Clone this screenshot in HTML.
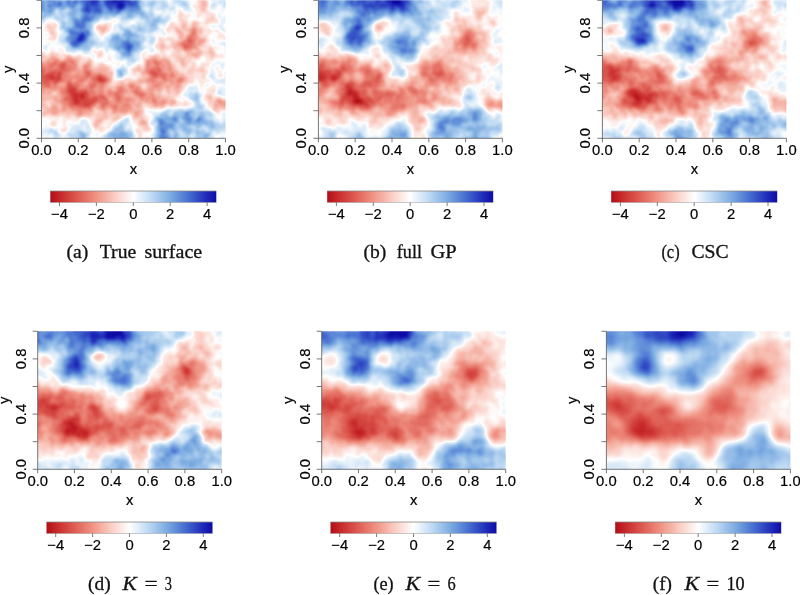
<!DOCTYPE html>
<html><head><meta charset="utf-8"><title>figure</title>
<style>html,body{margin:0;padding:0;background:#fff}svg{display:block;filter:blur(.45px)}text{font-family:"Liberation Sans",sans-serif;fill:#000;stroke:#000;stroke-width:.2px}.cap{font-family:"Liberation Serif",serif;fill:#111;stroke:#111;stroke-width:.3px}.h rect{width:4.90px;height:4.90px}</style></head><body>
<svg width="800" height="595" viewBox="0 0 800 595">
<defs>
<linearGradient id="cb" x1="0" x2="1" y1="0" y2="0"><stop offset="0.0000" stop-color="#af0e18"/><stop offset="0.0556" stop-color="#c62628"/><stop offset="0.1667" stop-color="#de5c52"/><stop offset="0.2778" stop-color="#f09485"/><stop offset="0.3889" stop-color="#facdc3"/><stop offset="0.5000" stop-color="#ffffff"/><stop offset="0.6111" stop-color="#bedaf3"/><stop offset="0.7222" stop-color="#7dace2"/><stop offset="0.8333" stop-color="#466ed0"/><stop offset="0.9444" stop-color="#1e28b9"/><stop offset="1.0000" stop-color="#0e0ca5"/></linearGradient>
<clipPath id="cpa"><rect x="41.5" y="0.3" width="184.0" height="138.0"/></clipPath>
<filter id="fla" filterUnits="userSpaceOnUse" x="29.5" y="-11.7" width="208.0" height="162.0" color-interpolation-filters="sRGB"><feGaussianBlur in="SourceGraphic" stdDeviation="2.0" result="b"/><feTurbulence type="fractalNoise" baseFrequency="0.120" numOctaves="2" seed="7" result="t"/><feColorMatrix in="t" type="matrix" values="1 0 0 0 0 1 0 0 0 0 1 0 0 0 0 0 0 0 0 1" result="n0"/><feGaussianBlur in="n0" stdDeviation="0.8" result="n"/><feComposite in="b" in2="n" operator="arithmetic" k1="0" k2="1" k3="0.300" k4="-0.150" result="v"/><feComponentTransfer><feFuncR type="table" tableValues="0.686 0.686 0.686 0.731 0.776 0.800 0.824 0.847 0.871 0.888 0.906 0.924 0.941 0.951 0.961 0.971 0.980 0.985 0.990 0.995 1.000 0.936 0.873 0.809 0.745 0.681 0.618 0.554 0.490 0.436 0.382 0.328 0.275 0.235 0.196 0.157 0.118 0.086 0.055 0.055 0.055"/><feFuncG type="table" tableValues="0.055 0.055 0.055 0.102 0.149 0.202 0.255 0.308 0.361 0.416 0.471 0.525 0.580 0.636 0.692 0.748 0.804 0.853 0.902 0.951 1.000 0.964 0.927 0.891 0.855 0.810 0.765 0.720 0.675 0.614 0.553 0.492 0.431 0.363 0.294 0.225 0.157 0.102 0.047 0.047 0.047"/><feFuncB type="table" tableValues="0.094 0.094 0.094 0.125 0.157 0.198 0.239 0.280 0.322 0.372 0.422 0.472 0.522 0.582 0.643 0.704 0.765 0.824 0.882 0.941 1.000 0.988 0.976 0.965 0.953 0.936 0.920 0.903 0.886 0.869 0.851 0.833 0.816 0.793 0.771 0.748 0.725 0.686 0.647 0.647 0.647"/></feComponentTransfer></filter>
<clipPath id="cpb"><rect x="318.4" y="0.3" width="184.0" height="138.0"/></clipPath>
<filter id="flb" filterUnits="userSpaceOnUse" x="306.4" y="-11.7" width="208.0" height="162.0" color-interpolation-filters="sRGB"><feGaussianBlur in="SourceGraphic" stdDeviation="2.0" result="b"/><feTurbulence type="fractalNoise" baseFrequency="0.110" numOctaves="2" seed="7" result="t"/><feColorMatrix in="t" type="matrix" values="1 0 0 0 0 1 0 0 0 0 1 0 0 0 0 0 0 0 0 1" result="n0"/><feGaussianBlur in="n0" stdDeviation="0.8" result="n"/><feComposite in="b" in2="n" operator="arithmetic" k1="0" k2="1" k3="0.240" k4="-0.120" result="v"/><feComponentTransfer><feFuncR type="table" tableValues="0.686 0.686 0.686 0.731 0.776 0.800 0.824 0.847 0.871 0.888 0.906 0.924 0.941 0.951 0.961 0.971 0.980 0.985 0.990 0.995 1.000 0.936 0.873 0.809 0.745 0.681 0.618 0.554 0.490 0.436 0.382 0.328 0.275 0.235 0.196 0.157 0.118 0.086 0.055 0.055 0.055"/><feFuncG type="table" tableValues="0.055 0.055 0.055 0.102 0.149 0.202 0.255 0.308 0.361 0.416 0.471 0.525 0.580 0.636 0.692 0.748 0.804 0.853 0.902 0.951 1.000 0.964 0.927 0.891 0.855 0.810 0.765 0.720 0.675 0.614 0.553 0.492 0.431 0.363 0.294 0.225 0.157 0.102 0.047 0.047 0.047"/><feFuncB type="table" tableValues="0.094 0.094 0.094 0.125 0.157 0.198 0.239 0.280 0.322 0.372 0.422 0.472 0.522 0.582 0.643 0.704 0.765 0.824 0.882 0.941 1.000 0.988 0.976 0.965 0.953 0.936 0.920 0.903 0.886 0.869 0.851 0.833 0.816 0.793 0.771 0.748 0.725 0.686 0.647 0.647 0.647"/></feComponentTransfer></filter>
<clipPath id="cpc"><rect x="602.4" y="0.3" width="184.0" height="138.0"/></clipPath>
<filter id="flc" filterUnits="userSpaceOnUse" x="590.4" y="-11.7" width="208.0" height="162.0" color-interpolation-filters="sRGB"><feGaussianBlur in="SourceGraphic" stdDeviation="2.0" result="b"/><feTurbulence type="fractalNoise" baseFrequency="0.110" numOctaves="2" seed="7" result="t"/><feColorMatrix in="t" type="matrix" values="1 0 0 0 0 1 0 0 0 0 1 0 0 0 0 0 0 0 0 1" result="n0"/><feGaussianBlur in="n0" stdDeviation="0.8" result="n"/><feComposite in="b" in2="n" operator="arithmetic" k1="0" k2="1" k3="0.240" k4="-0.120" result="v"/><feComponentTransfer><feFuncR type="table" tableValues="0.686 0.686 0.686 0.731 0.776 0.800 0.824 0.847 0.871 0.888 0.906 0.924 0.941 0.951 0.961 0.971 0.980 0.985 0.990 0.995 1.000 0.936 0.873 0.809 0.745 0.681 0.618 0.554 0.490 0.436 0.382 0.328 0.275 0.235 0.196 0.157 0.118 0.086 0.055 0.055 0.055"/><feFuncG type="table" tableValues="0.055 0.055 0.055 0.102 0.149 0.202 0.255 0.308 0.361 0.416 0.471 0.525 0.580 0.636 0.692 0.748 0.804 0.853 0.902 0.951 1.000 0.964 0.927 0.891 0.855 0.810 0.765 0.720 0.675 0.614 0.553 0.492 0.431 0.363 0.294 0.225 0.157 0.102 0.047 0.047 0.047"/><feFuncB type="table" tableValues="0.094 0.094 0.094 0.125 0.157 0.198 0.239 0.280 0.322 0.372 0.422 0.472 0.522 0.582 0.643 0.704 0.765 0.824 0.882 0.941 1.000 0.988 0.976 0.965 0.953 0.936 0.920 0.903 0.886 0.869 0.851 0.833 0.816 0.793 0.771 0.748 0.725 0.686 0.647 0.647 0.647"/></feComponentTransfer></filter>
<clipPath id="cpd"><rect x="37.7" y="331.3" width="184.0" height="138.0"/></clipPath>
<filter id="fld" filterUnits="userSpaceOnUse" x="25.7" y="319.3" width="208.0" height="162.0" color-interpolation-filters="sRGB"><feGaussianBlur in="SourceGraphic" stdDeviation="2.2" result="b"/><feTurbulence type="fractalNoise" baseFrequency="0.100" numOctaves="2" seed="7" result="t"/><feColorMatrix in="t" type="matrix" values="1 0 0 0 0 1 0 0 0 0 1 0 0 0 0 0 0 0 0 1" result="n0"/><feGaussianBlur in="n0" stdDeviation="0.8" result="n"/><feComposite in="b" in2="n" operator="arithmetic" k1="0" k2="1" k3="0.220" k4="-0.110" result="v"/><feComponentTransfer><feFuncR type="table" tableValues="0.686 0.686 0.686 0.731 0.776 0.800 0.824 0.847 0.871 0.888 0.906 0.924 0.941 0.951 0.961 0.971 0.980 0.985 0.990 0.995 1.000 0.936 0.873 0.809 0.745 0.681 0.618 0.554 0.490 0.436 0.382 0.328 0.275 0.235 0.196 0.157 0.118 0.086 0.055 0.055 0.055"/><feFuncG type="table" tableValues="0.055 0.055 0.055 0.102 0.149 0.202 0.255 0.308 0.361 0.416 0.471 0.525 0.580 0.636 0.692 0.748 0.804 0.853 0.902 0.951 1.000 0.964 0.927 0.891 0.855 0.810 0.765 0.720 0.675 0.614 0.553 0.492 0.431 0.363 0.294 0.225 0.157 0.102 0.047 0.047 0.047"/><feFuncB type="table" tableValues="0.094 0.094 0.094 0.125 0.157 0.198 0.239 0.280 0.322 0.372 0.422 0.472 0.522 0.582 0.643 0.704 0.765 0.824 0.882 0.941 1.000 0.988 0.976 0.965 0.953 0.936 0.920 0.903 0.886 0.869 0.851 0.833 0.816 0.793 0.771 0.748 0.725 0.686 0.647 0.647 0.647"/></feComponentTransfer></filter>
<clipPath id="cpe"><rect x="321.7" y="331.3" width="184.0" height="138.0"/></clipPath>
<filter id="fle" filterUnits="userSpaceOnUse" x="309.7" y="319.3" width="208.0" height="162.0" color-interpolation-filters="sRGB"><feGaussianBlur in="SourceGraphic" stdDeviation="2.2" result="b"/><feTurbulence type="fractalNoise" baseFrequency="0.090" numOctaves="2" seed="7" result="t"/><feColorMatrix in="t" type="matrix" values="1 0 0 0 0 1 0 0 0 0 1 0 0 0 0 0 0 0 0 1" result="n0"/><feGaussianBlur in="n0" stdDeviation="0.8" result="n"/><feComposite in="b" in2="n" operator="arithmetic" k1="0" k2="1" k3="0.180" k4="-0.090" result="v"/><feComponentTransfer><feFuncR type="table" tableValues="0.686 0.686 0.686 0.731 0.776 0.800 0.824 0.847 0.871 0.888 0.906 0.924 0.941 0.951 0.961 0.971 0.980 0.985 0.990 0.995 1.000 0.936 0.873 0.809 0.745 0.681 0.618 0.554 0.490 0.436 0.382 0.328 0.275 0.235 0.196 0.157 0.118 0.086 0.055 0.055 0.055"/><feFuncG type="table" tableValues="0.055 0.055 0.055 0.102 0.149 0.202 0.255 0.308 0.361 0.416 0.471 0.525 0.580 0.636 0.692 0.748 0.804 0.853 0.902 0.951 1.000 0.964 0.927 0.891 0.855 0.810 0.765 0.720 0.675 0.614 0.553 0.492 0.431 0.363 0.294 0.225 0.157 0.102 0.047 0.047 0.047"/><feFuncB type="table" tableValues="0.094 0.094 0.094 0.125 0.157 0.198 0.239 0.280 0.322 0.372 0.422 0.472 0.522 0.582 0.643 0.704 0.765 0.824 0.882 0.941 1.000 0.988 0.976 0.965 0.953 0.936 0.920 0.903 0.886 0.869 0.851 0.833 0.816 0.793 0.771 0.748 0.725 0.686 0.647 0.647 0.647"/></feComponentTransfer></filter>
<clipPath id="cpf"><rect x="606.4" y="331.3" width="184.0" height="138.0"/></clipPath>
<filter id="flf" filterUnits="userSpaceOnUse" x="594.4" y="319.3" width="208.0" height="162.0" color-interpolation-filters="sRGB"><feGaussianBlur in="SourceGraphic" stdDeviation="2.4" result="b"/><feTurbulence type="fractalNoise" baseFrequency="0.070" numOctaves="2" seed="7" result="t"/><feColorMatrix in="t" type="matrix" values="1 0 0 0 0 1 0 0 0 0 1 0 0 0 0 0 0 0 0 1" result="n0"/><feGaussianBlur in="n0" stdDeviation="0.8" result="n"/><feComposite in="b" in2="n" operator="arithmetic" k1="0" k2="1" k3="0.120" k4="-0.060" result="v"/><feComponentTransfer><feFuncR type="table" tableValues="0.686 0.686 0.686 0.731 0.776 0.800 0.824 0.847 0.871 0.888 0.906 0.924 0.941 0.951 0.961 0.971 0.980 0.985 0.990 0.995 1.000 0.936 0.873 0.809 0.745 0.681 0.618 0.554 0.490 0.436 0.382 0.328 0.275 0.235 0.196 0.157 0.118 0.086 0.055 0.055 0.055"/><feFuncG type="table" tableValues="0.055 0.055 0.055 0.102 0.149 0.202 0.255 0.308 0.361 0.416 0.471 0.525 0.580 0.636 0.692 0.748 0.804 0.853 0.902 0.951 1.000 0.964 0.927 0.891 0.855 0.810 0.765 0.720 0.675 0.614 0.553 0.492 0.431 0.363 0.294 0.225 0.157 0.102 0.047 0.047 0.047"/><feFuncB type="table" tableValues="0.094 0.094 0.094 0.125 0.157 0.198 0.239 0.280 0.322 0.372 0.422 0.472 0.522 0.582 0.643 0.704 0.765 0.824 0.882 0.941 1.000 0.988 0.976 0.965 0.953 0.936 0.920 0.903 0.886 0.869 0.851 0.833 0.816 0.793 0.771 0.748 0.725 0.686 0.647 0.647 0.647"/></feComponentTransfer></filter>
</defs>
<g id="panel-a">
<g clip-path="url(#cpa)"><g class="h" filter="url(#fla)">
<g transform="translate(0 -8.9)"><rect x="32.3" fill="#c6c6c6"/><rect x="36.9" fill="#c6c6c6"/><rect x="41.5" fill="#c6c6c6"/><rect x="46.1" fill="#c5c5c5"/><rect x="50.7" fill="#c1c1c1"/><rect x="55.3" fill="#bcbcbc"/><rect x="59.9" fill="#b9b9b9"/><rect x="64.5" fill="#b8b8b8"/><rect x="69.1" fill="#bbbbbb"/><rect x="73.7" fill="#c3c3c3"/><rect x="78.3" fill="#cdcdcd"/><rect x="82.9" fill="#d8d8d8"/><rect x="87.5" fill="#dedede"/><rect x="92.1" fill="#dbdbdb"/><rect x="96.7" fill="#d1d1d1"/><rect x="101.3" fill="#d2d2d2"/><rect x="105.9" fill="#e1e1e1"/><rect x="110.5" fill="#f0f0f0"/><rect x="115.1" fill="#f9f9f9"/><rect x="119.7" fill="#f6f6f6"/><rect x="124.3" fill="#e9e9e9"/><rect x="128.9" fill="#d5d5d5"/><rect x="133.5" fill="#bfbfbf"/><rect x="138.1" fill="#ababab"/><rect x="142.7" fill="#9e9e9e"/><rect x="147.3" fill="#979797"/><rect x="151.9" fill="#959595"/><rect x="156.5" fill="#949494"/><rect x="161.1" fill="#949494"/><rect x="165.7" fill="#969696"/><rect x="170.3" fill="#9a9a9a"/><rect x="174.9" fill="#9c9c9c"/><rect x="179.5" fill="#9a9a9a"/><rect x="184.1" fill="#939393"/><rect x="188.7" fill="#878787"/><rect x="193.3" fill="#767676"/><rect x="197.9" fill="#6a6a6a"/><rect x="202.5" fill="#6e6e6e"/><rect x="207.1" fill="#808080"/><rect x="211.7" fill="#8f8f8f"/><rect x="216.3" fill="#959595"/><rect x="220.9" fill="#979797"/><rect x="225.5" fill="#979797"/><rect x="230.1" fill="#979797"/></g>
<g transform="translate(0 -4.3)"><rect x="32.3" fill="#c6c6c6"/><rect x="36.9" fill="#c6c6c6"/><rect x="41.5" fill="#c6c6c6"/><rect x="46.1" fill="#c5c5c5"/><rect x="50.7" fill="#c1c1c1"/><rect x="55.3" fill="#bcbcbc"/><rect x="59.9" fill="#b9b9b9"/><rect x="64.5" fill="#b8b8b8"/><rect x="69.1" fill="#bbbbbb"/><rect x="73.7" fill="#c3c3c3"/><rect x="78.3" fill="#cdcdcd"/><rect x="82.9" fill="#d8d8d8"/><rect x="87.5" fill="#dedede"/><rect x="92.1" fill="#dbdbdb"/><rect x="96.7" fill="#d1d1d1"/><rect x="101.3" fill="#d2d2d2"/><rect x="105.9" fill="#e1e1e1"/><rect x="110.5" fill="#f0f0f0"/><rect x="115.1" fill="#f9f9f9"/><rect x="119.7" fill="#f6f6f6"/><rect x="124.3" fill="#e9e9e9"/><rect x="128.9" fill="#d5d5d5"/><rect x="133.5" fill="#bfbfbf"/><rect x="138.1" fill="#ababab"/><rect x="142.7" fill="#9e9e9e"/><rect x="147.3" fill="#979797"/><rect x="151.9" fill="#959595"/><rect x="156.5" fill="#949494"/><rect x="161.1" fill="#949494"/><rect x="165.7" fill="#969696"/><rect x="170.3" fill="#9a9a9a"/><rect x="174.9" fill="#9c9c9c"/><rect x="179.5" fill="#9a9a9a"/><rect x="184.1" fill="#939393"/><rect x="188.7" fill="#878787"/><rect x="193.3" fill="#767676"/><rect x="197.9" fill="#6a6a6a"/><rect x="202.5" fill="#6e6e6e"/><rect x="207.1" fill="#808080"/><rect x="211.7" fill="#8f8f8f"/><rect x="216.3" fill="#959595"/><rect x="220.9" fill="#979797"/><rect x="225.5" fill="#979797"/><rect x="230.1" fill="#979797"/></g>
<g transform="translate(0 0.3)"><rect x="32.3" fill="#c6c6c6"/><rect x="36.9" fill="#c6c6c6"/><rect x="41.5" fill="#c6c6c6"/><rect x="46.1" fill="#c5c5c5"/><rect x="50.7" fill="#c1c1c1"/><rect x="55.3" fill="#bcbcbc"/><rect x="59.9" fill="#b9b9b9"/><rect x="64.5" fill="#b8b8b8"/><rect x="69.1" fill="#bbbbbb"/><rect x="73.7" fill="#c3c3c3"/><rect x="78.3" fill="#cdcdcd"/><rect x="82.9" fill="#d8d8d8"/><rect x="87.5" fill="#dedede"/><rect x="92.1" fill="#dbdbdb"/><rect x="96.7" fill="#d1d1d1"/><rect x="101.3" fill="#d2d2d2"/><rect x="105.9" fill="#e1e1e1"/><rect x="110.5" fill="#f0f0f0"/><rect x="115.1" fill="#f9f9f9"/><rect x="119.7" fill="#f6f6f6"/><rect x="124.3" fill="#e9e9e9"/><rect x="128.9" fill="#d5d5d5"/><rect x="133.5" fill="#bfbfbf"/><rect x="138.1" fill="#ababab"/><rect x="142.7" fill="#9e9e9e"/><rect x="147.3" fill="#979797"/><rect x="151.9" fill="#959595"/><rect x="156.5" fill="#949494"/><rect x="161.1" fill="#949494"/><rect x="165.7" fill="#969696"/><rect x="170.3" fill="#9a9a9a"/><rect x="174.9" fill="#9c9c9c"/><rect x="179.5" fill="#9a9a9a"/><rect x="184.1" fill="#939393"/><rect x="188.7" fill="#878787"/><rect x="193.3" fill="#767676"/><rect x="197.9" fill="#6a6a6a"/><rect x="202.5" fill="#6e6e6e"/><rect x="207.1" fill="#808080"/><rect x="211.7" fill="#8f8f8f"/><rect x="216.3" fill="#959595"/><rect x="220.9" fill="#979797"/><rect x="225.5" fill="#979797"/><rect x="230.1" fill="#979797"/></g>
<g transform="translate(0 4.9)"><rect x="32.3" fill="#c4c4c4"/><rect x="36.9" fill="#c4c4c4"/><rect x="41.5" fill="#c4c4c4"/><rect x="46.1" fill="#c2c2c2"/><rect x="50.7" fill="#bdbdbd"/><rect x="55.3" fill="#b6b6b6"/><rect x="59.9" fill="#b0b0b0"/><rect x="64.5" fill="#b0b0b0"/><rect x="69.1" fill="#b6b6b6"/><rect x="73.7" fill="#bdbdbd"/><rect x="78.3" fill="#c5c5c5"/><rect x="82.9" fill="#d0d0d0"/><rect x="87.5" fill="#d9d9d9"/><rect x="92.1" fill="#d9d9d9"/><rect x="96.7" fill="#d2d2d2"/><rect x="101.3" fill="#d1d1d1"/><rect x="105.9" fill="#d9d9d9"/><rect x="110.5" fill="#e1e1e1"/><rect x="115.1" fill="#e4e4e4"/><rect x="119.7" fill="#e3e3e3"/><rect x="124.3" fill="#dddddd"/><rect x="128.9" fill="#d0d0d0"/><rect x="133.5" fill="#c0c0c0"/><rect x="138.1" fill="#aeaeae"/><rect x="142.7" fill="#a0a0a0"/><rect x="147.3" fill="#989898"/><rect x="151.9" fill="#969696"/><rect x="156.5" fill="#959595"/><rect x="161.1" fill="#959595"/><rect x="165.7" fill="#969696"/><rect x="170.3" fill="#979797"/><rect x="174.9" fill="#969696"/><rect x="179.5" fill="#919191"/><rect x="184.1" fill="#8d8d8d"/><rect x="188.7" fill="#878787"/><rect x="193.3" fill="#797979"/><rect x="197.9" fill="#6a6a6a"/><rect x="202.5" fill="#6b6b6b"/><rect x="207.1" fill="#7c7c7c"/><rect x="211.7" fill="#8b8b8b"/><rect x="216.3" fill="#909090"/><rect x="220.9" fill="#929292"/><rect x="225.5" fill="#929292"/><rect x="230.1" fill="#929292"/></g>
<g transform="translate(0 9.5)"><rect x="32.3" fill="#bbbbbb"/><rect x="36.9" fill="#bbbbbb"/><rect x="41.5" fill="#bbbbbb"/><rect x="46.1" fill="#b9b9b9"/><rect x="50.7" fill="#b4b4b4"/><rect x="55.3" fill="#aaaaaa"/><rect x="59.9" fill="#a1a1a1"/><rect x="64.5" fill="#a2a2a2"/><rect x="69.1" fill="#adadad"/><rect x="73.7" fill="#b5b5b5"/><rect x="78.3" fill="#bababa"/><rect x="82.9" fill="#c2c2c2"/><rect x="87.5" fill="#cecece"/><rect x="92.1" fill="#d2d2d2"/><rect x="96.7" fill="#cdcdcd"/><rect x="101.3" fill="#c8c8c8"/><rect x="105.9" fill="#c5c5c5"/><rect x="110.5" fill="#c1c1c1"/><rect x="115.1" fill="#bcbcbc"/><rect x="119.7" fill="#bcbcbc"/><rect x="124.3" fill="#c1c1c1"/><rect x="128.9" fill="#c3c3c3"/><rect x="133.5" fill="#bdbdbd"/><rect x="138.1" fill="#b1b1b1"/><rect x="142.7" fill="#a3a3a3"/><rect x="147.3" fill="#9a9a9a"/><rect x="151.9" fill="#989898"/><rect x="156.5" fill="#989898"/><rect x="161.1" fill="#979797"/><rect x="165.7" fill="#949494"/><rect x="170.3" fill="#909090"/><rect x="174.9" fill="#878787"/><rect x="179.5" fill="#7f7f7f"/><rect x="184.1" fill="#808080"/><rect x="188.7" fill="#868686"/><rect x="193.3" fill="#7e7e7e"/><rect x="197.9" fill="#6d6d6d"/><rect x="202.5" fill="#686868"/><rect x="207.1" fill="#757575"/><rect x="211.7" fill="#828282"/><rect x="216.3" fill="#878787"/><rect x="220.9" fill="#898989"/><rect x="225.5" fill="#898989"/><rect x="230.1" fill="#898989"/></g>
<g transform="translate(0 14.1)"><rect x="32.3" fill="#aaaaaa"/><rect x="36.9" fill="#aaaaaa"/><rect x="41.5" fill="#aaaaaa"/><rect x="46.1" fill="#a6a6a6"/><rect x="50.7" fill="#a1a1a1"/><rect x="55.3" fill="#9c9c9c"/><rect x="59.9" fill="#989898"/><rect x="64.5" fill="#9d9d9d"/><rect x="69.1" fill="#aaaaaa"/><rect x="73.7" fill="#b5b5b5"/><rect x="78.3" fill="#bbbbbb"/><rect x="82.9" fill="#bfbfbf"/><rect x="87.5" fill="#c1c1c1"/><rect x="92.1" fill="#bfbfbf"/><rect x="96.7" fill="#b6b6b6"/><rect x="101.3" fill="#afafaf"/><rect x="105.9" fill="#a9a9a9"/><rect x="110.5" fill="#a2a2a2"/><rect x="115.1" fill="#9b9b9b"/><rect x="119.7" fill="#9b9b9b"/><rect x="124.3" fill="#a2a2a2"/><rect x="128.9" fill="#aaaaaa"/><rect x="133.5" fill="#aeaeae"/><rect x="138.1" fill="#acacac"/><rect x="142.7" fill="#a6a6a6"/><rect x="147.3" fill="#a1a1a1"/><rect x="151.9" fill="#9e9e9e"/><rect x="156.5" fill="#9c9c9c"/><rect x="161.1" fill="#979797"/><rect x="165.7" fill="#8f8f8f"/><rect x="170.3" fill="#838383"/><rect x="174.9" fill="#767676"/><rect x="179.5" fill="#6d6d6d"/><rect x="184.1" fill="#737373"/><rect x="188.7" fill="#818181"/><rect x="193.3" fill="#808080"/><rect x="197.9" fill="#717171"/><rect x="202.5" fill="#6b6b6b"/><rect x="207.1" fill="#737373"/><rect x="211.7" fill="#7d7d7d"/><rect x="216.3" fill="#828282"/><rect x="220.9" fill="#848484"/><rect x="225.5" fill="#848484"/><rect x="230.1" fill="#848484"/></g>
<g transform="translate(0 18.7)"><rect x="32.3" fill="#929292"/><rect x="36.9" fill="#929292"/><rect x="41.5" fill="#929292"/><rect x="46.1" fill="#878787"/><rect x="50.7" fill="#848484"/><rect x="55.3" fill="#8c8c8c"/><rect x="59.9" fill="#979797"/><rect x="64.5" fill="#a2a2a2"/><rect x="69.1" fill="#afafaf"/><rect x="73.7" fill="#bebebe"/><rect x="78.3" fill="#c9c9c9"/><rect x="82.9" fill="#c6c6c6"/><rect x="87.5" fill="#b6b6b6"/><rect x="92.1" fill="#a2a2a2"/><rect x="96.7" fill="#8e8e8e"/><rect x="101.3" fill="#838383"/><rect x="105.9" fill="#878787"/><rect x="110.5" fill="#8d8d8d"/><rect x="115.1" fill="#8e8e8e"/><rect x="119.7" fill="#8d8d8d"/><rect x="124.3" fill="#8e8e8e"/><rect x="128.9" fill="#929292"/><rect x="133.5" fill="#989898"/><rect x="138.1" fill="#9f9f9f"/><rect x="142.7" fill="#a6a6a6"/><rect x="147.3" fill="#a8a8a8"/><rect x="151.9" fill="#a5a5a5"/><rect x="156.5" fill="#9f9f9f"/><rect x="161.1" fill="#959595"/><rect x="165.7" fill="#888888"/><rect x="170.3" fill="#777777"/><rect x="174.9" fill="#6a6a6a"/><rect x="179.5" fill="#646464"/><rect x="184.1" fill="#6a6a6a"/><rect x="188.7" fill="#777777"/><rect x="193.3" fill="#7b7b7b"/><rect x="197.9" fill="#767676"/><rect x="202.5" fill="#737373"/><rect x="207.1" fill="#777777"/><rect x="211.7" fill="#7e7e7e"/><rect x="216.3" fill="#838383"/><rect x="220.9" fill="#858585"/><rect x="225.5" fill="#858585"/><rect x="230.1" fill="#858585"/></g>
<g transform="translate(0 23.3)"><rect x="32.3" fill="#7c7c7c"/><rect x="36.9" fill="#7c7c7c"/><rect x="41.5" fill="#7c7c7c"/><rect x="46.1" fill="#6a6a6a"/><rect x="50.7" fill="#696969"/><rect x="55.3" fill="#7d7d7d"/><rect x="59.9" fill="#939393"/><rect x="64.5" fill="#a5a5a5"/><rect x="69.1" fill="#b5b5b5"/><rect x="73.7" fill="#c8c8c8"/><rect x="78.3" fill="#d4d4d4"/><rect x="82.9" fill="#cccccc"/><rect x="87.5" fill="#b1b1b1"/><rect x="92.1" fill="#8f8f8f"/><rect x="96.7" fill="#6d6d6d"/><rect x="101.3" fill="#5d5d5d"/><rect x="105.9" fill="#6c6c6c"/><rect x="110.5" fill="#808080"/><rect x="115.1" fill="#8b8b8b"/><rect x="119.7" fill="#919191"/><rect x="124.3" fill="#939393"/><rect x="128.9" fill="#929292"/><rect x="133.5" fill="#919191"/><rect x="138.1" fill="#979797"/><rect x="142.7" fill="#a1a1a1"/><rect x="147.3" fill="#a7a7a7"/><rect x="151.9" fill="#a3a3a3"/><rect x="156.5" fill="#9b9b9b"/><rect x="161.1" fill="#919191"/><rect x="165.7" fill="#848484"/><rect x="170.3" fill="#767676"/><rect x="174.9" fill="#6a6a6a"/><rect x="179.5" fill="#646464"/><rect x="184.1" fill="#656565"/><rect x="188.7" fill="#6c6c6c"/><rect x="193.3" fill="#717171"/><rect x="197.9" fill="#737373"/><rect x="202.5" fill="#767676"/><rect x="207.1" fill="#7a7a7a"/><rect x="211.7" fill="#7f7f7f"/><rect x="216.3" fill="#848484"/><rect x="220.9" fill="#868686"/><rect x="225.5" fill="#868686"/><rect x="230.1" fill="#868686"/></g>
<g transform="translate(0 27.9)"><rect x="32.3" fill="#787878"/><rect x="36.9" fill="#787878"/><rect x="41.5" fill="#787878"/><rect x="46.1" fill="#666666"/><rect x="50.7" fill="#666666"/><rect x="55.3" fill="#797979"/><rect x="59.9" fill="#8e8e8e"/><rect x="64.5" fill="#a4a4a4"/><rect x="69.1" fill="#bbbbbb"/><rect x="73.7" fill="#d0d0d0"/><rect x="78.3" fill="#d9d9d9"/><rect x="82.9" fill="#cecece"/><rect x="87.5" fill="#b2b2b2"/><rect x="92.1" fill="#909090"/><rect x="96.7" fill="#6d6d6d"/><rect x="101.3" fill="#5d5d5d"/><rect x="105.9" fill="#6b6b6b"/><rect x="110.5" fill="#818181"/><rect x="115.1" fill="#919191"/><rect x="119.7" fill="#a0a0a0"/><rect x="124.3" fill="#aaaaaa"/><rect x="128.9" fill="#a7a7a7"/><rect x="133.5" fill="#9a9a9a"/><rect x="138.1" fill="#969696"/><rect x="142.7" fill="#9b9b9b"/><rect x="147.3" fill="#9d9d9d"/><rect x="151.9" fill="#979797"/><rect x="156.5" fill="#909090"/><rect x="161.1" fill="#8b8b8b"/><rect x="165.7" fill="#858585"/><rect x="170.3" fill="#7c7c7c"/><rect x="174.9" fill="#737373"/><rect x="179.5" fill="#686868"/><rect x="184.1" fill="#616161"/><rect x="188.7" fill="#5e5e5e"/><rect x="193.3" fill="#616161"/><rect x="197.9" fill="#686868"/><rect x="202.5" fill="#717171"/><rect x="207.1" fill="#797979"/><rect x="211.7" fill="#7f7f7f"/><rect x="216.3" fill="#848484"/><rect x="220.9" fill="#868686"/><rect x="225.5" fill="#868686"/><rect x="230.1" fill="#868686"/></g>
<g transform="translate(0 32.5)"><rect x="32.3" fill="#7f7f7f"/><rect x="36.9" fill="#7f7f7f"/><rect x="41.5" fill="#7f7f7f"/><rect x="46.1" fill="#757575"/><rect x="50.7" fill="#757575"/><rect x="55.3" fill="#808080"/><rect x="59.9" fill="#909090"/><rect x="64.5" fill="#a7a7a7"/><rect x="69.1" fill="#c2c2c2"/><rect x="73.7" fill="#d8d8d8"/><rect x="78.3" fill="#dfdfdf"/><rect x="82.9" fill="#d2d2d2"/><rect x="87.5" fill="#b7b7b7"/><rect x="92.1" fill="#9a9a9a"/><rect x="96.7" fill="#828282"/><rect x="101.3" fill="#797979"/><rect x="105.9" fill="#838383"/><rect x="110.5" fill="#929292"/><rect x="115.1" fill="#a1a1a1"/><rect x="119.7" fill="#afafaf"/><rect x="124.3" fill="#bababa"/><rect x="128.9" fill="#b5b5b5"/><rect x="133.5" fill="#a5a5a5"/><rect x="138.1" fill="#9b9b9b"/><rect x="142.7" fill="#9a9a9a"/><rect x="147.3" fill="#969696"/><rect x="151.9" fill="#8c8c8c"/><rect x="156.5" fill="#848484"/><rect x="161.1" fill="#818181"/><rect x="165.7" fill="#808080"/><rect x="170.3" fill="#7c7c7c"/><rect x="174.9" fill="#727272"/><rect x="179.5" fill="#636363"/><rect x="184.1" fill="#535353"/><rect x="188.7" fill="#484848"/><rect x="193.3" fill="#4c4c4c"/><rect x="197.9" fill="#5c5c5c"/><rect x="202.5" fill="#6d6d6d"/><rect x="207.1" fill="#777777"/><rect x="211.7" fill="#7f7f7f"/><rect x="216.3" fill="#838383"/><rect x="220.9" fill="#858585"/><rect x="225.5" fill="#858585"/><rect x="230.1" fill="#858585"/></g>
<g transform="translate(0 37.1)"><rect x="32.3" fill="#858585"/><rect x="36.9" fill="#858585"/><rect x="41.5" fill="#858585"/><rect x="46.1" fill="#818181"/><rect x="50.7" fill="#818181"/><rect x="55.3" fill="#888888"/><rect x="59.9" fill="#979797"/><rect x="64.5" fill="#adadad"/><rect x="69.1" fill="#c7c7c7"/><rect x="73.7" fill="#dcdcdc"/><rect x="78.3" fill="#e2e2e2"/><rect x="82.9" fill="#d4d4d4"/><rect x="87.5" fill="#b9b9b9"/><rect x="92.1" fill="#9e9e9e"/><rect x="96.7" fill="#8e8e8e"/><rect x="101.3" fill="#8d8d8d"/><rect x="105.9" fill="#9a9a9a"/><rect x="110.5" fill="#a8a8a8"/><rect x="115.1" fill="#b3b3b3"/><rect x="119.7" fill="#bbbbbb"/><rect x="124.3" fill="#bebebe"/><rect x="128.9" fill="#b7b7b7"/><rect x="133.5" fill="#aaaaaa"/><rect x="138.1" fill="#a1a1a1"/><rect x="142.7" fill="#9d9d9d"/><rect x="147.3" fill="#959595"/><rect x="151.9" fill="#878787"/><rect x="156.5" fill="#7d7d7d"/><rect x="161.1" fill="#787878"/><rect x="165.7" fill="#767676"/><rect x="170.3" fill="#727272"/><rect x="174.9" fill="#686868"/><rect x="179.5" fill="#575757"/><rect x="184.1" fill="#424242"/><rect x="188.7" fill="#343434"/><rect x="193.3" fill="#3b3b3b"/><rect x="197.9" fill="#555555"/><rect x="202.5" fill="#6b6b6b"/><rect x="207.1" fill="#767676"/><rect x="211.7" fill="#7e7e7e"/><rect x="216.3" fill="#838383"/><rect x="220.9" fill="#868686"/><rect x="225.5" fill="#868686"/><rect x="230.1" fill="#868686"/></g>
<g transform="translate(0 41.7)"><rect x="32.3" fill="#888888"/><rect x="36.9" fill="#888888"/><rect x="41.5" fill="#888888"/><rect x="46.1" fill="#858585"/><rect x="50.7" fill="#848484"/><rect x="55.3" fill="#898989"/><rect x="59.9" fill="#979797"/><rect x="64.5" fill="#ababab"/><rect x="69.1" fill="#c0c0c0"/><rect x="73.7" fill="#cecece"/><rect x="78.3" fill="#cfcfcf"/><rect x="82.9" fill="#c3c3c3"/><rect x="87.5" fill="#adadad"/><rect x="92.1" fill="#969696"/><rect x="96.7" fill="#898989"/><rect x="101.3" fill="#8d8d8d"/><rect x="105.9" fill="#9e9e9e"/><rect x="110.5" fill="#b0b0b0"/><rect x="115.1" fill="#bbbbbb"/><rect x="119.7" fill="#c2c2c2"/><rect x="124.3" fill="#c4c4c4"/><rect x="128.9" fill="#bdbdbd"/><rect x="133.5" fill="#b0b0b0"/><rect x="138.1" fill="#a6a6a6"/><rect x="142.7" fill="#9e9e9e"/><rect x="147.3" fill="#949494"/><rect x="151.9" fill="#868686"/><rect x="156.5" fill="#7a7a7a"/><rect x="161.1" fill="#737373"/><rect x="165.7" fill="#6f6f6f"/><rect x="170.3" fill="#6a6a6a"/><rect x="174.9" fill="#616161"/><rect x="179.5" fill="#525252"/><rect x="184.1" fill="#414141"/><rect x="188.7" fill="#373737"/><rect x="193.3" fill="#3e3e3e"/><rect x="197.9" fill="#565656"/><rect x="202.5" fill="#6a6a6a"/><rect x="207.1" fill="#757575"/><rect x="211.7" fill="#7d7d7d"/><rect x="216.3" fill="#838383"/><rect x="220.9" fill="#858585"/><rect x="225.5" fill="#858585"/><rect x="230.1" fill="#858585"/></g>
<g transform="translate(0 46.3)"><rect x="32.3" fill="#858585"/><rect x="36.9" fill="#858585"/><rect x="41.5" fill="#858585"/><rect x="46.1" fill="#838383"/><rect x="50.7" fill="#808080"/><rect x="55.3" fill="#838383"/><rect x="59.9" fill="#8c8c8c"/><rect x="64.5" fill="#9a9a9a"/><rect x="69.1" fill="#a8a8a8"/><rect x="73.7" fill="#aeaeae"/><rect x="78.3" fill="#aaaaaa"/><rect x="82.9" fill="#a1a1a1"/><rect x="87.5" fill="#969696"/><rect x="92.1" fill="#888888"/><rect x="96.7" fill="#7e7e7e"/><rect x="101.3" fill="#828282"/><rect x="105.9" fill="#939393"/><rect x="110.5" fill="#a6a6a6"/><rect x="115.1" fill="#b4b4b4"/><rect x="119.7" fill="#c2c2c2"/><rect x="124.3" fill="#cbcbcb"/><rect x="128.9" fill="#c6c6c6"/><rect x="133.5" fill="#b4b4b4"/><rect x="138.1" fill="#a3a3a3"/><rect x="142.7" fill="#989898"/><rect x="147.3" fill="#8e8e8e"/><rect x="151.9" fill="#838383"/><rect x="156.5" fill="#797979"/><rect x="161.1" fill="#717171"/><rect x="165.7" fill="#6d6d6d"/><rect x="170.3" fill="#696969"/><rect x="174.9" fill="#636363"/><rect x="179.5" fill="#5a5a5a"/><rect x="184.1" fill="#525252"/><rect x="188.7" fill="#4e4e4e"/><rect x="193.3" fill="#545454"/><rect x="197.9" fill="#5f5f5f"/><rect x="202.5" fill="#6b6b6b"/><rect x="207.1" fill="#747474"/><rect x="211.7" fill="#7c7c7c"/><rect x="216.3" fill="#828282"/><rect x="220.9" fill="#848484"/><rect x="225.5" fill="#848484"/><rect x="230.1" fill="#848484"/></g>
<g transform="translate(0 50.9)"><rect x="32.3" fill="#777777"/><rect x="36.9" fill="#777777"/><rect x="41.5" fill="#777777"/><rect x="46.1" fill="#767676"/><rect x="50.7" fill="#767676"/><rect x="55.3" fill="#757575"/><rect x="59.9" fill="#777777"/><rect x="64.5" fill="#7d7d7d"/><rect x="69.1" fill="#848484"/><rect x="73.7" fill="#888888"/><rect x="78.3" fill="#888888"/><rect x="82.9" fill="#878787"/><rect x="87.5" fill="#858585"/><rect x="92.1" fill="#7f7f7f"/><rect x="96.7" fill="#797979"/><rect x="101.3" fill="#7b7b7b"/><rect x="105.9" fill="#868686"/><rect x="110.5" fill="#949494"/><rect x="115.1" fill="#a4a4a4"/><rect x="119.7" fill="#b5b5b5"/><rect x="124.3" fill="#c2c2c2"/><rect x="128.9" fill="#bfbfbf"/><rect x="133.5" fill="#acacac"/><rect x="138.1" fill="#989898"/><rect x="142.7" fill="#8a8a8a"/><rect x="147.3" fill="#7f7f7f"/><rect x="151.9" fill="#767676"/><rect x="156.5" fill="#707070"/><rect x="161.1" fill="#6d6d6d"/><rect x="165.7" fill="#6c6c6c"/><rect x="170.3" fill="#6c6c6c"/><rect x="174.9" fill="#696969"/><rect x="179.5" fill="#636363"/><rect x="184.1" fill="#606060"/><rect x="188.7" fill="#626262"/><rect x="193.3" fill="#666666"/><rect x="197.9" fill="#6a6a6a"/><rect x="202.5" fill="#6f6f6f"/><rect x="207.1" fill="#747474"/><rect x="211.7" fill="#7a7a7a"/><rect x="216.3" fill="#7f7f7f"/><rect x="220.9" fill="#818181"/><rect x="225.5" fill="#818181"/><rect x="230.1" fill="#818181"/></g>
<g transform="translate(0 55.5)"><rect x="32.3" fill="#5f5f5f"/><rect x="36.9" fill="#5f5f5f"/><rect x="41.5" fill="#5f5f5f"/><rect x="46.1" fill="#616161"/><rect x="50.7" fill="#656565"/><rect x="55.3" fill="#636363"/><rect x="59.9" fill="#5d5d5d"/><rect x="64.5" fill="#5a5a5a"/><rect x="69.1" fill="#5e5e5e"/><rect x="73.7" fill="#676767"/><rect x="78.3" fill="#727272"/><rect x="82.9" fill="#797979"/><rect x="87.5" fill="#7b7b7b"/><rect x="92.1" fill="#7a7a7a"/><rect x="96.7" fill="#7a7a7a"/><rect x="101.3" fill="#7a7a7a"/><rect x="105.9" fill="#7c7c7c"/><rect x="110.5" fill="#848484"/><rect x="115.1" fill="#919191"/><rect x="119.7" fill="#9f9f9f"/><rect x="124.3" fill="#a8a8a8"/><rect x="128.9" fill="#a6a6a6"/><rect x="133.5" fill="#999999"/><rect x="138.1" fill="#878787"/><rect x="142.7" fill="#757575"/><rect x="147.3" fill="#686868"/><rect x="151.9" fill="#606060"/><rect x="156.5" fill="#5f5f5f"/><rect x="161.1" fill="#646464"/><rect x="165.7" fill="#6a6a6a"/><rect x="170.3" fill="#6e6e6e"/><rect x="174.9" fill="#6d6d6d"/><rect x="179.5" fill="#696969"/><rect x="184.1" fill="#676767"/><rect x="188.7" fill="#696969"/><rect x="193.3" fill="#6e6e6e"/><rect x="197.9" fill="#737373"/><rect x="202.5" fill="#757575"/><rect x="207.1" fill="#757575"/><rect x="211.7" fill="#777777"/><rect x="216.3" fill="#7d7d7d"/><rect x="220.9" fill="#808080"/><rect x="225.5" fill="#808080"/><rect x="230.1" fill="#808080"/></g>
<g transform="translate(0 60.1)"><rect x="32.3" fill="#484848"/><rect x="36.9" fill="#484848"/><rect x="41.5" fill="#484848"/><rect x="46.1" fill="#4c4c4c"/><rect x="50.7" fill="#525252"/><rect x="55.3" fill="#515151"/><rect x="59.9" fill="#494949"/><rect x="64.5" fill="#444444"/><rect x="69.1" fill="#474747"/><rect x="73.7" fill="#515151"/><rect x="78.3" fill="#5f5f5f"/><rect x="82.9" fill="#686868"/><rect x="87.5" fill="#6b6b6b"/><rect x="92.1" fill="#6f6f6f"/><rect x="96.7" fill="#757575"/><rect x="101.3" fill="#767676"/><rect x="105.9" fill="#757575"/><rect x="110.5" fill="#787878"/><rect x="115.1" fill="#828282"/><rect x="119.7" fill="#8b8b8b"/><rect x="124.3" fill="#8f8f8f"/><rect x="128.9" fill="#8e8e8e"/><rect x="133.5" fill="#878787"/><rect x="138.1" fill="#797979"/><rect x="142.7" fill="#656565"/><rect x="147.3" fill="#535353"/><rect x="151.9" fill="#4a4a4a"/><rect x="156.5" fill="#4d4d4d"/><rect x="161.1" fill="#595959"/><rect x="165.7" fill="#646464"/><rect x="170.3" fill="#6a6a6a"/><rect x="174.9" fill="#6b6b6b"/><rect x="179.5" fill="#6a6a6a"/><rect x="184.1" fill="#6b6b6b"/><rect x="188.7" fill="#6e6e6e"/><rect x="193.3" fill="#737373"/><rect x="197.9" fill="#787878"/><rect x="202.5" fill="#787878"/><rect x="207.1" fill="#757575"/><rect x="211.7" fill="#777777"/><rect x="216.3" fill="#7f7f7f"/><rect x="220.9" fill="#838383"/><rect x="225.5" fill="#838383"/><rect x="230.1" fill="#838383"/></g>
<g transform="translate(0 64.7)"><rect x="32.3" fill="#393939"/><rect x="36.9" fill="#393939"/><rect x="41.5" fill="#393939"/><rect x="46.1" fill="#3c3c3c"/><rect x="50.7" fill="#404040"/><rect x="55.3" fill="#414141"/><rect x="59.9" fill="#3e3e3e"/><rect x="64.5" fill="#3e3e3e"/><rect x="69.1" fill="#434343"/><rect x="73.7" fill="#4a4a4a"/><rect x="78.3" fill="#515151"/><rect x="82.9" fill="#545454"/><rect x="87.5" fill="#565656"/><rect x="92.1" fill="#5b5b5b"/><rect x="96.7" fill="#646464"/><rect x="101.3" fill="#6a6a6a"/><rect x="105.9" fill="#6d6d6d"/><rect x="110.5" fill="#747474"/><rect x="115.1" fill="#848484"/><rect x="119.7" fill="#8f8f8f"/><rect x="124.3" fill="#878787"/><rect x="128.9" fill="#808080"/><rect x="133.5" fill="#7d7d7d"/><rect x="138.1" fill="#727272"/><rect x="142.7" fill="#5c5c5c"/><rect x="147.3" fill="#474747"/><rect x="151.9" fill="#3c3c3c"/><rect x="156.5" fill="#404040"/><rect x="161.1" fill="#4e4e4e"/><rect x="165.7" fill="#5a5a5a"/><rect x="170.3" fill="#606060"/><rect x="174.9" fill="#636363"/><rect x="179.5" fill="#686868"/><rect x="184.1" fill="#6d6d6d"/><rect x="188.7" fill="#727272"/><rect x="193.3" fill="#777777"/><rect x="197.9" fill="#7a7a7a"/><rect x="202.5" fill="#797979"/><rect x="207.1" fill="#767676"/><rect x="211.7" fill="#7b7b7b"/><rect x="216.3" fill="#858585"/><rect x="220.9" fill="#8a8a8a"/><rect x="225.5" fill="#8a8a8a"/><rect x="230.1" fill="#8a8a8a"/></g>
<g transform="translate(0 69.3)"><rect x="32.3" fill="#323232"/><rect x="36.9" fill="#323232"/><rect x="41.5" fill="#323232"/><rect x="46.1" fill="#303030"/><rect x="50.7" fill="#2d2d2d"/><rect x="55.3" fill="#313131"/><rect x="59.9" fill="#3a3a3a"/><rect x="64.5" fill="#444444"/><rect x="69.1" fill="#4b4b4b"/><rect x="73.7" fill="#4e4e4e"/><rect x="78.3" fill="#4e4e4e"/><rect x="82.9" fill="#4c4c4c"/><rect x="87.5" fill="#484848"/><rect x="92.1" fill="#464646"/><rect x="96.7" fill="#4a4a4a"/><rect x="101.3" fill="#545454"/><rect x="105.9" fill="#646464"/><rect x="110.5" fill="#777777"/><rect x="115.1" fill="#979797"/><rect x="119.7" fill="#a9a9a9"/><rect x="124.3" fill="#919191"/><rect x="128.9" fill="#7c7c7c"/><rect x="133.5" fill="#797979"/><rect x="138.1" fill="#6f6f6f"/><rect x="142.7" fill="#595959"/><rect x="147.3" fill="#444444"/><rect x="151.9" fill="#383838"/><rect x="156.5" fill="#383838"/><rect x="161.1" fill="#414141"/><rect x="165.7" fill="#4b4b4b"/><rect x="170.3" fill="#535353"/><rect x="174.9" fill="#5a5a5a"/><rect x="179.5" fill="#626262"/><rect x="184.1" fill="#696969"/><rect x="188.7" fill="#707070"/><rect x="193.3" fill="#767676"/><rect x="197.9" fill="#797979"/><rect x="202.5" fill="#7a7a7a"/><rect x="207.1" fill="#7b7b7b"/><rect x="211.7" fill="#808080"/><rect x="216.3" fill="#878787"/><rect x="220.9" fill="#8b8b8b"/><rect x="225.5" fill="#8b8b8b"/><rect x="230.1" fill="#8b8b8b"/></g>
<g transform="translate(0 73.9)"><rect x="32.3" fill="#313131"/><rect x="36.9" fill="#313131"/><rect x="41.5" fill="#313131"/><rect x="46.1" fill="#2a2a2a"/><rect x="50.7" fill="#222222"/><rect x="55.3" fill="#282828"/><rect x="59.9" fill="#3c3c3c"/><rect x="64.5" fill="#4d4d4d"/><rect x="69.1" fill="#535353"/><rect x="73.7" fill="#555555"/><rect x="78.3" fill="#545454"/><rect x="82.9" fill="#4f4f4f"/><rect x="87.5" fill="#454545"/><rect x="92.1" fill="#393939"/><rect x="96.7" fill="#333333"/><rect x="101.3" fill="#3f3f3f"/><rect x="105.9" fill="#5a5a5a"/><rect x="110.5" fill="#777777"/><rect x="115.1" fill="#969696"/><rect x="119.7" fill="#a4a4a4"/><rect x="124.3" fill="#8b8b8b"/><rect x="128.9" fill="#767676"/><rect x="133.5" fill="#747474"/><rect x="138.1" fill="#6d6d6d"/><rect x="142.7" fill="#5b5b5b"/><rect x="147.3" fill="#494949"/><rect x="151.9" fill="#3e3e3e"/><rect x="156.5" fill="#393939"/><rect x="161.1" fill="#3b3b3b"/><rect x="165.7" fill="#414141"/><rect x="170.3" fill="#4b4b4b"/><rect x="174.9" fill="#535353"/><rect x="179.5" fill="#5a5a5a"/><rect x="184.1" fill="#626262"/><rect x="188.7" fill="#6a6a6a"/><rect x="193.3" fill="#717171"/><rect x="197.9" fill="#777777"/><rect x="202.5" fill="#7c7c7c"/><rect x="207.1" fill="#828282"/><rect x="211.7" fill="#868686"/><rect x="216.3" fill="#878787"/><rect x="220.9" fill="#878787"/><rect x="225.5" fill="#878787"/><rect x="230.1" fill="#878787"/></g>
<g transform="translate(0 78.5)"><rect x="32.3" fill="#3a3a3a"/><rect x="36.9" fill="#3a3a3a"/><rect x="41.5" fill="#3a3a3a"/><rect x="46.1" fill="#333333"/><rect x="50.7" fill="#2b2b2b"/><rect x="55.3" fill="#313131"/><rect x="59.9" fill="#434343"/><rect x="64.5" fill="#4f4f4f"/><rect x="69.1" fill="#505050"/><rect x="73.7" fill="#505050"/><rect x="78.3" fill="#525252"/><rect x="82.9" fill="#515151"/><rect x="87.5" fill="#4a4a4a"/><rect x="92.1" fill="#3e3e3e"/><rect x="96.7" fill="#343434"/><rect x="101.3" fill="#3e3e3e"/><rect x="105.9" fill="#575757"/><rect x="110.5" fill="#6d6d6d"/><rect x="115.1" fill="#7a7a7a"/><rect x="119.7" fill="#7c7c7c"/><rect x="124.3" fill="#6e6e6e"/><rect x="128.9" fill="#666666"/><rect x="133.5" fill="#676767"/><rect x="138.1" fill="#656565"/><rect x="142.7" fill="#5c5c5c"/><rect x="147.3" fill="#525252"/><rect x="151.9" fill="#4a4a4a"/><rect x="156.5" fill="#474747"/><rect x="161.1" fill="#494949"/><rect x="165.7" fill="#4b4b4b"/><rect x="170.3" fill="#4e4e4e"/><rect x="174.9" fill="#525252"/><rect x="179.5" fill="#585858"/><rect x="184.1" fill="#626262"/><rect x="188.7" fill="#6c6c6c"/><rect x="193.3" fill="#737373"/><rect x="197.9" fill="#777777"/><rect x="202.5" fill="#7e7e7e"/><rect x="207.1" fill="#868686"/><rect x="211.7" fill="#8b8b8b"/><rect x="216.3" fill="#8c8c8c"/><rect x="220.9" fill="#8b8b8b"/><rect x="225.5" fill="#8b8b8b"/><rect x="230.1" fill="#8b8b8b"/></g>
<g transform="translate(0 83.1)"><rect x="32.3" fill="#474747"/><rect x="36.9" fill="#474747"/><rect x="41.5" fill="#474747"/><rect x="46.1" fill="#474747"/><rect x="50.7" fill="#464646"/><rect x="55.3" fill="#484848"/><rect x="59.9" fill="#4b4b4b"/><rect x="64.5" fill="#484848"/><rect x="69.1" fill="#404040"/><rect x="73.7" fill="#3e3e3e"/><rect x="78.3" fill="#444444"/><rect x="82.9" fill="#4b4b4b"/><rect x="87.5" fill="#4f4f4f"/><rect x="92.1" fill="#4b4b4b"/><rect x="96.7" fill="#474747"/><rect x="101.3" fill="#4c4c4c"/><rect x="105.9" fill="#5a5a5a"/><rect x="110.5" fill="#626262"/><rect x="115.1" fill="#606060"/><rect x="119.7" fill="#5b5b5b"/><rect x="124.3" fill="#565656"/><rect x="128.9" fill="#535353"/><rect x="133.5" fill="#545454"/><rect x="138.1" fill="#575757"/><rect x="142.7" fill="#5a5a5a"/><rect x="147.3" fill="#595959"/><rect x="151.9" fill="#565656"/><rect x="156.5" fill="#5b5b5b"/><rect x="161.1" fill="#646464"/><rect x="165.7" fill="#636363"/><rect x="170.3" fill="#5a5a5a"/><rect x="174.9" fill="#575757"/><rect x="179.5" fill="#5f5f5f"/><rect x="184.1" fill="#6d6d6d"/><rect x="188.7" fill="#7a7a7a"/><rect x="193.3" fill="#7e7e7e"/><rect x="197.9" fill="#7b7b7b"/><rect x="202.5" fill="#7c7c7c"/><rect x="207.1" fill="#848484"/><rect x="211.7" fill="#8d8d8d"/><rect x="216.3" fill="#929292"/><rect x="220.9" fill="#959595"/><rect x="225.5" fill="#959595"/><rect x="230.1" fill="#959595"/></g>
<g transform="translate(0 87.7)"><rect x="32.3" fill="#525252"/><rect x="36.9" fill="#525252"/><rect x="41.5" fill="#525252"/><rect x="46.1" fill="#565656"/><rect x="50.7" fill="#5c5c5c"/><rect x="55.3" fill="#5b5b5b"/><rect x="59.9" fill="#4f4f4f"/><rect x="64.5" fill="#3c3c3c"/><rect x="69.1" fill="#2b2b2b"/><rect x="73.7" fill="#272727"/><rect x="78.3" fill="#313131"/><rect x="82.9" fill="#3e3e3e"/><rect x="87.5" fill="#474747"/><rect x="92.1" fill="#4b4b4b"/><rect x="96.7" fill="#4d4d4d"/><rect x="101.3" fill="#515151"/><rect x="105.9" fill="#565656"/><rect x="110.5" fill="#565656"/><rect x="115.1" fill="#525252"/><rect x="119.7" fill="#4f4f4f"/><rect x="124.3" fill="#4e4e4e"/><rect x="128.9" fill="#4b4b4b"/><rect x="133.5" fill="#494949"/><rect x="138.1" fill="#4c4c4c"/><rect x="142.7" fill="#535353"/><rect x="147.3" fill="#575757"/><rect x="151.9" fill="#595959"/><rect x="156.5" fill="#616161"/><rect x="161.1" fill="#6c6c6c"/><rect x="165.7" fill="#6c6c6c"/><rect x="170.3" fill="#636363"/><rect x="174.9" fill="#626262"/><rect x="179.5" fill="#6f6f6f"/><rect x="184.1" fill="#828282"/><rect x="188.7" fill="#909090"/><rect x="193.3" fill="#8e8e8e"/><rect x="197.9" fill="#7f7f7f"/><rect x="202.5" fill="#767676"/><rect x="207.1" fill="#7a7a7a"/><rect x="211.7" fill="#838383"/><rect x="216.3" fill="#8e8e8e"/><rect x="220.9" fill="#939393"/><rect x="225.5" fill="#939393"/><rect x="230.1" fill="#939393"/></g>
<g transform="translate(0 92.3)"><rect x="32.3" fill="#585858"/><rect x="36.9" fill="#585858"/><rect x="41.5" fill="#585858"/><rect x="46.1" fill="#5d5d5d"/><rect x="50.7" fill="#646464"/><rect x="55.3" fill="#606060"/><rect x="59.9" fill="#4e4e4e"/><rect x="64.5" fill="#333333"/><rect x="69.1" fill="#1c1c1c"/><rect x="73.7" fill="#161616"/><rect x="78.3" fill="#212121"/><rect x="82.9" fill="#2e2e2e"/><rect x="87.5" fill="#353535"/><rect x="92.1" fill="#3c3c3c"/><rect x="96.7" fill="#424242"/><rect x="101.3" fill="#474747"/><rect x="105.9" fill="#4b4b4b"/><rect x="110.5" fill="#4c4c4c"/><rect x="115.1" fill="#4b4b4b"/><rect x="119.7" fill="#4d4d4d"/><rect x="124.3" fill="#515151"/><rect x="128.9" fill="#4f4f4f"/><rect x="133.5" fill="#484848"/><rect x="138.1" fill="#474747"/><rect x="142.7" fill="#4c4c4c"/><rect x="147.3" fill="#515151"/><rect x="151.9" fill="#545454"/><rect x="156.5" fill="#5a5a5a"/><rect x="161.1" fill="#606060"/><rect x="165.7" fill="#636363"/><rect x="170.3" fill="#646464"/><rect x="174.9" fill="#6e6e6e"/><rect x="179.5" fill="#808080"/><rect x="184.1" fill="#959595"/><rect x="188.7" fill="#a2a2a2"/><rect x="193.3" fill="#9c9c9c"/><rect x="197.9" fill="#868686"/><rect x="202.5" fill="#737373"/><rect x="207.1" fill="#6b6b6b"/><rect x="211.7" fill="#707070"/><rect x="216.3" fill="#7c7c7c"/><rect x="220.9" fill="#828282"/><rect x="225.5" fill="#828282"/><rect x="230.1" fill="#828282"/></g>
<g transform="translate(0 96.9)"><rect x="32.3" fill="#5c5c5c"/><rect x="36.9" fill="#5c5c5c"/><rect x="41.5" fill="#5c5c5c"/><rect x="46.1" fill="#5f5f5f"/><rect x="50.7" fill="#626262"/><rect x="55.3" fill="#5d5d5d"/><rect x="59.9" fill="#4d4d4d"/><rect x="64.5" fill="#353535"/><rect x="69.1" fill="#202020"/><rect x="73.7" fill="#181818"/><rect x="78.3" fill="#1e1e1e"/><rect x="82.9" fill="#262626"/><rect x="87.5" fill="#2c2c2c"/><rect x="92.1" fill="#333333"/><rect x="96.7" fill="#3b3b3b"/><rect x="101.3" fill="#434343"/><rect x="105.9" fill="#474747"/><rect x="110.5" fill="#464646"/><rect x="115.1" fill="#424242"/><rect x="119.7" fill="#474747"/><rect x="124.3" fill="#525252"/><rect x="128.9" fill="#565656"/><rect x="133.5" fill="#505050"/><rect x="138.1" fill="#4d4d4d"/><rect x="142.7" fill="#505050"/><rect x="147.3" fill="#535353"/><rect x="151.9" fill="#535353"/><rect x="156.5" fill="#545454"/><rect x="161.1" fill="#575757"/><rect x="165.7" fill="#5c5c5c"/><rect x="170.3" fill="#646464"/><rect x="174.9" fill="#707070"/><rect x="179.5" fill="#808080"/><rect x="184.1" fill="#909090"/><rect x="188.7" fill="#9b9b9b"/><rect x="193.3" fill="#9c9c9c"/><rect x="197.9" fill="#919191"/><rect x="202.5" fill="#7b7b7b"/><rect x="207.1" fill="#636363"/><rect x="211.7" fill="#5d5d5d"/><rect x="216.3" fill="#666666"/><rect x="220.9" fill="#6d6d6d"/><rect x="225.5" fill="#6d6d6d"/><rect x="230.1" fill="#6d6d6d"/></g>
<g transform="translate(0 101.5)"><rect x="32.3" fill="#616161"/><rect x="36.9" fill="#616161"/><rect x="41.5" fill="#616161"/><rect x="46.1" fill="#606060"/><rect x="50.7" fill="#5e5e5e"/><rect x="55.3" fill="#595959"/><rect x="59.9" fill="#4f4f4f"/><rect x="64.5" fill="#434343"/><rect x="69.1" fill="#373737"/><rect x="73.7" fill="#2e2e2e"/><rect x="78.3" fill="#2a2a2a"/><rect x="82.9" fill="#2c2c2c"/><rect x="87.5" fill="#333333"/><rect x="92.1" fill="#3c3c3c"/><rect x="96.7" fill="#444444"/><rect x="101.3" fill="#4a4a4a"/><rect x="105.9" fill="#4d4d4d"/><rect x="110.5" fill="#454545"/><rect x="115.1" fill="#393939"/><rect x="119.7" fill="#3e3e3e"/><rect x="124.3" fill="#515151"/><rect x="128.9" fill="#5c5c5c"/><rect x="133.5" fill="#595959"/><rect x="138.1" fill="#595959"/><rect x="142.7" fill="#5f5f5f"/><rect x="147.3" fill="#606060"/><rect x="151.9" fill="#5c5c5c"/><rect x="156.5" fill="#5b5b5b"/><rect x="161.1" fill="#5f5f5f"/><rect x="165.7" fill="#656565"/><rect x="170.3" fill="#6a6a6a"/><rect x="174.9" fill="#707070"/><rect x="179.5" fill="#767676"/><rect x="184.1" fill="#7d7d7d"/><rect x="188.7" fill="#868686"/><rect x="193.3" fill="#949494"/><rect x="197.9" fill="#9e9e9e"/><rect x="202.5" fill="#8d8d8d"/><rect x="207.1" fill="#676767"/><rect x="211.7" fill="#535353"/><rect x="216.3" fill="#585858"/><rect x="220.9" fill="#5e5e5e"/><rect x="225.5" fill="#5e5e5e"/><rect x="230.1" fill="#5e5e5e"/></g>
<g transform="translate(0 106.1)"><rect x="32.3" fill="#696969"/><rect x="36.9" fill="#696969"/><rect x="41.5" fill="#696969"/><rect x="46.1" fill="#676767"/><rect x="50.7" fill="#616161"/><rect x="55.3" fill="#5b5b5b"/><rect x="59.9" fill="#565656"/><rect x="64.5" fill="#535353"/><rect x="69.1" fill="#515151"/><rect x="73.7" fill="#494949"/><rect x="78.3" fill="#3f3f3f"/><rect x="82.9" fill="#3d3d3d"/><rect x="87.5" fill="#464646"/><rect x="92.1" fill="#4f4f4f"/><rect x="96.7" fill="#545454"/><rect x="101.3" fill="#585858"/><rect x="105.9" fill="#575757"/><rect x="110.5" fill="#4c4c4c"/><rect x="115.1" fill="#3e3e3e"/><rect x="119.7" fill="#434343"/><rect x="124.3" fill="#585858"/><rect x="128.9" fill="#626262"/><rect x="133.5" fill="#5e5e5e"/><rect x="138.1" fill="#606060"/><rect x="142.7" fill="#6c6c6c"/><rect x="147.3" fill="#727272"/><rect x="151.9" fill="#717171"/><rect x="156.5" fill="#737373"/><rect x="161.1" fill="#7a7a7a"/><rect x="165.7" fill="#808080"/><rect x="170.3" fill="#838383"/><rect x="174.9" fill="#848484"/><rect x="179.5" fill="#848484"/><rect x="184.1" fill="#848484"/><rect x="188.7" fill="#8a8a8a"/><rect x="193.3" fill="#9b9b9b"/><rect x="197.9" fill="#aaaaaa"/><rect x="202.5" fill="#9b9b9b"/><rect x="207.1" fill="#737373"/><rect x="211.7" fill="#5c5c5c"/><rect x="216.3" fill="#5e5e5e"/><rect x="220.9" fill="#636363"/><rect x="225.5" fill="#636363"/><rect x="230.1" fill="#636363"/></g>
<g transform="translate(0 110.7)"><rect x="32.3" fill="#737373"/><rect x="36.9" fill="#737373"/><rect x="41.5" fill="#737373"/><rect x="46.1" fill="#707070"/><rect x="50.7" fill="#6b6b6b"/><rect x="55.3" fill="#666666"/><rect x="59.9" fill="#626262"/><rect x="64.5" fill="#636363"/><rect x="69.1" fill="#666666"/><rect x="73.7" fill="#616161"/><rect x="78.3" fill="#585858"/><rect x="82.9" fill="#565656"/><rect x="87.5" fill="#5d5d5d"/><rect x="92.1" fill="#636363"/><rect x="96.7" fill="#656565"/><rect x="101.3" fill="#646464"/><rect x="105.9" fill="#616161"/><rect x="110.5" fill="#5a5a5a"/><rect x="115.1" fill="#535353"/><rect x="119.7" fill="#5a5a5a"/><rect x="124.3" fill="#696969"/><rect x="128.9" fill="#6b6b6b"/><rect x="133.5" fill="#5f5f5f"/><rect x="138.1" fill="#606060"/><rect x="142.7" fill="#707070"/><rect x="147.3" fill="#808080"/><rect x="151.9" fill="#8a8a8a"/><rect x="156.5" fill="#939393"/><rect x="161.1" fill="#9d9d9d"/><rect x="165.7" fill="#a4a4a4"/><rect x="170.3" fill="#a7a7a7"/><rect x="174.9" fill="#a8a8a8"/><rect x="179.5" fill="#a7a7a7"/><rect x="184.1" fill="#a6a6a6"/><rect x="188.7" fill="#a8a8a8"/><rect x="193.3" fill="#aeaeae"/><rect x="197.9" fill="#b2b2b2"/><rect x="202.5" fill="#a3a3a3"/><rect x="207.1" fill="#868686"/><rect x="211.7" fill="#757575"/><rect x="216.3" fill="#777777"/><rect x="220.9" fill="#7b7b7b"/><rect x="225.5" fill="#7b7b7b"/><rect x="230.1" fill="#7b7b7b"/></g>
<g transform="translate(0 115.3)"><rect x="32.3" fill="#767676"/><rect x="36.9" fill="#767676"/><rect x="41.5" fill="#767676"/><rect x="46.1" fill="#757575"/><rect x="50.7" fill="#737373"/><rect x="55.3" fill="#717171"/><rect x="59.9" fill="#6f6f6f"/><rect x="64.5" fill="#717171"/><rect x="69.1" fill="#747474"/><rect x="73.7" fill="#757575"/><rect x="78.3" fill="#737373"/><rect x="82.9" fill="#707070"/><rect x="87.5" fill="#6e6e6e"/><rect x="92.1" fill="#6c6c6c"/><rect x="96.7" fill="#6a6a6a"/><rect x="101.3" fill="#696969"/><rect x="105.9" fill="#696969"/><rect x="110.5" fill="#6a6a6a"/><rect x="115.1" fill="#6f6f6f"/><rect x="119.7" fill="#787878"/><rect x="124.3" fill="#808080"/><rect x="128.9" fill="#777777"/><rect x="133.5" fill="#626262"/><rect x="138.1" fill="#5c5c5c"/><rect x="142.7" fill="#6c6c6c"/><rect x="147.3" fill="#838383"/><rect x="151.9" fill="#999999"/><rect x="156.5" fill="#aaaaaa"/><rect x="161.1" fill="#b6b6b6"/><rect x="165.7" fill="#bcbcbc"/><rect x="170.3" fill="#bcbcbc"/><rect x="174.9" fill="#bcbcbc"/><rect x="179.5" fill="#bcbcbc"/><rect x="184.1" fill="#bbbbbb"/><rect x="188.7" fill="#bababa"/><rect x="193.3" fill="#b9b9b9"/><rect x="197.9" fill="#b6b6b6"/><rect x="202.5" fill="#ababab"/><rect x="207.1" fill="#9a9a9a"/><rect x="211.7" fill="#919191"/><rect x="216.3" fill="#939393"/><rect x="220.9" fill="#969696"/><rect x="225.5" fill="#969696"/><rect x="230.1" fill="#969696"/></g>
<g transform="translate(0 119.9)"><rect x="32.3" fill="#777777"/><rect x="36.9" fill="#777777"/><rect x="41.5" fill="#777777"/><rect x="46.1" fill="#777777"/><rect x="50.7" fill="#797979"/><rect x="55.3" fill="#7b7b7b"/><rect x="59.9" fill="#7b7b7b"/><rect x="64.5" fill="#7b7b7b"/><rect x="69.1" fill="#7d7d7d"/><rect x="73.7" fill="#848484"/><rect x="78.3" fill="#8b8b8b"/><rect x="82.9" fill="#878787"/><rect x="87.5" fill="#797979"/><rect x="92.1" fill="#6d6d6d"/><rect x="96.7" fill="#676767"/><rect x="101.3" fill="#6a6a6a"/><rect x="105.9" fill="#727272"/><rect x="110.5" fill="#7d7d7d"/><rect x="115.1" fill="#898989"/><rect x="119.7" fill="#949494"/><rect x="124.3" fill="#979797"/><rect x="128.9" fill="#868686"/><rect x="133.5" fill="#6a6a6a"/><rect x="138.1" fill="#5c5c5c"/><rect x="142.7" fill="#656565"/><rect x="147.3" fill="#7d7d7d"/><rect x="151.9" fill="#9a9a9a"/><rect x="156.5" fill="#b2b2b2"/><rect x="161.1" fill="#c0c0c0"/><rect x="165.7" fill="#c2c2c2"/><rect x="170.3" fill="#bcbcbc"/><rect x="174.9" fill="#b8b8b8"/><rect x="179.5" fill="#b7b7b7"/><rect x="184.1" fill="#b6b6b6"/><rect x="188.7" fill="#b4b4b4"/><rect x="193.3" fill="#b5b5b5"/><rect x="197.9" fill="#b7b7b7"/><rect x="202.5" fill="#b2b2b2"/><rect x="207.1" fill="#a8a8a8"/><rect x="211.7" fill="#a3a3a3"/><rect x="216.3" fill="#a5a5a5"/><rect x="220.9" fill="#a7a7a7"/><rect x="225.5" fill="#a7a7a7"/><rect x="230.1" fill="#a7a7a7"/></g>
<g transform="translate(0 124.5)"><rect x="32.3" fill="#7f7f7f"/><rect x="36.9" fill="#7f7f7f"/><rect x="41.5" fill="#7f7f7f"/><rect x="46.1" fill="#818181"/><rect x="50.7" fill="#858585"/><rect x="55.3" fill="#868686"/><rect x="59.9" fill="#848484"/><rect x="64.5" fill="#828282"/><rect x="69.1" fill="#858585"/><rect x="73.7" fill="#909090"/><rect x="78.3" fill="#9c9c9c"/><rect x="82.9" fill="#989898"/><rect x="87.5" fill="#858585"/><rect x="92.1" fill="#737373"/><rect x="96.7" fill="#6c6c6c"/><rect x="101.3" fill="#727272"/><rect x="105.9" fill="#818181"/><rect x="110.5" fill="#919191"/><rect x="115.1" fill="#9f9f9f"/><rect x="119.7" fill="#a8a8a8"/><rect x="124.3" fill="#a9a9a9"/><rect x="128.9" fill="#969696"/><rect x="133.5" fill="#767676"/><rect x="138.1" fill="#636363"/><rect x="142.7" fill="#656565"/><rect x="147.3" fill="#7b7b7b"/><rect x="151.9" fill="#999999"/><rect x="156.5" fill="#b3b3b3"/><rect x="161.1" fill="#c0c0c0"/><rect x="165.7" fill="#bfbfbf"/><rect x="170.3" fill="#b6b6b6"/><rect x="174.9" fill="#adadad"/><rect x="179.5" fill="#a8a8a8"/><rect x="184.1" fill="#a8a8a8"/><rect x="188.7" fill="#aaaaaa"/><rect x="193.3" fill="#afafaf"/><rect x="197.9" fill="#b3b3b3"/><rect x="202.5" fill="#b1b1b1"/><rect x="207.1" fill="#aaaaaa"/><rect x="211.7" fill="#a5a5a5"/><rect x="216.3" fill="#a3a3a3"/><rect x="220.9" fill="#a3a3a3"/><rect x="225.5" fill="#a3a3a3"/><rect x="230.1" fill="#a3a3a3"/></g>
<g transform="translate(0 129.1)"><rect x="32.3" fill="#8e8e8e"/><rect x="36.9" fill="#8e8e8e"/><rect x="41.5" fill="#8e8e8e"/><rect x="46.1" fill="#919191"/><rect x="50.7" fill="#969696"/><rect x="55.3" fill="#929292"/><rect x="59.9" fill="#888888"/><rect x="64.5" fill="#848484"/><rect x="69.1" fill="#8c8c8c"/><rect x="73.7" fill="#999999"/><rect x="78.3" fill="#a5a5a5"/><rect x="82.9" fill="#a2a2a2"/><rect x="87.5" fill="#919191"/><rect x="92.1" fill="#808080"/><rect x="96.7" fill="#797979"/><rect x="101.3" fill="#808080"/><rect x="105.9" fill="#939393"/><rect x="110.5" fill="#a4a4a4"/><rect x="115.1" fill="#aeaeae"/><rect x="119.7" fill="#b4b4b4"/><rect x="124.3" fill="#b3b3b3"/><rect x="128.9" fill="#a1a1a1"/><rect x="133.5" fill="#848484"/><rect x="138.1" fill="#6f6f6f"/><rect x="142.7" fill="#6c6c6c"/><rect x="147.3" fill="#7e7e7e"/><rect x="151.9" fill="#9a9a9a"/><rect x="156.5" fill="#b2b2b2"/><rect x="161.1" fill="#bcbcbc"/><rect x="165.7" fill="#bababa"/><rect x="170.3" fill="#b0b0b0"/><rect x="174.9" fill="#a3a3a3"/><rect x="179.5" fill="#9b9b9b"/><rect x="184.1" fill="#9b9b9b"/><rect x="188.7" fill="#a4a4a4"/><rect x="193.3" fill="#ababab"/><rect x="197.9" fill="#acacac"/><rect x="202.5" fill="#a9a9a9"/><rect x="207.1" fill="#a2a2a2"/><rect x="211.7" fill="#9a9a9a"/><rect x="216.3" fill="#929292"/><rect x="220.9" fill="#8e8e8e"/><rect x="225.5" fill="#8e8e8e"/><rect x="230.1" fill="#8e8e8e"/></g>
<g transform="translate(0 133.7)"><rect x="32.3" fill="#969696"/><rect x="36.9" fill="#969696"/><rect x="41.5" fill="#969696"/><rect x="46.1" fill="#9a9a9a"/><rect x="50.7" fill="#9e9e9e"/><rect x="55.3" fill="#979797"/><rect x="59.9" fill="#898989"/><rect x="64.5" fill="#858585"/><rect x="69.1" fill="#8f8f8f"/><rect x="73.7" fill="#9d9d9d"/><rect x="78.3" fill="#a8a8a8"/><rect x="82.9" fill="#a5a5a5"/><rect x="87.5" fill="#979797"/><rect x="92.1" fill="#888888"/><rect x="96.7" fill="#808080"/><rect x="101.3" fill="#888888"/><rect x="105.9" fill="#9c9c9c"/><rect x="110.5" fill="#acacac"/><rect x="115.1" fill="#b4b4b4"/><rect x="119.7" fill="#b9b9b9"/><rect x="124.3" fill="#b7b7b7"/><rect x="128.9" fill="#a6a6a6"/><rect x="133.5" fill="#8a8a8a"/><rect x="138.1" fill="#757575"/><rect x="142.7" fill="#717171"/><rect x="147.3" fill="#808080"/><rect x="151.9" fill="#9b9b9b"/><rect x="156.5" fill="#b1b1b1"/><rect x="161.1" fill="#b9b9b9"/><rect x="165.7" fill="#b7b7b7"/><rect x="170.3" fill="#aeaeae"/><rect x="174.9" fill="#9f9f9f"/><rect x="179.5" fill="#949494"/><rect x="184.1" fill="#969696"/><rect x="188.7" fill="#a2a2a2"/><rect x="193.3" fill="#aaaaaa"/><rect x="197.9" fill="#a9a9a9"/><rect x="202.5" fill="#a4a4a4"/><rect x="207.1" fill="#9d9d9d"/><rect x="211.7" fill="#939393"/><rect x="216.3" fill="#888888"/><rect x="220.9" fill="#828282"/><rect x="225.5" fill="#828282"/><rect x="230.1" fill="#828282"/></g>
<g transform="translate(0 138.3)"><rect x="32.3" fill="#969696"/><rect x="36.9" fill="#969696"/><rect x="41.5" fill="#969696"/><rect x="46.1" fill="#9a9a9a"/><rect x="50.7" fill="#9e9e9e"/><rect x="55.3" fill="#979797"/><rect x="59.9" fill="#898989"/><rect x="64.5" fill="#858585"/><rect x="69.1" fill="#8f8f8f"/><rect x="73.7" fill="#9d9d9d"/><rect x="78.3" fill="#a8a8a8"/><rect x="82.9" fill="#a5a5a5"/><rect x="87.5" fill="#979797"/><rect x="92.1" fill="#888888"/><rect x="96.7" fill="#808080"/><rect x="101.3" fill="#888888"/><rect x="105.9" fill="#9c9c9c"/><rect x="110.5" fill="#acacac"/><rect x="115.1" fill="#b4b4b4"/><rect x="119.7" fill="#b9b9b9"/><rect x="124.3" fill="#b7b7b7"/><rect x="128.9" fill="#a6a6a6"/><rect x="133.5" fill="#8a8a8a"/><rect x="138.1" fill="#757575"/><rect x="142.7" fill="#717171"/><rect x="147.3" fill="#808080"/><rect x="151.9" fill="#9b9b9b"/><rect x="156.5" fill="#b1b1b1"/><rect x="161.1" fill="#b9b9b9"/><rect x="165.7" fill="#b7b7b7"/><rect x="170.3" fill="#aeaeae"/><rect x="174.9" fill="#9f9f9f"/><rect x="179.5" fill="#949494"/><rect x="184.1" fill="#969696"/><rect x="188.7" fill="#a2a2a2"/><rect x="193.3" fill="#aaaaaa"/><rect x="197.9" fill="#a9a9a9"/><rect x="202.5" fill="#a4a4a4"/><rect x="207.1" fill="#9d9d9d"/><rect x="211.7" fill="#939393"/><rect x="216.3" fill="#888888"/><rect x="220.9" fill="#828282"/><rect x="225.5" fill="#828282"/><rect x="230.1" fill="#828282"/></g>
<g transform="translate(0 142.9)"><rect x="32.3" fill="#969696"/><rect x="36.9" fill="#969696"/><rect x="41.5" fill="#969696"/><rect x="46.1" fill="#9a9a9a"/><rect x="50.7" fill="#9e9e9e"/><rect x="55.3" fill="#979797"/><rect x="59.9" fill="#898989"/><rect x="64.5" fill="#858585"/><rect x="69.1" fill="#8f8f8f"/><rect x="73.7" fill="#9d9d9d"/><rect x="78.3" fill="#a8a8a8"/><rect x="82.9" fill="#a5a5a5"/><rect x="87.5" fill="#979797"/><rect x="92.1" fill="#888888"/><rect x="96.7" fill="#808080"/><rect x="101.3" fill="#888888"/><rect x="105.9" fill="#9c9c9c"/><rect x="110.5" fill="#acacac"/><rect x="115.1" fill="#b4b4b4"/><rect x="119.7" fill="#b9b9b9"/><rect x="124.3" fill="#b7b7b7"/><rect x="128.9" fill="#a6a6a6"/><rect x="133.5" fill="#8a8a8a"/><rect x="138.1" fill="#757575"/><rect x="142.7" fill="#717171"/><rect x="147.3" fill="#808080"/><rect x="151.9" fill="#9b9b9b"/><rect x="156.5" fill="#b1b1b1"/><rect x="161.1" fill="#b9b9b9"/><rect x="165.7" fill="#b7b7b7"/><rect x="170.3" fill="#aeaeae"/><rect x="174.9" fill="#9f9f9f"/><rect x="179.5" fill="#949494"/><rect x="184.1" fill="#969696"/><rect x="188.7" fill="#a2a2a2"/><rect x="193.3" fill="#aaaaaa"/><rect x="197.9" fill="#a9a9a9"/><rect x="202.5" fill="#a4a4a4"/><rect x="207.1" fill="#9d9d9d"/><rect x="211.7" fill="#939393"/><rect x="216.3" fill="#888888"/><rect x="220.9" fill="#828282"/><rect x="225.5" fill="#828282"/><rect x="230.1" fill="#828282"/></g>
</g></g>
<path d="M41.5 0.3V138.3H225.5M41.5 138.3v4M41.5 138.3h-5M78.3 138.3v4M41.5 110.7h-5M115.1 138.3v4M41.5 83.1h-5M151.9 138.3v4M41.5 55.5h-5M188.7 138.3v4M41.5 27.9h-5M225.5 138.3v4M41.5 0.3h-5" stroke="#555" stroke-width="0.8" fill="none"/>
<text x="41.5" y="154.6" font-size="14.8" text-anchor="middle">0.0</text><text x="78.3" y="154.6" font-size="14.8" text-anchor="middle">0.2</text><text x="115.1" y="154.6" font-size="14.8" text-anchor="middle">0.4</text><text x="151.9" y="154.6" font-size="14.8" text-anchor="middle">0.6</text><text x="188.7" y="154.6" font-size="14.8" text-anchor="middle">0.8</text><text x="225.5" y="154.6" font-size="14.8" text-anchor="middle">1.0</text><text transform="translate(29.3 138.3) rotate(-90)" font-size="14.8" text-anchor="middle">0.0</text><text transform="translate(29.3 83.1) rotate(-90)" font-size="14.8" text-anchor="middle">0.4</text><text transform="translate(29.3 27.9) rotate(-90)" font-size="14.8" text-anchor="middle">0.8</text><text x="133.5" y="174.3" font-size="14.8" text-anchor="middle">x</text><text transform="translate(12.5 69.3) rotate(-90)" font-size="14.8" text-anchor="middle">y</text>
<rect x="50.3" y="191.0" width="166.0" height="11.5" fill="url(#cb)"/><path d="M50.3 202.5h166.0" stroke="#999" stroke-width="0.5"/><path d="M50.3 191.0h166.0" stroke="#888" stroke-width="0.8"/><text x="59.5" y="218.7" font-size="14.8" text-anchor="middle">−4</text><text x="96.4" y="218.7" font-size="14.8" text-anchor="middle">−2</text><text x="133.3" y="218.7" font-size="14.8" text-anchor="middle">0</text><text x="170.2" y="218.7" font-size="14.8" text-anchor="middle">2</text><text x="207.1" y="218.7" font-size="14.8" text-anchor="middle">4</text><path d="M59.5 202.5v3.5M96.4 202.5v3.5M133.3 202.5v3.5M170.2 202.5v3.5M207.1 202.5v3.5" stroke="#444" stroke-width="0.7" fill="none"/>
<text class="cap" x="66.4" y="258.4" font-size="19" textLength="21.8" lengthAdjust="spacingAndGlyphs">(a)</text><text class="cap" x="99.8" y="258.4" font-size="19" textLength="36.4" lengthAdjust="spacingAndGlyphs">True</text><text class="cap" x="144.4" y="258.4" font-size="19" textLength="57.8" lengthAdjust="spacingAndGlyphs">surface</text>
</g>
<g id="panel-b">
<g clip-path="url(#cpb)"><g class="h" filter="url(#flb)">
<g transform="translate(0 -8.9)"><rect x="309.2" fill="#cacaca"/><rect x="313.8" fill="#cacaca"/><rect x="318.4" fill="#cacaca"/><rect x="323.0" fill="#c8c8c8"/><rect x="327.6" fill="#c4c4c4"/><rect x="332.2" fill="#bfbfbf"/><rect x="336.8" fill="#bcbcbc"/><rect x="341.4" fill="#bcbcbc"/><rect x="346.0" fill="#bfbfbf"/><rect x="350.6" fill="#c7c7c7"/><rect x="355.2" fill="#d1d1d1"/><rect x="359.8" fill="#dbdbdb"/><rect x="364.4" fill="#e2e2e2"/><rect x="369.0" fill="#dfdfdf"/><rect x="373.6" fill="#d7d7d7"/><rect x="378.2" fill="#d9d9d9"/><rect x="382.8" fill="#e7e7e7"/><rect x="387.4" fill="#f5f5f5"/><rect x="392.0" fill="#fdfdfd"/><rect x="396.6" fill="#fbfbfb"/><rect x="401.2" fill="#eeeeee"/><rect x="405.8" fill="#dadada"/><rect x="410.4" fill="#c3c3c3"/><rect x="415.0" fill="#afafaf"/><rect x="419.6" fill="#a2a2a2"/><rect x="424.2" fill="#9b9b9b"/><rect x="428.8" fill="#999999"/><rect x="433.4" fill="#979797"/><rect x="438.0" fill="#979797"/><rect x="442.6" fill="#989898"/><rect x="447.2" fill="#9c9c9c"/><rect x="451.8" fill="#9e9e9e"/><rect x="456.4" fill="#9c9c9c"/><rect x="461.0" fill="#959595"/><rect x="465.6" fill="#888888"/><rect x="470.2" fill="#787878"/><rect x="474.8" fill="#6b6b6b"/><rect x="479.4" fill="#6e6e6e"/><rect x="484.0" fill="#7e7e7e"/><rect x="488.6" fill="#8d8d8d"/><rect x="493.2" fill="#949494"/><rect x="497.8" fill="#969696"/><rect x="502.4" fill="#969696"/><rect x="507.0" fill="#969696"/></g>
<g transform="translate(0 -4.3)"><rect x="309.2" fill="#cacaca"/><rect x="313.8" fill="#cacaca"/><rect x="318.4" fill="#cacaca"/><rect x="323.0" fill="#c8c8c8"/><rect x="327.6" fill="#c4c4c4"/><rect x="332.2" fill="#bfbfbf"/><rect x="336.8" fill="#bcbcbc"/><rect x="341.4" fill="#bcbcbc"/><rect x="346.0" fill="#bfbfbf"/><rect x="350.6" fill="#c7c7c7"/><rect x="355.2" fill="#d1d1d1"/><rect x="359.8" fill="#dbdbdb"/><rect x="364.4" fill="#e2e2e2"/><rect x="369.0" fill="#dfdfdf"/><rect x="373.6" fill="#d7d7d7"/><rect x="378.2" fill="#d9d9d9"/><rect x="382.8" fill="#e7e7e7"/><rect x="387.4" fill="#f5f5f5"/><rect x="392.0" fill="#fdfdfd"/><rect x="396.6" fill="#fbfbfb"/><rect x="401.2" fill="#eeeeee"/><rect x="405.8" fill="#dadada"/><rect x="410.4" fill="#c3c3c3"/><rect x="415.0" fill="#afafaf"/><rect x="419.6" fill="#a2a2a2"/><rect x="424.2" fill="#9b9b9b"/><rect x="428.8" fill="#999999"/><rect x="433.4" fill="#979797"/><rect x="438.0" fill="#979797"/><rect x="442.6" fill="#989898"/><rect x="447.2" fill="#9c9c9c"/><rect x="451.8" fill="#9e9e9e"/><rect x="456.4" fill="#9c9c9c"/><rect x="461.0" fill="#959595"/><rect x="465.6" fill="#888888"/><rect x="470.2" fill="#787878"/><rect x="474.8" fill="#6b6b6b"/><rect x="479.4" fill="#6e6e6e"/><rect x="484.0" fill="#7e7e7e"/><rect x="488.6" fill="#8d8d8d"/><rect x="493.2" fill="#949494"/><rect x="497.8" fill="#969696"/><rect x="502.4" fill="#969696"/><rect x="507.0" fill="#969696"/></g>
<g transform="translate(0 0.3)"><rect x="309.2" fill="#cacaca"/><rect x="313.8" fill="#cacaca"/><rect x="318.4" fill="#cacaca"/><rect x="323.0" fill="#c8c8c8"/><rect x="327.6" fill="#c4c4c4"/><rect x="332.2" fill="#bfbfbf"/><rect x="336.8" fill="#bcbcbc"/><rect x="341.4" fill="#bcbcbc"/><rect x="346.0" fill="#bfbfbf"/><rect x="350.6" fill="#c7c7c7"/><rect x="355.2" fill="#d1d1d1"/><rect x="359.8" fill="#dbdbdb"/><rect x="364.4" fill="#e2e2e2"/><rect x="369.0" fill="#dfdfdf"/><rect x="373.6" fill="#d7d7d7"/><rect x="378.2" fill="#d9d9d9"/><rect x="382.8" fill="#e7e7e7"/><rect x="387.4" fill="#f5f5f5"/><rect x="392.0" fill="#fdfdfd"/><rect x="396.6" fill="#fbfbfb"/><rect x="401.2" fill="#eeeeee"/><rect x="405.8" fill="#dadada"/><rect x="410.4" fill="#c3c3c3"/><rect x="415.0" fill="#afafaf"/><rect x="419.6" fill="#a2a2a2"/><rect x="424.2" fill="#9b9b9b"/><rect x="428.8" fill="#999999"/><rect x="433.4" fill="#979797"/><rect x="438.0" fill="#979797"/><rect x="442.6" fill="#989898"/><rect x="447.2" fill="#9c9c9c"/><rect x="451.8" fill="#9e9e9e"/><rect x="456.4" fill="#9c9c9c"/><rect x="461.0" fill="#959595"/><rect x="465.6" fill="#888888"/><rect x="470.2" fill="#787878"/><rect x="474.8" fill="#6b6b6b"/><rect x="479.4" fill="#6e6e6e"/><rect x="484.0" fill="#7e7e7e"/><rect x="488.6" fill="#8d8d8d"/><rect x="493.2" fill="#949494"/><rect x="497.8" fill="#969696"/><rect x="502.4" fill="#969696"/><rect x="507.0" fill="#969696"/></g>
<g transform="translate(0 4.9)"><rect x="309.2" fill="#c7c7c7"/><rect x="313.8" fill="#c7c7c7"/><rect x="318.4" fill="#c7c7c7"/><rect x="323.0" fill="#c5c5c5"/><rect x="327.6" fill="#c1c1c1"/><rect x="332.2" fill="#bababa"/><rect x="336.8" fill="#b4b4b4"/><rect x="341.4" fill="#b4b4b4"/><rect x="346.0" fill="#bababa"/><rect x="350.6" fill="#c1c1c1"/><rect x="355.2" fill="#c9c9c9"/><rect x="359.8" fill="#d3d3d3"/><rect x="364.4" fill="#dcdcdc"/><rect x="369.0" fill="#dddddd"/><rect x="373.6" fill="#d7d7d7"/><rect x="378.2" fill="#d7d7d7"/><rect x="382.8" fill="#dedede"/><rect x="387.4" fill="#e6e6e6"/><rect x="392.0" fill="#e9e9e9"/><rect x="396.6" fill="#e8e8e8"/><rect x="401.2" fill="#e1e1e1"/><rect x="405.8" fill="#d4d4d4"/><rect x="410.4" fill="#c3c3c3"/><rect x="415.0" fill="#b2b2b2"/><rect x="419.6" fill="#a4a4a4"/><rect x="424.2" fill="#9c9c9c"/><rect x="428.8" fill="#999999"/><rect x="433.4" fill="#999999"/><rect x="438.0" fill="#989898"/><rect x="442.6" fill="#999999"/><rect x="447.2" fill="#999999"/><rect x="451.8" fill="#989898"/><rect x="456.4" fill="#939393"/><rect x="461.0" fill="#8e8e8e"/><rect x="465.6" fill="#878787"/><rect x="470.2" fill="#797979"/><rect x="474.8" fill="#6b6b6b"/><rect x="479.4" fill="#6b6b6b"/><rect x="484.0" fill="#7a7a7a"/><rect x="488.6" fill="#888888"/><rect x="493.2" fill="#8e8e8e"/><rect x="497.8" fill="#909090"/><rect x="502.4" fill="#909090"/><rect x="507.0" fill="#909090"/></g>
<g transform="translate(0 9.5)"><rect x="309.2" fill="#bfbfbf"/><rect x="313.8" fill="#bfbfbf"/><rect x="318.4" fill="#bfbfbf"/><rect x="323.0" fill="#bdbdbd"/><rect x="327.6" fill="#b8b8b8"/><rect x="332.2" fill="#aeaeae"/><rect x="336.8" fill="#a5a5a5"/><rect x="341.4" fill="#a6a6a6"/><rect x="346.0" fill="#b1b1b1"/><rect x="350.6" fill="#b9b9b9"/><rect x="355.2" fill="#bebebe"/><rect x="359.8" fill="#c6c6c6"/><rect x="364.4" fill="#d0d0d0"/><rect x="369.0" fill="#d4d4d4"/><rect x="373.6" fill="#d1d1d1"/><rect x="378.2" fill="#cccccc"/><rect x="382.8" fill="#cacaca"/><rect x="387.4" fill="#c6c6c6"/><rect x="392.0" fill="#c1c1c1"/><rect x="396.6" fill="#c1c1c1"/><rect x="401.2" fill="#c4c4c4"/><rect x="405.8" fill="#c5c5c5"/><rect x="410.4" fill="#c0c0c0"/><rect x="415.0" fill="#b4b4b4"/><rect x="419.6" fill="#a6a6a6"/><rect x="424.2" fill="#9e9e9e"/><rect x="428.8" fill="#9c9c9c"/><rect x="433.4" fill="#9c9c9c"/><rect x="438.0" fill="#9a9a9a"/><rect x="442.6" fill="#989898"/><rect x="447.2" fill="#939393"/><rect x="451.8" fill="#8a8a8a"/><rect x="456.4" fill="#808080"/><rect x="461.0" fill="#7f7f7f"/><rect x="465.6" fill="#838383"/><rect x="470.2" fill="#7c7c7c"/><rect x="474.8" fill="#6b6b6b"/><rect x="479.4" fill="#676767"/><rect x="484.0" fill="#727272"/><rect x="488.6" fill="#7f7f7f"/><rect x="493.2" fill="#858585"/><rect x="497.8" fill="#868686"/><rect x="502.4" fill="#868686"/><rect x="507.0" fill="#868686"/></g>
<g transform="translate(0 14.1)"><rect x="309.2" fill="#adadad"/><rect x="313.8" fill="#adadad"/><rect x="318.4" fill="#adadad"/><rect x="323.0" fill="#a9a9a9"/><rect x="327.6" fill="#a4a4a4"/><rect x="332.2" fill="#a0a0a0"/><rect x="336.8" fill="#9c9c9c"/><rect x="341.4" fill="#a1a1a1"/><rect x="346.0" fill="#adadad"/><rect x="350.6" fill="#b8b8b8"/><rect x="355.2" fill="#bdbdbd"/><rect x="359.8" fill="#c1c1c1"/><rect x="364.4" fill="#c3c3c3"/><rect x="369.0" fill="#c0c0c0"/><rect x="373.6" fill="#b8b8b8"/><rect x="378.2" fill="#b1b1b1"/><rect x="382.8" fill="#acacac"/><rect x="387.4" fill="#a6a6a6"/><rect x="392.0" fill="#a0a0a0"/><rect x="396.6" fill="#a0a0a0"/><rect x="401.2" fill="#a6a6a6"/><rect x="405.8" fill="#adadad"/><rect x="410.4" fill="#b1b1b1"/><rect x="415.0" fill="#afafaf"/><rect x="419.6" fill="#a9a9a9"/><rect x="424.2" fill="#a4a4a4"/><rect x="428.8" fill="#a2a2a2"/><rect x="433.4" fill="#a0a0a0"/><rect x="438.0" fill="#9b9b9b"/><rect x="442.6" fill="#929292"/><rect x="447.2" fill="#868686"/><rect x="451.8" fill="#787878"/><rect x="456.4" fill="#6e6e6e"/><rect x="461.0" fill="#727272"/><rect x="465.6" fill="#7d7d7d"/><rect x="470.2" fill="#7c7c7c"/><rect x="474.8" fill="#6e6e6e"/><rect x="479.4" fill="#696969"/><rect x="484.0" fill="#707070"/><rect x="488.6" fill="#797979"/><rect x="493.2" fill="#7f7f7f"/><rect x="497.8" fill="#818181"/><rect x="502.4" fill="#818181"/><rect x="507.0" fill="#818181"/></g>
<g transform="translate(0 18.7)"><rect x="309.2" fill="#939393"/><rect x="313.8" fill="#939393"/><rect x="318.4" fill="#939393"/><rect x="323.0" fill="#888888"/><rect x="327.6" fill="#858585"/><rect x="332.2" fill="#8e8e8e"/><rect x="336.8" fill="#9a9a9a"/><rect x="341.4" fill="#a5a5a5"/><rect x="346.0" fill="#b2b2b2"/><rect x="350.6" fill="#c0c0c0"/><rect x="355.2" fill="#cacaca"/><rect x="359.8" fill="#c7c7c7"/><rect x="364.4" fill="#b8b8b8"/><rect x="369.0" fill="#a3a3a3"/><rect x="373.6" fill="#8e8e8e"/><rect x="378.2" fill="#848484"/><rect x="382.8" fill="#888888"/><rect x="387.4" fill="#8f8f8f"/><rect x="392.0" fill="#929292"/><rect x="396.6" fill="#929292"/><rect x="401.2" fill="#939393"/><rect x="405.8" fill="#969696"/><rect x="410.4" fill="#9b9b9b"/><rect x="415.0" fill="#a2a2a2"/><rect x="419.6" fill="#a9a9a9"/><rect x="424.2" fill="#ababab"/><rect x="428.8" fill="#a9a9a9"/><rect x="433.4" fill="#a2a2a2"/><rect x="438.0" fill="#989898"/><rect x="442.6" fill="#898989"/><rect x="447.2" fill="#797979"/><rect x="451.8" fill="#6b6b6b"/><rect x="456.4" fill="#646464"/><rect x="461.0" fill="#696969"/><rect x="465.6" fill="#737373"/><rect x="470.2" fill="#777777"/><rect x="474.8" fill="#727272"/><rect x="479.4" fill="#707070"/><rect x="484.0" fill="#747474"/><rect x="488.6" fill="#7a7a7a"/><rect x="493.2" fill="#808080"/><rect x="497.8" fill="#828282"/><rect x="502.4" fill="#828282"/><rect x="507.0" fill="#828282"/></g>
<g transform="translate(0 23.3)"><rect x="309.2" fill="#7c7c7c"/><rect x="313.8" fill="#7c7c7c"/><rect x="318.4" fill="#7c7c7c"/><rect x="323.0" fill="#696969"/><rect x="327.6" fill="#686868"/><rect x="332.2" fill="#7d7d7d"/><rect x="336.8" fill="#959595"/><rect x="341.4" fill="#a8a8a8"/><rect x="346.0" fill="#b9b9b9"/><rect x="350.6" fill="#cbcbcb"/><rect x="355.2" fill="#d6d6d6"/><rect x="359.8" fill="#cdcdcd"/><rect x="364.4" fill="#b2b2b2"/><rect x="369.0" fill="#909090"/><rect x="373.6" fill="#6c6c6c"/><rect x="378.2" fill="#5c5c5c"/><rect x="382.8" fill="#6c6c6c"/><rect x="387.4" fill="#818181"/><rect x="392.0" fill="#8e8e8e"/><rect x="396.6" fill="#949494"/><rect x="401.2" fill="#969696"/><rect x="405.8" fill="#959595"/><rect x="410.4" fill="#949494"/><rect x="415.0" fill="#9a9a9a"/><rect x="419.6" fill="#a5a5a5"/><rect x="424.2" fill="#aaaaaa"/><rect x="428.8" fill="#a6a6a6"/><rect x="433.4" fill="#9d9d9d"/><rect x="438.0" fill="#939393"/><rect x="442.6" fill="#848484"/><rect x="447.2" fill="#757575"/><rect x="451.8" fill="#696969"/><rect x="456.4" fill="#636363"/><rect x="461.0" fill="#646464"/><rect x="465.6" fill="#696969"/><rect x="470.2" fill="#6d6d6d"/><rect x="474.8" fill="#6f6f6f"/><rect x="479.4" fill="#727272"/><rect x="484.0" fill="#767676"/><rect x="488.6" fill="#7c7c7c"/><rect x="493.2" fill="#818181"/><rect x="497.8" fill="#838383"/><rect x="502.4" fill="#838383"/><rect x="507.0" fill="#838383"/></g>
<g transform="translate(0 27.9)"><rect x="309.2" fill="#777777"/><rect x="313.8" fill="#777777"/><rect x="318.4" fill="#777777"/><rect x="323.0" fill="#656565"/><rect x="327.6" fill="#646464"/><rect x="332.2" fill="#787878"/><rect x="336.8" fill="#909090"/><rect x="341.4" fill="#a7a7a7"/><rect x="346.0" fill="#c0c0c0"/><rect x="350.6" fill="#d4d4d4"/><rect x="355.2" fill="#dcdcdc"/><rect x="359.8" fill="#d1d1d1"/><rect x="364.4" fill="#b4b4b4"/><rect x="369.0" fill="#919191"/><rect x="373.6" fill="#6d6d6d"/><rect x="378.2" fill="#5c5c5c"/><rect x="382.8" fill="#6b6b6b"/><rect x="387.4" fill="#828282"/><rect x="392.0" fill="#939393"/><rect x="396.6" fill="#a1a1a1"/><rect x="401.2" fill="#ababab"/><rect x="405.8" fill="#a9a9a9"/><rect x="410.4" fill="#9e9e9e"/><rect x="415.0" fill="#9b9b9b"/><rect x="419.6" fill="#a0a0a0"/><rect x="424.2" fill="#a1a1a1"/><rect x="428.8" fill="#9a9a9a"/><rect x="433.4" fill="#929292"/><rect x="438.0" fill="#8a8a8a"/><rect x="442.6" fill="#828282"/><rect x="447.2" fill="#797979"/><rect x="451.8" fill="#6f6f6f"/><rect x="456.4" fill="#656565"/><rect x="461.0" fill="#5e5e5e"/><rect x="465.6" fill="#5b5b5b"/><rect x="470.2" fill="#5e5e5e"/><rect x="474.8" fill="#666666"/><rect x="479.4" fill="#6e6e6e"/><rect x="484.0" fill="#757575"/><rect x="488.6" fill="#7c7c7c"/><rect x="493.2" fill="#818181"/><rect x="497.8" fill="#838383"/><rect x="502.4" fill="#838383"/><rect x="507.0" fill="#838383"/></g>
<g transform="translate(0 32.5)"><rect x="309.2" fill="#7f7f7f"/><rect x="313.8" fill="#7f7f7f"/><rect x="318.4" fill="#7f7f7f"/><rect x="323.0" fill="#757575"/><rect x="327.6" fill="#757575"/><rect x="332.2" fill="#818181"/><rect x="336.8" fill="#939393"/><rect x="341.4" fill="#ababab"/><rect x="346.0" fill="#c7c7c7"/><rect x="350.6" fill="#dcdcdc"/><rect x="355.2" fill="#e3e3e3"/><rect x="359.8" fill="#d6d6d6"/><rect x="364.4" fill="#bababa"/><rect x="369.0" fill="#9c9c9c"/><rect x="373.6" fill="#838383"/><rect x="378.2" fill="#7a7a7a"/><rect x="382.8" fill="#848484"/><rect x="387.4" fill="#949494"/><rect x="392.0" fill="#a2a2a2"/><rect x="396.6" fill="#b0b0b0"/><rect x="401.2" fill="#bababa"/><rect x="405.8" fill="#b6b6b6"/><rect x="410.4" fill="#a8a8a8"/><rect x="415.0" fill="#9f9f9f"/><rect x="419.6" fill="#9e9e9e"/><rect x="424.2" fill="#999999"/><rect x="428.8" fill="#8f8f8f"/><rect x="433.4" fill="#868686"/><rect x="438.0" fill="#808080"/><rect x="442.6" fill="#7c7c7c"/><rect x="447.2" fill="#777777"/><rect x="451.8" fill="#6d6d6d"/><rect x="456.4" fill="#5f5f5f"/><rect x="461.0" fill="#4f4f4f"/><rect x="465.6" fill="#454545"/><rect x="470.2" fill="#494949"/><rect x="474.8" fill="#595959"/><rect x="479.4" fill="#696969"/><rect x="484.0" fill="#737373"/><rect x="488.6" fill="#7b7b7b"/><rect x="493.2" fill="#808080"/><rect x="497.8" fill="#828282"/><rect x="502.4" fill="#828282"/><rect x="507.0" fill="#828282"/></g>
<g transform="translate(0 37.1)"><rect x="309.2" fill="#868686"/><rect x="313.8" fill="#868686"/><rect x="318.4" fill="#868686"/><rect x="323.0" fill="#838383"/><rect x="327.6" fill="#838383"/><rect x="332.2" fill="#8a8a8a"/><rect x="336.8" fill="#999999"/><rect x="341.4" fill="#b0b0b0"/><rect x="346.0" fill="#cacaca"/><rect x="350.6" fill="#dedede"/><rect x="355.2" fill="#e4e4e4"/><rect x="359.8" fill="#d7d7d7"/><rect x="364.4" fill="#bcbcbc"/><rect x="369.0" fill="#a1a1a1"/><rect x="373.6" fill="#919191"/><rect x="378.2" fill="#8f8f8f"/><rect x="382.8" fill="#9c9c9c"/><rect x="387.4" fill="#aaaaaa"/><rect x="392.0" fill="#b5b5b5"/><rect x="396.6" fill="#bcbcbc"/><rect x="401.2" fill="#bfbfbf"/><rect x="405.8" fill="#b8b8b8"/><rect x="410.4" fill="#acacac"/><rect x="415.0" fill="#a4a4a4"/><rect x="419.6" fill="#a0a0a0"/><rect x="424.2" fill="#979797"/><rect x="428.8" fill="#898989"/><rect x="433.4" fill="#7d7d7d"/><rect x="438.0" fill="#767676"/><rect x="442.6" fill="#727272"/><rect x="447.2" fill="#6d6d6d"/><rect x="451.8" fill="#636363"/><rect x="456.4" fill="#525252"/><rect x="461.0" fill="#3e3e3e"/><rect x="465.6" fill="#303030"/><rect x="470.2" fill="#363636"/><rect x="474.8" fill="#4f4f4f"/><rect x="479.4" fill="#656565"/><rect x="484.0" fill="#727272"/><rect x="488.6" fill="#7a7a7a"/><rect x="493.2" fill="#808080"/><rect x="497.8" fill="#838383"/><rect x="502.4" fill="#838383"/><rect x="507.0" fill="#838383"/></g>
<g transform="translate(0 41.7)"><rect x="309.2" fill="#888888"/><rect x="313.8" fill="#888888"/><rect x="318.4" fill="#888888"/><rect x="323.0" fill="#868686"/><rect x="327.6" fill="#868686"/><rect x="332.2" fill="#8b8b8b"/><rect x="336.8" fill="#989898"/><rect x="341.4" fill="#ababab"/><rect x="346.0" fill="#c0c0c0"/><rect x="350.6" fill="#cecece"/><rect x="355.2" fill="#d0d0d0"/><rect x="359.8" fill="#c5c5c5"/><rect x="364.4" fill="#afafaf"/><rect x="369.0" fill="#9a9a9a"/><rect x="373.6" fill="#8d8d8d"/><rect x="378.2" fill="#909090"/><rect x="382.8" fill="#a1a1a1"/><rect x="387.4" fill="#b2b2b2"/><rect x="392.0" fill="#bebebe"/><rect x="396.6" fill="#c5c5c5"/><rect x="401.2" fill="#c6c6c6"/><rect x="405.8" fill="#bfbfbf"/><rect x="410.4" fill="#b2b2b2"/><rect x="415.0" fill="#a7a7a7"/><rect x="419.6" fill="#9f9f9f"/><rect x="424.2" fill="#949494"/><rect x="428.8" fill="#868686"/><rect x="433.4" fill="#797979"/><rect x="438.0" fill="#717171"/><rect x="442.6" fill="#6b6b6b"/><rect x="447.2" fill="#666666"/><rect x="451.8" fill="#5c5c5c"/><rect x="456.4" fill="#4d4d4d"/><rect x="461.0" fill="#3d3d3d"/><rect x="465.6" fill="#323232"/><rect x="470.2" fill="#393939"/><rect x="474.8" fill="#505050"/><rect x="479.4" fill="#656565"/><rect x="484.0" fill="#717171"/><rect x="488.6" fill="#797979"/><rect x="493.2" fill="#808080"/><rect x="497.8" fill="#838383"/><rect x="502.4" fill="#838383"/><rect x="507.0" fill="#838383"/></g>
<g transform="translate(0 46.3)"><rect x="309.2" fill="#838383"/><rect x="313.8" fill="#838383"/><rect x="318.4" fill="#838383"/><rect x="323.0" fill="#818181"/><rect x="327.6" fill="#808080"/><rect x="332.2" fill="#838383"/><rect x="336.8" fill="#8c8c8c"/><rect x="341.4" fill="#999999"/><rect x="346.0" fill="#a7a7a7"/><rect x="350.6" fill="#adadad"/><rect x="355.2" fill="#ababab"/><rect x="359.8" fill="#a3a3a3"/><rect x="364.4" fill="#979797"/><rect x="369.0" fill="#8a8a8a"/><rect x="373.6" fill="#818181"/><rect x="378.2" fill="#858585"/><rect x="382.8" fill="#979797"/><rect x="387.4" fill="#a9a9a9"/><rect x="392.0" fill="#b8b8b8"/><rect x="396.6" fill="#c6c6c6"/><rect x="401.2" fill="#cfcfcf"/><rect x="405.8" fill="#c9c9c9"/><rect x="410.4" fill="#b6b6b6"/><rect x="415.0" fill="#a4a4a4"/><rect x="419.6" fill="#989898"/><rect x="424.2" fill="#8d8d8d"/><rect x="428.8" fill="#818181"/><rect x="433.4" fill="#777777"/><rect x="438.0" fill="#6f6f6f"/><rect x="442.6" fill="#6a6a6a"/><rect x="447.2" fill="#656565"/><rect x="451.8" fill="#5e5e5e"/><rect x="456.4" fill="#555555"/><rect x="461.0" fill="#4c4c4c"/><rect x="465.6" fill="#494949"/><rect x="470.2" fill="#4f4f4f"/><rect x="474.8" fill="#5b5b5b"/><rect x="479.4" fill="#676767"/><rect x="484.0" fill="#707070"/><rect x="488.6" fill="#787878"/><rect x="493.2" fill="#7f7f7f"/><rect x="497.8" fill="#828282"/><rect x="502.4" fill="#828282"/><rect x="507.0" fill="#828282"/></g>
<g transform="translate(0 50.9)"><rect x="309.2" fill="#737373"/><rect x="313.8" fill="#737373"/><rect x="318.4" fill="#737373"/><rect x="323.0" fill="#737373"/><rect x="327.6" fill="#737373"/><rect x="332.2" fill="#747474"/><rect x="336.8" fill="#767676"/><rect x="341.4" fill="#7c7c7c"/><rect x="346.0" fill="#838383"/><rect x="350.6" fill="#888888"/><rect x="355.2" fill="#898989"/><rect x="359.8" fill="#888888"/><rect x="364.4" fill="#858585"/><rect x="369.0" fill="#808080"/><rect x="373.6" fill="#7b7b7b"/><rect x="378.2" fill="#7d7d7d"/><rect x="382.8" fill="#898989"/><rect x="387.4" fill="#989898"/><rect x="392.0" fill="#a7a7a7"/><rect x="396.6" fill="#b8b8b8"/><rect x="401.2" fill="#c5c5c5"/><rect x="405.8" fill="#c1c1c1"/><rect x="410.4" fill="#adadad"/><rect x="415.0" fill="#989898"/><rect x="419.6" fill="#888888"/><rect x="424.2" fill="#7c7c7c"/><rect x="428.8" fill="#737373"/><rect x="433.4" fill="#6c6c6c"/><rect x="438.0" fill="#696969"/><rect x="442.6" fill="#686868"/><rect x="447.2" fill="#686868"/><rect x="451.8" fill="#646464"/><rect x="456.4" fill="#5e5e5e"/><rect x="461.0" fill="#5b5b5b"/><rect x="465.6" fill="#5e5e5e"/><rect x="470.2" fill="#626262"/><rect x="474.8" fill="#676767"/><rect x="479.4" fill="#6c6c6c"/><rect x="484.0" fill="#717171"/><rect x="488.6" fill="#777777"/><rect x="493.2" fill="#7d7d7d"/><rect x="497.8" fill="#7f7f7f"/><rect x="502.4" fill="#7f7f7f"/><rect x="507.0" fill="#7f7f7f"/></g>
<g transform="translate(0 55.5)"><rect x="309.2" fill="#5c5c5c"/><rect x="313.8" fill="#5c5c5c"/><rect x="318.4" fill="#5c5c5c"/><rect x="323.0" fill="#5e5e5e"/><rect x="327.6" fill="#626262"/><rect x="332.2" fill="#616161"/><rect x="336.8" fill="#5c5c5c"/><rect x="341.4" fill="#5a5a5a"/><rect x="346.0" fill="#5e5e5e"/><rect x="350.6" fill="#676767"/><rect x="355.2" fill="#717171"/><rect x="359.8" fill="#787878"/><rect x="364.4" fill="#7a7a7a"/><rect x="369.0" fill="#7a7a7a"/><rect x="373.6" fill="#7a7a7a"/><rect x="378.2" fill="#7b7b7b"/><rect x="382.8" fill="#7e7e7e"/><rect x="387.4" fill="#868686"/><rect x="392.0" fill="#929292"/><rect x="396.6" fill="#9f9f9f"/><rect x="401.2" fill="#a8a8a8"/><rect x="405.8" fill="#a5a5a5"/><rect x="410.4" fill="#979797"/><rect x="415.0" fill="#858585"/><rect x="419.6" fill="#737373"/><rect x="424.2" fill="#656565"/><rect x="428.8" fill="#5c5c5c"/><rect x="433.4" fill="#5a5a5a"/><rect x="438.0" fill="#5e5e5e"/><rect x="442.6" fill="#646464"/><rect x="447.2" fill="#696969"/><rect x="451.8" fill="#696969"/><rect x="456.4" fill="#656565"/><rect x="461.0" fill="#636363"/><rect x="465.6" fill="#666666"/><rect x="470.2" fill="#6b6b6b"/><rect x="474.8" fill="#707070"/><rect x="479.4" fill="#727272"/><rect x="484.0" fill="#737373"/><rect x="488.6" fill="#767676"/><rect x="493.2" fill="#7b7b7b"/><rect x="497.8" fill="#7f7f7f"/><rect x="502.4" fill="#7f7f7f"/><rect x="507.0" fill="#7f7f7f"/></g>
<g transform="translate(0 60.1)"><rect x="309.2" fill="#464646"/><rect x="313.8" fill="#464646"/><rect x="318.4" fill="#464646"/><rect x="323.0" fill="#494949"/><rect x="327.6" fill="#4f4f4f"/><rect x="332.2" fill="#4e4e4e"/><rect x="336.8" fill="#484848"/><rect x="341.4" fill="#444444"/><rect x="346.0" fill="#474747"/><rect x="350.6" fill="#515151"/><rect x="355.2" fill="#5e5e5e"/><rect x="359.8" fill="#666666"/><rect x="364.4" fill="#6a6a6a"/><rect x="369.0" fill="#6e6e6e"/><rect x="373.6" fill="#737373"/><rect x="378.2" fill="#767676"/><rect x="382.8" fill="#757575"/><rect x="387.4" fill="#787878"/><rect x="392.0" fill="#818181"/><rect x="396.6" fill="#8a8a8a"/><rect x="401.2" fill="#8d8d8d"/><rect x="405.8" fill="#8b8b8b"/><rect x="410.4" fill="#858585"/><rect x="415.0" fill="#767676"/><rect x="419.6" fill="#626262"/><rect x="424.2" fill="#505050"/><rect x="428.8" fill="#474747"/><rect x="433.4" fill="#494949"/><rect x="438.0" fill="#535353"/><rect x="442.6" fill="#5e5e5e"/><rect x="447.2" fill="#666666"/><rect x="451.8" fill="#686868"/><rect x="456.4" fill="#676767"/><rect x="461.0" fill="#686868"/><rect x="465.6" fill="#6b6b6b"/><rect x="470.2" fill="#707070"/><rect x="474.8" fill="#757575"/><rect x="479.4" fill="#767676"/><rect x="484.0" fill="#747474"/><rect x="488.6" fill="#777777"/><rect x="493.2" fill="#7e7e7e"/><rect x="497.8" fill="#838383"/><rect x="502.4" fill="#838383"/><rect x="507.0" fill="#838383"/></g>
<g transform="translate(0 64.7)"><rect x="309.2" fill="#363636"/><rect x="313.8" fill="#363636"/><rect x="318.4" fill="#363636"/><rect x="323.0" fill="#393939"/><rect x="327.6" fill="#3c3c3c"/><rect x="332.2" fill="#3d3d3d"/><rect x="336.8" fill="#3c3c3c"/><rect x="341.4" fill="#3c3c3c"/><rect x="346.0" fill="#414141"/><rect x="350.6" fill="#474747"/><rect x="355.2" fill="#4e4e4e"/><rect x="359.8" fill="#515151"/><rect x="364.4" fill="#545454"/><rect x="369.0" fill="#595959"/><rect x="373.6" fill="#626262"/><rect x="378.2" fill="#686868"/><rect x="382.8" fill="#6c6c6c"/><rect x="387.4" fill="#737373"/><rect x="392.0" fill="#838383"/><rect x="396.6" fill="#8e8e8e"/><rect x="401.2" fill="#868686"/><rect x="405.8" fill="#7e7e7e"/><rect x="410.4" fill="#7a7a7a"/><rect x="415.0" fill="#6e6e6e"/><rect x="419.6" fill="#585858"/><rect x="424.2" fill="#434343"/><rect x="428.8" fill="#383838"/><rect x="433.4" fill="#3c3c3c"/><rect x="438.0" fill="#494949"/><rect x="442.6" fill="#555555"/><rect x="447.2" fill="#5c5c5c"/><rect x="451.8" fill="#616161"/><rect x="456.4" fill="#656565"/><rect x="461.0" fill="#6b6b6b"/><rect x="465.6" fill="#707070"/><rect x="470.2" fill="#757575"/><rect x="474.8" fill="#787878"/><rect x="479.4" fill="#777777"/><rect x="484.0" fill="#767676"/><rect x="488.6" fill="#7a7a7a"/><rect x="493.2" fill="#848484"/><rect x="497.8" fill="#898989"/><rect x="502.4" fill="#898989"/><rect x="507.0" fill="#898989"/></g>
<g transform="translate(0 69.3)"><rect x="309.2" fill="#2e2e2e"/><rect x="313.8" fill="#2e2e2e"/><rect x="318.4" fill="#2e2e2e"/><rect x="323.0" fill="#2c2c2c"/><rect x="327.6" fill="#2a2a2a"/><rect x="332.2" fill="#2e2e2e"/><rect x="336.8" fill="#363636"/><rect x="341.4" fill="#3f3f3f"/><rect x="346.0" fill="#464646"/><rect x="350.6" fill="#494949"/><rect x="355.2" fill="#4a4a4a"/><rect x="359.8" fill="#484848"/><rect x="364.4" fill="#454545"/><rect x="369.0" fill="#444444"/><rect x="373.6" fill="#484848"/><rect x="378.2" fill="#525252"/><rect x="382.8" fill="#616161"/><rect x="387.4" fill="#757575"/><rect x="392.0" fill="#969696"/><rect x="396.6" fill="#a9a9a9"/><rect x="401.2" fill="#929292"/><rect x="405.8" fill="#7b7b7b"/><rect x="410.4" fill="#757575"/><rect x="415.0" fill="#6b6b6b"/><rect x="419.6" fill="#555555"/><rect x="424.2" fill="#404040"/><rect x="428.8" fill="#343434"/><rect x="433.4" fill="#353535"/><rect x="438.0" fill="#3e3e3e"/><rect x="442.6" fill="#484848"/><rect x="447.2" fill="#505050"/><rect x="451.8" fill="#585858"/><rect x="456.4" fill="#5f5f5f"/><rect x="461.0" fill="#676767"/><rect x="465.6" fill="#6e6e6e"/><rect x="470.2" fill="#737373"/><rect x="474.8" fill="#777777"/><rect x="479.4" fill="#787878"/><rect x="484.0" fill="#7a7a7a"/><rect x="488.6" fill="#7f7f7f"/><rect x="493.2" fill="#868686"/><rect x="497.8" fill="#8a8a8a"/><rect x="502.4" fill="#8a8a8a"/><rect x="507.0" fill="#8a8a8a"/></g>
<g transform="translate(0 73.9)"><rect x="309.2" fill="#2e2e2e"/><rect x="313.8" fill="#2e2e2e"/><rect x="318.4" fill="#2e2e2e"/><rect x="323.0" fill="#282828"/><rect x="327.6" fill="#202020"/><rect x="332.2" fill="#252525"/><rect x="336.8" fill="#373737"/><rect x="341.4" fill="#464646"/><rect x="346.0" fill="#4c4c4c"/><rect x="350.6" fill="#4f4f4f"/><rect x="355.2" fill="#4f4f4f"/><rect x="359.8" fill="#4b4b4b"/><rect x="364.4" fill="#424242"/><rect x="369.0" fill="#373737"/><rect x="373.6" fill="#313131"/><rect x="378.2" fill="#3d3d3d"/><rect x="382.8" fill="#565656"/><rect x="387.4" fill="#737373"/><rect x="392.0" fill="#949494"/><rect x="396.6" fill="#a5a5a5"/><rect x="401.2" fill="#8c8c8c"/><rect x="405.8" fill="#757575"/><rect x="410.4" fill="#707070"/><rect x="415.0" fill="#686868"/><rect x="419.6" fill="#565656"/><rect x="424.2" fill="#454545"/><rect x="428.8" fill="#3a3a3a"/><rect x="433.4" fill="#363636"/><rect x="438.0" fill="#383838"/><rect x="442.6" fill="#3f3f3f"/><rect x="447.2" fill="#484848"/><rect x="451.8" fill="#515151"/><rect x="456.4" fill="#585858"/><rect x="461.0" fill="#606060"/><rect x="465.6" fill="#696969"/><rect x="470.2" fill="#707070"/><rect x="474.8" fill="#757575"/><rect x="479.4" fill="#7b7b7b"/><rect x="484.0" fill="#818181"/><rect x="488.6" fill="#848484"/><rect x="493.2" fill="#868686"/><rect x="497.8" fill="#868686"/><rect x="502.4" fill="#868686"/><rect x="507.0" fill="#868686"/></g>
<g transform="translate(0 78.5)"><rect x="309.2" fill="#373737"/><rect x="313.8" fill="#373737"/><rect x="318.4" fill="#373737"/><rect x="323.0" fill="#313131"/><rect x="327.6" fill="#292929"/><rect x="332.2" fill="#2e2e2e"/><rect x="336.8" fill="#3d3d3d"/><rect x="341.4" fill="#484848"/><rect x="346.0" fill="#494949"/><rect x="350.6" fill="#4a4a4a"/><rect x="355.2" fill="#4d4d4d"/><rect x="359.8" fill="#4c4c4c"/><rect x="364.4" fill="#454545"/><rect x="369.0" fill="#3a3a3a"/><rect x="373.6" fill="#313131"/><rect x="378.2" fill="#3a3a3a"/><rect x="382.8" fill="#525252"/><rect x="387.4" fill="#686868"/><rect x="392.0" fill="#777777"/><rect x="396.6" fill="#7b7b7b"/><rect x="401.2" fill="#6e6e6e"/><rect x="405.8" fill="#646464"/><rect x="410.4" fill="#636363"/><rect x="415.0" fill="#5f5f5f"/><rect x="419.6" fill="#575757"/><rect x="424.2" fill="#4e4e4e"/><rect x="428.8" fill="#464646"/><rect x="433.4" fill="#444444"/><rect x="438.0" fill="#464646"/><rect x="442.6" fill="#494949"/><rect x="447.2" fill="#4c4c4c"/><rect x="451.8" fill="#505050"/><rect x="456.4" fill="#565656"/><rect x="461.0" fill="#606060"/><rect x="465.6" fill="#6a6a6a"/><rect x="470.2" fill="#717171"/><rect x="474.8" fill="#767676"/><rect x="479.4" fill="#7c7c7c"/><rect x="484.0" fill="#848484"/><rect x="488.6" fill="#898989"/><rect x="493.2" fill="#8a8a8a"/><rect x="497.8" fill="#898989"/><rect x="502.4" fill="#898989"/><rect x="507.0" fill="#898989"/></g>
<g transform="translate(0 83.1)"><rect x="309.2" fill="#444444"/><rect x="313.8" fill="#444444"/><rect x="318.4" fill="#444444"/><rect x="323.0" fill="#444444"/><rect x="327.6" fill="#434343"/><rect x="332.2" fill="#454545"/><rect x="336.8" fill="#464646"/><rect x="341.4" fill="#424242"/><rect x="346.0" fill="#3a3a3a"/><rect x="350.6" fill="#393939"/><rect x="355.2" fill="#3e3e3e"/><rect x="359.8" fill="#464646"/><rect x="364.4" fill="#494949"/><rect x="369.0" fill="#474747"/><rect x="373.6" fill="#424242"/><rect x="378.2" fill="#474747"/><rect x="382.8" fill="#545454"/><rect x="387.4" fill="#5c5c5c"/><rect x="392.0" fill="#5c5c5c"/><rect x="396.6" fill="#595959"/><rect x="401.2" fill="#545454"/><rect x="405.8" fill="#515151"/><rect x="410.4" fill="#505050"/><rect x="415.0" fill="#525252"/><rect x="419.6" fill="#555555"/><rect x="424.2" fill="#545454"/><rect x="428.8" fill="#525252"/><rect x="433.4" fill="#575757"/><rect x="438.0" fill="#5f5f5f"/><rect x="442.6" fill="#5f5f5f"/><rect x="447.2" fill="#575757"/><rect x="451.8" fill="#555555"/><rect x="456.4" fill="#5c5c5c"/><rect x="461.0" fill="#6a6a6a"/><rect x="465.6" fill="#777777"/><rect x="470.2" fill="#7c7c7c"/><rect x="474.8" fill="#7a7a7a"/><rect x="479.4" fill="#7b7b7b"/><rect x="484.0" fill="#838383"/><rect x="488.6" fill="#8b8b8b"/><rect x="493.2" fill="#909090"/><rect x="497.8" fill="#929292"/><rect x="502.4" fill="#929292"/><rect x="507.0" fill="#929292"/></g>
<g transform="translate(0 87.7)"><rect x="309.2" fill="#4f4f4f"/><rect x="313.8" fill="#4f4f4f"/><rect x="318.4" fill="#4f4f4f"/><rect x="323.0" fill="#535353"/><rect x="327.6" fill="#585858"/><rect x="332.2" fill="#565656"/><rect x="336.8" fill="#4a4a4a"/><rect x="341.4" fill="#383838"/><rect x="346.0" fill="#262626"/><rect x="350.6" fill="#222222"/><rect x="355.2" fill="#2c2c2c"/><rect x="359.8" fill="#383838"/><rect x="364.4" fill="#414141"/><rect x="369.0" fill="#464646"/><rect x="373.6" fill="#484848"/><rect x="378.2" fill="#4b4b4b"/><rect x="382.8" fill="#505050"/><rect x="387.4" fill="#515151"/><rect x="392.0" fill="#4e4e4e"/><rect x="396.6" fill="#4b4b4b"/><rect x="401.2" fill="#4a4a4a"/><rect x="405.8" fill="#484848"/><rect x="410.4" fill="#454545"/><rect x="415.0" fill="#474747"/><rect x="419.6" fill="#4e4e4e"/><rect x="424.2" fill="#525252"/><rect x="428.8" fill="#565656"/><rect x="433.4" fill="#5e5e5e"/><rect x="438.0" fill="#686868"/><rect x="442.6" fill="#686868"/><rect x="447.2" fill="#5f5f5f"/><rect x="451.8" fill="#5f5f5f"/><rect x="456.4" fill="#6c6c6c"/><rect x="461.0" fill="#7e7e7e"/><rect x="465.6" fill="#8d8d8d"/><rect x="470.2" fill="#8c8c8c"/><rect x="474.8" fill="#808080"/><rect x="479.4" fill="#777777"/><rect x="484.0" fill="#797979"/><rect x="488.6" fill="#818181"/><rect x="493.2" fill="#8a8a8a"/><rect x="497.8" fill="#8f8f8f"/><rect x="502.4" fill="#8f8f8f"/><rect x="507.0" fill="#8f8f8f"/></g>
<g transform="translate(0 92.3)"><rect x="309.2" fill="#545454"/><rect x="313.8" fill="#545454"/><rect x="318.4" fill="#545454"/><rect x="323.0" fill="#595959"/><rect x="327.6" fill="#5f5f5f"/><rect x="332.2" fill="#5b5b5b"/><rect x="336.8" fill="#484848"/><rect x="341.4" fill="#2f2f2f"/><rect x="346.0" fill="#181818"/><rect x="350.6" fill="#121212"/><rect x="355.2" fill="#1d1d1d"/><rect x="359.8" fill="#292929"/><rect x="364.4" fill="#313131"/><rect x="369.0" fill="#373737"/><rect x="373.6" fill="#3d3d3d"/><rect x="378.2" fill="#424242"/><rect x="382.8" fill="#464646"/><rect x="387.4" fill="#474747"/><rect x="392.0" fill="#474747"/><rect x="396.6" fill="#494949"/><rect x="401.2" fill="#4c4c4c"/><rect x="405.8" fill="#4a4a4a"/><rect x="410.4" fill="#454545"/><rect x="415.0" fill="#434343"/><rect x="419.6" fill="#474747"/><rect x="424.2" fill="#4d4d4d"/><rect x="428.8" fill="#515151"/><rect x="433.4" fill="#575757"/><rect x="438.0" fill="#5d5d5d"/><rect x="442.6" fill="#5f5f5f"/><rect x="447.2" fill="#616161"/><rect x="451.8" fill="#6a6a6a"/><rect x="456.4" fill="#7d7d7d"/><rect x="461.0" fill="#929292"/><rect x="465.6" fill="#a0a0a0"/><rect x="470.2" fill="#9c9c9c"/><rect x="474.8" fill="#888888"/><rect x="479.4" fill="#747474"/><rect x="484.0" fill="#6b6b6b"/><rect x="488.6" fill="#6e6e6e"/><rect x="493.2" fill="#797979"/><rect x="497.8" fill="#7f7f7f"/><rect x="502.4" fill="#7f7f7f"/><rect x="507.0" fill="#7f7f7f"/></g>
<g transform="translate(0 96.9)"><rect x="309.2" fill="#575757"/><rect x="313.8" fill="#575757"/><rect x="318.4" fill="#575757"/><rect x="323.0" fill="#5a5a5a"/><rect x="327.6" fill="#5d5d5d"/><rect x="332.2" fill="#575757"/><rect x="336.8" fill="#474747"/><rect x="341.4" fill="#303030"/><rect x="346.0" fill="#1c1c1c"/><rect x="350.6" fill="#141414"/><rect x="355.2" fill="#1a1a1a"/><rect x="359.8" fill="#222222"/><rect x="364.4" fill="#292929"/><rect x="369.0" fill="#303030"/><rect x="373.6" fill="#373737"/><rect x="378.2" fill="#3e3e3e"/><rect x="382.8" fill="#424242"/><rect x="387.4" fill="#404040"/><rect x="392.0" fill="#3d3d3d"/><rect x="396.6" fill="#434343"/><rect x="401.2" fill="#4e4e4e"/><rect x="405.8" fill="#515151"/><rect x="410.4" fill="#4c4c4c"/><rect x="415.0" fill="#494949"/><rect x="419.6" fill="#4c4c4c"/><rect x="424.2" fill="#4f4f4f"/><rect x="428.8" fill="#505050"/><rect x="433.4" fill="#515151"/><rect x="438.0" fill="#555555"/><rect x="442.6" fill="#595959"/><rect x="447.2" fill="#606060"/><rect x="451.8" fill="#6d6d6d"/><rect x="456.4" fill="#7e7e7e"/><rect x="461.0" fill="#909090"/><rect x="465.6" fill="#9c9c9c"/><rect x="470.2" fill="#9e9e9e"/><rect x="474.8" fill="#939393"/><rect x="479.4" fill="#7c7c7c"/><rect x="484.0" fill="#636363"/><rect x="488.6" fill="#5a5a5a"/><rect x="493.2" fill="#636363"/><rect x="497.8" fill="#6a6a6a"/><rect x="502.4" fill="#6a6a6a"/><rect x="507.0" fill="#6a6a6a"/></g>
<g transform="translate(0 101.5)"><rect x="309.2" fill="#5b5b5b"/><rect x="313.8" fill="#5b5b5b"/><rect x="318.4" fill="#5b5b5b"/><rect x="323.0" fill="#5b5b5b"/><rect x="327.6" fill="#595959"/><rect x="332.2" fill="#545454"/><rect x="336.8" fill="#4a4a4a"/><rect x="341.4" fill="#3e3e3e"/><rect x="346.0" fill="#323232"/><rect x="350.6" fill="#292929"/><rect x="355.2" fill="#252525"/><rect x="359.8" fill="#282828"/><rect x="364.4" fill="#303030"/><rect x="369.0" fill="#383838"/><rect x="373.6" fill="#404040"/><rect x="378.2" fill="#464646"/><rect x="382.8" fill="#474747"/><rect x="387.4" fill="#3f3f3f"/><rect x="392.0" fill="#353535"/><rect x="396.6" fill="#3a3a3a"/><rect x="401.2" fill="#4d4d4d"/><rect x="405.8" fill="#585858"/><rect x="410.4" fill="#565656"/><rect x="415.0" fill="#565656"/><rect x="419.6" fill="#5a5a5a"/><rect x="424.2" fill="#5c5c5c"/><rect x="428.8" fill="#595959"/><rect x="433.4" fill="#585858"/><rect x="438.0" fill="#5d5d5d"/><rect x="442.6" fill="#626262"/><rect x="447.2" fill="#676767"/><rect x="451.8" fill="#6e6e6e"/><rect x="456.4" fill="#787878"/><rect x="461.0" fill="#828282"/><rect x="465.6" fill="#8b8b8b"/><rect x="470.2" fill="#999999"/><rect x="474.8" fill="#a1a1a1"/><rect x="479.4" fill="#8d8d8d"/><rect x="484.0" fill="#656565"/><rect x="488.6" fill="#505050"/><rect x="493.2" fill="#555555"/><rect x="497.8" fill="#5c5c5c"/><rect x="502.4" fill="#5c5c5c"/><rect x="507.0" fill="#5c5c5c"/></g>
<g transform="translate(0 106.1)"><rect x="309.2" fill="#646464"/><rect x="313.8" fill="#646464"/><rect x="318.4" fill="#646464"/><rect x="323.0" fill="#626262"/><rect x="327.6" fill="#5d5d5d"/><rect x="332.2" fill="#585858"/><rect x="336.8" fill="#535353"/><rect x="341.4" fill="#505050"/><rect x="346.0" fill="#4c4c4c"/><rect x="350.6" fill="#454545"/><rect x="355.2" fill="#3c3c3c"/><rect x="359.8" fill="#3b3b3b"/><rect x="364.4" fill="#434343"/><rect x="369.0" fill="#4c4c4c"/><rect x="373.6" fill="#515151"/><rect x="378.2" fill="#545454"/><rect x="382.8" fill="#525252"/><rect x="387.4" fill="#484848"/><rect x="392.0" fill="#3c3c3c"/><rect x="396.6" fill="#414141"/><rect x="401.2" fill="#555555"/><rect x="405.8" fill="#5f5f5f"/><rect x="410.4" fill="#5c5c5c"/><rect x="415.0" fill="#5e5e5e"/><rect x="419.6" fill="#676767"/><rect x="424.2" fill="#6d6d6d"/><rect x="428.8" fill="#6d6d6d"/><rect x="433.4" fill="#707070"/><rect x="438.0" fill="#777777"/><rect x="442.6" fill="#7e7e7e"/><rect x="447.2" fill="#818181"/><rect x="451.8" fill="#848484"/><rect x="456.4" fill="#878787"/><rect x="461.0" fill="#8a8a8a"/><rect x="465.6" fill="#909090"/><rect x="470.2" fill="#9f9f9f"/><rect x="474.8" fill="#adadad"/><rect x="479.4" fill="#9c9c9c"/><rect x="484.0" fill="#737373"/><rect x="488.6" fill="#5b5b5b"/><rect x="493.2" fill="#5d5d5d"/><rect x="497.8" fill="#626262"/><rect x="502.4" fill="#626262"/><rect x="507.0" fill="#626262"/></g>
<g transform="translate(0 110.7)"><rect x="309.2" fill="#6f6f6f"/><rect x="313.8" fill="#6f6f6f"/><rect x="318.4" fill="#6f6f6f"/><rect x="323.0" fill="#6d6d6d"/><rect x="327.6" fill="#696969"/><rect x="332.2" fill="#646464"/><rect x="336.8" fill="#616161"/><rect x="341.4" fill="#616161"/><rect x="346.0" fill="#636363"/><rect x="350.6" fill="#5f5f5f"/><rect x="355.2" fill="#575757"/><rect x="359.8" fill="#565656"/><rect x="364.4" fill="#5c5c5c"/><rect x="369.0" fill="#616161"/><rect x="373.6" fill="#636363"/><rect x="378.2" fill="#626262"/><rect x="382.8" fill="#5f5f5f"/><rect x="387.4" fill="#585858"/><rect x="392.0" fill="#525252"/><rect x="396.6" fill="#595959"/><rect x="401.2" fill="#676767"/><rect x="405.8" fill="#686868"/><rect x="410.4" fill="#5e5e5e"/><rect x="415.0" fill="#5e5e5e"/><rect x="419.6" fill="#6c6c6c"/><rect x="424.2" fill="#7b7b7b"/><rect x="428.8" fill="#868686"/><rect x="433.4" fill="#909090"/><rect x="438.0" fill="#9c9c9c"/><rect x="442.6" fill="#a3a3a3"/><rect x="447.2" fill="#a7a7a7"/><rect x="451.8" fill="#a8a8a8"/><rect x="456.4" fill="#a9a9a9"/><rect x="461.0" fill="#a9a9a9"/><rect x="465.6" fill="#ababab"/><rect x="470.2" fill="#b1b1b1"/><rect x="474.8" fill="#b4b4b4"/><rect x="479.4" fill="#a5a5a5"/><rect x="484.0" fill="#888888"/><rect x="488.6" fill="#767676"/><rect x="493.2" fill="#777777"/><rect x="497.8" fill="#7a7a7a"/><rect x="502.4" fill="#7a7a7a"/><rect x="507.0" fill="#7a7a7a"/></g>
<g transform="translate(0 115.3)"><rect x="309.2" fill="#747474"/><rect x="313.8" fill="#747474"/><rect x="318.4" fill="#747474"/><rect x="323.0" fill="#737373"/><rect x="327.6" fill="#727272"/><rect x="332.2" fill="#707070"/><rect x="336.8" fill="#6f6f6f"/><rect x="341.4" fill="#707070"/><rect x="346.0" fill="#737373"/><rect x="350.6" fill="#747474"/><rect x="355.2" fill="#727272"/><rect x="359.8" fill="#707070"/><rect x="364.4" fill="#6e6e6e"/><rect x="369.0" fill="#6c6c6c"/><rect x="373.6" fill="#6a6a6a"/><rect x="378.2" fill="#696969"/><rect x="382.8" fill="#696969"/><rect x="387.4" fill="#6a6a6a"/><rect x="392.0" fill="#6f6f6f"/><rect x="396.6" fill="#787878"/><rect x="401.2" fill="#7f7f7f"/><rect x="405.8" fill="#767676"/><rect x="410.4" fill="#626262"/><rect x="415.0" fill="#5b5b5b"/><rect x="419.6" fill="#696969"/><rect x="424.2" fill="#7f7f7f"/><rect x="428.8" fill="#959595"/><rect x="433.4" fill="#a8a8a8"/><rect x="438.0" fill="#b6b6b6"/><rect x="442.6" fill="#bdbdbd"/><rect x="447.2" fill="#bdbdbd"/><rect x="451.8" fill="#bdbdbd"/><rect x="456.4" fill="#bdbdbd"/><rect x="461.0" fill="#bcbcbc"/><rect x="465.6" fill="#bbbbbb"/><rect x="470.2" fill="#bababa"/><rect x="474.8" fill="#b8b8b8"/><rect x="479.4" fill="#adadad"/><rect x="484.0" fill="#9c9c9c"/><rect x="488.6" fill="#939393"/><rect x="493.2" fill="#949494"/><rect x="497.8" fill="#969696"/><rect x="502.4" fill="#969696"/><rect x="507.0" fill="#969696"/></g>
<g transform="translate(0 119.9)"><rect x="309.2" fill="#757575"/><rect x="313.8" fill="#757575"/><rect x="318.4" fill="#757575"/><rect x="323.0" fill="#767676"/><rect x="327.6" fill="#787878"/><rect x="332.2" fill="#797979"/><rect x="336.8" fill="#7a7a7a"/><rect x="341.4" fill="#7a7a7a"/><rect x="346.0" fill="#7c7c7c"/><rect x="350.6" fill="#828282"/><rect x="355.2" fill="#898989"/><rect x="359.8" fill="#868686"/><rect x="364.4" fill="#797979"/><rect x="369.0" fill="#6d6d6d"/><rect x="373.6" fill="#686868"/><rect x="378.2" fill="#6a6a6a"/><rect x="382.8" fill="#737373"/><rect x="387.4" fill="#7e7e7e"/><rect x="392.0" fill="#898989"/><rect x="396.6" fill="#949494"/><rect x="401.2" fill="#969696"/><rect x="405.8" fill="#868686"/><rect x="410.4" fill="#6a6a6a"/><rect x="415.0" fill="#5b5b5b"/><rect x="419.6" fill="#646464"/><rect x="424.2" fill="#7b7b7b"/><rect x="428.8" fill="#999999"/><rect x="433.4" fill="#b1b1b1"/><rect x="438.0" fill="#bfbfbf"/><rect x="442.6" fill="#c3c3c3"/><rect x="447.2" fill="#bebebe"/><rect x="451.8" fill="#bababa"/><rect x="456.4" fill="#b9b9b9"/><rect x="461.0" fill="#b8b8b8"/><rect x="465.6" fill="#b6b6b6"/><rect x="470.2" fill="#b7b7b7"/><rect x="474.8" fill="#b8b8b8"/><rect x="479.4" fill="#b4b4b4"/><rect x="484.0" fill="#aaaaaa"/><rect x="488.6" fill="#a5a5a5"/><rect x="493.2" fill="#a6a6a6"/><rect x="497.8" fill="#a8a8a8"/><rect x="502.4" fill="#a8a8a8"/><rect x="507.0" fill="#a8a8a8"/></g>
<g transform="translate(0 124.5)"><rect x="309.2" fill="#7e7e7e"/><rect x="313.8" fill="#7e7e7e"/><rect x="318.4" fill="#7e7e7e"/><rect x="323.0" fill="#808080"/><rect x="327.6" fill="#848484"/><rect x="332.2" fill="#858585"/><rect x="336.8" fill="#838383"/><rect x="341.4" fill="#828282"/><rect x="346.0" fill="#848484"/><rect x="350.6" fill="#8e8e8e"/><rect x="355.2" fill="#999999"/><rect x="359.8" fill="#959595"/><rect x="364.4" fill="#848484"/><rect x="369.0" fill="#737373"/><rect x="373.6" fill="#6d6d6d"/><rect x="378.2" fill="#737373"/><rect x="382.8" fill="#828282"/><rect x="387.4" fill="#939393"/><rect x="392.0" fill="#a0a0a0"/><rect x="396.6" fill="#a9a9a9"/><rect x="401.2" fill="#a9a9a9"/><rect x="405.8" fill="#969696"/><rect x="410.4" fill="#777777"/><rect x="415.0" fill="#636363"/><rect x="419.6" fill="#656565"/><rect x="424.2" fill="#7a7a7a"/><rect x="428.8" fill="#999999"/><rect x="433.4" fill="#b2b2b2"/><rect x="438.0" fill="#bfbfbf"/><rect x="442.6" fill="#c0c0c0"/><rect x="447.2" fill="#b8b8b8"/><rect x="451.8" fill="#b0b0b0"/><rect x="456.4" fill="#acacac"/><rect x="461.0" fill="#ababab"/><rect x="465.6" fill="#adadad"/><rect x="470.2" fill="#b1b1b1"/><rect x="474.8" fill="#b4b4b4"/><rect x="479.4" fill="#b2b2b2"/><rect x="484.0" fill="#acacac"/><rect x="488.6" fill="#a7a7a7"/><rect x="493.2" fill="#a5a5a5"/><rect x="497.8" fill="#a4a4a4"/><rect x="502.4" fill="#a4a4a4"/><rect x="507.0" fill="#a4a4a4"/></g>
<g transform="translate(0 129.1)"><rect x="309.2" fill="#8d8d8d"/><rect x="313.8" fill="#8d8d8d"/><rect x="318.4" fill="#8d8d8d"/><rect x="323.0" fill="#919191"/><rect x="327.6" fill="#959595"/><rect x="332.2" fill="#929292"/><rect x="336.8" fill="#898989"/><rect x="341.4" fill="#868686"/><rect x="346.0" fill="#8c8c8c"/><rect x="350.6" fill="#989898"/><rect x="355.2" fill="#a2a2a2"/><rect x="359.8" fill="#9f9f9f"/><rect x="364.4" fill="#909090"/><rect x="369.0" fill="#808080"/><rect x="373.6" fill="#7a7a7a"/><rect x="378.2" fill="#828282"/><rect x="382.8" fill="#949494"/><rect x="387.4" fill="#a5a5a5"/><rect x="392.0" fill="#afafaf"/><rect x="396.6" fill="#b5b5b5"/><rect x="401.2" fill="#b3b3b3"/><rect x="405.8" fill="#a2a2a2"/><rect x="410.4" fill="#858585"/><rect x="415.0" fill="#707070"/><rect x="419.6" fill="#6d6d6d"/><rect x="424.2" fill="#7e7e7e"/><rect x="428.8" fill="#9a9a9a"/><rect x="433.4" fill="#b1b1b1"/><rect x="438.0" fill="#bcbcbc"/><rect x="442.6" fill="#bbbbbb"/><rect x="447.2" fill="#b3b3b3"/><rect x="451.8" fill="#a8a8a8"/><rect x="456.4" fill="#9f9f9f"/><rect x="461.0" fill="#9f9f9f"/><rect x="465.6" fill="#a7a7a7"/><rect x="470.2" fill="#adadad"/><rect x="474.8" fill="#aeaeae"/><rect x="479.4" fill="#ababab"/><rect x="484.0" fill="#a5a5a5"/><rect x="488.6" fill="#9d9d9d"/><rect x="493.2" fill="#969696"/><rect x="497.8" fill="#929292"/><rect x="502.4" fill="#929292"/><rect x="507.0" fill="#929292"/></g>
<g transform="translate(0 133.7)"><rect x="309.2" fill="#969696"/><rect x="313.8" fill="#969696"/><rect x="318.4" fill="#969696"/><rect x="323.0" fill="#999999"/><rect x="327.6" fill="#9e9e9e"/><rect x="332.2" fill="#989898"/><rect x="336.8" fill="#8c8c8c"/><rect x="341.4" fill="#888888"/><rect x="346.0" fill="#8f8f8f"/><rect x="350.6" fill="#9c9c9c"/><rect x="355.2" fill="#a5a5a5"/><rect x="359.8" fill="#a3a3a3"/><rect x="364.4" fill="#969696"/><rect x="369.0" fill="#888888"/><rect x="373.6" fill="#818181"/><rect x="378.2" fill="#8a8a8a"/><rect x="382.8" fill="#9e9e9e"/><rect x="387.4" fill="#aeaeae"/><rect x="392.0" fill="#b5b5b5"/><rect x="396.6" fill="#b9b9b9"/><rect x="401.2" fill="#b7b7b7"/><rect x="405.8" fill="#a7a7a7"/><rect x="410.4" fill="#8c8c8c"/><rect x="415.0" fill="#777777"/><rect x="419.6" fill="#727272"/><rect x="424.2" fill="#808080"/><rect x="428.8" fill="#9a9a9a"/><rect x="433.4" fill="#b0b0b0"/><rect x="438.0" fill="#bababa"/><rect x="442.6" fill="#b9b9b9"/><rect x="447.2" fill="#b1b1b1"/><rect x="451.8" fill="#a4a4a4"/><rect x="456.4" fill="#999999"/><rect x="461.0" fill="#9a9a9a"/><rect x="465.6" fill="#a5a5a5"/><rect x="470.2" fill="#acacac"/><rect x="474.8" fill="#ababab"/><rect x="479.4" fill="#a6a6a6"/><rect x="484.0" fill="#a0a0a0"/><rect x="488.6" fill="#969696"/><rect x="493.2" fill="#8c8c8c"/><rect x="497.8" fill="#878787"/><rect x="502.4" fill="#878787"/><rect x="507.0" fill="#878787"/></g>
<g transform="translate(0 138.3)"><rect x="309.2" fill="#969696"/><rect x="313.8" fill="#969696"/><rect x="318.4" fill="#969696"/><rect x="323.0" fill="#999999"/><rect x="327.6" fill="#9e9e9e"/><rect x="332.2" fill="#989898"/><rect x="336.8" fill="#8c8c8c"/><rect x="341.4" fill="#888888"/><rect x="346.0" fill="#8f8f8f"/><rect x="350.6" fill="#9c9c9c"/><rect x="355.2" fill="#a5a5a5"/><rect x="359.8" fill="#a3a3a3"/><rect x="364.4" fill="#969696"/><rect x="369.0" fill="#888888"/><rect x="373.6" fill="#818181"/><rect x="378.2" fill="#8a8a8a"/><rect x="382.8" fill="#9e9e9e"/><rect x="387.4" fill="#aeaeae"/><rect x="392.0" fill="#b5b5b5"/><rect x="396.6" fill="#b9b9b9"/><rect x="401.2" fill="#b7b7b7"/><rect x="405.8" fill="#a7a7a7"/><rect x="410.4" fill="#8c8c8c"/><rect x="415.0" fill="#777777"/><rect x="419.6" fill="#727272"/><rect x="424.2" fill="#808080"/><rect x="428.8" fill="#9a9a9a"/><rect x="433.4" fill="#b0b0b0"/><rect x="438.0" fill="#bababa"/><rect x="442.6" fill="#b9b9b9"/><rect x="447.2" fill="#b1b1b1"/><rect x="451.8" fill="#a4a4a4"/><rect x="456.4" fill="#999999"/><rect x="461.0" fill="#9a9a9a"/><rect x="465.6" fill="#a5a5a5"/><rect x="470.2" fill="#acacac"/><rect x="474.8" fill="#ababab"/><rect x="479.4" fill="#a6a6a6"/><rect x="484.0" fill="#a0a0a0"/><rect x="488.6" fill="#969696"/><rect x="493.2" fill="#8c8c8c"/><rect x="497.8" fill="#878787"/><rect x="502.4" fill="#878787"/><rect x="507.0" fill="#878787"/></g>
<g transform="translate(0 142.9)"><rect x="309.2" fill="#969696"/><rect x="313.8" fill="#969696"/><rect x="318.4" fill="#969696"/><rect x="323.0" fill="#999999"/><rect x="327.6" fill="#9e9e9e"/><rect x="332.2" fill="#989898"/><rect x="336.8" fill="#8c8c8c"/><rect x="341.4" fill="#888888"/><rect x="346.0" fill="#8f8f8f"/><rect x="350.6" fill="#9c9c9c"/><rect x="355.2" fill="#a5a5a5"/><rect x="359.8" fill="#a3a3a3"/><rect x="364.4" fill="#969696"/><rect x="369.0" fill="#888888"/><rect x="373.6" fill="#818181"/><rect x="378.2" fill="#8a8a8a"/><rect x="382.8" fill="#9e9e9e"/><rect x="387.4" fill="#aeaeae"/><rect x="392.0" fill="#b5b5b5"/><rect x="396.6" fill="#b9b9b9"/><rect x="401.2" fill="#b7b7b7"/><rect x="405.8" fill="#a7a7a7"/><rect x="410.4" fill="#8c8c8c"/><rect x="415.0" fill="#777777"/><rect x="419.6" fill="#727272"/><rect x="424.2" fill="#808080"/><rect x="428.8" fill="#9a9a9a"/><rect x="433.4" fill="#b0b0b0"/><rect x="438.0" fill="#bababa"/><rect x="442.6" fill="#b9b9b9"/><rect x="447.2" fill="#b1b1b1"/><rect x="451.8" fill="#a4a4a4"/><rect x="456.4" fill="#999999"/><rect x="461.0" fill="#9a9a9a"/><rect x="465.6" fill="#a5a5a5"/><rect x="470.2" fill="#acacac"/><rect x="474.8" fill="#ababab"/><rect x="479.4" fill="#a6a6a6"/><rect x="484.0" fill="#a0a0a0"/><rect x="488.6" fill="#969696"/><rect x="493.2" fill="#8c8c8c"/><rect x="497.8" fill="#878787"/><rect x="502.4" fill="#878787"/><rect x="507.0" fill="#878787"/></g>
</g></g>
<path d="M318.4 0.3V138.3H502.4M318.4 138.3v4M318.4 138.3h-5M355.2 138.3v4M318.4 110.7h-5M392.0 138.3v4M318.4 83.1h-5M428.8 138.3v4M318.4 55.5h-5M465.6 138.3v4M318.4 27.9h-5M502.4 138.3v4M318.4 0.3h-5" stroke="#555" stroke-width="0.8" fill="none"/>
<text x="318.4" y="154.6" font-size="14.8" text-anchor="middle">0.0</text><text x="355.2" y="154.6" font-size="14.8" text-anchor="middle">0.2</text><text x="392.0" y="154.6" font-size="14.8" text-anchor="middle">0.4</text><text x="428.8" y="154.6" font-size="14.8" text-anchor="middle">0.6</text><text x="465.6" y="154.6" font-size="14.8" text-anchor="middle">0.8</text><text x="502.4" y="154.6" font-size="14.8" text-anchor="middle">1.0</text><text transform="translate(306.2 138.3) rotate(-90)" font-size="14.8" text-anchor="middle">0.0</text><text transform="translate(306.2 83.1) rotate(-90)" font-size="14.8" text-anchor="middle">0.4</text><text transform="translate(306.2 27.9) rotate(-90)" font-size="14.8" text-anchor="middle">0.8</text><text x="410.4" y="174.3" font-size="14.8" text-anchor="middle">x</text><text transform="translate(289.4 69.3) rotate(-90)" font-size="14.8" text-anchor="middle">y</text>
<rect x="327.2" y="191.0" width="166.0" height="11.5" fill="url(#cb)"/><path d="M327.2 202.5h166.0" stroke="#999" stroke-width="0.5"/><path d="M327.2 191.0h166.0" stroke="#888" stroke-width="0.8"/><text x="336.4" y="218.7" font-size="14.8" text-anchor="middle">−4</text><text x="373.3" y="218.7" font-size="14.8" text-anchor="middle">−2</text><text x="410.2" y="218.7" font-size="14.8" text-anchor="middle">0</text><text x="447.1" y="218.7" font-size="14.8" text-anchor="middle">2</text><text x="484.0" y="218.7" font-size="14.8" text-anchor="middle">4</text><path d="M336.4 202.5v3.5M373.3 202.5v3.5M410.2 202.5v3.5M447.1 202.5v3.5M484.0 202.5v3.5" stroke="#444" stroke-width="0.7" fill="none"/>
<text class="cap" x="363.4" y="258.4" font-size="19" textLength="22.8" lengthAdjust="spacingAndGlyphs">(b)</text><text class="cap" x="396.8" y="258.4" font-size="19" textLength="25.2" lengthAdjust="spacingAndGlyphs">full</text><text class="cap" x="430.4" y="258.4" font-size="19" textLength="26.2" lengthAdjust="spacingAndGlyphs">GP</text>
</g>
<g id="panel-c">
<g clip-path="url(#cpc)"><g class="h" filter="url(#flc)">
<g transform="translate(0 -8.9)"><rect x="593.2" fill="#cacaca"/><rect x="597.8" fill="#cacaca"/><rect x="602.4" fill="#cacaca"/><rect x="607.0" fill="#c8c8c8"/><rect x="611.6" fill="#c4c4c4"/><rect x="616.2" fill="#bfbfbf"/><rect x="620.8" fill="#bcbcbc"/><rect x="625.4" fill="#bcbcbc"/><rect x="630.0" fill="#bfbfbf"/><rect x="634.6" fill="#c7c7c7"/><rect x="639.2" fill="#d1d1d1"/><rect x="643.8" fill="#dbdbdb"/><rect x="648.4" fill="#e2e2e2"/><rect x="653.0" fill="#dfdfdf"/><rect x="657.6" fill="#d7d7d7"/><rect x="662.2" fill="#d9d9d9"/><rect x="666.8" fill="#e7e7e7"/><rect x="671.4" fill="#f5f5f5"/><rect x="676.0" fill="#fdfdfd"/><rect x="680.6" fill="#fbfbfb"/><rect x="685.2" fill="#eeeeee"/><rect x="689.8" fill="#dadada"/><rect x="694.4" fill="#c3c3c3"/><rect x="699.0" fill="#afafaf"/><rect x="703.6" fill="#a2a2a2"/><rect x="708.2" fill="#9b9b9b"/><rect x="712.8" fill="#999999"/><rect x="717.4" fill="#979797"/><rect x="722.0" fill="#979797"/><rect x="726.6" fill="#989898"/><rect x="731.2" fill="#9c9c9c"/><rect x="735.8" fill="#9e9e9e"/><rect x="740.4" fill="#9c9c9c"/><rect x="745.0" fill="#959595"/><rect x="749.6" fill="#888888"/><rect x="754.2" fill="#787878"/><rect x="758.8" fill="#6b6b6b"/><rect x="763.4" fill="#6e6e6e"/><rect x="768.0" fill="#7e7e7e"/><rect x="772.6" fill="#8d8d8d"/><rect x="777.2" fill="#949494"/><rect x="781.8" fill="#969696"/><rect x="786.4" fill="#969696"/><rect x="791.0" fill="#969696"/></g>
<g transform="translate(0 -4.3)"><rect x="593.2" fill="#cacaca"/><rect x="597.8" fill="#cacaca"/><rect x="602.4" fill="#cacaca"/><rect x="607.0" fill="#c8c8c8"/><rect x="611.6" fill="#c4c4c4"/><rect x="616.2" fill="#bfbfbf"/><rect x="620.8" fill="#bcbcbc"/><rect x="625.4" fill="#bcbcbc"/><rect x="630.0" fill="#bfbfbf"/><rect x="634.6" fill="#c7c7c7"/><rect x="639.2" fill="#d1d1d1"/><rect x="643.8" fill="#dbdbdb"/><rect x="648.4" fill="#e2e2e2"/><rect x="653.0" fill="#dfdfdf"/><rect x="657.6" fill="#d7d7d7"/><rect x="662.2" fill="#d9d9d9"/><rect x="666.8" fill="#e7e7e7"/><rect x="671.4" fill="#f5f5f5"/><rect x="676.0" fill="#fdfdfd"/><rect x="680.6" fill="#fbfbfb"/><rect x="685.2" fill="#eeeeee"/><rect x="689.8" fill="#dadada"/><rect x="694.4" fill="#c3c3c3"/><rect x="699.0" fill="#afafaf"/><rect x="703.6" fill="#a2a2a2"/><rect x="708.2" fill="#9b9b9b"/><rect x="712.8" fill="#999999"/><rect x="717.4" fill="#979797"/><rect x="722.0" fill="#979797"/><rect x="726.6" fill="#989898"/><rect x="731.2" fill="#9c9c9c"/><rect x="735.8" fill="#9e9e9e"/><rect x="740.4" fill="#9c9c9c"/><rect x="745.0" fill="#959595"/><rect x="749.6" fill="#888888"/><rect x="754.2" fill="#787878"/><rect x="758.8" fill="#6b6b6b"/><rect x="763.4" fill="#6e6e6e"/><rect x="768.0" fill="#7e7e7e"/><rect x="772.6" fill="#8d8d8d"/><rect x="777.2" fill="#949494"/><rect x="781.8" fill="#969696"/><rect x="786.4" fill="#969696"/><rect x="791.0" fill="#969696"/></g>
<g transform="translate(0 0.3)"><rect x="593.2" fill="#cacaca"/><rect x="597.8" fill="#cacaca"/><rect x="602.4" fill="#cacaca"/><rect x="607.0" fill="#c8c8c8"/><rect x="611.6" fill="#c4c4c4"/><rect x="616.2" fill="#bfbfbf"/><rect x="620.8" fill="#bcbcbc"/><rect x="625.4" fill="#bcbcbc"/><rect x="630.0" fill="#bfbfbf"/><rect x="634.6" fill="#c7c7c7"/><rect x="639.2" fill="#d1d1d1"/><rect x="643.8" fill="#dbdbdb"/><rect x="648.4" fill="#e2e2e2"/><rect x="653.0" fill="#dfdfdf"/><rect x="657.6" fill="#d7d7d7"/><rect x="662.2" fill="#d9d9d9"/><rect x="666.8" fill="#e7e7e7"/><rect x="671.4" fill="#f5f5f5"/><rect x="676.0" fill="#fdfdfd"/><rect x="680.6" fill="#fbfbfb"/><rect x="685.2" fill="#eeeeee"/><rect x="689.8" fill="#dadada"/><rect x="694.4" fill="#c3c3c3"/><rect x="699.0" fill="#afafaf"/><rect x="703.6" fill="#a2a2a2"/><rect x="708.2" fill="#9b9b9b"/><rect x="712.8" fill="#999999"/><rect x="717.4" fill="#979797"/><rect x="722.0" fill="#979797"/><rect x="726.6" fill="#989898"/><rect x="731.2" fill="#9c9c9c"/><rect x="735.8" fill="#9e9e9e"/><rect x="740.4" fill="#9c9c9c"/><rect x="745.0" fill="#959595"/><rect x="749.6" fill="#888888"/><rect x="754.2" fill="#787878"/><rect x="758.8" fill="#6b6b6b"/><rect x="763.4" fill="#6e6e6e"/><rect x="768.0" fill="#7e7e7e"/><rect x="772.6" fill="#8d8d8d"/><rect x="777.2" fill="#949494"/><rect x="781.8" fill="#969696"/><rect x="786.4" fill="#969696"/><rect x="791.0" fill="#969696"/></g>
<g transform="translate(0 4.9)"><rect x="593.2" fill="#c7c7c7"/><rect x="597.8" fill="#c7c7c7"/><rect x="602.4" fill="#c7c7c7"/><rect x="607.0" fill="#c5c5c5"/><rect x="611.6" fill="#c1c1c1"/><rect x="616.2" fill="#bababa"/><rect x="620.8" fill="#b4b4b4"/><rect x="625.4" fill="#b4b4b4"/><rect x="630.0" fill="#bababa"/><rect x="634.6" fill="#c1c1c1"/><rect x="639.2" fill="#c9c9c9"/><rect x="643.8" fill="#d3d3d3"/><rect x="648.4" fill="#dcdcdc"/><rect x="653.0" fill="#dddddd"/><rect x="657.6" fill="#d7d7d7"/><rect x="662.2" fill="#d7d7d7"/><rect x="666.8" fill="#dedede"/><rect x="671.4" fill="#e6e6e6"/><rect x="676.0" fill="#e9e9e9"/><rect x="680.6" fill="#e8e8e8"/><rect x="685.2" fill="#e1e1e1"/><rect x="689.8" fill="#d4d4d4"/><rect x="694.4" fill="#c3c3c3"/><rect x="699.0" fill="#b2b2b2"/><rect x="703.6" fill="#a4a4a4"/><rect x="708.2" fill="#9c9c9c"/><rect x="712.8" fill="#999999"/><rect x="717.4" fill="#999999"/><rect x="722.0" fill="#989898"/><rect x="726.6" fill="#999999"/><rect x="731.2" fill="#999999"/><rect x="735.8" fill="#989898"/><rect x="740.4" fill="#939393"/><rect x="745.0" fill="#8e8e8e"/><rect x="749.6" fill="#878787"/><rect x="754.2" fill="#797979"/><rect x="758.8" fill="#6b6b6b"/><rect x="763.4" fill="#6b6b6b"/><rect x="768.0" fill="#7a7a7a"/><rect x="772.6" fill="#888888"/><rect x="777.2" fill="#8e8e8e"/><rect x="781.8" fill="#909090"/><rect x="786.4" fill="#909090"/><rect x="791.0" fill="#909090"/></g>
<g transform="translate(0 9.5)"><rect x="593.2" fill="#bfbfbf"/><rect x="597.8" fill="#bfbfbf"/><rect x="602.4" fill="#bfbfbf"/><rect x="607.0" fill="#bdbdbd"/><rect x="611.6" fill="#b8b8b8"/><rect x="616.2" fill="#aeaeae"/><rect x="620.8" fill="#a5a5a5"/><rect x="625.4" fill="#a6a6a6"/><rect x="630.0" fill="#b1b1b1"/><rect x="634.6" fill="#b9b9b9"/><rect x="639.2" fill="#bebebe"/><rect x="643.8" fill="#c6c6c6"/><rect x="648.4" fill="#d0d0d0"/><rect x="653.0" fill="#d4d4d4"/><rect x="657.6" fill="#d1d1d1"/><rect x="662.2" fill="#cccccc"/><rect x="666.8" fill="#cacaca"/><rect x="671.4" fill="#c6c6c6"/><rect x="676.0" fill="#c1c1c1"/><rect x="680.6" fill="#c1c1c1"/><rect x="685.2" fill="#c4c4c4"/><rect x="689.8" fill="#c5c5c5"/><rect x="694.4" fill="#c0c0c0"/><rect x="699.0" fill="#b4b4b4"/><rect x="703.6" fill="#a6a6a6"/><rect x="708.2" fill="#9e9e9e"/><rect x="712.8" fill="#9c9c9c"/><rect x="717.4" fill="#9c9c9c"/><rect x="722.0" fill="#9a9a9a"/><rect x="726.6" fill="#989898"/><rect x="731.2" fill="#939393"/><rect x="735.8" fill="#8a8a8a"/><rect x="740.4" fill="#808080"/><rect x="745.0" fill="#7f7f7f"/><rect x="749.6" fill="#838383"/><rect x="754.2" fill="#7c7c7c"/><rect x="758.8" fill="#6b6b6b"/><rect x="763.4" fill="#676767"/><rect x="768.0" fill="#727272"/><rect x="772.6" fill="#7f7f7f"/><rect x="777.2" fill="#858585"/><rect x="781.8" fill="#868686"/><rect x="786.4" fill="#868686"/><rect x="791.0" fill="#868686"/></g>
<g transform="translate(0 14.1)"><rect x="593.2" fill="#adadad"/><rect x="597.8" fill="#adadad"/><rect x="602.4" fill="#adadad"/><rect x="607.0" fill="#a9a9a9"/><rect x="611.6" fill="#a4a4a4"/><rect x="616.2" fill="#a0a0a0"/><rect x="620.8" fill="#9c9c9c"/><rect x="625.4" fill="#a1a1a1"/><rect x="630.0" fill="#adadad"/><rect x="634.6" fill="#b8b8b8"/><rect x="639.2" fill="#bdbdbd"/><rect x="643.8" fill="#c1c1c1"/><rect x="648.4" fill="#c3c3c3"/><rect x="653.0" fill="#c0c0c0"/><rect x="657.6" fill="#b8b8b8"/><rect x="662.2" fill="#b1b1b1"/><rect x="666.8" fill="#acacac"/><rect x="671.4" fill="#a6a6a6"/><rect x="676.0" fill="#a0a0a0"/><rect x="680.6" fill="#a0a0a0"/><rect x="685.2" fill="#a6a6a6"/><rect x="689.8" fill="#adadad"/><rect x="694.4" fill="#b1b1b1"/><rect x="699.0" fill="#afafaf"/><rect x="703.6" fill="#a9a9a9"/><rect x="708.2" fill="#a4a4a4"/><rect x="712.8" fill="#a2a2a2"/><rect x="717.4" fill="#a0a0a0"/><rect x="722.0" fill="#9b9b9b"/><rect x="726.6" fill="#929292"/><rect x="731.2" fill="#868686"/><rect x="735.8" fill="#787878"/><rect x="740.4" fill="#6e6e6e"/><rect x="745.0" fill="#727272"/><rect x="749.6" fill="#7d7d7d"/><rect x="754.2" fill="#7c7c7c"/><rect x="758.8" fill="#6e6e6e"/><rect x="763.4" fill="#696969"/><rect x="768.0" fill="#707070"/><rect x="772.6" fill="#797979"/><rect x="777.2" fill="#7f7f7f"/><rect x="781.8" fill="#818181"/><rect x="786.4" fill="#818181"/><rect x="791.0" fill="#818181"/></g>
<g transform="translate(0 18.7)"><rect x="593.2" fill="#939393"/><rect x="597.8" fill="#939393"/><rect x="602.4" fill="#939393"/><rect x="607.0" fill="#888888"/><rect x="611.6" fill="#858585"/><rect x="616.2" fill="#8e8e8e"/><rect x="620.8" fill="#9a9a9a"/><rect x="625.4" fill="#a5a5a5"/><rect x="630.0" fill="#b2b2b2"/><rect x="634.6" fill="#c0c0c0"/><rect x="639.2" fill="#cacaca"/><rect x="643.8" fill="#c7c7c7"/><rect x="648.4" fill="#b8b8b8"/><rect x="653.0" fill="#a3a3a3"/><rect x="657.6" fill="#8e8e8e"/><rect x="662.2" fill="#848484"/><rect x="666.8" fill="#888888"/><rect x="671.4" fill="#8f8f8f"/><rect x="676.0" fill="#929292"/><rect x="680.6" fill="#929292"/><rect x="685.2" fill="#939393"/><rect x="689.8" fill="#969696"/><rect x="694.4" fill="#9b9b9b"/><rect x="699.0" fill="#a2a2a2"/><rect x="703.6" fill="#a9a9a9"/><rect x="708.2" fill="#ababab"/><rect x="712.8" fill="#a9a9a9"/><rect x="717.4" fill="#a2a2a2"/><rect x="722.0" fill="#989898"/><rect x="726.6" fill="#898989"/><rect x="731.2" fill="#797979"/><rect x="735.8" fill="#6b6b6b"/><rect x="740.4" fill="#646464"/><rect x="745.0" fill="#696969"/><rect x="749.6" fill="#737373"/><rect x="754.2" fill="#777777"/><rect x="758.8" fill="#727272"/><rect x="763.4" fill="#707070"/><rect x="768.0" fill="#747474"/><rect x="772.6" fill="#7a7a7a"/><rect x="777.2" fill="#808080"/><rect x="781.8" fill="#828282"/><rect x="786.4" fill="#828282"/><rect x="791.0" fill="#828282"/></g>
<g transform="translate(0 23.3)"><rect x="593.2" fill="#7c7c7c"/><rect x="597.8" fill="#7c7c7c"/><rect x="602.4" fill="#7c7c7c"/><rect x="607.0" fill="#696969"/><rect x="611.6" fill="#686868"/><rect x="616.2" fill="#7d7d7d"/><rect x="620.8" fill="#959595"/><rect x="625.4" fill="#a8a8a8"/><rect x="630.0" fill="#b9b9b9"/><rect x="634.6" fill="#cbcbcb"/><rect x="639.2" fill="#d6d6d6"/><rect x="643.8" fill="#cdcdcd"/><rect x="648.4" fill="#b2b2b2"/><rect x="653.0" fill="#909090"/><rect x="657.6" fill="#6c6c6c"/><rect x="662.2" fill="#5c5c5c"/><rect x="666.8" fill="#6c6c6c"/><rect x="671.4" fill="#818181"/><rect x="676.0" fill="#8e8e8e"/><rect x="680.6" fill="#949494"/><rect x="685.2" fill="#969696"/><rect x="689.8" fill="#959595"/><rect x="694.4" fill="#949494"/><rect x="699.0" fill="#9a9a9a"/><rect x="703.6" fill="#a5a5a5"/><rect x="708.2" fill="#aaaaaa"/><rect x="712.8" fill="#a6a6a6"/><rect x="717.4" fill="#9d9d9d"/><rect x="722.0" fill="#939393"/><rect x="726.6" fill="#848484"/><rect x="731.2" fill="#757575"/><rect x="735.8" fill="#696969"/><rect x="740.4" fill="#636363"/><rect x="745.0" fill="#646464"/><rect x="749.6" fill="#696969"/><rect x="754.2" fill="#6d6d6d"/><rect x="758.8" fill="#6f6f6f"/><rect x="763.4" fill="#727272"/><rect x="768.0" fill="#767676"/><rect x="772.6" fill="#7c7c7c"/><rect x="777.2" fill="#818181"/><rect x="781.8" fill="#838383"/><rect x="786.4" fill="#838383"/><rect x="791.0" fill="#838383"/></g>
<g transform="translate(0 27.9)"><rect x="593.2" fill="#777777"/><rect x="597.8" fill="#777777"/><rect x="602.4" fill="#777777"/><rect x="607.0" fill="#656565"/><rect x="611.6" fill="#646464"/><rect x="616.2" fill="#787878"/><rect x="620.8" fill="#909090"/><rect x="625.4" fill="#a7a7a7"/><rect x="630.0" fill="#c0c0c0"/><rect x="634.6" fill="#d4d4d4"/><rect x="639.2" fill="#dcdcdc"/><rect x="643.8" fill="#d1d1d1"/><rect x="648.4" fill="#b4b4b4"/><rect x="653.0" fill="#919191"/><rect x="657.6" fill="#6d6d6d"/><rect x="662.2" fill="#5c5c5c"/><rect x="666.8" fill="#6b6b6b"/><rect x="671.4" fill="#828282"/><rect x="676.0" fill="#939393"/><rect x="680.6" fill="#a1a1a1"/><rect x="685.2" fill="#ababab"/><rect x="689.8" fill="#a9a9a9"/><rect x="694.4" fill="#9e9e9e"/><rect x="699.0" fill="#9b9b9b"/><rect x="703.6" fill="#a0a0a0"/><rect x="708.2" fill="#a1a1a1"/><rect x="712.8" fill="#9a9a9a"/><rect x="717.4" fill="#929292"/><rect x="722.0" fill="#8a8a8a"/><rect x="726.6" fill="#828282"/><rect x="731.2" fill="#797979"/><rect x="735.8" fill="#6f6f6f"/><rect x="740.4" fill="#656565"/><rect x="745.0" fill="#5e5e5e"/><rect x="749.6" fill="#5b5b5b"/><rect x="754.2" fill="#5e5e5e"/><rect x="758.8" fill="#666666"/><rect x="763.4" fill="#6e6e6e"/><rect x="768.0" fill="#757575"/><rect x="772.6" fill="#7c7c7c"/><rect x="777.2" fill="#818181"/><rect x="781.8" fill="#838383"/><rect x="786.4" fill="#838383"/><rect x="791.0" fill="#838383"/></g>
<g transform="translate(0 32.5)"><rect x="593.2" fill="#7f7f7f"/><rect x="597.8" fill="#7f7f7f"/><rect x="602.4" fill="#7f7f7f"/><rect x="607.0" fill="#757575"/><rect x="611.6" fill="#757575"/><rect x="616.2" fill="#818181"/><rect x="620.8" fill="#939393"/><rect x="625.4" fill="#ababab"/><rect x="630.0" fill="#c7c7c7"/><rect x="634.6" fill="#dcdcdc"/><rect x="639.2" fill="#e3e3e3"/><rect x="643.8" fill="#d6d6d6"/><rect x="648.4" fill="#bababa"/><rect x="653.0" fill="#9c9c9c"/><rect x="657.6" fill="#838383"/><rect x="662.2" fill="#7a7a7a"/><rect x="666.8" fill="#848484"/><rect x="671.4" fill="#949494"/><rect x="676.0" fill="#a2a2a2"/><rect x="680.6" fill="#b0b0b0"/><rect x="685.2" fill="#bababa"/><rect x="689.8" fill="#b6b6b6"/><rect x="694.4" fill="#a8a8a8"/><rect x="699.0" fill="#9f9f9f"/><rect x="703.6" fill="#9e9e9e"/><rect x="708.2" fill="#999999"/><rect x="712.8" fill="#8f8f8f"/><rect x="717.4" fill="#868686"/><rect x="722.0" fill="#808080"/><rect x="726.6" fill="#7c7c7c"/><rect x="731.2" fill="#777777"/><rect x="735.8" fill="#6d6d6d"/><rect x="740.4" fill="#5f5f5f"/><rect x="745.0" fill="#4f4f4f"/><rect x="749.6" fill="#454545"/><rect x="754.2" fill="#494949"/><rect x="758.8" fill="#595959"/><rect x="763.4" fill="#696969"/><rect x="768.0" fill="#737373"/><rect x="772.6" fill="#7b7b7b"/><rect x="777.2" fill="#808080"/><rect x="781.8" fill="#828282"/><rect x="786.4" fill="#828282"/><rect x="791.0" fill="#828282"/></g>
<g transform="translate(0 37.1)"><rect x="593.2" fill="#868686"/><rect x="597.8" fill="#868686"/><rect x="602.4" fill="#868686"/><rect x="607.0" fill="#838383"/><rect x="611.6" fill="#838383"/><rect x="616.2" fill="#8a8a8a"/><rect x="620.8" fill="#999999"/><rect x="625.4" fill="#b0b0b0"/><rect x="630.0" fill="#cacaca"/><rect x="634.6" fill="#dedede"/><rect x="639.2" fill="#e4e4e4"/><rect x="643.8" fill="#d7d7d7"/><rect x="648.4" fill="#bcbcbc"/><rect x="653.0" fill="#a1a1a1"/><rect x="657.6" fill="#919191"/><rect x="662.2" fill="#8f8f8f"/><rect x="666.8" fill="#9c9c9c"/><rect x="671.4" fill="#aaaaaa"/><rect x="676.0" fill="#b5b5b5"/><rect x="680.6" fill="#bcbcbc"/><rect x="685.2" fill="#bfbfbf"/><rect x="689.8" fill="#b8b8b8"/><rect x="694.4" fill="#acacac"/><rect x="699.0" fill="#a4a4a4"/><rect x="703.6" fill="#a0a0a0"/><rect x="708.2" fill="#979797"/><rect x="712.8" fill="#898989"/><rect x="717.4" fill="#7d7d7d"/><rect x="722.0" fill="#767676"/><rect x="726.6" fill="#727272"/><rect x="731.2" fill="#6d6d6d"/><rect x="735.8" fill="#636363"/><rect x="740.4" fill="#525252"/><rect x="745.0" fill="#3e3e3e"/><rect x="749.6" fill="#303030"/><rect x="754.2" fill="#363636"/><rect x="758.8" fill="#4f4f4f"/><rect x="763.4" fill="#656565"/><rect x="768.0" fill="#727272"/><rect x="772.6" fill="#7a7a7a"/><rect x="777.2" fill="#808080"/><rect x="781.8" fill="#838383"/><rect x="786.4" fill="#838383"/><rect x="791.0" fill="#838383"/></g>
<g transform="translate(0 41.7)"><rect x="593.2" fill="#888888"/><rect x="597.8" fill="#888888"/><rect x="602.4" fill="#888888"/><rect x="607.0" fill="#868686"/><rect x="611.6" fill="#868686"/><rect x="616.2" fill="#8b8b8b"/><rect x="620.8" fill="#989898"/><rect x="625.4" fill="#ababab"/><rect x="630.0" fill="#c0c0c0"/><rect x="634.6" fill="#cecece"/><rect x="639.2" fill="#d0d0d0"/><rect x="643.8" fill="#c5c5c5"/><rect x="648.4" fill="#afafaf"/><rect x="653.0" fill="#9a9a9a"/><rect x="657.6" fill="#8d8d8d"/><rect x="662.2" fill="#909090"/><rect x="666.8" fill="#a1a1a1"/><rect x="671.4" fill="#b2b2b2"/><rect x="676.0" fill="#bebebe"/><rect x="680.6" fill="#c5c5c5"/><rect x="685.2" fill="#c6c6c6"/><rect x="689.8" fill="#bfbfbf"/><rect x="694.4" fill="#b2b2b2"/><rect x="699.0" fill="#a7a7a7"/><rect x="703.6" fill="#9f9f9f"/><rect x="708.2" fill="#949494"/><rect x="712.8" fill="#868686"/><rect x="717.4" fill="#797979"/><rect x="722.0" fill="#717171"/><rect x="726.6" fill="#6b6b6b"/><rect x="731.2" fill="#666666"/><rect x="735.8" fill="#5c5c5c"/><rect x="740.4" fill="#4d4d4d"/><rect x="745.0" fill="#3d3d3d"/><rect x="749.6" fill="#323232"/><rect x="754.2" fill="#393939"/><rect x="758.8" fill="#505050"/><rect x="763.4" fill="#656565"/><rect x="768.0" fill="#717171"/><rect x="772.6" fill="#797979"/><rect x="777.2" fill="#808080"/><rect x="781.8" fill="#838383"/><rect x="786.4" fill="#838383"/><rect x="791.0" fill="#838383"/></g>
<g transform="translate(0 46.3)"><rect x="593.2" fill="#838383"/><rect x="597.8" fill="#838383"/><rect x="602.4" fill="#838383"/><rect x="607.0" fill="#818181"/><rect x="611.6" fill="#808080"/><rect x="616.2" fill="#838383"/><rect x="620.8" fill="#8c8c8c"/><rect x="625.4" fill="#999999"/><rect x="630.0" fill="#a7a7a7"/><rect x="634.6" fill="#adadad"/><rect x="639.2" fill="#ababab"/><rect x="643.8" fill="#a3a3a3"/><rect x="648.4" fill="#979797"/><rect x="653.0" fill="#8a8a8a"/><rect x="657.6" fill="#818181"/><rect x="662.2" fill="#858585"/><rect x="666.8" fill="#979797"/><rect x="671.4" fill="#a9a9a9"/><rect x="676.0" fill="#b8b8b8"/><rect x="680.6" fill="#c6c6c6"/><rect x="685.2" fill="#cfcfcf"/><rect x="689.8" fill="#c9c9c9"/><rect x="694.4" fill="#b6b6b6"/><rect x="699.0" fill="#a4a4a4"/><rect x="703.6" fill="#989898"/><rect x="708.2" fill="#8d8d8d"/><rect x="712.8" fill="#818181"/><rect x="717.4" fill="#777777"/><rect x="722.0" fill="#6f6f6f"/><rect x="726.6" fill="#6a6a6a"/><rect x="731.2" fill="#656565"/><rect x="735.8" fill="#5e5e5e"/><rect x="740.4" fill="#555555"/><rect x="745.0" fill="#4c4c4c"/><rect x="749.6" fill="#494949"/><rect x="754.2" fill="#4f4f4f"/><rect x="758.8" fill="#5b5b5b"/><rect x="763.4" fill="#676767"/><rect x="768.0" fill="#707070"/><rect x="772.6" fill="#787878"/><rect x="777.2" fill="#7f7f7f"/><rect x="781.8" fill="#828282"/><rect x="786.4" fill="#828282"/><rect x="791.0" fill="#828282"/></g>
<g transform="translate(0 50.9)"><rect x="593.2" fill="#737373"/><rect x="597.8" fill="#737373"/><rect x="602.4" fill="#737373"/><rect x="607.0" fill="#737373"/><rect x="611.6" fill="#737373"/><rect x="616.2" fill="#747474"/><rect x="620.8" fill="#767676"/><rect x="625.4" fill="#7c7c7c"/><rect x="630.0" fill="#838383"/><rect x="634.6" fill="#888888"/><rect x="639.2" fill="#898989"/><rect x="643.8" fill="#888888"/><rect x="648.4" fill="#858585"/><rect x="653.0" fill="#808080"/><rect x="657.6" fill="#7b7b7b"/><rect x="662.2" fill="#7d7d7d"/><rect x="666.8" fill="#898989"/><rect x="671.4" fill="#989898"/><rect x="676.0" fill="#a7a7a7"/><rect x="680.6" fill="#b8b8b8"/><rect x="685.2" fill="#c5c5c5"/><rect x="689.8" fill="#c1c1c1"/><rect x="694.4" fill="#adadad"/><rect x="699.0" fill="#989898"/><rect x="703.6" fill="#888888"/><rect x="708.2" fill="#7c7c7c"/><rect x="712.8" fill="#737373"/><rect x="717.4" fill="#6c6c6c"/><rect x="722.0" fill="#696969"/><rect x="726.6" fill="#686868"/><rect x="731.2" fill="#686868"/><rect x="735.8" fill="#646464"/><rect x="740.4" fill="#5e5e5e"/><rect x="745.0" fill="#5b5b5b"/><rect x="749.6" fill="#5e5e5e"/><rect x="754.2" fill="#626262"/><rect x="758.8" fill="#676767"/><rect x="763.4" fill="#6c6c6c"/><rect x="768.0" fill="#717171"/><rect x="772.6" fill="#777777"/><rect x="777.2" fill="#7d7d7d"/><rect x="781.8" fill="#7f7f7f"/><rect x="786.4" fill="#7f7f7f"/><rect x="791.0" fill="#7f7f7f"/></g>
<g transform="translate(0 55.5)"><rect x="593.2" fill="#5c5c5c"/><rect x="597.8" fill="#5c5c5c"/><rect x="602.4" fill="#5c5c5c"/><rect x="607.0" fill="#5e5e5e"/><rect x="611.6" fill="#626262"/><rect x="616.2" fill="#616161"/><rect x="620.8" fill="#5c5c5c"/><rect x="625.4" fill="#5a5a5a"/><rect x="630.0" fill="#5e5e5e"/><rect x="634.6" fill="#676767"/><rect x="639.2" fill="#717171"/><rect x="643.8" fill="#787878"/><rect x="648.4" fill="#7a7a7a"/><rect x="653.0" fill="#7a7a7a"/><rect x="657.6" fill="#7a7a7a"/><rect x="662.2" fill="#7b7b7b"/><rect x="666.8" fill="#7e7e7e"/><rect x="671.4" fill="#868686"/><rect x="676.0" fill="#929292"/><rect x="680.6" fill="#9f9f9f"/><rect x="685.2" fill="#a8a8a8"/><rect x="689.8" fill="#a5a5a5"/><rect x="694.4" fill="#979797"/><rect x="699.0" fill="#858585"/><rect x="703.6" fill="#737373"/><rect x="708.2" fill="#656565"/><rect x="712.8" fill="#5c5c5c"/><rect x="717.4" fill="#5a5a5a"/><rect x="722.0" fill="#5e5e5e"/><rect x="726.6" fill="#646464"/><rect x="731.2" fill="#696969"/><rect x="735.8" fill="#696969"/><rect x="740.4" fill="#656565"/><rect x="745.0" fill="#636363"/><rect x="749.6" fill="#666666"/><rect x="754.2" fill="#6b6b6b"/><rect x="758.8" fill="#707070"/><rect x="763.4" fill="#727272"/><rect x="768.0" fill="#737373"/><rect x="772.6" fill="#767676"/><rect x="777.2" fill="#7b7b7b"/><rect x="781.8" fill="#7f7f7f"/><rect x="786.4" fill="#7f7f7f"/><rect x="791.0" fill="#7f7f7f"/></g>
<g transform="translate(0 60.1)"><rect x="593.2" fill="#464646"/><rect x="597.8" fill="#464646"/><rect x="602.4" fill="#464646"/><rect x="607.0" fill="#494949"/><rect x="611.6" fill="#4f4f4f"/><rect x="616.2" fill="#4e4e4e"/><rect x="620.8" fill="#484848"/><rect x="625.4" fill="#444444"/><rect x="630.0" fill="#474747"/><rect x="634.6" fill="#515151"/><rect x="639.2" fill="#5e5e5e"/><rect x="643.8" fill="#666666"/><rect x="648.4" fill="#6a6a6a"/><rect x="653.0" fill="#6e6e6e"/><rect x="657.6" fill="#737373"/><rect x="662.2" fill="#767676"/><rect x="666.8" fill="#757575"/><rect x="671.4" fill="#787878"/><rect x="676.0" fill="#818181"/><rect x="680.6" fill="#8a8a8a"/><rect x="685.2" fill="#8d8d8d"/><rect x="689.8" fill="#8b8b8b"/><rect x="694.4" fill="#858585"/><rect x="699.0" fill="#767676"/><rect x="703.6" fill="#626262"/><rect x="708.2" fill="#505050"/><rect x="712.8" fill="#474747"/><rect x="717.4" fill="#494949"/><rect x="722.0" fill="#535353"/><rect x="726.6" fill="#5e5e5e"/><rect x="731.2" fill="#666666"/><rect x="735.8" fill="#686868"/><rect x="740.4" fill="#676767"/><rect x="745.0" fill="#686868"/><rect x="749.6" fill="#6b6b6b"/><rect x="754.2" fill="#707070"/><rect x="758.8" fill="#757575"/><rect x="763.4" fill="#767676"/><rect x="768.0" fill="#747474"/><rect x="772.6" fill="#777777"/><rect x="777.2" fill="#7e7e7e"/><rect x="781.8" fill="#838383"/><rect x="786.4" fill="#838383"/><rect x="791.0" fill="#838383"/></g>
<g transform="translate(0 64.7)"><rect x="593.2" fill="#363636"/><rect x="597.8" fill="#363636"/><rect x="602.4" fill="#363636"/><rect x="607.0" fill="#393939"/><rect x="611.6" fill="#3c3c3c"/><rect x="616.2" fill="#3d3d3d"/><rect x="620.8" fill="#3c3c3c"/><rect x="625.4" fill="#3c3c3c"/><rect x="630.0" fill="#414141"/><rect x="634.6" fill="#474747"/><rect x="639.2" fill="#4e4e4e"/><rect x="643.8" fill="#515151"/><rect x="648.4" fill="#545454"/><rect x="653.0" fill="#595959"/><rect x="657.6" fill="#626262"/><rect x="662.2" fill="#686868"/><rect x="666.8" fill="#6c6c6c"/><rect x="671.4" fill="#737373"/><rect x="676.0" fill="#838383"/><rect x="680.6" fill="#8e8e8e"/><rect x="685.2" fill="#868686"/><rect x="689.8" fill="#7e7e7e"/><rect x="694.4" fill="#7a7a7a"/><rect x="699.0" fill="#6e6e6e"/><rect x="703.6" fill="#585858"/><rect x="708.2" fill="#434343"/><rect x="712.8" fill="#383838"/><rect x="717.4" fill="#3c3c3c"/><rect x="722.0" fill="#494949"/><rect x="726.6" fill="#555555"/><rect x="731.2" fill="#5c5c5c"/><rect x="735.8" fill="#616161"/><rect x="740.4" fill="#656565"/><rect x="745.0" fill="#6b6b6b"/><rect x="749.6" fill="#707070"/><rect x="754.2" fill="#757575"/><rect x="758.8" fill="#787878"/><rect x="763.4" fill="#777777"/><rect x="768.0" fill="#767676"/><rect x="772.6" fill="#7a7a7a"/><rect x="777.2" fill="#848484"/><rect x="781.8" fill="#898989"/><rect x="786.4" fill="#898989"/><rect x="791.0" fill="#898989"/></g>
<g transform="translate(0 69.3)"><rect x="593.2" fill="#2e2e2e"/><rect x="597.8" fill="#2e2e2e"/><rect x="602.4" fill="#2e2e2e"/><rect x="607.0" fill="#2c2c2c"/><rect x="611.6" fill="#2a2a2a"/><rect x="616.2" fill="#2e2e2e"/><rect x="620.8" fill="#363636"/><rect x="625.4" fill="#3f3f3f"/><rect x="630.0" fill="#464646"/><rect x="634.6" fill="#494949"/><rect x="639.2" fill="#4a4a4a"/><rect x="643.8" fill="#484848"/><rect x="648.4" fill="#454545"/><rect x="653.0" fill="#444444"/><rect x="657.6" fill="#484848"/><rect x="662.2" fill="#525252"/><rect x="666.8" fill="#616161"/><rect x="671.4" fill="#757575"/><rect x="676.0" fill="#969696"/><rect x="680.6" fill="#a9a9a9"/><rect x="685.2" fill="#929292"/><rect x="689.8" fill="#7b7b7b"/><rect x="694.4" fill="#757575"/><rect x="699.0" fill="#6b6b6b"/><rect x="703.6" fill="#555555"/><rect x="708.2" fill="#404040"/><rect x="712.8" fill="#343434"/><rect x="717.4" fill="#353535"/><rect x="722.0" fill="#3e3e3e"/><rect x="726.6" fill="#484848"/><rect x="731.2" fill="#505050"/><rect x="735.8" fill="#585858"/><rect x="740.4" fill="#5f5f5f"/><rect x="745.0" fill="#676767"/><rect x="749.6" fill="#6e6e6e"/><rect x="754.2" fill="#737373"/><rect x="758.8" fill="#777777"/><rect x="763.4" fill="#787878"/><rect x="768.0" fill="#7a7a7a"/><rect x="772.6" fill="#7f7f7f"/><rect x="777.2" fill="#868686"/><rect x="781.8" fill="#8a8a8a"/><rect x="786.4" fill="#8a8a8a"/><rect x="791.0" fill="#8a8a8a"/></g>
<g transform="translate(0 73.9)"><rect x="593.2" fill="#2e2e2e"/><rect x="597.8" fill="#2e2e2e"/><rect x="602.4" fill="#2e2e2e"/><rect x="607.0" fill="#282828"/><rect x="611.6" fill="#202020"/><rect x="616.2" fill="#252525"/><rect x="620.8" fill="#373737"/><rect x="625.4" fill="#464646"/><rect x="630.0" fill="#4c4c4c"/><rect x="634.6" fill="#4f4f4f"/><rect x="639.2" fill="#4f4f4f"/><rect x="643.8" fill="#4b4b4b"/><rect x="648.4" fill="#424242"/><rect x="653.0" fill="#373737"/><rect x="657.6" fill="#313131"/><rect x="662.2" fill="#3d3d3d"/><rect x="666.8" fill="#565656"/><rect x="671.4" fill="#737373"/><rect x="676.0" fill="#949494"/><rect x="680.6" fill="#a5a5a5"/><rect x="685.2" fill="#8c8c8c"/><rect x="689.8" fill="#757575"/><rect x="694.4" fill="#707070"/><rect x="699.0" fill="#686868"/><rect x="703.6" fill="#565656"/><rect x="708.2" fill="#454545"/><rect x="712.8" fill="#3a3a3a"/><rect x="717.4" fill="#363636"/><rect x="722.0" fill="#383838"/><rect x="726.6" fill="#3f3f3f"/><rect x="731.2" fill="#484848"/><rect x="735.8" fill="#515151"/><rect x="740.4" fill="#585858"/><rect x="745.0" fill="#606060"/><rect x="749.6" fill="#696969"/><rect x="754.2" fill="#707070"/><rect x="758.8" fill="#757575"/><rect x="763.4" fill="#7b7b7b"/><rect x="768.0" fill="#818181"/><rect x="772.6" fill="#848484"/><rect x="777.2" fill="#868686"/><rect x="781.8" fill="#868686"/><rect x="786.4" fill="#868686"/><rect x="791.0" fill="#868686"/></g>
<g transform="translate(0 78.5)"><rect x="593.2" fill="#373737"/><rect x="597.8" fill="#373737"/><rect x="602.4" fill="#373737"/><rect x="607.0" fill="#313131"/><rect x="611.6" fill="#292929"/><rect x="616.2" fill="#2e2e2e"/><rect x="620.8" fill="#3d3d3d"/><rect x="625.4" fill="#484848"/><rect x="630.0" fill="#494949"/><rect x="634.6" fill="#4a4a4a"/><rect x="639.2" fill="#4d4d4d"/><rect x="643.8" fill="#4c4c4c"/><rect x="648.4" fill="#454545"/><rect x="653.0" fill="#3a3a3a"/><rect x="657.6" fill="#313131"/><rect x="662.2" fill="#3a3a3a"/><rect x="666.8" fill="#525252"/><rect x="671.4" fill="#686868"/><rect x="676.0" fill="#777777"/><rect x="680.6" fill="#7b7b7b"/><rect x="685.2" fill="#6e6e6e"/><rect x="689.8" fill="#646464"/><rect x="694.4" fill="#636363"/><rect x="699.0" fill="#5f5f5f"/><rect x="703.6" fill="#575757"/><rect x="708.2" fill="#4e4e4e"/><rect x="712.8" fill="#464646"/><rect x="717.4" fill="#444444"/><rect x="722.0" fill="#464646"/><rect x="726.6" fill="#494949"/><rect x="731.2" fill="#4c4c4c"/><rect x="735.8" fill="#505050"/><rect x="740.4" fill="#565656"/><rect x="745.0" fill="#606060"/><rect x="749.6" fill="#6a6a6a"/><rect x="754.2" fill="#717171"/><rect x="758.8" fill="#767676"/><rect x="763.4" fill="#7c7c7c"/><rect x="768.0" fill="#848484"/><rect x="772.6" fill="#898989"/><rect x="777.2" fill="#8a8a8a"/><rect x="781.8" fill="#898989"/><rect x="786.4" fill="#898989"/><rect x="791.0" fill="#898989"/></g>
<g transform="translate(0 83.1)"><rect x="593.2" fill="#444444"/><rect x="597.8" fill="#444444"/><rect x="602.4" fill="#444444"/><rect x="607.0" fill="#444444"/><rect x="611.6" fill="#434343"/><rect x="616.2" fill="#454545"/><rect x="620.8" fill="#464646"/><rect x="625.4" fill="#424242"/><rect x="630.0" fill="#3a3a3a"/><rect x="634.6" fill="#393939"/><rect x="639.2" fill="#3e3e3e"/><rect x="643.8" fill="#464646"/><rect x="648.4" fill="#494949"/><rect x="653.0" fill="#474747"/><rect x="657.6" fill="#424242"/><rect x="662.2" fill="#474747"/><rect x="666.8" fill="#545454"/><rect x="671.4" fill="#5c5c5c"/><rect x="676.0" fill="#5c5c5c"/><rect x="680.6" fill="#595959"/><rect x="685.2" fill="#545454"/><rect x="689.8" fill="#515151"/><rect x="694.4" fill="#505050"/><rect x="699.0" fill="#525252"/><rect x="703.6" fill="#555555"/><rect x="708.2" fill="#545454"/><rect x="712.8" fill="#525252"/><rect x="717.4" fill="#575757"/><rect x="722.0" fill="#5f5f5f"/><rect x="726.6" fill="#5f5f5f"/><rect x="731.2" fill="#575757"/><rect x="735.8" fill="#555555"/><rect x="740.4" fill="#5c5c5c"/><rect x="745.0" fill="#6a6a6a"/><rect x="749.6" fill="#777777"/><rect x="754.2" fill="#7c7c7c"/><rect x="758.8" fill="#7a7a7a"/><rect x="763.4" fill="#7b7b7b"/><rect x="768.0" fill="#838383"/><rect x="772.6" fill="#8b8b8b"/><rect x="777.2" fill="#909090"/><rect x="781.8" fill="#929292"/><rect x="786.4" fill="#929292"/><rect x="791.0" fill="#929292"/></g>
<g transform="translate(0 87.7)"><rect x="593.2" fill="#4f4f4f"/><rect x="597.8" fill="#4f4f4f"/><rect x="602.4" fill="#4f4f4f"/><rect x="607.0" fill="#535353"/><rect x="611.6" fill="#585858"/><rect x="616.2" fill="#565656"/><rect x="620.8" fill="#4a4a4a"/><rect x="625.4" fill="#383838"/><rect x="630.0" fill="#262626"/><rect x="634.6" fill="#222222"/><rect x="639.2" fill="#2c2c2c"/><rect x="643.8" fill="#383838"/><rect x="648.4" fill="#414141"/><rect x="653.0" fill="#464646"/><rect x="657.6" fill="#484848"/><rect x="662.2" fill="#4b4b4b"/><rect x="666.8" fill="#505050"/><rect x="671.4" fill="#515151"/><rect x="676.0" fill="#4e4e4e"/><rect x="680.6" fill="#4b4b4b"/><rect x="685.2" fill="#4a4a4a"/><rect x="689.8" fill="#484848"/><rect x="694.4" fill="#454545"/><rect x="699.0" fill="#474747"/><rect x="703.6" fill="#4e4e4e"/><rect x="708.2" fill="#525252"/><rect x="712.8" fill="#565656"/><rect x="717.4" fill="#5e5e5e"/><rect x="722.0" fill="#686868"/><rect x="726.6" fill="#686868"/><rect x="731.2" fill="#5f5f5f"/><rect x="735.8" fill="#5f5f5f"/><rect x="740.4" fill="#6c6c6c"/><rect x="745.0" fill="#7e7e7e"/><rect x="749.6" fill="#8d8d8d"/><rect x="754.2" fill="#8c8c8c"/><rect x="758.8" fill="#808080"/><rect x="763.4" fill="#777777"/><rect x="768.0" fill="#797979"/><rect x="772.6" fill="#818181"/><rect x="777.2" fill="#8a8a8a"/><rect x="781.8" fill="#8f8f8f"/><rect x="786.4" fill="#8f8f8f"/><rect x="791.0" fill="#8f8f8f"/></g>
<g transform="translate(0 92.3)"><rect x="593.2" fill="#545454"/><rect x="597.8" fill="#545454"/><rect x="602.4" fill="#545454"/><rect x="607.0" fill="#595959"/><rect x="611.6" fill="#5f5f5f"/><rect x="616.2" fill="#5b5b5b"/><rect x="620.8" fill="#484848"/><rect x="625.4" fill="#2f2f2f"/><rect x="630.0" fill="#181818"/><rect x="634.6" fill="#121212"/><rect x="639.2" fill="#1d1d1d"/><rect x="643.8" fill="#292929"/><rect x="648.4" fill="#313131"/><rect x="653.0" fill="#373737"/><rect x="657.6" fill="#3d3d3d"/><rect x="662.2" fill="#424242"/><rect x="666.8" fill="#464646"/><rect x="671.4" fill="#474747"/><rect x="676.0" fill="#474747"/><rect x="680.6" fill="#494949"/><rect x="685.2" fill="#4c4c4c"/><rect x="689.8" fill="#4a4a4a"/><rect x="694.4" fill="#454545"/><rect x="699.0" fill="#434343"/><rect x="703.6" fill="#474747"/><rect x="708.2" fill="#4d4d4d"/><rect x="712.8" fill="#515151"/><rect x="717.4" fill="#575757"/><rect x="722.0" fill="#5d5d5d"/><rect x="726.6" fill="#5f5f5f"/><rect x="731.2" fill="#616161"/><rect x="735.8" fill="#6a6a6a"/><rect x="740.4" fill="#7d7d7d"/><rect x="745.0" fill="#929292"/><rect x="749.6" fill="#a0a0a0"/><rect x="754.2" fill="#9c9c9c"/><rect x="758.8" fill="#888888"/><rect x="763.4" fill="#747474"/><rect x="768.0" fill="#6b6b6b"/><rect x="772.6" fill="#6e6e6e"/><rect x="777.2" fill="#797979"/><rect x="781.8" fill="#7f7f7f"/><rect x="786.4" fill="#7f7f7f"/><rect x="791.0" fill="#7f7f7f"/></g>
<g transform="translate(0 96.9)"><rect x="593.2" fill="#575757"/><rect x="597.8" fill="#575757"/><rect x="602.4" fill="#575757"/><rect x="607.0" fill="#5a5a5a"/><rect x="611.6" fill="#5d5d5d"/><rect x="616.2" fill="#575757"/><rect x="620.8" fill="#474747"/><rect x="625.4" fill="#303030"/><rect x="630.0" fill="#1c1c1c"/><rect x="634.6" fill="#141414"/><rect x="639.2" fill="#1a1a1a"/><rect x="643.8" fill="#222222"/><rect x="648.4" fill="#292929"/><rect x="653.0" fill="#303030"/><rect x="657.6" fill="#373737"/><rect x="662.2" fill="#3e3e3e"/><rect x="666.8" fill="#424242"/><rect x="671.4" fill="#404040"/><rect x="676.0" fill="#3d3d3d"/><rect x="680.6" fill="#434343"/><rect x="685.2" fill="#4e4e4e"/><rect x="689.8" fill="#515151"/><rect x="694.4" fill="#4c4c4c"/><rect x="699.0" fill="#494949"/><rect x="703.6" fill="#4c4c4c"/><rect x="708.2" fill="#4f4f4f"/><rect x="712.8" fill="#505050"/><rect x="717.4" fill="#515151"/><rect x="722.0" fill="#555555"/><rect x="726.6" fill="#595959"/><rect x="731.2" fill="#606060"/><rect x="735.8" fill="#6d6d6d"/><rect x="740.4" fill="#7e7e7e"/><rect x="745.0" fill="#909090"/><rect x="749.6" fill="#9c9c9c"/><rect x="754.2" fill="#9e9e9e"/><rect x="758.8" fill="#939393"/><rect x="763.4" fill="#7c7c7c"/><rect x="768.0" fill="#636363"/><rect x="772.6" fill="#5a5a5a"/><rect x="777.2" fill="#636363"/><rect x="781.8" fill="#6a6a6a"/><rect x="786.4" fill="#6a6a6a"/><rect x="791.0" fill="#6a6a6a"/></g>
<g transform="translate(0 101.5)"><rect x="593.2" fill="#5b5b5b"/><rect x="597.8" fill="#5b5b5b"/><rect x="602.4" fill="#5b5b5b"/><rect x="607.0" fill="#5b5b5b"/><rect x="611.6" fill="#595959"/><rect x="616.2" fill="#545454"/><rect x="620.8" fill="#4a4a4a"/><rect x="625.4" fill="#3e3e3e"/><rect x="630.0" fill="#323232"/><rect x="634.6" fill="#292929"/><rect x="639.2" fill="#252525"/><rect x="643.8" fill="#282828"/><rect x="648.4" fill="#303030"/><rect x="653.0" fill="#383838"/><rect x="657.6" fill="#404040"/><rect x="662.2" fill="#464646"/><rect x="666.8" fill="#474747"/><rect x="671.4" fill="#3f3f3f"/><rect x="676.0" fill="#353535"/><rect x="680.6" fill="#3a3a3a"/><rect x="685.2" fill="#4d4d4d"/><rect x="689.8" fill="#585858"/><rect x="694.4" fill="#565656"/><rect x="699.0" fill="#565656"/><rect x="703.6" fill="#5a5a5a"/><rect x="708.2" fill="#5c5c5c"/><rect x="712.8" fill="#595959"/><rect x="717.4" fill="#585858"/><rect x="722.0" fill="#5d5d5d"/><rect x="726.6" fill="#626262"/><rect x="731.2" fill="#676767"/><rect x="735.8" fill="#6e6e6e"/><rect x="740.4" fill="#787878"/><rect x="745.0" fill="#828282"/><rect x="749.6" fill="#8b8b8b"/><rect x="754.2" fill="#999999"/><rect x="758.8" fill="#a1a1a1"/><rect x="763.4" fill="#8d8d8d"/><rect x="768.0" fill="#656565"/><rect x="772.6" fill="#505050"/><rect x="777.2" fill="#555555"/><rect x="781.8" fill="#5c5c5c"/><rect x="786.4" fill="#5c5c5c"/><rect x="791.0" fill="#5c5c5c"/></g>
<g transform="translate(0 106.1)"><rect x="593.2" fill="#646464"/><rect x="597.8" fill="#646464"/><rect x="602.4" fill="#646464"/><rect x="607.0" fill="#626262"/><rect x="611.6" fill="#5d5d5d"/><rect x="616.2" fill="#585858"/><rect x="620.8" fill="#535353"/><rect x="625.4" fill="#505050"/><rect x="630.0" fill="#4c4c4c"/><rect x="634.6" fill="#454545"/><rect x="639.2" fill="#3c3c3c"/><rect x="643.8" fill="#3b3b3b"/><rect x="648.4" fill="#434343"/><rect x="653.0" fill="#4c4c4c"/><rect x="657.6" fill="#515151"/><rect x="662.2" fill="#545454"/><rect x="666.8" fill="#525252"/><rect x="671.4" fill="#484848"/><rect x="676.0" fill="#3c3c3c"/><rect x="680.6" fill="#414141"/><rect x="685.2" fill="#555555"/><rect x="689.8" fill="#5f5f5f"/><rect x="694.4" fill="#5c5c5c"/><rect x="699.0" fill="#5e5e5e"/><rect x="703.6" fill="#676767"/><rect x="708.2" fill="#6d6d6d"/><rect x="712.8" fill="#6d6d6d"/><rect x="717.4" fill="#707070"/><rect x="722.0" fill="#777777"/><rect x="726.6" fill="#7e7e7e"/><rect x="731.2" fill="#818181"/><rect x="735.8" fill="#848484"/><rect x="740.4" fill="#878787"/><rect x="745.0" fill="#8a8a8a"/><rect x="749.6" fill="#909090"/><rect x="754.2" fill="#9f9f9f"/><rect x="758.8" fill="#adadad"/><rect x="763.4" fill="#9c9c9c"/><rect x="768.0" fill="#737373"/><rect x="772.6" fill="#5b5b5b"/><rect x="777.2" fill="#5d5d5d"/><rect x="781.8" fill="#626262"/><rect x="786.4" fill="#626262"/><rect x="791.0" fill="#626262"/></g>
<g transform="translate(0 110.7)"><rect x="593.2" fill="#6f6f6f"/><rect x="597.8" fill="#6f6f6f"/><rect x="602.4" fill="#6f6f6f"/><rect x="607.0" fill="#6d6d6d"/><rect x="611.6" fill="#696969"/><rect x="616.2" fill="#646464"/><rect x="620.8" fill="#616161"/><rect x="625.4" fill="#616161"/><rect x="630.0" fill="#636363"/><rect x="634.6" fill="#5f5f5f"/><rect x="639.2" fill="#575757"/><rect x="643.8" fill="#565656"/><rect x="648.4" fill="#5c5c5c"/><rect x="653.0" fill="#616161"/><rect x="657.6" fill="#636363"/><rect x="662.2" fill="#626262"/><rect x="666.8" fill="#5f5f5f"/><rect x="671.4" fill="#585858"/><rect x="676.0" fill="#525252"/><rect x="680.6" fill="#595959"/><rect x="685.2" fill="#676767"/><rect x="689.8" fill="#686868"/><rect x="694.4" fill="#5e5e5e"/><rect x="699.0" fill="#5e5e5e"/><rect x="703.6" fill="#6c6c6c"/><rect x="708.2" fill="#7b7b7b"/><rect x="712.8" fill="#868686"/><rect x="717.4" fill="#909090"/><rect x="722.0" fill="#9c9c9c"/><rect x="726.6" fill="#a3a3a3"/><rect x="731.2" fill="#a7a7a7"/><rect x="735.8" fill="#a8a8a8"/><rect x="740.4" fill="#a9a9a9"/><rect x="745.0" fill="#a9a9a9"/><rect x="749.6" fill="#ababab"/><rect x="754.2" fill="#b1b1b1"/><rect x="758.8" fill="#b4b4b4"/><rect x="763.4" fill="#a5a5a5"/><rect x="768.0" fill="#888888"/><rect x="772.6" fill="#767676"/><rect x="777.2" fill="#777777"/><rect x="781.8" fill="#7a7a7a"/><rect x="786.4" fill="#7a7a7a"/><rect x="791.0" fill="#7a7a7a"/></g>
<g transform="translate(0 115.3)"><rect x="593.2" fill="#747474"/><rect x="597.8" fill="#747474"/><rect x="602.4" fill="#747474"/><rect x="607.0" fill="#737373"/><rect x="611.6" fill="#727272"/><rect x="616.2" fill="#707070"/><rect x="620.8" fill="#6f6f6f"/><rect x="625.4" fill="#707070"/><rect x="630.0" fill="#737373"/><rect x="634.6" fill="#747474"/><rect x="639.2" fill="#727272"/><rect x="643.8" fill="#707070"/><rect x="648.4" fill="#6e6e6e"/><rect x="653.0" fill="#6c6c6c"/><rect x="657.6" fill="#6a6a6a"/><rect x="662.2" fill="#696969"/><rect x="666.8" fill="#696969"/><rect x="671.4" fill="#6a6a6a"/><rect x="676.0" fill="#6f6f6f"/><rect x="680.6" fill="#787878"/><rect x="685.2" fill="#7f7f7f"/><rect x="689.8" fill="#767676"/><rect x="694.4" fill="#626262"/><rect x="699.0" fill="#5b5b5b"/><rect x="703.6" fill="#696969"/><rect x="708.2" fill="#7f7f7f"/><rect x="712.8" fill="#959595"/><rect x="717.4" fill="#a8a8a8"/><rect x="722.0" fill="#b6b6b6"/><rect x="726.6" fill="#bdbdbd"/><rect x="731.2" fill="#bdbdbd"/><rect x="735.8" fill="#bdbdbd"/><rect x="740.4" fill="#bdbdbd"/><rect x="745.0" fill="#bcbcbc"/><rect x="749.6" fill="#bbbbbb"/><rect x="754.2" fill="#bababa"/><rect x="758.8" fill="#b8b8b8"/><rect x="763.4" fill="#adadad"/><rect x="768.0" fill="#9c9c9c"/><rect x="772.6" fill="#939393"/><rect x="777.2" fill="#949494"/><rect x="781.8" fill="#969696"/><rect x="786.4" fill="#969696"/><rect x="791.0" fill="#969696"/></g>
<g transform="translate(0 119.9)"><rect x="593.2" fill="#757575"/><rect x="597.8" fill="#757575"/><rect x="602.4" fill="#757575"/><rect x="607.0" fill="#767676"/><rect x="611.6" fill="#787878"/><rect x="616.2" fill="#797979"/><rect x="620.8" fill="#7a7a7a"/><rect x="625.4" fill="#7a7a7a"/><rect x="630.0" fill="#7c7c7c"/><rect x="634.6" fill="#828282"/><rect x="639.2" fill="#898989"/><rect x="643.8" fill="#868686"/><rect x="648.4" fill="#797979"/><rect x="653.0" fill="#6d6d6d"/><rect x="657.6" fill="#686868"/><rect x="662.2" fill="#6a6a6a"/><rect x="666.8" fill="#737373"/><rect x="671.4" fill="#7e7e7e"/><rect x="676.0" fill="#898989"/><rect x="680.6" fill="#949494"/><rect x="685.2" fill="#969696"/><rect x="689.8" fill="#868686"/><rect x="694.4" fill="#6a6a6a"/><rect x="699.0" fill="#5b5b5b"/><rect x="703.6" fill="#646464"/><rect x="708.2" fill="#7b7b7b"/><rect x="712.8" fill="#999999"/><rect x="717.4" fill="#b1b1b1"/><rect x="722.0" fill="#bfbfbf"/><rect x="726.6" fill="#c3c3c3"/><rect x="731.2" fill="#bebebe"/><rect x="735.8" fill="#bababa"/><rect x="740.4" fill="#b9b9b9"/><rect x="745.0" fill="#b8b8b8"/><rect x="749.6" fill="#b6b6b6"/><rect x="754.2" fill="#b7b7b7"/><rect x="758.8" fill="#b8b8b8"/><rect x="763.4" fill="#b4b4b4"/><rect x="768.0" fill="#aaaaaa"/><rect x="772.6" fill="#a5a5a5"/><rect x="777.2" fill="#a6a6a6"/><rect x="781.8" fill="#a8a8a8"/><rect x="786.4" fill="#a8a8a8"/><rect x="791.0" fill="#a8a8a8"/></g>
<g transform="translate(0 124.5)"><rect x="593.2" fill="#7e7e7e"/><rect x="597.8" fill="#7e7e7e"/><rect x="602.4" fill="#7e7e7e"/><rect x="607.0" fill="#808080"/><rect x="611.6" fill="#848484"/><rect x="616.2" fill="#858585"/><rect x="620.8" fill="#838383"/><rect x="625.4" fill="#828282"/><rect x="630.0" fill="#848484"/><rect x="634.6" fill="#8e8e8e"/><rect x="639.2" fill="#999999"/><rect x="643.8" fill="#959595"/><rect x="648.4" fill="#848484"/><rect x="653.0" fill="#737373"/><rect x="657.6" fill="#6d6d6d"/><rect x="662.2" fill="#737373"/><rect x="666.8" fill="#828282"/><rect x="671.4" fill="#939393"/><rect x="676.0" fill="#a0a0a0"/><rect x="680.6" fill="#a9a9a9"/><rect x="685.2" fill="#a9a9a9"/><rect x="689.8" fill="#969696"/><rect x="694.4" fill="#777777"/><rect x="699.0" fill="#636363"/><rect x="703.6" fill="#656565"/><rect x="708.2" fill="#7a7a7a"/><rect x="712.8" fill="#999999"/><rect x="717.4" fill="#b2b2b2"/><rect x="722.0" fill="#bfbfbf"/><rect x="726.6" fill="#c0c0c0"/><rect x="731.2" fill="#b8b8b8"/><rect x="735.8" fill="#b0b0b0"/><rect x="740.4" fill="#acacac"/><rect x="745.0" fill="#ababab"/><rect x="749.6" fill="#adadad"/><rect x="754.2" fill="#b1b1b1"/><rect x="758.8" fill="#b4b4b4"/><rect x="763.4" fill="#b2b2b2"/><rect x="768.0" fill="#acacac"/><rect x="772.6" fill="#a7a7a7"/><rect x="777.2" fill="#a5a5a5"/><rect x="781.8" fill="#a4a4a4"/><rect x="786.4" fill="#a4a4a4"/><rect x="791.0" fill="#a4a4a4"/></g>
<g transform="translate(0 129.1)"><rect x="593.2" fill="#8d8d8d"/><rect x="597.8" fill="#8d8d8d"/><rect x="602.4" fill="#8d8d8d"/><rect x="607.0" fill="#919191"/><rect x="611.6" fill="#959595"/><rect x="616.2" fill="#929292"/><rect x="620.8" fill="#898989"/><rect x="625.4" fill="#868686"/><rect x="630.0" fill="#8c8c8c"/><rect x="634.6" fill="#989898"/><rect x="639.2" fill="#a2a2a2"/><rect x="643.8" fill="#9f9f9f"/><rect x="648.4" fill="#909090"/><rect x="653.0" fill="#808080"/><rect x="657.6" fill="#7a7a7a"/><rect x="662.2" fill="#828282"/><rect x="666.8" fill="#949494"/><rect x="671.4" fill="#a5a5a5"/><rect x="676.0" fill="#afafaf"/><rect x="680.6" fill="#b5b5b5"/><rect x="685.2" fill="#b3b3b3"/><rect x="689.8" fill="#a2a2a2"/><rect x="694.4" fill="#858585"/><rect x="699.0" fill="#707070"/><rect x="703.6" fill="#6d6d6d"/><rect x="708.2" fill="#7e7e7e"/><rect x="712.8" fill="#9a9a9a"/><rect x="717.4" fill="#b1b1b1"/><rect x="722.0" fill="#bcbcbc"/><rect x="726.6" fill="#bbbbbb"/><rect x="731.2" fill="#b3b3b3"/><rect x="735.8" fill="#a8a8a8"/><rect x="740.4" fill="#9f9f9f"/><rect x="745.0" fill="#9f9f9f"/><rect x="749.6" fill="#a7a7a7"/><rect x="754.2" fill="#adadad"/><rect x="758.8" fill="#aeaeae"/><rect x="763.4" fill="#ababab"/><rect x="768.0" fill="#a5a5a5"/><rect x="772.6" fill="#9d9d9d"/><rect x="777.2" fill="#969696"/><rect x="781.8" fill="#929292"/><rect x="786.4" fill="#929292"/><rect x="791.0" fill="#929292"/></g>
<g transform="translate(0 133.7)"><rect x="593.2" fill="#969696"/><rect x="597.8" fill="#969696"/><rect x="602.4" fill="#969696"/><rect x="607.0" fill="#999999"/><rect x="611.6" fill="#9e9e9e"/><rect x="616.2" fill="#989898"/><rect x="620.8" fill="#8c8c8c"/><rect x="625.4" fill="#888888"/><rect x="630.0" fill="#8f8f8f"/><rect x="634.6" fill="#9c9c9c"/><rect x="639.2" fill="#a5a5a5"/><rect x="643.8" fill="#a3a3a3"/><rect x="648.4" fill="#969696"/><rect x="653.0" fill="#888888"/><rect x="657.6" fill="#818181"/><rect x="662.2" fill="#8a8a8a"/><rect x="666.8" fill="#9e9e9e"/><rect x="671.4" fill="#aeaeae"/><rect x="676.0" fill="#b5b5b5"/><rect x="680.6" fill="#b9b9b9"/><rect x="685.2" fill="#b7b7b7"/><rect x="689.8" fill="#a7a7a7"/><rect x="694.4" fill="#8c8c8c"/><rect x="699.0" fill="#777777"/><rect x="703.6" fill="#727272"/><rect x="708.2" fill="#808080"/><rect x="712.8" fill="#9a9a9a"/><rect x="717.4" fill="#b0b0b0"/><rect x="722.0" fill="#bababa"/><rect x="726.6" fill="#b9b9b9"/><rect x="731.2" fill="#b1b1b1"/><rect x="735.8" fill="#a4a4a4"/><rect x="740.4" fill="#999999"/><rect x="745.0" fill="#9a9a9a"/><rect x="749.6" fill="#a5a5a5"/><rect x="754.2" fill="#acacac"/><rect x="758.8" fill="#ababab"/><rect x="763.4" fill="#a6a6a6"/><rect x="768.0" fill="#a0a0a0"/><rect x="772.6" fill="#969696"/><rect x="777.2" fill="#8c8c8c"/><rect x="781.8" fill="#878787"/><rect x="786.4" fill="#878787"/><rect x="791.0" fill="#878787"/></g>
<g transform="translate(0 138.3)"><rect x="593.2" fill="#969696"/><rect x="597.8" fill="#969696"/><rect x="602.4" fill="#969696"/><rect x="607.0" fill="#999999"/><rect x="611.6" fill="#9e9e9e"/><rect x="616.2" fill="#989898"/><rect x="620.8" fill="#8c8c8c"/><rect x="625.4" fill="#888888"/><rect x="630.0" fill="#8f8f8f"/><rect x="634.6" fill="#9c9c9c"/><rect x="639.2" fill="#a5a5a5"/><rect x="643.8" fill="#a3a3a3"/><rect x="648.4" fill="#969696"/><rect x="653.0" fill="#888888"/><rect x="657.6" fill="#818181"/><rect x="662.2" fill="#8a8a8a"/><rect x="666.8" fill="#9e9e9e"/><rect x="671.4" fill="#aeaeae"/><rect x="676.0" fill="#b5b5b5"/><rect x="680.6" fill="#b9b9b9"/><rect x="685.2" fill="#b7b7b7"/><rect x="689.8" fill="#a7a7a7"/><rect x="694.4" fill="#8c8c8c"/><rect x="699.0" fill="#777777"/><rect x="703.6" fill="#727272"/><rect x="708.2" fill="#808080"/><rect x="712.8" fill="#9a9a9a"/><rect x="717.4" fill="#b0b0b0"/><rect x="722.0" fill="#bababa"/><rect x="726.6" fill="#b9b9b9"/><rect x="731.2" fill="#b1b1b1"/><rect x="735.8" fill="#a4a4a4"/><rect x="740.4" fill="#999999"/><rect x="745.0" fill="#9a9a9a"/><rect x="749.6" fill="#a5a5a5"/><rect x="754.2" fill="#acacac"/><rect x="758.8" fill="#ababab"/><rect x="763.4" fill="#a6a6a6"/><rect x="768.0" fill="#a0a0a0"/><rect x="772.6" fill="#969696"/><rect x="777.2" fill="#8c8c8c"/><rect x="781.8" fill="#878787"/><rect x="786.4" fill="#878787"/><rect x="791.0" fill="#878787"/></g>
<g transform="translate(0 142.9)"><rect x="593.2" fill="#969696"/><rect x="597.8" fill="#969696"/><rect x="602.4" fill="#969696"/><rect x="607.0" fill="#999999"/><rect x="611.6" fill="#9e9e9e"/><rect x="616.2" fill="#989898"/><rect x="620.8" fill="#8c8c8c"/><rect x="625.4" fill="#888888"/><rect x="630.0" fill="#8f8f8f"/><rect x="634.6" fill="#9c9c9c"/><rect x="639.2" fill="#a5a5a5"/><rect x="643.8" fill="#a3a3a3"/><rect x="648.4" fill="#969696"/><rect x="653.0" fill="#888888"/><rect x="657.6" fill="#818181"/><rect x="662.2" fill="#8a8a8a"/><rect x="666.8" fill="#9e9e9e"/><rect x="671.4" fill="#aeaeae"/><rect x="676.0" fill="#b5b5b5"/><rect x="680.6" fill="#b9b9b9"/><rect x="685.2" fill="#b7b7b7"/><rect x="689.8" fill="#a7a7a7"/><rect x="694.4" fill="#8c8c8c"/><rect x="699.0" fill="#777777"/><rect x="703.6" fill="#727272"/><rect x="708.2" fill="#808080"/><rect x="712.8" fill="#9a9a9a"/><rect x="717.4" fill="#b0b0b0"/><rect x="722.0" fill="#bababa"/><rect x="726.6" fill="#b9b9b9"/><rect x="731.2" fill="#b1b1b1"/><rect x="735.8" fill="#a4a4a4"/><rect x="740.4" fill="#999999"/><rect x="745.0" fill="#9a9a9a"/><rect x="749.6" fill="#a5a5a5"/><rect x="754.2" fill="#acacac"/><rect x="758.8" fill="#ababab"/><rect x="763.4" fill="#a6a6a6"/><rect x="768.0" fill="#a0a0a0"/><rect x="772.6" fill="#969696"/><rect x="777.2" fill="#8c8c8c"/><rect x="781.8" fill="#878787"/><rect x="786.4" fill="#878787"/><rect x="791.0" fill="#878787"/></g>
</g></g>
<path d="M602.4 0.3V138.3H786.4M602.4 138.3v4M602.4 138.3h-5M639.2 138.3v4M602.4 110.7h-5M676.0 138.3v4M602.4 83.1h-5M712.8 138.3v4M602.4 55.5h-5M749.6 138.3v4M602.4 27.9h-5M786.4 138.3v4M602.4 0.3h-5" stroke="#555" stroke-width="0.8" fill="none"/>
<text x="602.4" y="154.6" font-size="14.8" text-anchor="middle">0.0</text><text x="639.2" y="154.6" font-size="14.8" text-anchor="middle">0.2</text><text x="676.0" y="154.6" font-size="14.8" text-anchor="middle">0.4</text><text x="712.8" y="154.6" font-size="14.8" text-anchor="middle">0.6</text><text x="749.6" y="154.6" font-size="14.8" text-anchor="middle">0.8</text><text x="786.4" y="154.6" font-size="14.8" text-anchor="middle">1.0</text><text transform="translate(590.2 138.3) rotate(-90)" font-size="14.8" text-anchor="middle">0.0</text><text transform="translate(590.2 83.1) rotate(-90)" font-size="14.8" text-anchor="middle">0.4</text><text transform="translate(590.2 27.9) rotate(-90)" font-size="14.8" text-anchor="middle">0.8</text><text x="694.4" y="174.3" font-size="14.8" text-anchor="middle">x</text><text transform="translate(573.4 69.3) rotate(-90)" font-size="14.8" text-anchor="middle">y</text>
<rect x="611.2" y="191.0" width="166.0" height="11.5" fill="url(#cb)"/><path d="M611.2 202.5h166.0" stroke="#999" stroke-width="0.5"/><path d="M611.2 191.0h166.0" stroke="#888" stroke-width="0.8"/><text x="620.4" y="218.7" font-size="14.8" text-anchor="middle">−4</text><text x="657.3" y="218.7" font-size="14.8" text-anchor="middle">−2</text><text x="694.2" y="218.7" font-size="14.8" text-anchor="middle">0</text><text x="731.1" y="218.7" font-size="14.8" text-anchor="middle">2</text><text x="768.0" y="218.7" font-size="14.8" text-anchor="middle">4</text><path d="M620.4 202.5v3.5M657.3 202.5v3.5M694.2 202.5v3.5M731.1 202.5v3.5M768.0 202.5v3.5" stroke="#444" stroke-width="0.7" fill="none"/>
<text class="cap" x="661.4" y="258.4" font-size="19" textLength="18.2" lengthAdjust="spacingAndGlyphs">(c)</text><text class="cap" x="691.4" y="258.4" font-size="19" textLength="37.2" lengthAdjust="spacingAndGlyphs">CSC</text>
</g>
<g id="panel-d">
<g clip-path="url(#cpd)"><g class="h" filter="url(#fld)">
<g transform="translate(0 322.1)"><rect x="28.5" fill="#cecece"/><rect x="33.1" fill="#cecece"/><rect x="37.7" fill="#cecece"/><rect x="42.3" fill="#cbcbcb"/><rect x="46.9" fill="#c7c7c7"/><rect x="51.5" fill="#c3c3c3"/><rect x="56.1" fill="#c1c1c1"/><rect x="60.7" fill="#c2c2c2"/><rect x="65.3" fill="#c6c6c6"/><rect x="69.9" fill="#cdcdcd"/><rect x="74.5" fill="#d7d7d7"/><rect x="79.1" fill="#dfdfdf"/><rect x="83.7" fill="#e4e4e4"/><rect x="88.3" fill="#e5e5e5"/><rect x="92.9" fill="#e4e4e4"/><rect x="97.5" fill="#e8e8e8"/><rect x="102.1" fill="#f1f1f1"/><rect x="106.7" fill="#fbfbfb"/><rect x="111.3" fill="#ffffff"/><rect x="115.9" fill="#ffffff"/><rect x="120.5" fill="#f5f5f5"/><rect x="125.1" fill="#e2e2e2"/><rect x="129.7" fill="#cacaca"/><rect x="134.3" fill="#b7b7b7"/><rect x="138.9" fill="#adadad"/><rect x="143.5" fill="#a7a7a7"/><rect x="148.1" fill="#a3a3a3"/><rect x="152.7" fill="#a0a0a0"/><rect x="157.3" fill="#9e9e9e"/><rect x="161.9" fill="#9e9e9e"/><rect x="166.5" fill="#9f9f9f"/><rect x="171.1" fill="#a0a0a0"/><rect x="175.7" fill="#9f9f9f"/><rect x="180.3" fill="#989898"/><rect x="184.9" fill="#8c8c8c"/><rect x="189.5" fill="#7d7d7d"/><rect x="194.1" fill="#727272"/><rect x="198.7" fill="#717171"/><rect x="203.3" fill="#797979"/><rect x="207.9" fill="#848484"/><rect x="212.5" fill="#8c8c8c"/><rect x="217.1" fill="#909090"/><rect x="221.7" fill="#909090"/><rect x="226.3" fill="#909090"/></g>
<g transform="translate(0 326.7)"><rect x="28.5" fill="#cecece"/><rect x="33.1" fill="#cecece"/><rect x="37.7" fill="#cecece"/><rect x="42.3" fill="#cbcbcb"/><rect x="46.9" fill="#c7c7c7"/><rect x="51.5" fill="#c3c3c3"/><rect x="56.1" fill="#c1c1c1"/><rect x="60.7" fill="#c2c2c2"/><rect x="65.3" fill="#c6c6c6"/><rect x="69.9" fill="#cdcdcd"/><rect x="74.5" fill="#d7d7d7"/><rect x="79.1" fill="#dfdfdf"/><rect x="83.7" fill="#e4e4e4"/><rect x="88.3" fill="#e5e5e5"/><rect x="92.9" fill="#e4e4e4"/><rect x="97.5" fill="#e8e8e8"/><rect x="102.1" fill="#f1f1f1"/><rect x="106.7" fill="#fbfbfb"/><rect x="111.3" fill="#ffffff"/><rect x="115.9" fill="#ffffff"/><rect x="120.5" fill="#f5f5f5"/><rect x="125.1" fill="#e2e2e2"/><rect x="129.7" fill="#cacaca"/><rect x="134.3" fill="#b7b7b7"/><rect x="138.9" fill="#adadad"/><rect x="143.5" fill="#a7a7a7"/><rect x="148.1" fill="#a3a3a3"/><rect x="152.7" fill="#a0a0a0"/><rect x="157.3" fill="#9e9e9e"/><rect x="161.9" fill="#9e9e9e"/><rect x="166.5" fill="#9f9f9f"/><rect x="171.1" fill="#a0a0a0"/><rect x="175.7" fill="#9f9f9f"/><rect x="180.3" fill="#989898"/><rect x="184.9" fill="#8c8c8c"/><rect x="189.5" fill="#7d7d7d"/><rect x="194.1" fill="#727272"/><rect x="198.7" fill="#717171"/><rect x="203.3" fill="#797979"/><rect x="207.9" fill="#848484"/><rect x="212.5" fill="#8c8c8c"/><rect x="217.1" fill="#909090"/><rect x="221.7" fill="#909090"/><rect x="226.3" fill="#909090"/></g>
<g transform="translate(0 331.3)"><rect x="28.5" fill="#cecece"/><rect x="33.1" fill="#cecece"/><rect x="37.7" fill="#cecece"/><rect x="42.3" fill="#cbcbcb"/><rect x="46.9" fill="#c7c7c7"/><rect x="51.5" fill="#c3c3c3"/><rect x="56.1" fill="#c1c1c1"/><rect x="60.7" fill="#c2c2c2"/><rect x="65.3" fill="#c6c6c6"/><rect x="69.9" fill="#cdcdcd"/><rect x="74.5" fill="#d7d7d7"/><rect x="79.1" fill="#dfdfdf"/><rect x="83.7" fill="#e4e4e4"/><rect x="88.3" fill="#e5e5e5"/><rect x="92.9" fill="#e4e4e4"/><rect x="97.5" fill="#e8e8e8"/><rect x="102.1" fill="#f1f1f1"/><rect x="106.7" fill="#fbfbfb"/><rect x="111.3" fill="#ffffff"/><rect x="115.9" fill="#ffffff"/><rect x="120.5" fill="#f5f5f5"/><rect x="125.1" fill="#e2e2e2"/><rect x="129.7" fill="#cacaca"/><rect x="134.3" fill="#b7b7b7"/><rect x="138.9" fill="#adadad"/><rect x="143.5" fill="#a7a7a7"/><rect x="148.1" fill="#a3a3a3"/><rect x="152.7" fill="#a0a0a0"/><rect x="157.3" fill="#9e9e9e"/><rect x="161.9" fill="#9e9e9e"/><rect x="166.5" fill="#9f9f9f"/><rect x="171.1" fill="#a0a0a0"/><rect x="175.7" fill="#9f9f9f"/><rect x="180.3" fill="#989898"/><rect x="184.9" fill="#8c8c8c"/><rect x="189.5" fill="#7d7d7d"/><rect x="194.1" fill="#727272"/><rect x="198.7" fill="#717171"/><rect x="203.3" fill="#797979"/><rect x="207.9" fill="#848484"/><rect x="212.5" fill="#8c8c8c"/><rect x="217.1" fill="#909090"/><rect x="221.7" fill="#909090"/><rect x="226.3" fill="#909090"/></g>
<g transform="translate(0 335.9)"><rect x="28.5" fill="#cccccc"/><rect x="33.1" fill="#cccccc"/><rect x="37.7" fill="#cccccc"/><rect x="42.3" fill="#cacaca"/><rect x="46.9" fill="#c5c5c5"/><rect x="51.5" fill="#c0c0c0"/><rect x="56.1" fill="#bcbcbc"/><rect x="60.7" fill="#bdbdbd"/><rect x="65.3" fill="#c2c2c2"/><rect x="69.9" fill="#c9c9c9"/><rect x="74.5" fill="#d1d1d1"/><rect x="79.1" fill="#d8d8d8"/><rect x="83.7" fill="#dedede"/><rect x="88.3" fill="#e0e0e0"/><rect x="92.9" fill="#e0e0e0"/><rect x="97.5" fill="#e3e3e3"/><rect x="102.1" fill="#e9e9e9"/><rect x="106.7" fill="#eeeeee"/><rect x="111.3" fill="#efefef"/><rect x="115.9" fill="#eeeeee"/><rect x="120.5" fill="#e7e7e7"/><rect x="125.1" fill="#dadada"/><rect x="129.7" fill="#c8c8c8"/><rect x="134.3" fill="#b8b8b8"/><rect x="138.9" fill="#adadad"/><rect x="143.5" fill="#a7a7a7"/><rect x="148.1" fill="#a4a4a4"/><rect x="152.7" fill="#a2a2a2"/><rect x="157.3" fill="#a1a1a1"/><rect x="161.9" fill="#9f9f9f"/><rect x="166.5" fill="#9e9e9e"/><rect x="171.1" fill="#9b9b9b"/><rect x="175.7" fill="#969696"/><rect x="180.3" fill="#8f8f8f"/><rect x="184.9" fill="#868686"/><rect x="189.5" fill="#7a7a7a"/><rect x="194.1" fill="#6e6e6e"/><rect x="198.7" fill="#6c6c6c"/><rect x="203.3" fill="#747474"/><rect x="207.9" fill="#7e7e7e"/><rect x="212.5" fill="#868686"/><rect x="217.1" fill="#898989"/><rect x="221.7" fill="#898989"/><rect x="226.3" fill="#898989"/></g>
<g transform="translate(0 340.5)"><rect x="28.5" fill="#c4c4c4"/><rect x="33.1" fill="#c4c4c4"/><rect x="37.7" fill="#c4c4c4"/><rect x="42.3" fill="#c3c3c3"/><rect x="46.9" fill="#bfbfbf"/><rect x="51.5" fill="#b8b8b8"/><rect x="56.1" fill="#b2b2b2"/><rect x="60.7" fill="#b3b3b3"/><rect x="65.3" fill="#bbbbbb"/><rect x="69.9" fill="#c1c1c1"/><rect x="74.5" fill="#c6c6c6"/><rect x="79.1" fill="#cacaca"/><rect x="83.7" fill="#d0d0d0"/><rect x="88.3" fill="#d3d3d3"/><rect x="92.9" fill="#d4d4d4"/><rect x="97.5" fill="#d4d4d4"/><rect x="102.1" fill="#d3d3d3"/><rect x="106.7" fill="#d1d1d1"/><rect x="111.3" fill="#cdcdcd"/><rect x="115.9" fill="#cbcbcb"/><rect x="120.5" fill="#cacaca"/><rect x="125.1" fill="#c8c8c8"/><rect x="129.7" fill="#c2c2c2"/><rect x="134.3" fill="#b9b9b9"/><rect x="138.9" fill="#aeaeae"/><rect x="143.5" fill="#a8a8a8"/><rect x="148.1" fill="#a7a7a7"/><rect x="152.7" fill="#a7a7a7"/><rect x="157.3" fill="#a4a4a4"/><rect x="161.9" fill="#a0a0a0"/><rect x="166.5" fill="#9b9b9b"/><rect x="171.1" fill="#909090"/><rect x="175.7" fill="#848484"/><rect x="180.3" fill="#7d7d7d"/><rect x="184.9" fill="#7a7a7a"/><rect x="189.5" fill="#737373"/><rect x="194.1" fill="#676767"/><rect x="198.7" fill="#646464"/><rect x="203.3" fill="#6a6a6a"/><rect x="207.9" fill="#747474"/><rect x="212.5" fill="#7b7b7b"/><rect x="217.1" fill="#7e7e7e"/><rect x="221.7" fill="#7e7e7e"/><rect x="226.3" fill="#7e7e7e"/></g>
<g transform="translate(0 345.1)"><rect x="28.5" fill="#b3b3b3"/><rect x="33.1" fill="#b3b3b3"/><rect x="37.7" fill="#b3b3b3"/><rect x="42.3" fill="#afafaf"/><rect x="46.9" fill="#acacac"/><rect x="51.5" fill="#aaaaaa"/><rect x="56.1" fill="#a8a8a8"/><rect x="60.7" fill="#adadad"/><rect x="65.3" fill="#b6b6b6"/><rect x="69.9" fill="#bebebe"/><rect x="74.5" fill="#c1c1c1"/><rect x="79.1" fill="#c2c2c2"/><rect x="83.7" fill="#c1c1c1"/><rect x="88.3" fill="#bebebe"/><rect x="92.9" fill="#b8b8b8"/><rect x="97.5" fill="#b5b5b5"/><rect x="102.1" fill="#b3b3b3"/><rect x="106.7" fill="#b1b1b1"/><rect x="111.3" fill="#afafaf"/><rect x="115.9" fill="#adadad"/><rect x="120.5" fill="#afafaf"/><rect x="125.1" fill="#b2b2b2"/><rect x="129.7" fill="#b4b4b4"/><rect x="134.3" fill="#b3b3b3"/><rect x="138.9" fill="#afafaf"/><rect x="143.5" fill="#adadad"/><rect x="148.1" fill="#acacac"/><rect x="152.7" fill="#aaaaaa"/><rect x="157.3" fill="#a4a4a4"/><rect x="161.9" fill="#9b9b9b"/><rect x="166.5" fill="#8e8e8e"/><rect x="171.1" fill="#808080"/><rect x="175.7" fill="#737373"/><rect x="180.3" fill="#6e6e6e"/><rect x="184.9" fill="#707070"/><rect x="189.5" fill="#6d6d6d"/><rect x="194.1" fill="#656565"/><rect x="198.7" fill="#616161"/><rect x="203.3" fill="#666666"/><rect x="207.9" fill="#6e6e6e"/><rect x="212.5" fill="#757575"/><rect x="217.1" fill="#787878"/><rect x="221.7" fill="#787878"/><rect x="226.3" fill="#787878"/></g>
<g transform="translate(0 349.7)"><rect x="28.5" fill="#979797"/><rect x="33.1" fill="#979797"/><rect x="37.7" fill="#979797"/><rect x="42.3" fill="#909090"/><rect x="46.9" fill="#8e8e8e"/><rect x="51.5" fill="#969696"/><rect x="56.1" fill="#a0a0a0"/><rect x="60.7" fill="#acacac"/><rect x="65.3" fill="#b8b8b8"/><rect x="69.9" fill="#c2c2c2"/><rect x="74.5" fill="#c7c7c7"/><rect x="79.1" fill="#c3c3c3"/><rect x="83.7" fill="#b7b7b7"/><rect x="88.3" fill="#a5a5a5"/><rect x="92.9" fill="#929292"/><rect x="97.5" fill="#898989"/><rect x="102.1" fill="#8f8f8f"/><rect x="106.7" fill="#979797"/><rect x="111.3" fill="#9d9d9d"/><rect x="115.9" fill="#9f9f9f"/><rect x="120.5" fill="#a0a0a0"/><rect x="125.1" fill="#a1a1a1"/><rect x="129.7" fill="#a4a4a4"/><rect x="134.3" fill="#a9a9a9"/><rect x="138.9" fill="#afafaf"/><rect x="143.5" fill="#b2b2b2"/><rect x="148.1" fill="#b0b0b0"/><rect x="152.7" fill="#aaaaaa"/><rect x="157.3" fill="#9f9f9f"/><rect x="161.9" fill="#8f8f8f"/><rect x="166.5" fill="#7d7d7d"/><rect x="171.1" fill="#6f6f6f"/><rect x="175.7" fill="#686868"/><rect x="180.3" fill="#676767"/><rect x="184.9" fill="#696969"/><rect x="189.5" fill="#696969"/><rect x="194.1" fill="#666666"/><rect x="198.7" fill="#656565"/><rect x="203.3" fill="#686868"/><rect x="207.9" fill="#6e6e6e"/><rect x="212.5" fill="#757575"/><rect x="217.1" fill="#797979"/><rect x="221.7" fill="#797979"/><rect x="226.3" fill="#797979"/></g>
<g transform="translate(0 354.3)"><rect x="28.5" fill="#818181"/><rect x="33.1" fill="#818181"/><rect x="37.7" fill="#818181"/><rect x="42.3" fill="#737373"/><rect x="46.9" fill="#737373"/><rect x="51.5" fill="#838383"/><rect x="56.1" fill="#999999"/><rect x="60.7" fill="#adadad"/><rect x="65.3" fill="#bfbfbf"/><rect x="69.9" fill="#cdcdcd"/><rect x="74.5" fill="#d3d3d3"/><rect x="79.1" fill="#cacaca"/><rect x="83.7" fill="#b4b4b4"/><rect x="88.3" fill="#969696"/><rect x="92.9" fill="#757575"/><rect x="97.5" fill="#676767"/><rect x="102.1" fill="#747474"/><rect x="106.7" fill="#888888"/><rect x="111.3" fill="#969696"/><rect x="115.9" fill="#9e9e9e"/><rect x="120.5" fill="#a0a0a0"/><rect x="125.1" fill="#9f9f9f"/><rect x="129.7" fill="#9f9f9f"/><rect x="134.3" fill="#a5a5a5"/><rect x="138.9" fill="#aeaeae"/><rect x="143.5" fill="#b2b2b2"/><rect x="148.1" fill="#adadad"/><rect x="152.7" fill="#a3a3a3"/><rect x="157.3" fill="#959595"/><rect x="161.9" fill="#848484"/><rect x="166.5" fill="#727272"/><rect x="171.1" fill="#666666"/><rect x="175.7" fill="#626262"/><rect x="180.3" fill="#616161"/><rect x="184.9" fill="#626262"/><rect x="189.5" fill="#636363"/><rect x="194.1" fill="#656565"/><rect x="198.7" fill="#676767"/><rect x="203.3" fill="#6b6b6b"/><rect x="207.9" fill="#707070"/><rect x="212.5" fill="#767676"/><rect x="217.1" fill="#797979"/><rect x="221.7" fill="#797979"/><rect x="226.3" fill="#797979"/></g>
<g transform="translate(0 358.9)"><rect x="28.5" fill="#7b7b7b"/><rect x="33.1" fill="#7b7b7b"/><rect x="37.7" fill="#7b7b7b"/><rect x="42.3" fill="#6d6d6d"/><rect x="46.9" fill="#6c6c6c"/><rect x="51.5" fill="#7e7e7e"/><rect x="56.1" fill="#979797"/><rect x="60.7" fill="#b0b0b0"/><rect x="65.3" fill="#c8c8c8"/><rect x="69.9" fill="#dadada"/><rect x="74.5" fill="#dfdfdf"/><rect x="79.1" fill="#d3d3d3"/><rect x="83.7" fill="#b8b8b8"/><rect x="88.3" fill="#979797"/><rect x="92.9" fill="#757575"/><rect x="97.5" fill="#676767"/><rect x="102.1" fill="#747474"/><rect x="106.7" fill="#898989"/><rect x="111.3" fill="#999999"/><rect x="115.9" fill="#a4a4a4"/><rect x="120.5" fill="#ababab"/><rect x="125.1" fill="#ababab"/><rect x="129.7" fill="#a7a7a7"/><rect x="134.3" fill="#a8a8a8"/><rect x="138.9" fill="#acacac"/><rect x="143.5" fill="#ababab"/><rect x="148.1" fill="#a2a2a2"/><rect x="152.7" fill="#969696"/><rect x="157.3" fill="#898989"/><rect x="161.9" fill="#7b7b7b"/><rect x="166.5" fill="#6f6f6f"/><rect x="171.1" fill="#656565"/><rect x="175.7" fill="#5d5d5d"/><rect x="180.3" fill="#585858"/><rect x="184.9" fill="#555555"/><rect x="189.5" fill="#585858"/><rect x="194.1" fill="#5e5e5e"/><rect x="198.7" fill="#646464"/><rect x="203.3" fill="#6a6a6a"/><rect x="207.9" fill="#707070"/><rect x="212.5" fill="#757575"/><rect x="217.1" fill="#787878"/><rect x="221.7" fill="#787878"/><rect x="226.3" fill="#787878"/></g>
<g transform="translate(0 363.5)"><rect x="28.5" fill="#838383"/><rect x="33.1" fill="#838383"/><rect x="37.7" fill="#838383"/><rect x="42.3" fill="#7b7b7b"/><rect x="46.9" fill="#7b7b7b"/><rect x="51.5" fill="#878787"/><rect x="56.1" fill="#9b9b9b"/><rect x="60.7" fill="#b4b4b4"/><rect x="65.3" fill="#cfcfcf"/><rect x="69.9" fill="#e2e2e2"/><rect x="74.5" fill="#e7e7e7"/><rect x="79.1" fill="#dadada"/><rect x="83.7" fill="#bfbfbf"/><rect x="88.3" fill="#a2a2a2"/><rect x="92.9" fill="#8a8a8a"/><rect x="97.5" fill="#818181"/><rect x="102.1" fill="#8a8a8a"/><rect x="106.7" fill="#999999"/><rect x="111.3" fill="#a5a5a5"/><rect x="115.9" fill="#afafaf"/><rect x="120.5" fill="#b4b4b4"/><rect x="125.1" fill="#b3b3b3"/><rect x="129.7" fill="#adadad"/><rect x="134.3" fill="#aaaaaa"/><rect x="138.9" fill="#a9a9a9"/><rect x="143.5" fill="#a3a3a3"/><rect x="148.1" fill="#989898"/><rect x="152.7" fill="#898989"/><rect x="157.3" fill="#7c7c7c"/><rect x="161.9" fill="#717171"/><rect x="166.5" fill="#696969"/><rect x="171.1" fill="#5f5f5f"/><rect x="175.7" fill="#535353"/><rect x="180.3" fill="#474747"/><rect x="184.9" fill="#3f3f3f"/><rect x="189.5" fill="#434343"/><rect x="194.1" fill="#4f4f4f"/><rect x="198.7" fill="#5d5d5d"/><rect x="203.3" fill="#676767"/><rect x="207.9" fill="#6f6f6f"/><rect x="212.5" fill="#757575"/><rect x="217.1" fill="#787878"/><rect x="221.7" fill="#787878"/><rect x="226.3" fill="#787878"/></g>
<g transform="translate(0 368.1)"><rect x="28.5" fill="#8c8c8c"/><rect x="33.1" fill="#8c8c8c"/><rect x="37.7" fill="#8c8c8c"/><rect x="42.3" fill="#898989"/><rect x="46.9" fill="#8a8a8a"/><rect x="51.5" fill="#919191"/><rect x="56.1" fill="#9f9f9f"/><rect x="60.7" fill="#b4b4b4"/><rect x="65.3" fill="#cccccc"/><rect x="69.9" fill="#dedede"/><rect x="74.5" fill="#e3e3e3"/><rect x="79.1" fill="#d8d8d8"/><rect x="83.7" fill="#c1c1c1"/><rect x="88.3" fill="#a9a9a9"/><rect x="92.9" fill="#999999"/><rect x="97.5" fill="#979797"/><rect x="102.1" fill="#a1a1a1"/><rect x="106.7" fill="#adadad"/><rect x="111.3" fill="#b5b5b5"/><rect x="115.9" fill="#bbbbbb"/><rect x="120.5" fill="#bcbcbc"/><rect x="125.1" fill="#b7b7b7"/><rect x="129.7" fill="#afafaf"/><rect x="134.3" fill="#a9a9a9"/><rect x="138.9" fill="#a5a5a5"/><rect x="143.5" fill="#9d9d9d"/><rect x="148.1" fill="#8f8f8f"/><rect x="152.7" fill="#7f7f7f"/><rect x="157.3" fill="#727272"/><rect x="161.9" fill="#686868"/><rect x="166.5" fill="#606060"/><rect x="171.1" fill="#555555"/><rect x="175.7" fill="#464646"/><rect x="180.3" fill="#353535"/><rect x="184.9" fill="#292929"/><rect x="189.5" fill="#2e2e2e"/><rect x="194.1" fill="#414141"/><rect x="198.7" fill="#555555"/><rect x="203.3" fill="#636363"/><rect x="207.9" fill="#6e6e6e"/><rect x="212.5" fill="#767676"/><rect x="217.1" fill="#797979"/><rect x="221.7" fill="#797979"/><rect x="226.3" fill="#797979"/></g>
<g transform="translate(0 372.7)"><rect x="28.5" fill="#898989"/><rect x="33.1" fill="#898989"/><rect x="37.7" fill="#898989"/><rect x="42.3" fill="#898989"/><rect x="46.9" fill="#8b8b8b"/><rect x="51.5" fill="#919191"/><rect x="56.1" fill="#9a9a9a"/><rect x="60.7" fill="#a9a9a9"/><rect x="65.3" fill="#bbbbbb"/><rect x="69.9" fill="#c8c8c8"/><rect x="74.5" fill="#cccccc"/><rect x="79.1" fill="#c4c4c4"/><rect x="83.7" fill="#b3b3b3"/><rect x="88.3" fill="#a2a2a2"/><rect x="92.9" fill="#989898"/><rect x="97.5" fill="#9b9b9b"/><rect x="102.1" fill="#a8a8a8"/><rect x="106.7" fill="#b6b6b6"/><rect x="111.3" fill="#c0c0c0"/><rect x="115.9" fill="#c7c7c7"/><rect x="120.5" fill="#c8c8c8"/><rect x="125.1" fill="#c2c2c2"/><rect x="129.7" fill="#b4b4b4"/><rect x="134.3" fill="#a8a8a8"/><rect x="138.9" fill="#9f9f9f"/><rect x="143.5" fill="#959595"/><rect x="148.1" fill="#878787"/><rect x="152.7" fill="#797979"/><rect x="157.3" fill="#6d6d6d"/><rect x="161.9" fill="#636363"/><rect x="166.5" fill="#5a5a5a"/><rect x="171.1" fill="#4f4f4f"/><rect x="175.7" fill="#414141"/><rect x="180.3" fill="#323232"/><rect x="184.9" fill="#292929"/><rect x="189.5" fill="#2e2e2e"/><rect x="194.1" fill="#414141"/><rect x="198.7" fill="#545454"/><rect x="203.3" fill="#626262"/><rect x="207.9" fill="#6d6d6d"/><rect x="212.5" fill="#767676"/><rect x="217.1" fill="#7a7a7a"/><rect x="221.7" fill="#7a7a7a"/><rect x="226.3" fill="#7a7a7a"/></g>
<g transform="translate(0 377.3)"><rect x="28.5" fill="#7a7a7a"/><rect x="33.1" fill="#7a7a7a"/><rect x="37.7" fill="#7a7a7a"/><rect x="42.3" fill="#7b7b7b"/><rect x="46.9" fill="#7f7f7f"/><rect x="51.5" fill="#848484"/><rect x="56.1" fill="#8a8a8a"/><rect x="60.7" fill="#939393"/><rect x="65.3" fill="#9e9e9e"/><rect x="69.9" fill="#a6a6a6"/><rect x="74.5" fill="#a7a7a7"/><rect x="79.1" fill="#a3a3a3"/><rect x="83.7" fill="#9a9a9a"/><rect x="88.3" fill="#919191"/><rect x="92.9" fill="#8b8b8b"/><rect x="97.5" fill="#919191"/><rect x="102.1" fill="#a0a0a0"/><rect x="106.7" fill="#b1b1b1"/><rect x="111.3" fill="#bfbfbf"/><rect x="115.9" fill="#cccccc"/><rect x="120.5" fill="#d3d3d3"/><rect x="125.1" fill="#cccccc"/><rect x="129.7" fill="#b8b8b8"/><rect x="134.3" fill="#a4a4a4"/><rect x="138.9" fill="#959595"/><rect x="143.5" fill="#888888"/><rect x="148.1" fill="#7c7c7c"/><rect x="152.7" fill="#717171"/><rect x="157.3" fill="#696969"/><rect x="161.9" fill="#616161"/><rect x="166.5" fill="#5a5a5a"/><rect x="171.1" fill="#515151"/><rect x="175.7" fill="#474747"/><rect x="180.3" fill="#404040"/><rect x="184.9" fill="#3e3e3e"/><rect x="189.5" fill="#444444"/><rect x="194.1" fill="#505050"/><rect x="198.7" fill="#5c5c5c"/><rect x="203.3" fill="#656565"/><rect x="207.9" fill="#6e6e6e"/><rect x="212.5" fill="#757575"/><rect x="217.1" fill="#797979"/><rect x="221.7" fill="#797979"/><rect x="226.3" fill="#797979"/></g>
<g transform="translate(0 381.9)"><rect x="28.5" fill="#676767"/><rect x="33.1" fill="#676767"/><rect x="37.7" fill="#676767"/><rect x="42.3" fill="#696969"/><rect x="46.9" fill="#6d6d6d"/><rect x="51.5" fill="#717171"/><rect x="56.1" fill="#747474"/><rect x="60.7" fill="#797979"/><rect x="65.3" fill="#7f7f7f"/><rect x="69.9" fill="#858585"/><rect x="74.5" fill="#888888"/><rect x="79.1" fill="#888888"/><rect x="83.7" fill="#868686"/><rect x="88.3" fill="#828282"/><rect x="92.9" fill="#808080"/><rect x="97.5" fill="#868686"/><rect x="102.1" fill="#939393"/><rect x="106.7" fill="#a1a1a1"/><rect x="111.3" fill="#aeaeae"/><rect x="115.9" fill="#bcbcbc"/><rect x="120.5" fill="#c6c6c6"/><rect x="125.1" fill="#c0c0c0"/><rect x="129.7" fill="#acacac"/><rect x="134.3" fill="#959595"/><rect x="138.9" fill="#848484"/><rect x="143.5" fill="#757575"/><rect x="148.1" fill="#6a6a6a"/><rect x="152.7" fill="#626262"/><rect x="157.3" fill="#5e5e5e"/><rect x="161.9" fill="#5c5c5c"/><rect x="166.5" fill="#5b5b5b"/><rect x="171.1" fill="#575757"/><rect x="175.7" fill="#515151"/><rect x="180.3" fill="#4f4f4f"/><rect x="184.9" fill="#515151"/><rect x="189.5" fill="#575757"/><rect x="194.1" fill="#5e5e5e"/><rect x="198.7" fill="#646464"/><rect x="203.3" fill="#696969"/><rect x="207.9" fill="#6f6f6f"/><rect x="212.5" fill="#767676"/><rect x="217.1" fill="#797979"/><rect x="221.7" fill="#797979"/><rect x="226.3" fill="#797979"/></g>
<g transform="translate(0 386.5)"><rect x="28.5" fill="#555555"/><rect x="33.1" fill="#555555"/><rect x="37.7" fill="#555555"/><rect x="42.3" fill="#575757"/><rect x="46.9" fill="#5b5b5b"/><rect x="51.5" fill="#5d5d5d"/><rect x="56.1" fill="#5d5d5d"/><rect x="60.7" fill="#5f5f5f"/><rect x="65.3" fill="#636363"/><rect x="69.9" fill="#6a6a6a"/><rect x="74.5" fill="#727272"/><rect x="79.1" fill="#777777"/><rect x="83.7" fill="#787878"/><rect x="88.3" fill="#787878"/><rect x="92.9" fill="#7a7a7a"/><rect x="97.5" fill="#7f7f7f"/><rect x="102.1" fill="#868686"/><rect x="106.7" fill="#8d8d8d"/><rect x="111.3" fill="#949494"/><rect x="115.9" fill="#9c9c9c"/><rect x="120.5" fill="#a2a2a2"/><rect x="125.1" fill="#9f9f9f"/><rect x="129.7" fill="#919191"/><rect x="134.3" fill="#7f7f7f"/><rect x="138.9" fill="#6d6d6d"/><rect x="143.5" fill="#5f5f5f"/><rect x="148.1" fill="#545454"/><rect x="152.7" fill="#4e4e4e"/><rect x="157.3" fill="#4c4c4c"/><rect x="161.9" fill="#525252"/><rect x="166.5" fill="#5b5b5b"/><rect x="171.1" fill="#5e5e5e"/><rect x="175.7" fill="#5b5b5b"/><rect x="180.3" fill="#595959"/><rect x="184.9" fill="#5c5c5c"/><rect x="189.5" fill="#616161"/><rect x="194.1" fill="#666666"/><rect x="198.7" fill="#6a6a6a"/><rect x="203.3" fill="#6d6d6d"/><rect x="207.9" fill="#727272"/><rect x="212.5" fill="#787878"/><rect x="217.1" fill="#7b7b7b"/><rect x="221.7" fill="#7b7b7b"/><rect x="226.3" fill="#7b7b7b"/></g>
<g transform="translate(0 391.1)"><rect x="28.5" fill="#424242"/><rect x="33.1" fill="#424242"/><rect x="37.7" fill="#424242"/><rect x="42.3" fill="#444444"/><rect x="46.9" fill="#484848"/><rect x="51.5" fill="#4a4a4a"/><rect x="56.1" fill="#494949"/><rect x="60.7" fill="#4a4a4a"/><rect x="65.3" fill="#4d4d4d"/><rect x="69.9" fill="#535353"/><rect x="74.5" fill="#5c5c5c"/><rect x="79.1" fill="#626262"/><rect x="83.7" fill="#666666"/><rect x="88.3" fill="#6a6a6a"/><rect x="92.9" fill="#707070"/><rect x="97.5" fill="#747474"/><rect x="102.1" fill="#787878"/><rect x="106.7" fill="#7b7b7b"/><rect x="111.3" fill="#7f7f7f"/><rect x="115.9" fill="#828282"/><rect x="120.5" fill="#848484"/><rect x="125.1" fill="#828282"/><rect x="129.7" fill="#7b7b7b"/><rect x="134.3" fill="#6c6c6c"/><rect x="138.9" fill="#5a5a5a"/><rect x="143.5" fill="#4a4a4a"/><rect x="148.1" fill="#414141"/><rect x="152.7" fill="#3d3d3d"/><rect x="157.3" fill="#414141"/><rect x="161.9" fill="#4b4b4b"/><rect x="166.5" fill="#585858"/><rect x="171.1" fill="#5f5f5f"/><rect x="175.7" fill="#5f5f5f"/><rect x="180.3" fill="#606060"/><rect x="184.9" fill="#636363"/><rect x="189.5" fill="#686868"/><rect x="194.1" fill="#6c6c6c"/><rect x="198.7" fill="#6e6e6e"/><rect x="203.3" fill="#717171"/><rect x="207.9" fill="#767676"/><rect x="212.5" fill="#7c7c7c"/><rect x="217.1" fill="#7f7f7f"/><rect x="221.7" fill="#7f7f7f"/><rect x="226.3" fill="#7f7f7f"/></g>
<g transform="translate(0 395.7)"><rect x="28.5" fill="#323232"/><rect x="33.1" fill="#323232"/><rect x="37.7" fill="#323232"/><rect x="42.3" fill="#343434"/><rect x="46.9" fill="#373737"/><rect x="51.5" fill="#393939"/><rect x="56.1" fill="#3a3a3a"/><rect x="60.7" fill="#3c3c3c"/><rect x="65.3" fill="#3f3f3f"/><rect x="69.9" fill="#434343"/><rect x="74.5" fill="#474747"/><rect x="79.1" fill="#4c4c4c"/><rect x="83.7" fill="#515151"/><rect x="88.3" fill="#575757"/><rect x="92.9" fill="#5d5d5d"/><rect x="97.5" fill="#646464"/><rect x="102.1" fill="#6a6a6a"/><rect x="106.7" fill="#707070"/><rect x="111.3" fill="#797979"/><rect x="115.9" fill="#7e7e7e"/><rect x="120.5" fill="#7b7b7b"/><rect x="125.1" fill="#767676"/><rect x="129.7" fill="#707070"/><rect x="134.3" fill="#626262"/><rect x="138.9" fill="#4e4e4e"/><rect x="143.5" fill="#3c3c3c"/><rect x="148.1" fill="#343434"/><rect x="152.7" fill="#353535"/><rect x="157.3" fill="#3d3d3d"/><rect x="161.9" fill="#484848"/><rect x="166.5" fill="#525252"/><rect x="171.1" fill="#5a5a5a"/><rect x="175.7" fill="#5f5f5f"/><rect x="180.3" fill="#636363"/><rect x="184.9" fill="#686868"/><rect x="189.5" fill="#6d6d6d"/><rect x="194.1" fill="#707070"/><rect x="198.7" fill="#727272"/><rect x="203.3" fill="#747474"/><rect x="207.9" fill="#797979"/><rect x="212.5" fill="#808080"/><rect x="217.1" fill="#838383"/><rect x="221.7" fill="#838383"/><rect x="226.3" fill="#838383"/></g>
<g transform="translate(0 400.3)"><rect x="28.5" fill="#2a2a2a"/><rect x="33.1" fill="#2a2a2a"/><rect x="37.7" fill="#2a2a2a"/><rect x="42.3" fill="#292929"/><rect x="46.9" fill="#282828"/><rect x="51.5" fill="#2a2a2a"/><rect x="56.1" fill="#2f2f2f"/><rect x="60.7" fill="#353535"/><rect x="65.3" fill="#3a3a3a"/><rect x="69.9" fill="#3e3e3e"/><rect x="74.5" fill="#404040"/><rect x="79.1" fill="#414141"/><rect x="83.7" fill="#414141"/><rect x="88.3" fill="#434343"/><rect x="92.9" fill="#474747"/><rect x="97.5" fill="#4f4f4f"/><rect x="102.1" fill="#5b5b5b"/><rect x="106.7" fill="#6a6a6a"/><rect x="111.3" fill="#7e7e7e"/><rect x="115.9" fill="#8b8b8b"/><rect x="120.5" fill="#818181"/><rect x="125.1" fill="#737373"/><rect x="129.7" fill="#6a6a6a"/><rect x="134.3" fill="#5d5d5d"/><rect x="138.9" fill="#4a4a4a"/><rect x="143.5" fill="#393939"/><rect x="148.1" fill="#303030"/><rect x="152.7" fill="#303030"/><rect x="157.3" fill="#393939"/><rect x="161.9" fill="#434343"/><rect x="166.5" fill="#4b4b4b"/><rect x="171.1" fill="#535353"/><rect x="175.7" fill="#5a5a5a"/><rect x="180.3" fill="#626262"/><rect x="184.9" fill="#686868"/><rect x="189.5" fill="#6d6d6d"/><rect x="194.1" fill="#717171"/><rect x="198.7" fill="#747474"/><rect x="203.3" fill="#787878"/><rect x="207.9" fill="#7c7c7c"/><rect x="212.5" fill="#828282"/><rect x="217.1" fill="#848484"/><rect x="221.7" fill="#848484"/><rect x="226.3" fill="#848484"/></g>
<g transform="translate(0 404.9)"><rect x="28.5" fill="#2c2c2c"/><rect x="33.1" fill="#2c2c2c"/><rect x="37.7" fill="#2c2c2c"/><rect x="42.3" fill="#282828"/><rect x="46.9" fill="#222222"/><rect x="51.5" fill="#232323"/><rect x="56.1" fill="#2c2c2c"/><rect x="60.7" fill="#353535"/><rect x="65.3" fill="#3c3c3c"/><rect x="69.9" fill="#414141"/><rect x="74.5" fill="#434343"/><rect x="79.1" fill="#414141"/><rect x="83.7" fill="#3b3b3b"/><rect x="88.3" fill="#353535"/><rect x="92.9" fill="#343434"/><rect x="97.5" fill="#3c3c3c"/><rect x="102.1" fill="#4e4e4e"/><rect x="106.7" fill="#626262"/><rect x="111.3" fill="#797979"/><rect x="115.9" fill="#888888"/><rect x="120.5" fill="#7e7e7e"/><rect x="125.1" fill="#6e6e6e"/><rect x="129.7" fill="#636363"/><rect x="134.3" fill="#585858"/><rect x="138.9" fill="#4b4b4b"/><rect x="143.5" fill="#3e3e3e"/><rect x="148.1" fill="#343434"/><rect x="152.7" fill="#323232"/><rect x="157.3" fill="#363636"/><rect x="161.9" fill="#3e3e3e"/><rect x="166.5" fill="#464646"/><rect x="171.1" fill="#4e4e4e"/><rect x="175.7" fill="#565656"/><rect x="180.3" fill="#5d5d5d"/><rect x="184.9" fill="#656565"/><rect x="189.5" fill="#6b6b6b"/><rect x="194.1" fill="#707070"/><rect x="198.7" fill="#757575"/><rect x="203.3" fill="#7b7b7b"/><rect x="207.9" fill="#7f7f7f"/><rect x="212.5" fill="#828282"/><rect x="217.1" fill="#838383"/><rect x="221.7" fill="#838383"/><rect x="226.3" fill="#838383"/></g>
<g transform="translate(0 409.5)"><rect x="28.5" fill="#343434"/><rect x="33.1" fill="#343434"/><rect x="37.7" fill="#343434"/><rect x="42.3" fill="#303030"/><rect x="46.9" fill="#2b2b2b"/><rect x="51.5" fill="#2b2b2b"/><rect x="56.1" fill="#323232"/><rect x="60.7" fill="#373737"/><rect x="65.3" fill="#393939"/><rect x="69.9" fill="#3c3c3c"/><rect x="74.5" fill="#3f3f3f"/><rect x="79.1" fill="#404040"/><rect x="83.7" fill="#3b3b3b"/><rect x="88.3" fill="#343434"/><rect x="92.9" fill="#303030"/><rect x="97.5" fill="#363636"/><rect x="102.1" fill="#464646"/><rect x="106.7" fill="#575757"/><rect x="111.3" fill="#666666"/><rect x="115.9" fill="#6e6e6e"/><rect x="120.5" fill="#696969"/><rect x="125.1" fill="#606060"/><rect x="129.7" fill="#575757"/><rect x="134.3" fill="#505050"/><rect x="138.9" fill="#4a4a4a"/><rect x="143.5" fill="#444444"/><rect x="148.1" fill="#3f3f3f"/><rect x="152.7" fill="#3d3d3d"/><rect x="157.3" fill="#404040"/><rect x="161.9" fill="#444444"/><rect x="166.5" fill="#484848"/><rect x="171.1" fill="#4d4d4d"/><rect x="175.7" fill="#545454"/><rect x="180.3" fill="#5c5c5c"/><rect x="184.9" fill="#656565"/><rect x="189.5" fill="#6c6c6c"/><rect x="194.1" fill="#717171"/><rect x="198.7" fill="#777777"/><rect x="203.3" fill="#7d7d7d"/><rect x="207.9" fill="#828282"/><rect x="212.5" fill="#838383"/><rect x="217.1" fill="#838383"/><rect x="221.7" fill="#838383"/><rect x="226.3" fill="#838383"/></g>
<g transform="translate(0 414.1)"><rect x="28.5" fill="#3f3f3f"/><rect x="33.1" fill="#3f3f3f"/><rect x="37.7" fill="#3f3f3f"/><rect x="42.3" fill="#3f3f3f"/><rect x="46.9" fill="#3e3e3e"/><rect x="51.5" fill="#3d3d3d"/><rect x="56.1" fill="#3c3c3c"/><rect x="60.7" fill="#363636"/><rect x="65.3" fill="#2f2f2f"/><rect x="69.9" fill="#2d2d2d"/><rect x="74.5" fill="#313131"/><rect x="79.1" fill="#373737"/><rect x="83.7" fill="#3c3c3c"/><rect x="88.3" fill="#3b3b3b"/><rect x="92.9" fill="#393939"/><rect x="97.5" fill="#3b3b3b"/><rect x="102.1" fill="#444444"/><rect x="106.7" fill="#4d4d4d"/><rect x="111.3" fill="#535353"/><rect x="115.9" fill="#555555"/><rect x="120.5" fill="#515151"/><rect x="125.1" fill="#4c4c4c"/><rect x="129.7" fill="#484848"/><rect x="134.3" fill="#464646"/><rect x="138.9" fill="#464646"/><rect x="143.5" fill="#474747"/><rect x="148.1" fill="#494949"/><rect x="152.7" fill="#4d4d4d"/><rect x="157.3" fill="#525252"/><rect x="161.9" fill="#535353"/><rect x="166.5" fill="#505050"/><rect x="171.1" fill="#515151"/><rect x="175.7" fill="#575757"/><rect x="180.3" fill="#626262"/><rect x="184.9" fill="#6d6d6d"/><rect x="189.5" fill="#747474"/><rect x="194.1" fill="#767676"/><rect x="198.7" fill="#797979"/><rect x="203.3" fill="#7d7d7d"/><rect x="207.9" fill="#818181"/><rect x="212.5" fill="#848484"/><rect x="217.1" fill="#858585"/><rect x="221.7" fill="#858585"/><rect x="226.3" fill="#858585"/></g>
<g transform="translate(0 418.7)"><rect x="28.5" fill="#484848"/><rect x="33.1" fill="#484848"/><rect x="37.7" fill="#484848"/><rect x="42.3" fill="#4a4a4a"/><rect x="46.9" fill="#4d4d4d"/><rect x="51.5" fill="#4a4a4a"/><rect x="56.1" fill="#3f3f3f"/><rect x="60.7" fill="#2f2f2f"/><rect x="65.3" fill="#212121"/><rect x="69.9" fill="#1c1c1c"/><rect x="74.5" fill="#232323"/><rect x="79.1" fill="#2d2d2d"/><rect x="83.7" fill="#353535"/><rect x="88.3" fill="#3a3a3a"/><rect x="92.9" fill="#3b3b3b"/><rect x="97.5" fill="#3c3c3c"/><rect x="102.1" fill="#404040"/><rect x="106.7" fill="#444444"/><rect x="111.3" fill="#464646"/><rect x="115.9" fill="#464646"/><rect x="120.5" fill="#444444"/><rect x="125.1" fill="#414141"/><rect x="129.7" fill="#3e3e3e"/><rect x="134.3" fill="#3e3e3e"/><rect x="138.9" fill="#414141"/><rect x="143.5" fill="#464646"/><rect x="148.1" fill="#4c4c4c"/><rect x="152.7" fill="#545454"/><rect x="157.3" fill="#5a5a5a"/><rect x="161.9" fill="#5a5a5a"/><rect x="166.5" fill="#565656"/><rect x="171.1" fill="#585858"/><rect x="175.7" fill="#626262"/><rect x="180.3" fill="#727272"/><rect x="184.9" fill="#808080"/><rect x="189.5" fill="#858585"/><rect x="194.1" fill="#808080"/><rect x="198.7" fill="#797979"/><rect x="203.3" fill="#767676"/><rect x="207.9" fill="#797979"/><rect x="212.5" fill="#7e7e7e"/><rect x="217.1" fill="#818181"/><rect x="221.7" fill="#818181"/><rect x="226.3" fill="#818181"/></g>
<g transform="translate(0 423.3)"><rect x="28.5" fill="#4a4a4a"/><rect x="33.1" fill="#4a4a4a"/><rect x="37.7" fill="#4a4a4a"/><rect x="42.3" fill="#4d4d4d"/><rect x="46.9" fill="#515151"/><rect x="51.5" fill="#4b4b4b"/><rect x="56.1" fill="#3b3b3b"/><rect x="60.7" fill="#272727"/><rect x="65.3" fill="#151515"/><rect x="69.9" fill="#111111"/><rect x="74.5" fill="#191919"/><rect x="79.1" fill="#232323"/><rect x="83.7" fill="#2a2a2a"/><rect x="88.3" fill="#2f2f2f"/><rect x="92.9" fill="#343434"/><rect x="97.5" fill="#373737"/><rect x="102.1" fill="#393939"/><rect x="106.7" fill="#3a3a3a"/><rect x="111.3" fill="#3c3c3c"/><rect x="115.9" fill="#3f3f3f"/><rect x="120.5" fill="#414141"/><rect x="125.1" fill="#414141"/><rect x="129.7" fill="#3e3e3e"/><rect x="134.3" fill="#3c3c3c"/><rect x="138.9" fill="#3e3e3e"/><rect x="143.5" fill="#434343"/><rect x="148.1" fill="#4a4a4a"/><rect x="152.7" fill="#505050"/><rect x="157.3" fill="#555555"/><rect x="161.9" fill="#565656"/><rect x="166.5" fill="#585858"/><rect x="171.1" fill="#606060"/><rect x="175.7" fill="#707070"/><rect x="180.3" fill="#858585"/><rect x="184.9" fill="#969696"/><rect x="189.5" fill="#999999"/><rect x="194.1" fill="#8c8c8c"/><rect x="198.7" fill="#7a7a7a"/><rect x="203.3" fill="#6b6b6b"/><rect x="207.9" fill="#686868"/><rect x="212.5" fill="#6f6f6f"/><rect x="217.1" fill="#747474"/><rect x="221.7" fill="#747474"/><rect x="226.3" fill="#747474"/></g>
<g transform="translate(0 427.9)"><rect x="28.5" fill="#4a4a4a"/><rect x="33.1" fill="#4a4a4a"/><rect x="37.7" fill="#4a4a4a"/><rect x="42.3" fill="#4c4c4c"/><rect x="46.9" fill="#4d4d4d"/><rect x="51.5" fill="#484848"/><rect x="56.1" fill="#393939"/><rect x="60.7" fill="#272727"/><rect x="65.3" fill="#171717"/><rect x="69.9" fill="#121212"/><rect x="74.5" fill="#171717"/><rect x="79.1" fill="#1f1f1f"/><rect x="83.7" fill="#242424"/><rect x="88.3" fill="#2a2a2a"/><rect x="92.9" fill="#303030"/><rect x="97.5" fill="#343434"/><rect x="102.1" fill="#353535"/><rect x="106.7" fill="#343434"/><rect x="111.3" fill="#343434"/><rect x="115.9" fill="#393939"/><rect x="120.5" fill="#424242"/><rect x="125.1" fill="#464646"/><rect x="129.7" fill="#444444"/><rect x="134.3" fill="#424242"/><rect x="138.9" fill="#434343"/><rect x="143.5" fill="#464646"/><rect x="148.1" fill="#4a4a4a"/><rect x="152.7" fill="#4d4d4d"/><rect x="157.3" fill="#505050"/><rect x="161.9" fill="#525252"/><rect x="166.5" fill="#585858"/><rect x="171.1" fill="#656565"/><rect x="175.7" fill="#797979"/><rect x="180.3" fill="#8f8f8f"/><rect x="184.9" fill="#a0a0a0"/><rect x="189.5" fill="#a5a5a5"/><rect x="194.1" fill="#9b9b9b"/><rect x="198.7" fill="#818181"/><rect x="203.3" fill="#636363"/><rect x="207.9" fill="#565656"/><rect x="212.5" fill="#5d5d5d"/><rect x="217.1" fill="#636363"/><rect x="221.7" fill="#636363"/><rect x="226.3" fill="#636363"/></g>
<g transform="translate(0 432.5)"><rect x="28.5" fill="#4b4b4b"/><rect x="33.1" fill="#4b4b4b"/><rect x="37.7" fill="#4b4b4b"/><rect x="42.3" fill="#4b4b4b"/><rect x="46.9" fill="#4b4b4b"/><rect x="51.5" fill="#474747"/><rect x="56.1" fill="#3f3f3f"/><rect x="60.7" fill="#333333"/><rect x="65.3" fill="#272727"/><rect x="69.9" fill="#202020"/><rect x="74.5" fill="#202020"/><rect x="79.1" fill="#242424"/><rect x="83.7" fill="#2a2a2a"/><rect x="88.3" fill="#323232"/><rect x="92.9" fill="#383838"/><rect x="97.5" fill="#3b3b3b"/><rect x="102.1" fill="#393939"/><rect x="106.7" fill="#343434"/><rect x="111.3" fill="#2f2f2f"/><rect x="115.9" fill="#363636"/><rect x="120.5" fill="#454545"/><rect x="125.1" fill="#4e4e4e"/><rect x="129.7" fill="#4e4e4e"/><rect x="134.3" fill="#4e4e4e"/><rect x="138.9" fill="#4f4f4f"/><rect x="143.5" fill="#515151"/><rect x="148.1" fill="#525252"/><rect x="152.7" fill="#545454"/><rect x="157.3" fill="#565656"/><rect x="161.9" fill="#585858"/><rect x="166.5" fill="#5e5e5e"/><rect x="171.1" fill="#6c6c6c"/><rect x="175.7" fill="#808080"/><rect x="180.3" fill="#929292"/><rect x="184.9" fill="#9e9e9e"/><rect x="189.5" fill="#a8a8a8"/><rect x="194.1" fill="#a9a9a9"/><rect x="198.7" fill="#8e8e8e"/><rect x="203.3" fill="#636363"/><rect x="207.9" fill="#4d4d4d"/><rect x="212.5" fill="#525252"/><rect x="217.1" fill="#595959"/><rect x="221.7" fill="#595959"/><rect x="226.3" fill="#595959"/></g>
<g transform="translate(0 437.1)"><rect x="28.5" fill="#545454"/><rect x="33.1" fill="#545454"/><rect x="37.7" fill="#545454"/><rect x="42.3" fill="#545454"/><rect x="46.9" fill="#525252"/><rect x="51.5" fill="#4f4f4f"/><rect x="56.1" fill="#4d4d4d"/><rect x="60.7" fill="#484848"/><rect x="65.3" fill="#414141"/><rect x="69.9" fill="#3b3b3b"/><rect x="74.5" fill="#373737"/><rect x="79.1" fill="#393939"/><rect x="83.7" fill="#3f3f3f"/><rect x="88.3" fill="#464646"/><rect x="92.9" fill="#4a4a4a"/><rect x="97.5" fill="#4a4a4a"/><rect x="102.1" fill="#474747"/><rect x="106.7" fill="#3f3f3f"/><rect x="111.3" fill="#3a3a3a"/><rect x="115.9" fill="#404040"/><rect x="120.5" fill="#4f4f4f"/><rect x="125.1" fill="#575757"/><rect x="129.7" fill="#575757"/><rect x="134.3" fill="#575757"/><rect x="138.9" fill="#5b5b5b"/><rect x="143.5" fill="#5f5f5f"/><rect x="148.1" fill="#636363"/><rect x="152.7" fill="#686868"/><rect x="157.3" fill="#707070"/><rect x="161.9" fill="#757575"/><rect x="166.5" fill="#797979"/><rect x="171.1" fill="#838383"/><rect x="175.7" fill="#929292"/><rect x="180.3" fill="#9d9d9d"/><rect x="184.9" fill="#a3a3a3"/><rect x="189.5" fill="#adadad"/><rect x="194.1" fill="#b3b3b3"/><rect x="198.7" fill="#9d9d9d"/><rect x="203.3" fill="#737373"/><rect x="207.9" fill="#5a5a5a"/><rect x="212.5" fill="#5c5c5c"/><rect x="217.1" fill="#616161"/><rect x="221.7" fill="#616161"/><rect x="226.3" fill="#616161"/></g>
<g transform="translate(0 441.7)"><rect x="28.5" fill="#646464"/><rect x="33.1" fill="#646464"/><rect x="37.7" fill="#646464"/><rect x="42.3" fill="#636363"/><rect x="46.9" fill="#616161"/><rect x="51.5" fill="#5f5f5f"/><rect x="56.1" fill="#5f5f5f"/><rect x="60.7" fill="#5e5e5e"/><rect x="65.3" fill="#5d5d5d"/><rect x="69.9" fill="#5a5a5a"/><rect x="74.5" fill="#575757"/><rect x="79.1" fill="#575757"/><rect x="83.7" fill="#5b5b5b"/><rect x="88.3" fill="#5e5e5e"/><rect x="92.9" fill="#5f5f5f"/><rect x="97.5" fill="#5d5d5d"/><rect x="102.1" fill="#5a5a5a"/><rect x="106.7" fill="#555555"/><rect x="111.3" fill="#535353"/><rect x="115.9" fill="#585858"/><rect x="120.5" fill="#616161"/><rect x="125.1" fill="#636363"/><rect x="129.7" fill="#5e5e5e"/><rect x="134.3" fill="#5c5c5c"/><rect x="138.9" fill="#616161"/><rect x="143.5" fill="#6b6b6b"/><rect x="148.1" fill="#777777"/><rect x="152.7" fill="#868686"/><rect x="157.3" fill="#959595"/><rect x="161.9" fill="#9f9f9f"/><rect x="166.5" fill="#a2a2a2"/><rect x="171.1" fill="#a6a6a6"/><rect x="175.7" fill="#acacac"/><rect x="180.3" fill="#afafaf"/><rect x="184.9" fill="#b1b1b1"/><rect x="189.5" fill="#b5b5b5"/><rect x="194.1" fill="#b7b7b7"/><rect x="198.7" fill="#a9a9a9"/><rect x="203.3" fill="#8d8d8d"/><rect x="207.9" fill="#7b7b7b"/><rect x="212.5" fill="#787878"/><rect x="217.1" fill="#7a7a7a"/><rect x="221.7" fill="#7a7a7a"/><rect x="226.3" fill="#7a7a7a"/></g>
<g transform="translate(0 446.3)"><rect x="28.5" fill="#6d6d6d"/><rect x="33.1" fill="#6d6d6d"/><rect x="37.7" fill="#6d6d6d"/><rect x="42.3" fill="#6d6d6d"/><rect x="46.9" fill="#6d6d6d"/><rect x="51.5" fill="#6d6d6d"/><rect x="56.1" fill="#6d6d6d"/><rect x="60.7" fill="#6e6e6e"/><rect x="65.3" fill="#6f6f6f"/><rect x="69.9" fill="#707070"/><rect x="74.5" fill="#717171"/><rect x="79.1" fill="#717171"/><rect x="83.7" fill="#6f6f6f"/><rect x="88.3" fill="#6c6c6c"/><rect x="92.9" fill="#6a6a6a"/><rect x="97.5" fill="#696969"/><rect x="102.1" fill="#6a6a6a"/><rect x="106.7" fill="#6c6c6c"/><rect x="111.3" fill="#707070"/><rect x="115.9" fill="#767676"/><rect x="120.5" fill="#7a7a7a"/><rect x="125.1" fill="#737373"/><rect x="129.7" fill="#646464"/><rect x="134.3" fill="#5c5c5c"/><rect x="138.9" fill="#626262"/><rect x="143.5" fill="#727272"/><rect x="148.1" fill="#878787"/><rect x="152.7" fill="#9d9d9d"/><rect x="157.3" fill="#b0b0b0"/><rect x="161.9" fill="#bababa"/><rect x="166.5" fill="#bcbcbc"/><rect x="171.1" fill="#bbbbbb"/><rect x="175.7" fill="#bbbbbb"/><rect x="180.3" fill="#bababa"/><rect x="184.9" fill="#b9b9b9"/><rect x="189.5" fill="#b9b9b9"/><rect x="194.1" fill="#b9b9b9"/><rect x="198.7" fill="#b1b1b1"/><rect x="203.3" fill="#a3a3a3"/><rect x="207.9" fill="#999999"/><rect x="212.5" fill="#959595"/><rect x="217.1" fill="#949494"/><rect x="221.7" fill="#949494"/><rect x="226.3" fill="#949494"/></g>
<g transform="translate(0 450.9)"><rect x="28.5" fill="#717171"/><rect x="33.1" fill="#717171"/><rect x="37.7" fill="#717171"/><rect x="42.3" fill="#727272"/><rect x="46.9" fill="#747474"/><rect x="51.5" fill="#767676"/><rect x="56.1" fill="#777777"/><rect x="60.7" fill="#777777"/><rect x="65.3" fill="#787878"/><rect x="69.9" fill="#7c7c7c"/><rect x="74.5" fill="#818181"/><rect x="79.1" fill="#808080"/><rect x="83.7" fill="#787878"/><rect x="88.3" fill="#707070"/><rect x="92.9" fill="#6c6c6c"/><rect x="97.5" fill="#6e6e6e"/><rect x="102.1" fill="#777777"/><rect x="106.7" fill="#818181"/><rect x="111.3" fill="#8b8b8b"/><rect x="115.9" fill="#939393"/><rect x="120.5" fill="#939393"/><rect x="125.1" fill="#848484"/><rect x="129.7" fill="#6c6c6c"/><rect x="134.3" fill="#5e5e5e"/><rect x="138.9" fill="#616161"/><rect x="143.5" fill="#757575"/><rect x="148.1" fill="#909090"/><rect x="152.7" fill="#a8a8a8"/><rect x="157.3" fill="#b8b8b8"/><rect x="161.9" fill="#bebebe"/><rect x="166.5" fill="#bfbfbf"/><rect x="171.1" fill="#bdbdbd"/><rect x="175.7" fill="#bababa"/><rect x="180.3" fill="#b7b7b7"/><rect x="184.9" fill="#b7b7b7"/><rect x="189.5" fill="#b7b7b7"/><rect x="194.1" fill="#b8b8b8"/><rect x="198.7" fill="#b5b5b5"/><rect x="203.3" fill="#afafaf"/><rect x="207.9" fill="#a9a9a9"/><rect x="212.5" fill="#a7a7a7"/><rect x="217.1" fill="#a6a6a6"/><rect x="221.7" fill="#a6a6a6"/><rect x="226.3" fill="#a6a6a6"/></g>
<g transform="translate(0 455.5)"><rect x="28.5" fill="#7a7a7a"/><rect x="33.1" fill="#7a7a7a"/><rect x="37.7" fill="#7a7a7a"/><rect x="42.3" fill="#7c7c7c"/><rect x="46.9" fill="#808080"/><rect x="51.5" fill="#828282"/><rect x="56.1" fill="#828282"/><rect x="60.7" fill="#818181"/><rect x="65.3" fill="#818181"/><rect x="69.9" fill="#868686"/><rect x="74.5" fill="#8c8c8c"/><rect x="79.1" fill="#8a8a8a"/><rect x="83.7" fill="#808080"/><rect x="88.3" fill="#767676"/><rect x="92.9" fill="#727272"/><rect x="97.5" fill="#787878"/><rect x="102.1" fill="#878787"/><rect x="106.7" fill="#969696"/><rect x="111.3" fill="#a0a0a0"/><rect x="115.9" fill="#a7a7a7"/><rect x="120.5" fill="#a5a5a5"/><rect x="125.1" fill="#949494"/><rect x="129.7" fill="#797979"/><rect x="134.3" fill="#676767"/><rect x="138.9" fill="#676767"/><rect x="143.5" fill="#797979"/><rect x="148.1" fill="#949494"/><rect x="152.7" fill="#ababab"/><rect x="157.3" fill="#b7b7b7"/><rect x="161.9" fill="#bcbcbc"/><rect x="166.5" fill="#bbbbbb"/><rect x="171.1" fill="#b7b7b7"/><rect x="175.7" fill="#b2b2b2"/><rect x="180.3" fill="#b0b0b0"/><rect x="184.9" fill="#b1b1b1"/><rect x="189.5" fill="#b4b4b4"/><rect x="194.1" fill="#b5b5b5"/><rect x="198.7" fill="#b4b4b4"/><rect x="203.3" fill="#b0b0b0"/><rect x="207.9" fill="#ababab"/><rect x="212.5" fill="#a8a8a8"/><rect x="217.1" fill="#a7a7a7"/><rect x="221.7" fill="#a7a7a7"/><rect x="226.3" fill="#a7a7a7"/></g>
<g transform="translate(0 460.1)"><rect x="28.5" fill="#8a8a8a"/><rect x="33.1" fill="#8a8a8a"/><rect x="37.7" fill="#8a8a8a"/><rect x="42.3" fill="#8c8c8c"/><rect x="46.9" fill="#919191"/><rect x="51.5" fill="#919191"/><rect x="56.1" fill="#8e8e8e"/><rect x="60.7" fill="#8b8b8b"/><rect x="65.3" fill="#8b8b8b"/><rect x="69.9" fill="#8f8f8f"/><rect x="74.5" fill="#949494"/><rect x="79.1" fill="#929292"/><rect x="83.7" fill="#898989"/><rect x="88.3" fill="#808080"/><rect x="92.9" fill="#7d7d7d"/><rect x="97.5" fill="#868686"/><rect x="102.1" fill="#989898"/><rect x="106.7" fill="#a7a7a7"/><rect x="111.3" fill="#aeaeae"/><rect x="115.9" fill="#b1b1b1"/><rect x="120.5" fill="#afafaf"/><rect x="125.1" fill="#a0a0a0"/><rect x="129.7" fill="#898989"/><rect x="134.3" fill="#767676"/><rect x="138.9" fill="#717171"/><rect x="143.5" fill="#7e7e7e"/><rect x="148.1" fill="#959595"/><rect x="152.7" fill="#aaaaaa"/><rect x="157.3" fill="#b6b6b6"/><rect x="161.9" fill="#bababa"/><rect x="166.5" fill="#b9b9b9"/><rect x="171.1" fill="#b3b3b3"/><rect x="175.7" fill="#acacac"/><rect x="180.3" fill="#aaaaaa"/><rect x="184.9" fill="#adadad"/><rect x="189.5" fill="#b1b1b1"/><rect x="194.1" fill="#b1b1b1"/><rect x="198.7" fill="#aeaeae"/><rect x="203.3" fill="#aaaaaa"/><rect x="207.9" fill="#a4a4a4"/><rect x="212.5" fill="#9f9f9f"/><rect x="217.1" fill="#9d9d9d"/><rect x="221.7" fill="#9d9d9d"/><rect x="226.3" fill="#9d9d9d"/></g>
<g transform="translate(0 464.7)"><rect x="28.5" fill="#929292"/><rect x="33.1" fill="#929292"/><rect x="37.7" fill="#929292"/><rect x="42.3" fill="#959595"/><rect x="46.9" fill="#999999"/><rect x="51.5" fill="#999999"/><rect x="56.1" fill="#949494"/><rect x="60.7" fill="#909090"/><rect x="65.3" fill="#909090"/><rect x="69.9" fill="#949494"/><rect x="74.5" fill="#989898"/><rect x="79.1" fill="#969696"/><rect x="83.7" fill="#8e8e8e"/><rect x="88.3" fill="#868686"/><rect x="92.9" fill="#848484"/><rect x="97.5" fill="#8e8e8e"/><rect x="102.1" fill="#a1a1a1"/><rect x="106.7" fill="#afafaf"/><rect x="111.3" fill="#b4b4b4"/><rect x="115.9" fill="#b5b5b5"/><rect x="120.5" fill="#b2b2b2"/><rect x="125.1" fill="#a5a5a5"/><rect x="129.7" fill="#909090"/><rect x="134.3" fill="#7e7e7e"/><rect x="138.9" fill="#777777"/><rect x="143.5" fill="#808080"/><rect x="148.1" fill="#959595"/><rect x="152.7" fill="#a9a9a9"/><rect x="157.3" fill="#b5b5b5"/><rect x="161.9" fill="#bababa"/><rect x="166.5" fill="#b8b8b8"/><rect x="171.1" fill="#b1b1b1"/><rect x="175.7" fill="#a9a9a9"/><rect x="180.3" fill="#a7a7a7"/><rect x="184.9" fill="#ababab"/><rect x="189.5" fill="#afafaf"/><rect x="194.1" fill="#afafaf"/><rect x="198.7" fill="#ababab"/><rect x="203.3" fill="#a6a6a6"/><rect x="207.9" fill="#9f9f9f"/><rect x="212.5" fill="#9a9a9a"/><rect x="217.1" fill="#979797"/><rect x="221.7" fill="#979797"/><rect x="226.3" fill="#979797"/></g>
<g transform="translate(0 469.3)"><rect x="28.5" fill="#929292"/><rect x="33.1" fill="#929292"/><rect x="37.7" fill="#929292"/><rect x="42.3" fill="#959595"/><rect x="46.9" fill="#999999"/><rect x="51.5" fill="#999999"/><rect x="56.1" fill="#949494"/><rect x="60.7" fill="#909090"/><rect x="65.3" fill="#909090"/><rect x="69.9" fill="#949494"/><rect x="74.5" fill="#989898"/><rect x="79.1" fill="#969696"/><rect x="83.7" fill="#8e8e8e"/><rect x="88.3" fill="#868686"/><rect x="92.9" fill="#848484"/><rect x="97.5" fill="#8e8e8e"/><rect x="102.1" fill="#a1a1a1"/><rect x="106.7" fill="#afafaf"/><rect x="111.3" fill="#b4b4b4"/><rect x="115.9" fill="#b5b5b5"/><rect x="120.5" fill="#b2b2b2"/><rect x="125.1" fill="#a5a5a5"/><rect x="129.7" fill="#909090"/><rect x="134.3" fill="#7e7e7e"/><rect x="138.9" fill="#777777"/><rect x="143.5" fill="#808080"/><rect x="148.1" fill="#959595"/><rect x="152.7" fill="#a9a9a9"/><rect x="157.3" fill="#b5b5b5"/><rect x="161.9" fill="#bababa"/><rect x="166.5" fill="#b8b8b8"/><rect x="171.1" fill="#b1b1b1"/><rect x="175.7" fill="#a9a9a9"/><rect x="180.3" fill="#a7a7a7"/><rect x="184.9" fill="#ababab"/><rect x="189.5" fill="#afafaf"/><rect x="194.1" fill="#afafaf"/><rect x="198.7" fill="#ababab"/><rect x="203.3" fill="#a6a6a6"/><rect x="207.9" fill="#9f9f9f"/><rect x="212.5" fill="#9a9a9a"/><rect x="217.1" fill="#979797"/><rect x="221.7" fill="#979797"/><rect x="226.3" fill="#979797"/></g>
<g transform="translate(0 473.9)"><rect x="28.5" fill="#929292"/><rect x="33.1" fill="#929292"/><rect x="37.7" fill="#929292"/><rect x="42.3" fill="#959595"/><rect x="46.9" fill="#999999"/><rect x="51.5" fill="#999999"/><rect x="56.1" fill="#949494"/><rect x="60.7" fill="#909090"/><rect x="65.3" fill="#909090"/><rect x="69.9" fill="#949494"/><rect x="74.5" fill="#989898"/><rect x="79.1" fill="#969696"/><rect x="83.7" fill="#8e8e8e"/><rect x="88.3" fill="#868686"/><rect x="92.9" fill="#848484"/><rect x="97.5" fill="#8e8e8e"/><rect x="102.1" fill="#a1a1a1"/><rect x="106.7" fill="#afafaf"/><rect x="111.3" fill="#b4b4b4"/><rect x="115.9" fill="#b5b5b5"/><rect x="120.5" fill="#b2b2b2"/><rect x="125.1" fill="#a5a5a5"/><rect x="129.7" fill="#909090"/><rect x="134.3" fill="#7e7e7e"/><rect x="138.9" fill="#777777"/><rect x="143.5" fill="#808080"/><rect x="148.1" fill="#959595"/><rect x="152.7" fill="#a9a9a9"/><rect x="157.3" fill="#b5b5b5"/><rect x="161.9" fill="#bababa"/><rect x="166.5" fill="#b8b8b8"/><rect x="171.1" fill="#b1b1b1"/><rect x="175.7" fill="#a9a9a9"/><rect x="180.3" fill="#a7a7a7"/><rect x="184.9" fill="#ababab"/><rect x="189.5" fill="#afafaf"/><rect x="194.1" fill="#afafaf"/><rect x="198.7" fill="#ababab"/><rect x="203.3" fill="#a6a6a6"/><rect x="207.9" fill="#9f9f9f"/><rect x="212.5" fill="#9a9a9a"/><rect x="217.1" fill="#979797"/><rect x="221.7" fill="#979797"/><rect x="226.3" fill="#979797"/></g>
</g></g>
<path d="M37.7 331.3V469.3H221.7M37.7 469.3v4M37.7 469.3h-5M74.5 469.3v4M37.7 441.7h-5M111.3 469.3v4M37.7 414.1h-5M148.1 469.3v4M37.7 386.5h-5M184.9 469.3v4M37.7 358.9h-5M221.7 469.3v4M37.7 331.3h-5" stroke="#555" stroke-width="0.8" fill="none"/>
<text x="37.7" y="485.6" font-size="14.8" text-anchor="middle">0.0</text><text x="74.5" y="485.6" font-size="14.8" text-anchor="middle">0.2</text><text x="111.3" y="485.6" font-size="14.8" text-anchor="middle">0.4</text><text x="148.1" y="485.6" font-size="14.8" text-anchor="middle">0.6</text><text x="184.9" y="485.6" font-size="14.8" text-anchor="middle">0.8</text><text x="221.7" y="485.6" font-size="14.8" text-anchor="middle">1.0</text><text transform="translate(25.5 469.3) rotate(-90)" font-size="14.8" text-anchor="middle">0.0</text><text transform="translate(25.5 414.1) rotate(-90)" font-size="14.8" text-anchor="middle">0.4</text><text transform="translate(25.5 358.9) rotate(-90)" font-size="14.8" text-anchor="middle">0.8</text><text x="129.7" y="505.3" font-size="14.8" text-anchor="middle">x</text><text transform="translate(8.7 400.3) rotate(-90)" font-size="14.8" text-anchor="middle">y</text>
<rect x="46.5" y="522.0" width="166.0" height="11.5" fill="url(#cb)"/><path d="M46.5 533.5h166.0" stroke="#999" stroke-width="0.5"/><path d="M46.5 522.0h166.0" stroke="#888" stroke-width="0.8"/><text x="55.7" y="549.7" font-size="14.8" text-anchor="middle">−4</text><text x="92.6" y="549.7" font-size="14.8" text-anchor="middle">−2</text><text x="129.5" y="549.7" font-size="14.8" text-anchor="middle">0</text><text x="166.4" y="549.7" font-size="14.8" text-anchor="middle">2</text><text x="203.3" y="549.7" font-size="14.8" text-anchor="middle">4</text><path d="M55.7 533.5v3.5M92.6 533.5v3.5M129.5 533.5v3.5M166.4 533.5v3.5M203.3 533.5v3.5" stroke="#444" stroke-width="0.7" fill="none"/>
<text class="cap" x="88.0" y="590.4" font-size="19" textLength="22.6" lengthAdjust="spacingAndGlyphs">(d)</text><text class="cap" x="122.4" y="590.4" font-size="19" textLength="14.2" lengthAdjust="spacingAndGlyphs" font-style="italic" stroke-width="0" fill="#444">K</text><text class="cap" x="144.4" y="590.4" font-size="19" textLength="13.2" lengthAdjust="spacingAndGlyphs">=</text><text class="cap" x="164.8" y="590.4" font-size="19" textLength="7.2" lengthAdjust="spacingAndGlyphs">3</text>
</g>
<g id="panel-e">
<g clip-path="url(#cpe)"><g class="h" filter="url(#fle)">
<g transform="translate(0 322.1)"><rect x="312.5" fill="#cdcdcd"/><rect x="317.1" fill="#cdcdcd"/><rect x="321.7" fill="#cdcdcd"/><rect x="326.3" fill="#cbcbcb"/><rect x="330.9" fill="#c7c7c7"/><rect x="335.5" fill="#c3c3c3"/><rect x="340.1" fill="#c1c1c1"/><rect x="344.7" fill="#c2c2c2"/><rect x="349.3" fill="#c6c6c6"/><rect x="353.9" fill="#cdcdcd"/><rect x="358.5" fill="#d7d7d7"/><rect x="363.1" fill="#dfdfdf"/><rect x="367.7" fill="#e3e3e3"/><rect x="372.3" fill="#e5e5e5"/><rect x="376.9" fill="#e6e6e6"/><rect x="381.5" fill="#eaeaea"/><rect x="386.1" fill="#f2f2f2"/><rect x="390.7" fill="#fafafa"/><rect x="395.3" fill="#ffffff"/><rect x="399.9" fill="#fefefe"/><rect x="404.5" fill="#f4f4f4"/><rect x="409.1" fill="#e2e2e2"/><rect x="413.7" fill="#cacaca"/><rect x="418.3" fill="#b8b8b8"/><rect x="422.9" fill="#afafaf"/><rect x="427.5" fill="#a9a9a9"/><rect x="432.1" fill="#a5a5a5"/><rect x="436.7" fill="#a2a2a2"/><rect x="441.3" fill="#a0a0a0"/><rect x="445.9" fill="#9f9f9f"/><rect x="450.5" fill="#9f9f9f"/><rect x="455.1" fill="#a0a0a0"/><rect x="459.7" fill="#9f9f9f"/><rect x="464.3" fill="#989898"/><rect x="468.9" fill="#8c8c8c"/><rect x="473.5" fill="#7f7f7f"/><rect x="478.1" fill="#747474"/><rect x="482.7" fill="#727272"/><rect x="487.3" fill="#787878"/><rect x="491.9" fill="#828282"/><rect x="496.5" fill="#8a8a8a"/><rect x="501.1" fill="#8e8e8e"/><rect x="505.7" fill="#8e8e8e"/><rect x="510.3" fill="#8e8e8e"/></g>
<g transform="translate(0 326.7)"><rect x="312.5" fill="#cdcdcd"/><rect x="317.1" fill="#cdcdcd"/><rect x="321.7" fill="#cdcdcd"/><rect x="326.3" fill="#cbcbcb"/><rect x="330.9" fill="#c7c7c7"/><rect x="335.5" fill="#c3c3c3"/><rect x="340.1" fill="#c1c1c1"/><rect x="344.7" fill="#c2c2c2"/><rect x="349.3" fill="#c6c6c6"/><rect x="353.9" fill="#cdcdcd"/><rect x="358.5" fill="#d7d7d7"/><rect x="363.1" fill="#dfdfdf"/><rect x="367.7" fill="#e3e3e3"/><rect x="372.3" fill="#e5e5e5"/><rect x="376.9" fill="#e6e6e6"/><rect x="381.5" fill="#eaeaea"/><rect x="386.1" fill="#f2f2f2"/><rect x="390.7" fill="#fafafa"/><rect x="395.3" fill="#ffffff"/><rect x="399.9" fill="#fefefe"/><rect x="404.5" fill="#f4f4f4"/><rect x="409.1" fill="#e2e2e2"/><rect x="413.7" fill="#cacaca"/><rect x="418.3" fill="#b8b8b8"/><rect x="422.9" fill="#afafaf"/><rect x="427.5" fill="#a9a9a9"/><rect x="432.1" fill="#a5a5a5"/><rect x="436.7" fill="#a2a2a2"/><rect x="441.3" fill="#a0a0a0"/><rect x="445.9" fill="#9f9f9f"/><rect x="450.5" fill="#9f9f9f"/><rect x="455.1" fill="#a0a0a0"/><rect x="459.7" fill="#9f9f9f"/><rect x="464.3" fill="#989898"/><rect x="468.9" fill="#8c8c8c"/><rect x="473.5" fill="#7f7f7f"/><rect x="478.1" fill="#747474"/><rect x="482.7" fill="#727272"/><rect x="487.3" fill="#787878"/><rect x="491.9" fill="#828282"/><rect x="496.5" fill="#8a8a8a"/><rect x="501.1" fill="#8e8e8e"/><rect x="505.7" fill="#8e8e8e"/><rect x="510.3" fill="#8e8e8e"/></g>
<g transform="translate(0 331.3)"><rect x="312.5" fill="#cdcdcd"/><rect x="317.1" fill="#cdcdcd"/><rect x="321.7" fill="#cdcdcd"/><rect x="326.3" fill="#cbcbcb"/><rect x="330.9" fill="#c7c7c7"/><rect x="335.5" fill="#c3c3c3"/><rect x="340.1" fill="#c1c1c1"/><rect x="344.7" fill="#c2c2c2"/><rect x="349.3" fill="#c6c6c6"/><rect x="353.9" fill="#cdcdcd"/><rect x="358.5" fill="#d7d7d7"/><rect x="363.1" fill="#dfdfdf"/><rect x="367.7" fill="#e3e3e3"/><rect x="372.3" fill="#e5e5e5"/><rect x="376.9" fill="#e6e6e6"/><rect x="381.5" fill="#eaeaea"/><rect x="386.1" fill="#f2f2f2"/><rect x="390.7" fill="#fafafa"/><rect x="395.3" fill="#ffffff"/><rect x="399.9" fill="#fefefe"/><rect x="404.5" fill="#f4f4f4"/><rect x="409.1" fill="#e2e2e2"/><rect x="413.7" fill="#cacaca"/><rect x="418.3" fill="#b8b8b8"/><rect x="422.9" fill="#afafaf"/><rect x="427.5" fill="#a9a9a9"/><rect x="432.1" fill="#a5a5a5"/><rect x="436.7" fill="#a2a2a2"/><rect x="441.3" fill="#a0a0a0"/><rect x="445.9" fill="#9f9f9f"/><rect x="450.5" fill="#9f9f9f"/><rect x="455.1" fill="#a0a0a0"/><rect x="459.7" fill="#9f9f9f"/><rect x="464.3" fill="#989898"/><rect x="468.9" fill="#8c8c8c"/><rect x="473.5" fill="#7f7f7f"/><rect x="478.1" fill="#747474"/><rect x="482.7" fill="#727272"/><rect x="487.3" fill="#787878"/><rect x="491.9" fill="#828282"/><rect x="496.5" fill="#8a8a8a"/><rect x="501.1" fill="#8e8e8e"/><rect x="505.7" fill="#8e8e8e"/><rect x="510.3" fill="#8e8e8e"/></g>
<g transform="translate(0 335.9)"><rect x="312.5" fill="#cccccc"/><rect x="317.1" fill="#cccccc"/><rect x="321.7" fill="#cccccc"/><rect x="326.3" fill="#cacaca"/><rect x="330.9" fill="#c5c5c5"/><rect x="335.5" fill="#c1c1c1"/><rect x="340.1" fill="#bdbdbd"/><rect x="344.7" fill="#bebebe"/><rect x="349.3" fill="#c3c3c3"/><rect x="353.9" fill="#c9c9c9"/><rect x="358.5" fill="#d1d1d1"/><rect x="363.1" fill="#d8d8d8"/><rect x="367.7" fill="#dcdcdc"/><rect x="372.3" fill="#dfdfdf"/><rect x="376.9" fill="#e1e1e1"/><rect x="381.5" fill="#e4e4e4"/><rect x="386.1" fill="#e9e9e9"/><rect x="390.7" fill="#ededed"/><rect x="395.3" fill="#efefef"/><rect x="399.9" fill="#ededed"/><rect x="404.5" fill="#e6e6e6"/><rect x="409.1" fill="#d9d9d9"/><rect x="413.7" fill="#c8c8c8"/><rect x="418.3" fill="#b9b9b9"/><rect x="422.9" fill="#afafaf"/><rect x="427.5" fill="#a9a9a9"/><rect x="432.1" fill="#a6a6a6"/><rect x="436.7" fill="#a4a4a4"/><rect x="441.3" fill="#a2a2a2"/><rect x="445.9" fill="#a0a0a0"/><rect x="450.5" fill="#9f9f9f"/><rect x="455.1" fill="#9c9c9c"/><rect x="459.7" fill="#969696"/><rect x="464.3" fill="#8f8f8f"/><rect x="468.9" fill="#858585"/><rect x="473.5" fill="#7a7a7a"/><rect x="478.1" fill="#6f6f6f"/><rect x="482.7" fill="#6d6d6d"/><rect x="487.3" fill="#737373"/><rect x="491.9" fill="#7c7c7c"/><rect x="496.5" fill="#848484"/><rect x="501.1" fill="#878787"/><rect x="505.7" fill="#878787"/><rect x="510.3" fill="#878787"/></g>
<g transform="translate(0 340.5)"><rect x="312.5" fill="#c5c5c5"/><rect x="317.1" fill="#c5c5c5"/><rect x="321.7" fill="#c5c5c5"/><rect x="326.3" fill="#c3c3c3"/><rect x="330.9" fill="#bfbfbf"/><rect x="335.5" fill="#bababa"/><rect x="340.1" fill="#b5b5b5"/><rect x="344.7" fill="#b5b5b5"/><rect x="349.3" fill="#bcbcbc"/><rect x="353.9" fill="#c2c2c2"/><rect x="358.5" fill="#c6c6c6"/><rect x="363.1" fill="#cacaca"/><rect x="367.7" fill="#cecece"/><rect x="372.3" fill="#d1d1d1"/><rect x="376.9" fill="#d3d3d3"/><rect x="381.5" fill="#d4d4d4"/><rect x="386.1" fill="#d4d4d4"/><rect x="390.7" fill="#d2d2d2"/><rect x="395.3" fill="#cfcfcf"/><rect x="399.9" fill="#cccccc"/><rect x="404.5" fill="#cacaca"/><rect x="409.1" fill="#c7c7c7"/><rect x="413.7" fill="#c1c1c1"/><rect x="418.3" fill="#b9b9b9"/><rect x="422.9" fill="#afafaf"/><rect x="427.5" fill="#aaaaaa"/><rect x="432.1" fill="#a9a9a9"/><rect x="436.7" fill="#a9a9a9"/><rect x="441.3" fill="#a6a6a6"/><rect x="445.9" fill="#a2a2a2"/><rect x="450.5" fill="#9c9c9c"/><rect x="455.1" fill="#929292"/><rect x="459.7" fill="#858585"/><rect x="464.3" fill="#7c7c7c"/><rect x="468.9" fill="#787878"/><rect x="473.5" fill="#717171"/><rect x="478.1" fill="#676767"/><rect x="482.7" fill="#646464"/><rect x="487.3" fill="#696969"/><rect x="491.9" fill="#717171"/><rect x="496.5" fill="#787878"/><rect x="501.1" fill="#7b7b7b"/><rect x="505.7" fill="#7b7b7b"/><rect x="510.3" fill="#7b7b7b"/></g>
<g transform="translate(0 345.1)"><rect x="312.5" fill="#b3b3b3"/><rect x="317.1" fill="#b3b3b3"/><rect x="321.7" fill="#b3b3b3"/><rect x="326.3" fill="#b0b0b0"/><rect x="330.9" fill="#adadad"/><rect x="335.5" fill="#ababab"/><rect x="340.1" fill="#ababab"/><rect x="344.7" fill="#afafaf"/><rect x="349.3" fill="#b7b7b7"/><rect x="353.9" fill="#bebebe"/><rect x="358.5" fill="#c1c1c1"/><rect x="363.1" fill="#c1c1c1"/><rect x="367.7" fill="#bfbfbf"/><rect x="372.3" fill="#bcbcbc"/><rect x="376.9" fill="#b7b7b7"/><rect x="381.5" fill="#b5b5b5"/><rect x="386.1" fill="#b4b4b4"/><rect x="390.7" fill="#b3b3b3"/><rect x="395.3" fill="#b1b1b1"/><rect x="399.9" fill="#b0b0b0"/><rect x="404.5" fill="#b0b0b0"/><rect x="409.1" fill="#b2b2b2"/><rect x="413.7" fill="#b4b4b4"/><rect x="418.3" fill="#b3b3b3"/><rect x="422.9" fill="#b0b0b0"/><rect x="427.5" fill="#aeaeae"/><rect x="432.1" fill="#aeaeae"/><rect x="436.7" fill="#acacac"/><rect x="441.3" fill="#a6a6a6"/><rect x="445.9" fill="#9d9d9d"/><rect x="450.5" fill="#909090"/><rect x="455.1" fill="#828282"/><rect x="459.7" fill="#747474"/><rect x="464.3" fill="#6e6e6e"/><rect x="468.9" fill="#6d6d6d"/><rect x="473.5" fill="#696969"/><rect x="478.1" fill="#636363"/><rect x="482.7" fill="#606060"/><rect x="487.3" fill="#646464"/><rect x="491.9" fill="#6b6b6b"/><rect x="496.5" fill="#727272"/><rect x="501.1" fill="#757575"/><rect x="505.7" fill="#757575"/><rect x="510.3" fill="#757575"/></g>
<g transform="translate(0 349.7)"><rect x="312.5" fill="#989898"/><rect x="317.1" fill="#989898"/><rect x="321.7" fill="#989898"/><rect x="326.3" fill="#919191"/><rect x="330.9" fill="#909090"/><rect x="335.5" fill="#979797"/><rect x="340.1" fill="#a1a1a1"/><rect x="344.7" fill="#acacac"/><rect x="349.3" fill="#b8b8b8"/><rect x="353.9" fill="#c2c2c2"/><rect x="358.5" fill="#c5c5c5"/><rect x="363.1" fill="#c1c1c1"/><rect x="367.7" fill="#b5b5b5"/><rect x="372.3" fill="#a5a5a5"/><rect x="376.9" fill="#939393"/><rect x="381.5" fill="#8a8a8a"/><rect x="386.1" fill="#909090"/><rect x="390.7" fill="#999999"/><rect x="395.3" fill="#9f9f9f"/><rect x="399.9" fill="#a2a2a2"/><rect x="404.5" fill="#a2a2a2"/><rect x="409.1" fill="#a3a3a3"/><rect x="413.7" fill="#a5a5a5"/><rect x="418.3" fill="#aaaaaa"/><rect x="422.9" fill="#b0b0b0"/><rect x="427.5" fill="#b3b3b3"/><rect x="432.1" fill="#b1b1b1"/><rect x="436.7" fill="#ababab"/><rect x="441.3" fill="#a0a0a0"/><rect x="445.9" fill="#909090"/><rect x="450.5" fill="#7e7e7e"/><rect x="455.1" fill="#707070"/><rect x="459.7" fill="#696969"/><rect x="464.3" fill="#676767"/><rect x="468.9" fill="#676767"/><rect x="473.5" fill="#666666"/><rect x="478.1" fill="#636363"/><rect x="482.7" fill="#636363"/><rect x="487.3" fill="#666666"/><rect x="491.9" fill="#6c6c6c"/><rect x="496.5" fill="#737373"/><rect x="501.1" fill="#767676"/><rect x="505.7" fill="#767676"/><rect x="510.3" fill="#767676"/></g>
<g transform="translate(0 354.3)"><rect x="312.5" fill="#818181"/><rect x="317.1" fill="#818181"/><rect x="321.7" fill="#818181"/><rect x="326.3" fill="#757575"/><rect x="330.9" fill="#747474"/><rect x="335.5" fill="#848484"/><rect x="340.1" fill="#9a9a9a"/><rect x="344.7" fill="#aeaeae"/><rect x="349.3" fill="#bfbfbf"/><rect x="353.9" fill="#cccccc"/><rect x="358.5" fill="#d0d0d0"/><rect x="363.1" fill="#c8c8c8"/><rect x="367.7" fill="#b3b3b3"/><rect x="372.3" fill="#969696"/><rect x="376.9" fill="#777777"/><rect x="381.5" fill="#696969"/><rect x="386.1" fill="#767676"/><rect x="390.7" fill="#8a8a8a"/><rect x="395.3" fill="#989898"/><rect x="399.9" fill="#9f9f9f"/><rect x="404.5" fill="#a2a2a2"/><rect x="409.1" fill="#a1a1a1"/><rect x="413.7" fill="#a2a2a2"/><rect x="418.3" fill="#a7a7a7"/><rect x="422.9" fill="#afafaf"/><rect x="427.5" fill="#b3b3b3"/><rect x="432.1" fill="#aeaeae"/><rect x="436.7" fill="#a4a4a4"/><rect x="441.3" fill="#969696"/><rect x="445.9" fill="#848484"/><rect x="450.5" fill="#727272"/><rect x="455.1" fill="#666666"/><rect x="459.7" fill="#626262"/><rect x="464.3" fill="#616161"/><rect x="468.9" fill="#606060"/><rect x="473.5" fill="#616161"/><rect x="478.1" fill="#636363"/><rect x="482.7" fill="#656565"/><rect x="487.3" fill="#686868"/><rect x="491.9" fill="#6d6d6d"/><rect x="496.5" fill="#747474"/><rect x="501.1" fill="#777777"/><rect x="505.7" fill="#777777"/><rect x="510.3" fill="#777777"/></g>
<g transform="translate(0 358.9)"><rect x="312.5" fill="#7b7b7b"/><rect x="317.1" fill="#7b7b7b"/><rect x="321.7" fill="#7b7b7b"/><rect x="326.3" fill="#6f6f6f"/><rect x="330.9" fill="#6e6e6e"/><rect x="335.5" fill="#7f7f7f"/><rect x="340.1" fill="#989898"/><rect x="344.7" fill="#b1b1b1"/><rect x="349.3" fill="#c9c9c9"/><rect x="353.9" fill="#dadada"/><rect x="358.5" fill="#dedede"/><rect x="363.1" fill="#d2d2d2"/><rect x="367.7" fill="#b8b8b8"/><rect x="372.3" fill="#989898"/><rect x="376.9" fill="#777777"/><rect x="381.5" fill="#696969"/><rect x="386.1" fill="#767676"/><rect x="390.7" fill="#8b8b8b"/><rect x="395.3" fill="#9a9a9a"/><rect x="399.9" fill="#a4a4a4"/><rect x="404.5" fill="#aaaaaa"/><rect x="409.1" fill="#aaaaaa"/><rect x="413.7" fill="#a9a9a9"/><rect x="418.3" fill="#aaaaaa"/><rect x="422.9" fill="#aeaeae"/><rect x="427.5" fill="#acacac"/><rect x="432.1" fill="#a4a4a4"/><rect x="436.7" fill="#979797"/><rect x="441.3" fill="#888888"/><rect x="445.9" fill="#797979"/><rect x="450.5" fill="#6c6c6c"/><rect x="455.1" fill="#626262"/><rect x="459.7" fill="#5b5b5b"/><rect x="464.3" fill="#575757"/><rect x="468.9" fill="#555555"/><rect x="473.5" fill="#575757"/><rect x="478.1" fill="#5c5c5c"/><rect x="482.7" fill="#626262"/><rect x="487.3" fill="#686868"/><rect x="491.9" fill="#6d6d6d"/><rect x="496.5" fill="#737373"/><rect x="501.1" fill="#757575"/><rect x="505.7" fill="#757575"/><rect x="510.3" fill="#757575"/></g>
<g transform="translate(0 363.5)"><rect x="312.5" fill="#848484"/><rect x="317.1" fill="#848484"/><rect x="321.7" fill="#848484"/><rect x="326.3" fill="#7c7c7c"/><rect x="330.9" fill="#7c7c7c"/><rect x="335.5" fill="#888888"/><rect x="340.1" fill="#9c9c9c"/><rect x="344.7" fill="#b5b5b5"/><rect x="349.3" fill="#cfcfcf"/><rect x="353.9" fill="#e2e2e2"/><rect x="358.5" fill="#e6e6e6"/><rect x="363.1" fill="#d9d9d9"/><rect x="367.7" fill="#bfbfbf"/><rect x="372.3" fill="#a3a3a3"/><rect x="376.9" fill="#8b8b8b"/><rect x="381.5" fill="#828282"/><rect x="386.1" fill="#8b8b8b"/><rect x="390.7" fill="#9a9a9a"/><rect x="395.3" fill="#a5a5a5"/><rect x="399.9" fill="#aeaeae"/><rect x="404.5" fill="#b2b2b2"/><rect x="409.1" fill="#b2b2b2"/><rect x="413.7" fill="#aeaeae"/><rect x="418.3" fill="#acacac"/><rect x="422.9" fill="#ababab"/><rect x="427.5" fill="#a5a5a5"/><rect x="432.1" fill="#999999"/><rect x="436.7" fill="#8a8a8a"/><rect x="441.3" fill="#7b7b7b"/><rect x="445.9" fill="#6f6f6f"/><rect x="450.5" fill="#666666"/><rect x="455.1" fill="#5c5c5c"/><rect x="459.7" fill="#515151"/><rect x="464.3" fill="#464646"/><rect x="468.9" fill="#3f3f3f"/><rect x="473.5" fill="#424242"/><rect x="478.1" fill="#4e4e4e"/><rect x="482.7" fill="#5a5a5a"/><rect x="487.3" fill="#646464"/><rect x="491.9" fill="#6c6c6c"/><rect x="496.5" fill="#727272"/><rect x="501.1" fill="#757575"/><rect x="505.7" fill="#757575"/><rect x="510.3" fill="#757575"/></g>
<g transform="translate(0 368.1)"><rect x="312.5" fill="#8d8d8d"/><rect x="317.1" fill="#8d8d8d"/><rect x="321.7" fill="#8d8d8d"/><rect x="326.3" fill="#8b8b8b"/><rect x="330.9" fill="#8c8c8c"/><rect x="335.5" fill="#939393"/><rect x="340.1" fill="#a0a0a0"/><rect x="344.7" fill="#b4b4b4"/><rect x="349.3" fill="#cbcbcb"/><rect x="353.9" fill="#dcdcdc"/><rect x="358.5" fill="#e0e0e0"/><rect x="363.1" fill="#d6d6d6"/><rect x="367.7" fill="#c1c1c1"/><rect x="372.3" fill="#aaaaaa"/><rect x="376.9" fill="#9b9b9b"/><rect x="381.5" fill="#989898"/><rect x="386.1" fill="#a2a2a2"/><rect x="390.7" fill="#adadad"/><rect x="395.3" fill="#b5b5b5"/><rect x="399.9" fill="#b9b9b9"/><rect x="404.5" fill="#bababa"/><rect x="409.1" fill="#b6b6b6"/><rect x="413.7" fill="#afafaf"/><rect x="418.3" fill="#aaaaaa"/><rect x="422.9" fill="#a6a6a6"/><rect x="427.5" fill="#9e9e9e"/><rect x="432.1" fill="#909090"/><rect x="436.7" fill="#808080"/><rect x="441.3" fill="#717171"/><rect x="445.9" fill="#656565"/><rect x="450.5" fill="#5d5d5d"/><rect x="455.1" fill="#525252"/><rect x="459.7" fill="#444444"/><rect x="464.3" fill="#343434"/><rect x="468.9" fill="#292929"/><rect x="473.5" fill="#2d2d2d"/><rect x="478.1" fill="#3e3e3e"/><rect x="482.7" fill="#515151"/><rect x="487.3" fill="#606060"/><rect x="491.9" fill="#6b6b6b"/><rect x="496.5" fill="#737373"/><rect x="501.1" fill="#777777"/><rect x="505.7" fill="#777777"/><rect x="510.3" fill="#777777"/></g>
<g transform="translate(0 372.7)"><rect x="312.5" fill="#898989"/><rect x="317.1" fill="#898989"/><rect x="321.7" fill="#898989"/><rect x="326.3" fill="#898989"/><rect x="330.9" fill="#8c8c8c"/><rect x="335.5" fill="#929292"/><rect x="340.1" fill="#9a9a9a"/><rect x="344.7" fill="#a8a8a8"/><rect x="349.3" fill="#b9b9b9"/><rect x="353.9" fill="#c5c5c5"/><rect x="358.5" fill="#c9c9c9"/><rect x="363.1" fill="#c2c2c2"/><rect x="367.7" fill="#b3b3b3"/><rect x="372.3" fill="#a4a4a4"/><rect x="376.9" fill="#9a9a9a"/><rect x="381.5" fill="#9d9d9d"/><rect x="386.1" fill="#a9a9a9"/><rect x="390.7" fill="#b6b6b6"/><rect x="395.3" fill="#c0c0c0"/><rect x="399.9" fill="#c6c6c6"/><rect x="404.5" fill="#c8c8c8"/><rect x="409.1" fill="#c1c1c1"/><rect x="413.7" fill="#b4b4b4"/><rect x="418.3" fill="#a8a8a8"/><rect x="422.9" fill="#9f9f9f"/><rect x="427.5" fill="#949494"/><rect x="432.1" fill="#878787"/><rect x="436.7" fill="#787878"/><rect x="441.3" fill="#6c6c6c"/><rect x="445.9" fill="#616161"/><rect x="450.5" fill="#585858"/><rect x="455.1" fill="#4d4d4d"/><rect x="459.7" fill="#3f3f3f"/><rect x="464.3" fill="#313131"/><rect x="468.9" fill="#282828"/><rect x="473.5" fill="#2d2d2d"/><rect x="478.1" fill="#3e3e3e"/><rect x="482.7" fill="#515151"/><rect x="487.3" fill="#5f5f5f"/><rect x="491.9" fill="#6b6b6b"/><rect x="496.5" fill="#737373"/><rect x="501.1" fill="#777777"/><rect x="505.7" fill="#777777"/><rect x="510.3" fill="#777777"/></g>
<g transform="translate(0 377.3)"><rect x="312.5" fill="#787878"/><rect x="317.1" fill="#787878"/><rect x="321.7" fill="#787878"/><rect x="326.3" fill="#7a7a7a"/><rect x="330.9" fill="#7f7f7f"/><rect x="335.5" fill="#848484"/><rect x="340.1" fill="#898989"/><rect x="344.7" fill="#929292"/><rect x="349.3" fill="#9c9c9c"/><rect x="353.9" fill="#a4a4a4"/><rect x="358.5" fill="#a6a6a6"/><rect x="363.1" fill="#a2a2a2"/><rect x="367.7" fill="#9b9b9b"/><rect x="372.3" fill="#929292"/><rect x="376.9" fill="#8d8d8d"/><rect x="381.5" fill="#939393"/><rect x="386.1" fill="#a2a2a2"/><rect x="390.7" fill="#b2b2b2"/><rect x="395.3" fill="#bfbfbf"/><rect x="399.9" fill="#cccccc"/><rect x="404.5" fill="#d3d3d3"/><rect x="409.1" fill="#cccccc"/><rect x="413.7" fill="#b8b8b8"/><rect x="418.3" fill="#a3a3a3"/><rect x="422.9" fill="#949494"/><rect x="427.5" fill="#878787"/><rect x="432.1" fill="#7a7a7a"/><rect x="436.7" fill="#707070"/><rect x="441.3" fill="#686868"/><rect x="445.9" fill="#606060"/><rect x="450.5" fill="#575757"/><rect x="455.1" fill="#4e4e4e"/><rect x="459.7" fill="#454545"/><rect x="464.3" fill="#3e3e3e"/><rect x="468.9" fill="#3c3c3c"/><rect x="473.5" fill="#424242"/><rect x="478.1" fill="#4e4e4e"/><rect x="482.7" fill="#5a5a5a"/><rect x="487.3" fill="#636363"/><rect x="491.9" fill="#6b6b6b"/><rect x="496.5" fill="#737373"/><rect x="501.1" fill="#777777"/><rect x="505.7" fill="#777777"/><rect x="510.3" fill="#777777"/></g>
<g transform="translate(0 381.9)"><rect x="312.5" fill="#656565"/><rect x="317.1" fill="#656565"/><rect x="321.7" fill="#656565"/><rect x="326.3" fill="#676767"/><rect x="330.9" fill="#6c6c6c"/><rect x="335.5" fill="#717171"/><rect x="340.1" fill="#747474"/><rect x="344.7" fill="#787878"/><rect x="349.3" fill="#7e7e7e"/><rect x="353.9" fill="#848484"/><rect x="358.5" fill="#888888"/><rect x="363.1" fill="#888888"/><rect x="367.7" fill="#868686"/><rect x="372.3" fill="#828282"/><rect x="376.9" fill="#828282"/><rect x="381.5" fill="#888888"/><rect x="386.1" fill="#959595"/><rect x="390.7" fill="#a3a3a3"/><rect x="395.3" fill="#afafaf"/><rect x="399.9" fill="#bcbcbc"/><rect x="404.5" fill="#c5c5c5"/><rect x="409.1" fill="#bfbfbf"/><rect x="413.7" fill="#ababab"/><rect x="418.3" fill="#949494"/><rect x="422.9" fill="#828282"/><rect x="427.5" fill="#747474"/><rect x="432.1" fill="#686868"/><rect x="436.7" fill="#606060"/><rect x="441.3" fill="#5b5b5b"/><rect x="445.9" fill="#595959"/><rect x="450.5" fill="#585858"/><rect x="455.1" fill="#555555"/><rect x="459.7" fill="#4f4f4f"/><rect x="464.3" fill="#4d4d4d"/><rect x="468.9" fill="#4f4f4f"/><rect x="473.5" fill="#555555"/><rect x="478.1" fill="#5c5c5c"/><rect x="482.7" fill="#636363"/><rect x="487.3" fill="#686868"/><rect x="491.9" fill="#6e6e6e"/><rect x="496.5" fill="#747474"/><rect x="501.1" fill="#777777"/><rect x="505.7" fill="#777777"/><rect x="510.3" fill="#777777"/></g>
<g transform="translate(0 386.5)"><rect x="312.5" fill="#545454"/><rect x="317.1" fill="#545454"/><rect x="321.7" fill="#545454"/><rect x="326.3" fill="#565656"/><rect x="330.9" fill="#595959"/><rect x="335.5" fill="#5c5c5c"/><rect x="340.1" fill="#5e5e5e"/><rect x="344.7" fill="#616161"/><rect x="349.3" fill="#656565"/><rect x="353.9" fill="#6b6b6b"/><rect x="358.5" fill="#727272"/><rect x="363.1" fill="#767676"/><rect x="367.7" fill="#777777"/><rect x="372.3" fill="#787878"/><rect x="376.9" fill="#7a7a7a"/><rect x="381.5" fill="#808080"/><rect x="386.1" fill="#878787"/><rect x="390.7" fill="#8e8e8e"/><rect x="395.3" fill="#949494"/><rect x="399.9" fill="#9b9b9b"/><rect x="404.5" fill="#a0a0a0"/><rect x="409.1" fill="#9c9c9c"/><rect x="413.7" fill="#8f8f8f"/><rect x="418.3" fill="#7d7d7d"/><rect x="422.9" fill="#6c6c6c"/><rect x="427.5" fill="#5e5e5e"/><rect x="432.1" fill="#535353"/><rect x="436.7" fill="#4c4c4c"/><rect x="441.3" fill="#494949"/><rect x="445.9" fill="#4e4e4e"/><rect x="450.5" fill="#585858"/><rect x="455.1" fill="#5c5c5c"/><rect x="459.7" fill="#595959"/><rect x="464.3" fill="#575757"/><rect x="468.9" fill="#5a5a5a"/><rect x="473.5" fill="#5f5f5f"/><rect x="478.1" fill="#646464"/><rect x="482.7" fill="#686868"/><rect x="487.3" fill="#6c6c6c"/><rect x="491.9" fill="#717171"/><rect x="496.5" fill="#777777"/><rect x="501.1" fill="#7a7a7a"/><rect x="505.7" fill="#7a7a7a"/><rect x="510.3" fill="#7a7a7a"/></g>
<g transform="translate(0 391.1)"><rect x="312.5" fill="#424242"/><rect x="317.1" fill="#424242"/><rect x="321.7" fill="#424242"/><rect x="326.3" fill="#444444"/><rect x="330.9" fill="#474747"/><rect x="335.5" fill="#494949"/><rect x="340.1" fill="#4b4b4b"/><rect x="344.7" fill="#4c4c4c"/><rect x="349.3" fill="#4f4f4f"/><rect x="353.9" fill="#555555"/><rect x="358.5" fill="#5c5c5c"/><rect x="363.1" fill="#626262"/><rect x="367.7" fill="#666666"/><rect x="372.3" fill="#6a6a6a"/><rect x="376.9" fill="#6f6f6f"/><rect x="381.5" fill="#747474"/><rect x="386.1" fill="#797979"/><rect x="390.7" fill="#7c7c7c"/><rect x="395.3" fill="#7e7e7e"/><rect x="399.9" fill="#818181"/><rect x="404.5" fill="#828282"/><rect x="409.1" fill="#808080"/><rect x="413.7" fill="#787878"/><rect x="418.3" fill="#6a6a6a"/><rect x="422.9" fill="#595959"/><rect x="427.5" fill="#494949"/><rect x="432.1" fill="#404040"/><rect x="436.7" fill="#3c3c3c"/><rect x="441.3" fill="#3e3e3e"/><rect x="445.9" fill="#484848"/><rect x="450.5" fill="#565656"/><rect x="455.1" fill="#5d5d5d"/><rect x="459.7" fill="#5e5e5e"/><rect x="464.3" fill="#5e5e5e"/><rect x="468.9" fill="#626262"/><rect x="473.5" fill="#666666"/><rect x="478.1" fill="#6a6a6a"/><rect x="482.7" fill="#6d6d6d"/><rect x="487.3" fill="#707070"/><rect x="491.9" fill="#757575"/><rect x="496.5" fill="#7b7b7b"/><rect x="501.1" fill="#7e7e7e"/><rect x="505.7" fill="#7e7e7e"/><rect x="510.3" fill="#7e7e7e"/></g>
<g transform="translate(0 395.7)"><rect x="312.5" fill="#333333"/><rect x="317.1" fill="#333333"/><rect x="321.7" fill="#333333"/><rect x="326.3" fill="#343434"/><rect x="330.9" fill="#363636"/><rect x="335.5" fill="#393939"/><rect x="340.1" fill="#3b3b3b"/><rect x="344.7" fill="#3d3d3d"/><rect x="349.3" fill="#404040"/><rect x="353.9" fill="#434343"/><rect x="358.5" fill="#474747"/><rect x="363.1" fill="#4b4b4b"/><rect x="367.7" fill="#515151"/><rect x="372.3" fill="#575757"/><rect x="376.9" fill="#5d5d5d"/><rect x="381.5" fill="#646464"/><rect x="386.1" fill="#6a6a6a"/><rect x="390.7" fill="#707070"/><rect x="395.3" fill="#777777"/><rect x="399.9" fill="#7c7c7c"/><rect x="404.5" fill="#797979"/><rect x="409.1" fill="#747474"/><rect x="413.7" fill="#6e6e6e"/><rect x="418.3" fill="#606060"/><rect x="422.9" fill="#4c4c4c"/><rect x="427.5" fill="#3c3c3c"/><rect x="432.1" fill="#343434"/><rect x="436.7" fill="#343434"/><rect x="441.3" fill="#3b3b3b"/><rect x="445.9" fill="#464646"/><rect x="450.5" fill="#515151"/><rect x="455.1" fill="#585858"/><rect x="459.7" fill="#5d5d5d"/><rect x="464.3" fill="#626262"/><rect x="468.9" fill="#676767"/><rect x="473.5" fill="#6b6b6b"/><rect x="478.1" fill="#6f6f6f"/><rect x="482.7" fill="#717171"/><rect x="487.3" fill="#747474"/><rect x="491.9" fill="#797979"/><rect x="496.5" fill="#7f7f7f"/><rect x="501.1" fill="#828282"/><rect x="505.7" fill="#828282"/><rect x="510.3" fill="#828282"/></g>
<g transform="translate(0 400.3)"><rect x="312.5" fill="#2b2b2b"/><rect x="317.1" fill="#2b2b2b"/><rect x="321.7" fill="#2b2b2b"/><rect x="326.3" fill="#2a2a2a"/><rect x="330.9" fill="#2a2a2a"/><rect x="335.5" fill="#2b2b2b"/><rect x="340.1" fill="#2f2f2f"/><rect x="344.7" fill="#343434"/><rect x="349.3" fill="#393939"/><rect x="353.9" fill="#3c3c3c"/><rect x="358.5" fill="#3f3f3f"/><rect x="363.1" fill="#404040"/><rect x="367.7" fill="#424242"/><rect x="372.3" fill="#444444"/><rect x="376.9" fill="#474747"/><rect x="381.5" fill="#4f4f4f"/><rect x="386.1" fill="#5b5b5b"/><rect x="390.7" fill="#686868"/><rect x="395.3" fill="#7a7a7a"/><rect x="399.9" fill="#868686"/><rect x="404.5" fill="#7e7e7e"/><rect x="409.1" fill="#727272"/><rect x="413.7" fill="#686868"/><rect x="418.3" fill="#5a5a5a"/><rect x="422.9" fill="#484848"/><rect x="427.5" fill="#393939"/><rect x="432.1" fill="#303030"/><rect x="436.7" fill="#313131"/><rect x="441.3" fill="#393939"/><rect x="445.9" fill="#434343"/><rect x="450.5" fill="#4b4b4b"/><rect x="455.1" fill="#525252"/><rect x="459.7" fill="#5a5a5a"/><rect x="464.3" fill="#616161"/><rect x="468.9" fill="#676767"/><rect x="473.5" fill="#6c6c6c"/><rect x="478.1" fill="#707070"/><rect x="482.7" fill="#747474"/><rect x="487.3" fill="#777777"/><rect x="491.9" fill="#7c7c7c"/><rect x="496.5" fill="#818181"/><rect x="501.1" fill="#838383"/><rect x="505.7" fill="#838383"/><rect x="510.3" fill="#838383"/></g>
<g transform="translate(0 404.9)"><rect x="312.5" fill="#2d2d2d"/><rect x="317.1" fill="#2d2d2d"/><rect x="321.7" fill="#2d2d2d"/><rect x="326.3" fill="#292929"/><rect x="330.9" fill="#242424"/><rect x="335.5" fill="#252525"/><rect x="340.1" fill="#2b2b2b"/><rect x="344.7" fill="#323232"/><rect x="349.3" fill="#393939"/><rect x="353.9" fill="#3e3e3e"/><rect x="358.5" fill="#414141"/><rect x="363.1" fill="#404040"/><rect x="367.7" fill="#3b3b3b"/><rect x="372.3" fill="#363636"/><rect x="376.9" fill="#363636"/><rect x="381.5" fill="#3d3d3d"/><rect x="386.1" fill="#4c4c4c"/><rect x="390.7" fill="#5f5f5f"/><rect x="395.3" fill="#747474"/><rect x="399.9" fill="#838383"/><rect x="404.5" fill="#7c7c7c"/><rect x="409.1" fill="#6d6d6d"/><rect x="413.7" fill="#606060"/><rect x="418.3" fill="#545454"/><rect x="422.9" fill="#494949"/><rect x="427.5" fill="#3e3e3e"/><rect x="432.1" fill="#343434"/><rect x="436.7" fill="#323232"/><rect x="441.3" fill="#373737"/><rect x="445.9" fill="#3f3f3f"/><rect x="450.5" fill="#474747"/><rect x="455.1" fill="#4f4f4f"/><rect x="459.7" fill="#565656"/><rect x="464.3" fill="#5d5d5d"/><rect x="468.9" fill="#646464"/><rect x="473.5" fill="#6a6a6a"/><rect x="478.1" fill="#6f6f6f"/><rect x="482.7" fill="#747474"/><rect x="487.3" fill="#7a7a7a"/><rect x="491.9" fill="#7e7e7e"/><rect x="496.5" fill="#818181"/><rect x="501.1" fill="#828282"/><rect x="505.7" fill="#828282"/><rect x="510.3" fill="#828282"/></g>
<g transform="translate(0 409.5)"><rect x="312.5" fill="#353535"/><rect x="317.1" fill="#353535"/><rect x="321.7" fill="#353535"/><rect x="326.3" fill="#323232"/><rect x="330.9" fill="#2d2d2d"/><rect x="335.5" fill="#2c2c2c"/><rect x="340.1" fill="#303030"/><rect x="344.7" fill="#343434"/><rect x="349.3" fill="#363636"/><rect x="353.9" fill="#3a3a3a"/><rect x="358.5" fill="#3d3d3d"/><rect x="363.1" fill="#3e3e3e"/><rect x="367.7" fill="#3a3a3a"/><rect x="372.3" fill="#343434"/><rect x="376.9" fill="#313131"/><rect x="381.5" fill="#373737"/><rect x="386.1" fill="#444444"/><rect x="390.7" fill="#545454"/><rect x="395.3" fill="#636363"/><rect x="399.9" fill="#6c6c6c"/><rect x="404.5" fill="#696969"/><rect x="409.1" fill="#5f5f5f"/><rect x="413.7" fill="#545454"/><rect x="418.3" fill="#4d4d4d"/><rect x="422.9" fill="#484848"/><rect x="427.5" fill="#434343"/><rect x="432.1" fill="#3e3e3e"/><rect x="436.7" fill="#3c3c3c"/><rect x="441.3" fill="#404040"/><rect x="445.9" fill="#444444"/><rect x="450.5" fill="#494949"/><rect x="455.1" fill="#4e4e4e"/><rect x="459.7" fill="#545454"/><rect x="464.3" fill="#5c5c5c"/><rect x="468.9" fill="#646464"/><rect x="473.5" fill="#6a6a6a"/><rect x="478.1" fill="#707070"/><rect x="482.7" fill="#767676"/><rect x="487.3" fill="#7c7c7c"/><rect x="491.9" fill="#808080"/><rect x="496.5" fill="#818181"/><rect x="501.1" fill="#828282"/><rect x="505.7" fill="#828282"/><rect x="510.3" fill="#828282"/></g>
<g transform="translate(0 414.1)"><rect x="312.5" fill="#3f3f3f"/><rect x="317.1" fill="#3f3f3f"/><rect x="321.7" fill="#3f3f3f"/><rect x="326.3" fill="#3f3f3f"/><rect x="330.9" fill="#3e3e3e"/><rect x="335.5" fill="#3d3d3d"/><rect x="340.1" fill="#3a3a3a"/><rect x="344.7" fill="#343434"/><rect x="349.3" fill="#2e2e2e"/><rect x="353.9" fill="#2c2c2c"/><rect x="358.5" fill="#2f2f2f"/><rect x="363.1" fill="#353535"/><rect x="367.7" fill="#393939"/><rect x="372.3" fill="#393939"/><rect x="376.9" fill="#373737"/><rect x="381.5" fill="#3a3a3a"/><rect x="386.1" fill="#414141"/><rect x="390.7" fill="#4b4b4b"/><rect x="395.3" fill="#525252"/><rect x="399.9" fill="#545454"/><rect x="404.5" fill="#515151"/><rect x="409.1" fill="#4c4c4c"/><rect x="413.7" fill="#464646"/><rect x="418.3" fill="#434343"/><rect x="422.9" fill="#434343"/><rect x="427.5" fill="#454545"/><rect x="432.1" fill="#474747"/><rect x="436.7" fill="#4b4b4b"/><rect x="441.3" fill="#4f4f4f"/><rect x="445.9" fill="#505050"/><rect x="450.5" fill="#4f4f4f"/><rect x="455.1" fill="#505050"/><rect x="459.7" fill="#575757"/><rect x="464.3" fill="#616161"/><rect x="468.9" fill="#6b6b6b"/><rect x="473.5" fill="#727272"/><rect x="478.1" fill="#767676"/><rect x="482.7" fill="#797979"/><rect x="487.3" fill="#7c7c7c"/><rect x="491.9" fill="#7f7f7f"/><rect x="496.5" fill="#818181"/><rect x="501.1" fill="#828282"/><rect x="505.7" fill="#828282"/><rect x="510.3" fill="#828282"/></g>
<g transform="translate(0 418.7)"><rect x="312.5" fill="#474747"/><rect x="317.1" fill="#474747"/><rect x="321.7" fill="#474747"/><rect x="326.3" fill="#494949"/><rect x="330.9" fill="#4b4b4b"/><rect x="335.5" fill="#484848"/><rect x="340.1" fill="#3d3d3d"/><rect x="344.7" fill="#2f2f2f"/><rect x="349.3" fill="#212121"/><rect x="353.9" fill="#1c1c1c"/><rect x="358.5" fill="#222222"/><rect x="363.1" fill="#2b2b2b"/><rect x="367.7" fill="#343434"/><rect x="372.3" fill="#383838"/><rect x="376.9" fill="#393939"/><rect x="381.5" fill="#3a3a3a"/><rect x="386.1" fill="#3d3d3d"/><rect x="390.7" fill="#414141"/><rect x="395.3" fill="#454545"/><rect x="399.9" fill="#454545"/><rect x="404.5" fill="#434343"/><rect x="409.1" fill="#404040"/><rect x="413.7" fill="#3e3e3e"/><rect x="418.3" fill="#3d3d3d"/><rect x="422.9" fill="#3e3e3e"/><rect x="427.5" fill="#434343"/><rect x="432.1" fill="#4b4b4b"/><rect x="436.7" fill="#525252"/><rect x="441.3" fill="#575757"/><rect x="445.9" fill="#575757"/><rect x="450.5" fill="#545454"/><rect x="455.1" fill="#575757"/><rect x="459.7" fill="#606060"/><rect x="464.3" fill="#6f6f6f"/><rect x="468.9" fill="#7d7d7d"/><rect x="473.5" fill="#838383"/><rect x="478.1" fill="#808080"/><rect x="482.7" fill="#7a7a7a"/><rect x="487.3" fill="#767676"/><rect x="491.9" fill="#767676"/><rect x="496.5" fill="#7b7b7b"/><rect x="501.1" fill="#7d7d7d"/><rect x="505.7" fill="#7d7d7d"/><rect x="510.3" fill="#7d7d7d"/></g>
<g transform="translate(0 423.3)"><rect x="312.5" fill="#494949"/><rect x="317.1" fill="#494949"/><rect x="321.7" fill="#494949"/><rect x="326.3" fill="#4b4b4b"/><rect x="330.9" fill="#4e4e4e"/><rect x="335.5" fill="#484848"/><rect x="340.1" fill="#393939"/><rect x="344.7" fill="#262626"/><rect x="349.3" fill="#171717"/><rect x="353.9" fill="#131313"/><rect x="358.5" fill="#1a1a1a"/><rect x="363.1" fill="#232323"/><rect x="367.7" fill="#2a2a2a"/><rect x="372.3" fill="#2f2f2f"/><rect x="376.9" fill="#333333"/><rect x="381.5" fill="#353535"/><rect x="386.1" fill="#363636"/><rect x="390.7" fill="#383838"/><rect x="395.3" fill="#3b3b3b"/><rect x="399.9" fill="#3e3e3e"/><rect x="404.5" fill="#3f3f3f"/><rect x="409.1" fill="#3f3f3f"/><rect x="413.7" fill="#3d3d3d"/><rect x="418.3" fill="#3c3c3c"/><rect x="422.9" fill="#3d3d3d"/><rect x="427.5" fill="#414141"/><rect x="432.1" fill="#494949"/><rect x="436.7" fill="#505050"/><rect x="441.3" fill="#535353"/><rect x="445.9" fill="#555555"/><rect x="450.5" fill="#565656"/><rect x="455.1" fill="#5e5e5e"/><rect x="459.7" fill="#6d6d6d"/><rect x="464.3" fill="#828282"/><rect x="468.9" fill="#949494"/><rect x="473.5" fill="#989898"/><rect x="478.1" fill="#8d8d8d"/><rect x="482.7" fill="#7b7b7b"/><rect x="487.3" fill="#6c6c6c"/><rect x="491.9" fill="#676767"/><rect x="496.5" fill="#6d6d6d"/><rect x="501.1" fill="#717171"/><rect x="505.7" fill="#717171"/><rect x="510.3" fill="#717171"/></g>
<g transform="translate(0 427.9)"><rect x="312.5" fill="#484848"/><rect x="317.1" fill="#484848"/><rect x="321.7" fill="#484848"/><rect x="326.3" fill="#494949"/><rect x="330.9" fill="#4a4a4a"/><rect x="335.5" fill="#454545"/><rect x="340.1" fill="#373737"/><rect x="344.7" fill="#262626"/><rect x="349.3" fill="#171717"/><rect x="353.9" fill="#131313"/><rect x="358.5" fill="#191919"/><rect x="363.1" fill="#202020"/><rect x="367.7" fill="#252525"/><rect x="372.3" fill="#2a2a2a"/><rect x="376.9" fill="#303030"/><rect x="381.5" fill="#333333"/><rect x="386.1" fill="#333333"/><rect x="390.7" fill="#323232"/><rect x="395.3" fill="#323232"/><rect x="399.9" fill="#383838"/><rect x="404.5" fill="#404040"/><rect x="409.1" fill="#444444"/><rect x="413.7" fill="#434343"/><rect x="418.3" fill="#424242"/><rect x="422.9" fill="#424242"/><rect x="427.5" fill="#454545"/><rect x="432.1" fill="#4a4a4a"/><rect x="436.7" fill="#4d4d4d"/><rect x="441.3" fill="#4f4f4f"/><rect x="445.9" fill="#515151"/><rect x="450.5" fill="#565656"/><rect x="455.1" fill="#646464"/><rect x="459.7" fill="#787878"/><rect x="464.3" fill="#8f8f8f"/><rect x="468.9" fill="#a0a0a0"/><rect x="473.5" fill="#a6a6a6"/><rect x="478.1" fill="#9c9c9c"/><rect x="482.7" fill="#828282"/><rect x="487.3" fill="#636363"/><rect x="491.9" fill="#565656"/><rect x="496.5" fill="#5c5c5c"/><rect x="501.1" fill="#626262"/><rect x="505.7" fill="#626262"/><rect x="510.3" fill="#626262"/></g>
<g transform="translate(0 432.5)"><rect x="312.5" fill="#484848"/><rect x="317.1" fill="#484848"/><rect x="321.7" fill="#484848"/><rect x="326.3" fill="#484848"/><rect x="330.9" fill="#484848"/><rect x="335.5" fill="#454545"/><rect x="340.1" fill="#3d3d3d"/><rect x="344.7" fill="#323232"/><rect x="349.3" fill="#262626"/><rect x="353.9" fill="#202020"/><rect x="358.5" fill="#202020"/><rect x="363.1" fill="#252525"/><rect x="367.7" fill="#2b2b2b"/><rect x="372.3" fill="#313131"/><rect x="376.9" fill="#373737"/><rect x="381.5" fill="#393939"/><rect x="386.1" fill="#373737"/><rect x="390.7" fill="#323232"/><rect x="395.3" fill="#2f2f2f"/><rect x="399.9" fill="#363636"/><rect x="404.5" fill="#434343"/><rect x="409.1" fill="#4c4c4c"/><rect x="413.7" fill="#4d4d4d"/><rect x="418.3" fill="#4d4d4d"/><rect x="422.9" fill="#4e4e4e"/><rect x="427.5" fill="#505050"/><rect x="432.1" fill="#525252"/><rect x="436.7" fill="#535353"/><rect x="441.3" fill="#555555"/><rect x="445.9" fill="#575757"/><rect x="450.5" fill="#5c5c5c"/><rect x="455.1" fill="#6c6c6c"/><rect x="459.7" fill="#828282"/><rect x="464.3" fill="#969696"/><rect x="468.9" fill="#a2a2a2"/><rect x="473.5" fill="#ababab"/><rect x="478.1" fill="#aaaaaa"/><rect x="482.7" fill="#8e8e8e"/><rect x="487.3" fill="#636363"/><rect x="491.9" fill="#4d4d4d"/><rect x="496.5" fill="#525252"/><rect x="501.1" fill="#595959"/><rect x="505.7" fill="#595959"/><rect x="510.3" fill="#595959"/></g>
<g transform="translate(0 437.1)"><rect x="312.5" fill="#515151"/><rect x="317.1" fill="#515151"/><rect x="321.7" fill="#515151"/><rect x="326.3" fill="#515151"/><rect x="330.9" fill="#505050"/><rect x="335.5" fill="#4e4e4e"/><rect x="340.1" fill="#4c4c4c"/><rect x="344.7" fill="#474747"/><rect x="349.3" fill="#404040"/><rect x="353.9" fill="#3a3a3a"/><rect x="358.5" fill="#373737"/><rect x="363.1" fill="#393939"/><rect x="367.7" fill="#3f3f3f"/><rect x="372.3" fill="#454545"/><rect x="376.9" fill="#494949"/><rect x="381.5" fill="#494949"/><rect x="386.1" fill="#454545"/><rect x="390.7" fill="#3e3e3e"/><rect x="395.3" fill="#3b3b3b"/><rect x="399.9" fill="#414141"/><rect x="404.5" fill="#4e4e4e"/><rect x="409.1" fill="#565656"/><rect x="413.7" fill="#565656"/><rect x="418.3" fill="#565656"/><rect x="422.9" fill="#585858"/><rect x="427.5" fill="#5c5c5c"/><rect x="432.1" fill="#606060"/><rect x="436.7" fill="#676767"/><rect x="441.3" fill="#6e6e6e"/><rect x="445.9" fill="#737373"/><rect x="450.5" fill="#777777"/><rect x="455.1" fill="#838383"/><rect x="459.7" fill="#959595"/><rect x="464.3" fill="#a1a1a1"/><rect x="468.9" fill="#a7a7a7"/><rect x="473.5" fill="#afafaf"/><rect x="478.1" fill="#b3b3b3"/><rect x="482.7" fill="#9c9c9c"/><rect x="487.3" fill="#737373"/><rect x="491.9" fill="#5b5b5b"/><rect x="496.5" fill="#5c5c5c"/><rect x="501.1" fill="#616161"/><rect x="505.7" fill="#616161"/><rect x="510.3" fill="#616161"/></g>
<g transform="translate(0 441.7)"><rect x="312.5" fill="#626262"/><rect x="317.1" fill="#626262"/><rect x="321.7" fill="#626262"/><rect x="326.3" fill="#616161"/><rect x="330.9" fill="#606060"/><rect x="335.5" fill="#5f5f5f"/><rect x="340.1" fill="#5f5f5f"/><rect x="344.7" fill="#5e5e5e"/><rect x="349.3" fill="#5c5c5c"/><rect x="353.9" fill="#595959"/><rect x="358.5" fill="#585858"/><rect x="363.1" fill="#595959"/><rect x="367.7" fill="#5b5b5b"/><rect x="372.3" fill="#5e5e5e"/><rect x="376.9" fill="#5e5e5e"/><rect x="381.5" fill="#5d5d5d"/><rect x="386.1" fill="#595959"/><rect x="390.7" fill="#555555"/><rect x="395.3" fill="#545454"/><rect x="399.9" fill="#585858"/><rect x="404.5" fill="#606060"/><rect x="409.1" fill="#636363"/><rect x="413.7" fill="#5e5e5e"/><rect x="418.3" fill="#5c5c5c"/><rect x="422.9" fill="#5f5f5f"/><rect x="427.5" fill="#676767"/><rect x="432.1" fill="#737373"/><rect x="436.7" fill="#838383"/><rect x="441.3" fill="#939393"/><rect x="445.9" fill="#9d9d9d"/><rect x="450.5" fill="#a0a0a0"/><rect x="455.1" fill="#a5a5a5"/><rect x="459.7" fill="#acacac"/><rect x="464.3" fill="#b0b0b0"/><rect x="468.9" fill="#b1b1b1"/><rect x="473.5" fill="#b5b5b5"/><rect x="478.1" fill="#b7b7b7"/><rect x="482.7" fill="#a9a9a9"/><rect x="487.3" fill="#8e8e8e"/><rect x="491.9" fill="#7c7c7c"/><rect x="496.5" fill="#797979"/><rect x="501.1" fill="#7a7a7a"/><rect x="505.7" fill="#7a7a7a"/><rect x="510.3" fill="#7a7a7a"/></g>
<g transform="translate(0 446.3)"><rect x="312.5" fill="#6c6c6c"/><rect x="317.1" fill="#6c6c6c"/><rect x="321.7" fill="#6c6c6c"/><rect x="326.3" fill="#6c6c6c"/><rect x="330.9" fill="#6c6c6c"/><rect x="335.5" fill="#6c6c6c"/><rect x="340.1" fill="#6d6d6d"/><rect x="344.7" fill="#6e6e6e"/><rect x="349.3" fill="#6f6f6f"/><rect x="353.9" fill="#707070"/><rect x="358.5" fill="#717171"/><rect x="363.1" fill="#717171"/><rect x="367.7" fill="#6f6f6f"/><rect x="372.3" fill="#6d6d6d"/><rect x="376.9" fill="#6a6a6a"/><rect x="381.5" fill="#6a6a6a"/><rect x="386.1" fill="#6b6b6b"/><rect x="390.7" fill="#6d6d6d"/><rect x="395.3" fill="#717171"/><rect x="399.9" fill="#767676"/><rect x="404.5" fill="#797979"/><rect x="409.1" fill="#727272"/><rect x="413.7" fill="#656565"/><rect x="418.3" fill="#5d5d5d"/><rect x="422.9" fill="#616161"/><rect x="427.5" fill="#6e6e6e"/><rect x="432.1" fill="#838383"/><rect x="436.7" fill="#9a9a9a"/><rect x="441.3" fill="#adadad"/><rect x="445.9" fill="#b8b8b8"/><rect x="450.5" fill="#bababa"/><rect x="455.1" fill="#bababa"/><rect x="459.7" fill="#b9b9b9"/><rect x="464.3" fill="#b8b8b8"/><rect x="468.9" fill="#b7b7b7"/><rect x="473.5" fill="#b8b8b8"/><rect x="478.1" fill="#b8b8b8"/><rect x="482.7" fill="#b1b1b1"/><rect x="487.3" fill="#a4a4a4"/><rect x="491.9" fill="#9a9a9a"/><rect x="496.5" fill="#959595"/><rect x="501.1" fill="#949494"/><rect x="505.7" fill="#949494"/><rect x="510.3" fill="#949494"/></g>
<g transform="translate(0 450.9)"><rect x="312.5" fill="#707070"/><rect x="317.1" fill="#707070"/><rect x="321.7" fill="#707070"/><rect x="326.3" fill="#717171"/><rect x="330.9" fill="#737373"/><rect x="335.5" fill="#757575"/><rect x="340.1" fill="#767676"/><rect x="344.7" fill="#777777"/><rect x="349.3" fill="#777777"/><rect x="353.9" fill="#7b7b7b"/><rect x="358.5" fill="#7f7f7f"/><rect x="363.1" fill="#7e7e7e"/><rect x="367.7" fill="#787878"/><rect x="372.3" fill="#717171"/><rect x="376.9" fill="#6d6d6d"/><rect x="381.5" fill="#6f6f6f"/><rect x="386.1" fill="#787878"/><rect x="390.7" fill="#828282"/><rect x="395.3" fill="#8b8b8b"/><rect x="399.9" fill="#929292"/><rect x="404.5" fill="#929292"/><rect x="409.1" fill="#848484"/><rect x="413.7" fill="#6d6d6d"/><rect x="418.3" fill="#5f5f5f"/><rect x="422.9" fill="#616161"/><rect x="427.5" fill="#737373"/><rect x="432.1" fill="#8e8e8e"/><rect x="436.7" fill="#a5a5a5"/><rect x="441.3" fill="#b4b4b4"/><rect x="445.9" fill="#bcbcbc"/><rect x="450.5" fill="#bebebe"/><rect x="455.1" fill="#bcbcbc"/><rect x="459.7" fill="#b9b9b9"/><rect x="464.3" fill="#b6b6b6"/><rect x="468.9" fill="#b6b6b6"/><rect x="473.5" fill="#b7b7b7"/><rect x="478.1" fill="#b7b7b7"/><rect x="482.7" fill="#b5b5b5"/><rect x="487.3" fill="#afafaf"/><rect x="491.9" fill="#aaaaaa"/><rect x="496.5" fill="#a6a6a6"/><rect x="501.1" fill="#a4a4a4"/><rect x="505.7" fill="#a4a4a4"/><rect x="510.3" fill="#a4a4a4"/></g>
<g transform="translate(0 455.5)"><rect x="312.5" fill="#797979"/><rect x="317.1" fill="#797979"/><rect x="321.7" fill="#797979"/><rect x="326.3" fill="#7b7b7b"/><rect x="330.9" fill="#7f7f7f"/><rect x="335.5" fill="#818181"/><rect x="340.1" fill="#828282"/><rect x="344.7" fill="#808080"/><rect x="349.3" fill="#808080"/><rect x="353.9" fill="#848484"/><rect x="358.5" fill="#888888"/><rect x="363.1" fill="#878787"/><rect x="367.7" fill="#7f7f7f"/><rect x="372.3" fill="#777777"/><rect x="376.9" fill="#737373"/><rect x="381.5" fill="#797979"/><rect x="386.1" fill="#888888"/><rect x="390.7" fill="#969696"/><rect x="395.3" fill="#a0a0a0"/><rect x="399.9" fill="#a6a6a6"/><rect x="404.5" fill="#a4a4a4"/><rect x="409.1" fill="#949494"/><rect x="413.7" fill="#7a7a7a"/><rect x="418.3" fill="#696969"/><rect x="422.9" fill="#686868"/><rect x="427.5" fill="#787878"/><rect x="432.1" fill="#939393"/><rect x="436.7" fill="#a8a8a8"/><rect x="441.3" fill="#b4b4b4"/><rect x="445.9" fill="#bababa"/><rect x="450.5" fill="#bbbbbb"/><rect x="455.1" fill="#b8b8b8"/><rect x="459.7" fill="#b3b3b3"/><rect x="464.3" fill="#b1b1b1"/><rect x="468.9" fill="#b2b2b2"/><rect x="473.5" fill="#b3b3b3"/><rect x="478.1" fill="#b4b4b4"/><rect x="482.7" fill="#b3b3b3"/><rect x="487.3" fill="#b0b0b0"/><rect x="491.9" fill="#acacac"/><rect x="496.5" fill="#a8a8a8"/><rect x="501.1" fill="#a7a7a7"/><rect x="505.7" fill="#a7a7a7"/><rect x="510.3" fill="#a7a7a7"/></g>
<g transform="translate(0 460.1)"><rect x="312.5" fill="#888888"/><rect x="317.1" fill="#888888"/><rect x="321.7" fill="#888888"/><rect x="326.3" fill="#8b8b8b"/><rect x="330.9" fill="#8f8f8f"/><rect x="335.5" fill="#919191"/><rect x="340.1" fill="#8f8f8f"/><rect x="344.7" fill="#8c8c8c"/><rect x="349.3" fill="#8b8b8b"/><rect x="353.9" fill="#8d8d8d"/><rect x="358.5" fill="#909090"/><rect x="363.1" fill="#8f8f8f"/><rect x="367.7" fill="#888888"/><rect x="372.3" fill="#808080"/><rect x="376.9" fill="#7e7e7e"/><rect x="381.5" fill="#888888"/><rect x="386.1" fill="#999999"/><rect x="390.7" fill="#a7a7a7"/><rect x="395.3" fill="#adadad"/><rect x="399.9" fill="#afafaf"/><rect x="404.5" fill="#adadad"/><rect x="409.1" fill="#9f9f9f"/><rect x="413.7" fill="#898989"/><rect x="418.3" fill="#787878"/><rect x="422.9" fill="#737373"/><rect x="427.5" fill="#7e7e7e"/><rect x="432.1" fill="#939393"/><rect x="436.7" fill="#a7a7a7"/><rect x="441.3" fill="#b3b3b3"/><rect x="445.9" fill="#b9b9b9"/><rect x="450.5" fill="#b9b9b9"/><rect x="455.1" fill="#b5b5b5"/><rect x="459.7" fill="#aeaeae"/><rect x="464.3" fill="#ababab"/><rect x="468.9" fill="#aeaeae"/><rect x="473.5" fill="#b0b0b0"/><rect x="478.1" fill="#b1b1b1"/><rect x="482.7" fill="#aeaeae"/><rect x="487.3" fill="#aaaaaa"/><rect x="491.9" fill="#a5a5a5"/><rect x="496.5" fill="#a1a1a1"/><rect x="501.1" fill="#a0a0a0"/><rect x="505.7" fill="#a0a0a0"/><rect x="510.3" fill="#a0a0a0"/></g>
<g transform="translate(0 464.7)"><rect x="312.5" fill="#909090"/><rect x="317.1" fill="#909090"/><rect x="321.7" fill="#909090"/><rect x="326.3" fill="#939393"/><rect x="330.9" fill="#989898"/><rect x="335.5" fill="#999999"/><rect x="340.1" fill="#959595"/><rect x="344.7" fill="#929292"/><rect x="349.3" fill="#909090"/><rect x="353.9" fill="#929292"/><rect x="358.5" fill="#949494"/><rect x="363.1" fill="#929292"/><rect x="367.7" fill="#8c8c8c"/><rect x="372.3" fill="#858585"/><rect x="376.9" fill="#848484"/><rect x="381.5" fill="#8f8f8f"/><rect x="386.1" fill="#a1a1a1"/><rect x="390.7" fill="#afafaf"/><rect x="395.3" fill="#b2b2b2"/><rect x="399.9" fill="#b2b2b2"/><rect x="404.5" fill="#afafaf"/><rect x="409.1" fill="#a4a4a4"/><rect x="413.7" fill="#919191"/><rect x="418.3" fill="#808080"/><rect x="422.9" fill="#797979"/><rect x="427.5" fill="#808080"/><rect x="432.1" fill="#939393"/><rect x="436.7" fill="#a6a6a6"/><rect x="441.3" fill="#b3b3b3"/><rect x="445.9" fill="#b9b9b9"/><rect x="450.5" fill="#b9b9b9"/><rect x="455.1" fill="#b3b3b3"/><rect x="459.7" fill="#acacac"/><rect x="464.3" fill="#a9a9a9"/><rect x="468.9" fill="#acacac"/><rect x="473.5" fill="#afafaf"/><rect x="478.1" fill="#afafaf"/><rect x="482.7" fill="#acacac"/><rect x="487.3" fill="#a7a7a7"/><rect x="491.9" fill="#a1a1a1"/><rect x="496.5" fill="#9c9c9c"/><rect x="501.1" fill="#9a9a9a"/><rect x="505.7" fill="#9a9a9a"/><rect x="510.3" fill="#9a9a9a"/></g>
<g transform="translate(0 469.3)"><rect x="312.5" fill="#909090"/><rect x="317.1" fill="#909090"/><rect x="321.7" fill="#909090"/><rect x="326.3" fill="#939393"/><rect x="330.9" fill="#989898"/><rect x="335.5" fill="#999999"/><rect x="340.1" fill="#959595"/><rect x="344.7" fill="#929292"/><rect x="349.3" fill="#909090"/><rect x="353.9" fill="#929292"/><rect x="358.5" fill="#949494"/><rect x="363.1" fill="#929292"/><rect x="367.7" fill="#8c8c8c"/><rect x="372.3" fill="#858585"/><rect x="376.9" fill="#848484"/><rect x="381.5" fill="#8f8f8f"/><rect x="386.1" fill="#a1a1a1"/><rect x="390.7" fill="#afafaf"/><rect x="395.3" fill="#b2b2b2"/><rect x="399.9" fill="#b2b2b2"/><rect x="404.5" fill="#afafaf"/><rect x="409.1" fill="#a4a4a4"/><rect x="413.7" fill="#919191"/><rect x="418.3" fill="#808080"/><rect x="422.9" fill="#797979"/><rect x="427.5" fill="#808080"/><rect x="432.1" fill="#939393"/><rect x="436.7" fill="#a6a6a6"/><rect x="441.3" fill="#b3b3b3"/><rect x="445.9" fill="#b9b9b9"/><rect x="450.5" fill="#b9b9b9"/><rect x="455.1" fill="#b3b3b3"/><rect x="459.7" fill="#acacac"/><rect x="464.3" fill="#a9a9a9"/><rect x="468.9" fill="#acacac"/><rect x="473.5" fill="#afafaf"/><rect x="478.1" fill="#afafaf"/><rect x="482.7" fill="#acacac"/><rect x="487.3" fill="#a7a7a7"/><rect x="491.9" fill="#a1a1a1"/><rect x="496.5" fill="#9c9c9c"/><rect x="501.1" fill="#9a9a9a"/><rect x="505.7" fill="#9a9a9a"/><rect x="510.3" fill="#9a9a9a"/></g>
<g transform="translate(0 473.9)"><rect x="312.5" fill="#909090"/><rect x="317.1" fill="#909090"/><rect x="321.7" fill="#909090"/><rect x="326.3" fill="#939393"/><rect x="330.9" fill="#989898"/><rect x="335.5" fill="#999999"/><rect x="340.1" fill="#959595"/><rect x="344.7" fill="#929292"/><rect x="349.3" fill="#909090"/><rect x="353.9" fill="#929292"/><rect x="358.5" fill="#949494"/><rect x="363.1" fill="#929292"/><rect x="367.7" fill="#8c8c8c"/><rect x="372.3" fill="#858585"/><rect x="376.9" fill="#848484"/><rect x="381.5" fill="#8f8f8f"/><rect x="386.1" fill="#a1a1a1"/><rect x="390.7" fill="#afafaf"/><rect x="395.3" fill="#b2b2b2"/><rect x="399.9" fill="#b2b2b2"/><rect x="404.5" fill="#afafaf"/><rect x="409.1" fill="#a4a4a4"/><rect x="413.7" fill="#919191"/><rect x="418.3" fill="#808080"/><rect x="422.9" fill="#797979"/><rect x="427.5" fill="#808080"/><rect x="432.1" fill="#939393"/><rect x="436.7" fill="#a6a6a6"/><rect x="441.3" fill="#b3b3b3"/><rect x="445.9" fill="#b9b9b9"/><rect x="450.5" fill="#b9b9b9"/><rect x="455.1" fill="#b3b3b3"/><rect x="459.7" fill="#acacac"/><rect x="464.3" fill="#a9a9a9"/><rect x="468.9" fill="#acacac"/><rect x="473.5" fill="#afafaf"/><rect x="478.1" fill="#afafaf"/><rect x="482.7" fill="#acacac"/><rect x="487.3" fill="#a7a7a7"/><rect x="491.9" fill="#a1a1a1"/><rect x="496.5" fill="#9c9c9c"/><rect x="501.1" fill="#9a9a9a"/><rect x="505.7" fill="#9a9a9a"/><rect x="510.3" fill="#9a9a9a"/></g>
</g></g>
<path d="M321.7 331.3V469.3H505.7M321.7 469.3v4M321.7 469.3h-5M358.5 469.3v4M321.7 441.7h-5M395.3 469.3v4M321.7 414.1h-5M432.1 469.3v4M321.7 386.5h-5M468.9 469.3v4M321.7 358.9h-5M505.7 469.3v4M321.7 331.3h-5" stroke="#555" stroke-width="0.8" fill="none"/>
<text x="321.7" y="485.6" font-size="14.8" text-anchor="middle">0.0</text><text x="358.5" y="485.6" font-size="14.8" text-anchor="middle">0.2</text><text x="395.3" y="485.6" font-size="14.8" text-anchor="middle">0.4</text><text x="432.1" y="485.6" font-size="14.8" text-anchor="middle">0.6</text><text x="468.9" y="485.6" font-size="14.8" text-anchor="middle">0.8</text><text x="505.7" y="485.6" font-size="14.8" text-anchor="middle">1.0</text><text transform="translate(309.5 469.3) rotate(-90)" font-size="14.8" text-anchor="middle">0.0</text><text transform="translate(309.5 414.1) rotate(-90)" font-size="14.8" text-anchor="middle">0.4</text><text transform="translate(309.5 358.9) rotate(-90)" font-size="14.8" text-anchor="middle">0.8</text><text x="413.7" y="505.3" font-size="14.8" text-anchor="middle">x</text><text transform="translate(292.7 400.3) rotate(-90)" font-size="14.8" text-anchor="middle">y</text>
<rect x="330.5" y="522.0" width="166.0" height="11.5" fill="url(#cb)"/><path d="M330.5 533.5h166.0" stroke="#999" stroke-width="0.5"/><path d="M330.5 522.0h166.0" stroke="#888" stroke-width="0.8"/><text x="339.7" y="549.7" font-size="14.8" text-anchor="middle">−4</text><text x="376.6" y="549.7" font-size="14.8" text-anchor="middle">−2</text><text x="413.5" y="549.7" font-size="14.8" text-anchor="middle">0</text><text x="450.4" y="549.7" font-size="14.8" text-anchor="middle">2</text><text x="487.3" y="549.7" font-size="14.8" text-anchor="middle">4</text><path d="M339.7 533.5v3.5M376.6 533.5v3.5M413.5 533.5v3.5M450.4 533.5v3.5M487.3 533.5v3.5" stroke="#444" stroke-width="0.7" fill="none"/>
<text class="cap" x="373.4" y="590.4" font-size="19" textLength="20.2" lengthAdjust="spacingAndGlyphs">(e)</text><text class="cap" x="405.4" y="590.4" font-size="19" textLength="14.6" lengthAdjust="spacingAndGlyphs" font-style="italic" stroke-width="0" fill="#444">K</text><text class="cap" x="427.4" y="590.4" font-size="19" textLength="12.8" lengthAdjust="spacingAndGlyphs">=</text><text class="cap" x="447.4" y="590.4" font-size="19" textLength="8.2" lengthAdjust="spacingAndGlyphs">6</text>
</g>
<g id="panel-f">
<g clip-path="url(#cpf)"><g class="h" filter="url(#flf)">
<g transform="translate(0 322.1)"><rect x="597.2" fill="#cacaca"/><rect x="601.8" fill="#cacaca"/><rect x="606.4" fill="#cacaca"/><rect x="611.0" fill="#c8c8c8"/><rect x="615.6" fill="#c4c4c4"/><rect x="620.2" fill="#c1c1c1"/><rect x="624.8" fill="#c0c0c0"/><rect x="629.4" fill="#c1c1c1"/><rect x="634.0" fill="#c5c5c5"/><rect x="638.6" fill="#cccccc"/><rect x="643.2" fill="#d4d4d4"/><rect x="647.8" fill="#dbdbdb"/><rect x="652.4" fill="#dedede"/><rect x="657.0" fill="#e1e1e1"/><rect x="661.6" fill="#e5e5e5"/><rect x="666.2" fill="#eaeaea"/><rect x="670.8" fill="#f0f0f0"/><rect x="675.4" fill="#f5f5f5"/><rect x="680.0" fill="#f9f9f9"/><rect x="684.6" fill="#f8f8f8"/><rect x="689.2" fill="#f0f0f0"/><rect x="693.8" fill="#dfdfdf"/><rect x="698.4" fill="#c9c9c9"/><rect x="703.0" fill="#b8b8b8"/><rect x="707.6" fill="#b0b0b0"/><rect x="712.2" fill="#ababab"/><rect x="716.8" fill="#a7a7a7"/><rect x="721.4" fill="#a3a3a3"/><rect x="726.0" fill="#a1a1a1"/><rect x="730.6" fill="#9f9f9f"/><rect x="735.2" fill="#9e9e9e"/><rect x="739.8" fill="#9f9f9f"/><rect x="744.4" fill="#9e9e9e"/><rect x="749.0" fill="#989898"/><rect x="753.6" fill="#8d8d8d"/><rect x="758.2" fill="#818181"/><rect x="762.8" fill="#777777"/><rect x="767.4" fill="#737373"/><rect x="772.0" fill="#767676"/><rect x="776.6" fill="#7e7e7e"/><rect x="781.2" fill="#868686"/><rect x="785.8" fill="#8a8a8a"/><rect x="790.4" fill="#8a8a8a"/><rect x="795.0" fill="#8a8a8a"/></g>
<g transform="translate(0 326.7)"><rect x="597.2" fill="#cacaca"/><rect x="601.8" fill="#cacaca"/><rect x="606.4" fill="#cacaca"/><rect x="611.0" fill="#c8c8c8"/><rect x="615.6" fill="#c4c4c4"/><rect x="620.2" fill="#c1c1c1"/><rect x="624.8" fill="#c0c0c0"/><rect x="629.4" fill="#c1c1c1"/><rect x="634.0" fill="#c5c5c5"/><rect x="638.6" fill="#cccccc"/><rect x="643.2" fill="#d4d4d4"/><rect x="647.8" fill="#dbdbdb"/><rect x="652.4" fill="#dedede"/><rect x="657.0" fill="#e1e1e1"/><rect x="661.6" fill="#e5e5e5"/><rect x="666.2" fill="#eaeaea"/><rect x="670.8" fill="#f0f0f0"/><rect x="675.4" fill="#f5f5f5"/><rect x="680.0" fill="#f9f9f9"/><rect x="684.6" fill="#f8f8f8"/><rect x="689.2" fill="#f0f0f0"/><rect x="693.8" fill="#dfdfdf"/><rect x="698.4" fill="#c9c9c9"/><rect x="703.0" fill="#b8b8b8"/><rect x="707.6" fill="#b0b0b0"/><rect x="712.2" fill="#ababab"/><rect x="716.8" fill="#a7a7a7"/><rect x="721.4" fill="#a3a3a3"/><rect x="726.0" fill="#a1a1a1"/><rect x="730.6" fill="#9f9f9f"/><rect x="735.2" fill="#9e9e9e"/><rect x="739.8" fill="#9f9f9f"/><rect x="744.4" fill="#9e9e9e"/><rect x="749.0" fill="#989898"/><rect x="753.6" fill="#8d8d8d"/><rect x="758.2" fill="#818181"/><rect x="762.8" fill="#777777"/><rect x="767.4" fill="#737373"/><rect x="772.0" fill="#767676"/><rect x="776.6" fill="#7e7e7e"/><rect x="781.2" fill="#868686"/><rect x="785.8" fill="#8a8a8a"/><rect x="790.4" fill="#8a8a8a"/><rect x="795.0" fill="#8a8a8a"/></g>
<g transform="translate(0 331.3)"><rect x="597.2" fill="#cacaca"/><rect x="601.8" fill="#cacaca"/><rect x="606.4" fill="#cacaca"/><rect x="611.0" fill="#c8c8c8"/><rect x="615.6" fill="#c4c4c4"/><rect x="620.2" fill="#c1c1c1"/><rect x="624.8" fill="#c0c0c0"/><rect x="629.4" fill="#c1c1c1"/><rect x="634.0" fill="#c5c5c5"/><rect x="638.6" fill="#cccccc"/><rect x="643.2" fill="#d4d4d4"/><rect x="647.8" fill="#dbdbdb"/><rect x="652.4" fill="#dedede"/><rect x="657.0" fill="#e1e1e1"/><rect x="661.6" fill="#e5e5e5"/><rect x="666.2" fill="#eaeaea"/><rect x="670.8" fill="#f0f0f0"/><rect x="675.4" fill="#f5f5f5"/><rect x="680.0" fill="#f9f9f9"/><rect x="684.6" fill="#f8f8f8"/><rect x="689.2" fill="#f0f0f0"/><rect x="693.8" fill="#dfdfdf"/><rect x="698.4" fill="#c9c9c9"/><rect x="703.0" fill="#b8b8b8"/><rect x="707.6" fill="#b0b0b0"/><rect x="712.2" fill="#ababab"/><rect x="716.8" fill="#a7a7a7"/><rect x="721.4" fill="#a3a3a3"/><rect x="726.0" fill="#a1a1a1"/><rect x="730.6" fill="#9f9f9f"/><rect x="735.2" fill="#9e9e9e"/><rect x="739.8" fill="#9f9f9f"/><rect x="744.4" fill="#9e9e9e"/><rect x="749.0" fill="#989898"/><rect x="753.6" fill="#8d8d8d"/><rect x="758.2" fill="#818181"/><rect x="762.8" fill="#777777"/><rect x="767.4" fill="#737373"/><rect x="772.0" fill="#767676"/><rect x="776.6" fill="#7e7e7e"/><rect x="781.2" fill="#868686"/><rect x="785.8" fill="#8a8a8a"/><rect x="790.4" fill="#8a8a8a"/><rect x="795.0" fill="#8a8a8a"/></g>
<g transform="translate(0 335.9)"><rect x="597.2" fill="#c9c9c9"/><rect x="601.8" fill="#c9c9c9"/><rect x="606.4" fill="#c9c9c9"/><rect x="611.0" fill="#c7c7c7"/><rect x="615.6" fill="#c3c3c3"/><rect x="620.2" fill="#bfbfbf"/><rect x="624.8" fill="#bdbdbd"/><rect x="629.4" fill="#bebebe"/><rect x="634.0" fill="#c2c2c2"/><rect x="638.6" fill="#c8c8c8"/><rect x="643.2" fill="#cfcfcf"/><rect x="647.8" fill="#d4d4d4"/><rect x="652.4" fill="#d8d8d8"/><rect x="657.0" fill="#dbdbdb"/><rect x="661.6" fill="#dfdfdf"/><rect x="666.2" fill="#e4e4e4"/><rect x="670.8" fill="#e7e7e7"/><rect x="675.4" fill="#eaeaea"/><rect x="680.0" fill="#ebebeb"/><rect x="684.6" fill="#e9e9e9"/><rect x="689.2" fill="#e3e3e3"/><rect x="693.8" fill="#d6d6d6"/><rect x="698.4" fill="#c6c6c6"/><rect x="703.0" fill="#b9b9b9"/><rect x="707.6" fill="#b0b0b0"/><rect x="712.2" fill="#ababab"/><rect x="716.8" fill="#a8a8a8"/><rect x="721.4" fill="#a6a6a6"/><rect x="726.0" fill="#a4a4a4"/><rect x="730.6" fill="#a1a1a1"/><rect x="735.2" fill="#9f9f9f"/><rect x="739.8" fill="#9c9c9c"/><rect x="744.4" fill="#969696"/><rect x="749.0" fill="#8e8e8e"/><rect x="753.6" fill="#858585"/><rect x="758.2" fill="#7a7a7a"/><rect x="762.8" fill="#717171"/><rect x="767.4" fill="#6e6e6e"/><rect x="772.0" fill="#717171"/><rect x="776.6" fill="#787878"/><rect x="781.2" fill="#808080"/><rect x="785.8" fill="#848484"/><rect x="790.4" fill="#848484"/><rect x="795.0" fill="#848484"/></g>
<g transform="translate(0 340.5)"><rect x="597.2" fill="#c3c3c3"/><rect x="601.8" fill="#c3c3c3"/><rect x="606.4" fill="#c3c3c3"/><rect x="611.0" fill="#c2c2c2"/><rect x="615.6" fill="#bfbfbf"/><rect x="620.2" fill="#bababa"/><rect x="624.8" fill="#b7b7b7"/><rect x="629.4" fill="#b8b8b8"/><rect x="634.0" fill="#bcbcbc"/><rect x="638.6" fill="#c2c2c2"/><rect x="643.2" fill="#c6c6c6"/><rect x="647.8" fill="#c8c8c8"/><rect x="652.4" fill="#c9c9c9"/><rect x="657.0" fill="#cccccc"/><rect x="661.6" fill="#cfcfcf"/><rect x="666.2" fill="#d2d2d2"/><rect x="670.8" fill="#d3d3d3"/><rect x="675.4" fill="#d2d2d2"/><rect x="680.0" fill="#cfcfcf"/><rect x="684.6" fill="#cccccc"/><rect x="689.2" fill="#c8c8c8"/><rect x="693.8" fill="#c4c4c4"/><rect x="698.4" fill="#bfbfbf"/><rect x="703.0" fill="#b7b7b7"/><rect x="707.6" fill="#b0b0b0"/><rect x="712.2" fill="#acacac"/><rect x="716.8" fill="#ababab"/><rect x="721.4" fill="#ababab"/><rect x="726.0" fill="#a8a8a8"/><rect x="730.6" fill="#a4a4a4"/><rect x="735.2" fill="#9e9e9e"/><rect x="739.8" fill="#939393"/><rect x="744.4" fill="#868686"/><rect x="749.0" fill="#7c7c7c"/><rect x="753.6" fill="#757575"/><rect x="758.2" fill="#6e6e6e"/><rect x="762.8" fill="#676767"/><rect x="767.4" fill="#646464"/><rect x="772.0" fill="#676767"/><rect x="776.6" fill="#6d6d6d"/><rect x="781.2" fill="#757575"/><rect x="785.8" fill="#787878"/><rect x="790.4" fill="#787878"/><rect x="795.0" fill="#787878"/></g>
<g transform="translate(0 345.1)"><rect x="597.2" fill="#b3b3b3"/><rect x="601.8" fill="#b3b3b3"/><rect x="606.4" fill="#b3b3b3"/><rect x="611.0" fill="#b2b2b2"/><rect x="615.6" fill="#b0b0b0"/><rect x="620.2" fill="#aeaeae"/><rect x="624.8" fill="#adadad"/><rect x="629.4" fill="#b1b1b1"/><rect x="634.0" fill="#b8b8b8"/><rect x="638.6" fill="#bdbdbd"/><rect x="643.2" fill="#bfbfbf"/><rect x="647.8" fill="#bebebe"/><rect x="652.4" fill="#bbbbbb"/><rect x="657.0" fill="#b8b8b8"/><rect x="661.6" fill="#b5b5b5"/><rect x="666.2" fill="#b4b4b4"/><rect x="670.8" fill="#b5b5b5"/><rect x="675.4" fill="#b5b5b5"/><rect x="680.0" fill="#b4b4b4"/><rect x="684.6" fill="#b3b3b3"/><rect x="689.2" fill="#b1b1b1"/><rect x="693.8" fill="#b1b1b1"/><rect x="698.4" fill="#b2b2b2"/><rect x="703.0" fill="#b2b2b2"/><rect x="707.6" fill="#afafaf"/><rect x="712.2" fill="#afafaf"/><rect x="716.8" fill="#afafaf"/><rect x="721.4" fill="#aeaeae"/><rect x="726.0" fill="#a8a8a8"/><rect x="730.6" fill="#9f9f9f"/><rect x="735.2" fill="#939393"/><rect x="739.8" fill="#858585"/><rect x="744.4" fill="#777777"/><rect x="749.0" fill="#6e6e6e"/><rect x="753.6" fill="#696969"/><rect x="758.2" fill="#656565"/><rect x="762.8" fill="#606060"/><rect x="767.4" fill="#5f5f5f"/><rect x="772.0" fill="#626262"/><rect x="776.6" fill="#686868"/><rect x="781.2" fill="#6f6f6f"/><rect x="785.8" fill="#727272"/><rect x="790.4" fill="#727272"/><rect x="795.0" fill="#727272"/></g>
<g transform="translate(0 349.7)"><rect x="597.2" fill="#9c9c9c"/><rect x="601.8" fill="#9c9c9c"/><rect x="606.4" fill="#9c9c9c"/><rect x="611.0" fill="#999999"/><rect x="615.6" fill="#999999"/><rect x="620.2" fill="#9c9c9c"/><rect x="624.8" fill="#a3a3a3"/><rect x="629.4" fill="#adadad"/><rect x="634.0" fill="#b8b8b8"/><rect x="638.6" fill="#bfbfbf"/><rect x="643.2" fill="#c0c0c0"/><rect x="647.8" fill="#bbbbbb"/><rect x="652.4" fill="#b2b2b2"/><rect x="657.0" fill="#a5a5a5"/><rect x="661.6" fill="#979797"/><rect x="666.2" fill="#919191"/><rect x="670.8" fill="#949494"/><rect x="675.4" fill="#9c9c9c"/><rect x="680.0" fill="#a2a2a2"/><rect x="684.6" fill="#a6a6a6"/><rect x="689.2" fill="#a6a6a6"/><rect x="693.8" fill="#a5a5a5"/><rect x="698.4" fill="#a7a7a7"/><rect x="703.0" fill="#ababab"/><rect x="707.6" fill="#b0b0b0"/><rect x="712.2" fill="#b3b3b3"/><rect x="716.8" fill="#b2b2b2"/><rect x="721.4" fill="#acacac"/><rect x="726.0" fill="#a2a2a2"/><rect x="730.6" fill="#929292"/><rect x="735.2" fill="#808080"/><rect x="739.8" fill="#737373"/><rect x="744.4" fill="#6c6c6c"/><rect x="749.0" fill="#676767"/><rect x="753.6" fill="#646464"/><rect x="758.2" fill="#616161"/><rect x="762.8" fill="#606060"/><rect x="767.4" fill="#606060"/><rect x="772.0" fill="#626262"/><rect x="776.6" fill="#686868"/><rect x="781.2" fill="#6f6f6f"/><rect x="785.8" fill="#737373"/><rect x="790.4" fill="#737373"/><rect x="795.0" fill="#737373"/></g>
<g transform="translate(0 354.3)"><rect x="597.2" fill="#898989"/><rect x="601.8" fill="#898989"/><rect x="606.4" fill="#898989"/><rect x="611.0" fill="#858585"/><rect x="615.6" fill="#848484"/><rect x="620.2" fill="#8d8d8d"/><rect x="624.8" fill="#9c9c9c"/><rect x="629.4" fill="#aeaeae"/><rect x="634.0" fill="#bebebe"/><rect x="638.6" fill="#c9c9c9"/><rect x="643.2" fill="#cbcbcb"/><rect x="647.8" fill="#c2c2c2"/><rect x="652.4" fill="#b1b1b1"/><rect x="657.0" fill="#9a9a9a"/><rect x="661.6" fill="#848484"/><rect x="666.2" fill="#7a7a7a"/><rect x="670.8" fill="#808080"/><rect x="675.4" fill="#8e8e8e"/><rect x="680.0" fill="#9a9a9a"/><rect x="684.6" fill="#a1a1a1"/><rect x="689.2" fill="#a3a3a3"/><rect x="693.8" fill="#a3a3a3"/><rect x="698.4" fill="#a4a4a4"/><rect x="703.0" fill="#a9a9a9"/><rect x="707.6" fill="#b0b0b0"/><rect x="712.2" fill="#b3b3b3"/><rect x="716.8" fill="#aeaeae"/><rect x="721.4" fill="#a4a4a4"/><rect x="726.0" fill="#969696"/><rect x="730.6" fill="#838383"/><rect x="735.2" fill="#717171"/><rect x="739.8" fill="#666666"/><rect x="744.4" fill="#636363"/><rect x="749.0" fill="#616161"/><rect x="753.6" fill="#5f5f5f"/><rect x="758.2" fill="#5f5f5f"/><rect x="762.8" fill="#606060"/><rect x="767.4" fill="#626262"/><rect x="772.0" fill="#656565"/><rect x="776.6" fill="#6a6a6a"/><rect x="781.2" fill="#707070"/><rect x="785.8" fill="#747474"/><rect x="790.4" fill="#747474"/><rect x="795.0" fill="#747474"/></g>
<g transform="translate(0 358.9)"><rect x="597.2" fill="#838383"/><rect x="601.8" fill="#838383"/><rect x="606.4" fill="#838383"/><rect x="611.0" fill="#7e7e7e"/><rect x="615.6" fill="#7d7d7d"/><rect x="620.2" fill="#878787"/><rect x="624.8" fill="#9b9b9b"/><rect x="629.4" fill="#b2b2b2"/><rect x="634.0" fill="#c9c9c9"/><rect x="638.6" fill="#d8d8d8"/><rect x="643.2" fill="#dadada"/><rect x="647.8" fill="#cecece"/><rect x="652.4" fill="#b7b7b7"/><rect x="657.0" fill="#9b9b9b"/><rect x="661.6" fill="#838383"/><rect x="666.2" fill="#797979"/><rect x="670.8" fill="#818181"/><rect x="675.4" fill="#8e8e8e"/><rect x="680.0" fill="#9b9b9b"/><rect x="684.6" fill="#a3a3a3"/><rect x="689.2" fill="#a7a7a7"/><rect x="693.8" fill="#a9a9a9"/><rect x="698.4" fill="#aaaaaa"/><rect x="703.0" fill="#adadad"/><rect x="707.6" fill="#b0b0b0"/><rect x="712.2" fill="#aeaeae"/><rect x="716.8" fill="#a5a5a5"/><rect x="721.4" fill="#979797"/><rect x="726.0" fill="#878787"/><rect x="730.6" fill="#777777"/><rect x="735.2" fill="#696969"/><rect x="739.8" fill="#606060"/><rect x="744.4" fill="#5a5a5a"/><rect x="749.0" fill="#575757"/><rect x="753.6" fill="#555555"/><rect x="758.2" fill="#575757"/><rect x="762.8" fill="#5b5b5b"/><rect x="767.4" fill="#606060"/><rect x="772.0" fill="#646464"/><rect x="776.6" fill="#6a6a6a"/><rect x="781.2" fill="#6f6f6f"/><rect x="785.8" fill="#727272"/><rect x="790.4" fill="#727272"/><rect x="795.0" fill="#727272"/></g>
<g transform="translate(0 363.5)"><rect x="597.2" fill="#898989"/><rect x="601.8" fill="#898989"/><rect x="606.4" fill="#898989"/><rect x="611.0" fill="#858585"/><rect x="615.6" fill="#858585"/><rect x="620.2" fill="#8d8d8d"/><rect x="624.8" fill="#9e9e9e"/><rect x="629.4" fill="#b6b6b6"/><rect x="634.0" fill="#cecece"/><rect x="638.6" fill="#dedede"/><rect x="643.2" fill="#e2e2e2"/><rect x="647.8" fill="#d6d6d6"/><rect x="652.4" fill="#bebebe"/><rect x="657.0" fill="#a4a4a4"/><rect x="661.6" fill="#909090"/><rect x="666.2" fill="#8a8a8a"/><rect x="670.8" fill="#909090"/><rect x="675.4" fill="#9b9b9b"/><rect x="680.0" fill="#a4a4a4"/><rect x="684.6" fill="#aaaaaa"/><rect x="689.2" fill="#adadad"/><rect x="693.8" fill="#aeaeae"/><rect x="698.4" fill="#aeaeae"/><rect x="703.0" fill="#aeaeae"/><rect x="707.6" fill="#adadad"/><rect x="712.2" fill="#a7a7a7"/><rect x="716.8" fill="#9b9b9b"/><rect x="721.4" fill="#8b8b8b"/><rect x="726.0" fill="#797979"/><rect x="730.6" fill="#6b6b6b"/><rect x="735.2" fill="#626262"/><rect x="739.8" fill="#585858"/><rect x="744.4" fill="#4f4f4f"/><rect x="749.0" fill="#464646"/><rect x="753.6" fill="#414141"/><rect x="758.2" fill="#434343"/><rect x="762.8" fill="#4d4d4d"/><rect x="767.4" fill="#575757"/><rect x="772.0" fill="#616161"/><rect x="776.6" fill="#686868"/><rect x="781.2" fill="#6f6f6f"/><rect x="785.8" fill="#717171"/><rect x="790.4" fill="#717171"/><rect x="795.0" fill="#717171"/></g>
<g transform="translate(0 368.1)"><rect x="597.2" fill="#8f8f8f"/><rect x="601.8" fill="#8f8f8f"/><rect x="606.4" fill="#8f8f8f"/><rect x="611.0" fill="#8f8f8f"/><rect x="615.6" fill="#909090"/><rect x="620.2" fill="#969696"/><rect x="624.8" fill="#a1a1a1"/><rect x="629.4" fill="#b3b3b3"/><rect x="634.0" fill="#c8c8c8"/><rect x="638.6" fill="#d6d6d6"/><rect x="643.2" fill="#dadada"/><rect x="647.8" fill="#d1d1d1"/><rect x="652.4" fill="#bfbfbf"/><rect x="657.0" fill="#acacac"/><rect x="661.6" fill="#9e9e9e"/><rect x="666.2" fill="#9b9b9b"/><rect x="670.8" fill="#a2a2a2"/><rect x="675.4" fill="#acacac"/><rect x="680.0" fill="#b2b2b2"/><rect x="684.6" fill="#b5b5b5"/><rect x="689.2" fill="#b5b5b5"/><rect x="693.8" fill="#b2b2b2"/><rect x="698.4" fill="#aeaeae"/><rect x="703.0" fill="#aaaaaa"/><rect x="707.6" fill="#a6a6a6"/><rect x="712.2" fill="#9e9e9e"/><rect x="716.8" fill="#919191"/><rect x="721.4" fill="#818181"/><rect x="726.0" fill="#707070"/><rect x="730.6" fill="#636363"/><rect x="735.2" fill="#595959"/><rect x="739.8" fill="#4f4f4f"/><rect x="744.4" fill="#434343"/><rect x="749.0" fill="#353535"/><rect x="753.6" fill="#2b2b2b"/><rect x="758.2" fill="#2e2e2e"/><rect x="762.8" fill="#3c3c3c"/><rect x="767.4" fill="#4d4d4d"/><rect x="772.0" fill="#5b5b5b"/><rect x="776.6" fill="#676767"/><rect x="781.2" fill="#707070"/><rect x="785.8" fill="#737373"/><rect x="790.4" fill="#737373"/><rect x="795.0" fill="#737373"/></g>
<g transform="translate(0 372.7)"><rect x="597.2" fill="#898989"/><rect x="601.8" fill="#898989"/><rect x="606.4" fill="#898989"/><rect x="611.0" fill="#8a8a8a"/><rect x="615.6" fill="#8e8e8e"/><rect x="620.2" fill="#939393"/><rect x="624.8" fill="#9a9a9a"/><rect x="629.4" fill="#a5a5a5"/><rect x="634.0" fill="#b4b4b4"/><rect x="638.6" fill="#bfbfbf"/><rect x="643.2" fill="#c3c3c3"/><rect x="647.8" fill="#bebebe"/><rect x="652.4" fill="#b2b2b2"/><rect x="657.0" fill="#a5a5a5"/><rect x="661.6" fill="#9d9d9d"/><rect x="666.2" fill="#9f9f9f"/><rect x="670.8" fill="#aaaaaa"/><rect x="675.4" fill="#b5b5b5"/><rect x="680.0" fill="#bdbdbd"/><rect x="684.6" fill="#c3c3c3"/><rect x="689.2" fill="#c4c4c4"/><rect x="693.8" fill="#bebebe"/><rect x="698.4" fill="#b2b2b2"/><rect x="703.0" fill="#a6a6a6"/><rect x="707.6" fill="#9d9d9d"/><rect x="712.2" fill="#939393"/><rect x="716.8" fill="#868686"/><rect x="721.4" fill="#787878"/><rect x="726.0" fill="#6b6b6b"/><rect x="730.6" fill="#5f5f5f"/><rect x="735.2" fill="#555555"/><rect x="739.8" fill="#4a4a4a"/><rect x="744.4" fill="#3e3e3e"/><rect x="749.0" fill="#323232"/><rect x="753.6" fill="#292929"/><rect x="758.2" fill="#2d2d2d"/><rect x="762.8" fill="#3c3c3c"/><rect x="767.4" fill="#4d4d4d"/><rect x="772.0" fill="#5b5b5b"/><rect x="776.6" fill="#676767"/><rect x="781.2" fill="#707070"/><rect x="785.8" fill="#747474"/><rect x="790.4" fill="#747474"/><rect x="795.0" fill="#747474"/></g>
<g transform="translate(0 377.3)"><rect x="597.2" fill="#747474"/><rect x="601.8" fill="#747474"/><rect x="606.4" fill="#747474"/><rect x="611.0" fill="#787878"/><rect x="615.6" fill="#7f7f7f"/><rect x="620.2" fill="#848484"/><rect x="624.8" fill="#888888"/><rect x="629.4" fill="#8e8e8e"/><rect x="634.0" fill="#979797"/><rect x="638.6" fill="#9f9f9f"/><rect x="643.2" fill="#a3a3a3"/><rect x="647.8" fill="#a1a1a1"/><rect x="652.4" fill="#9a9a9a"/><rect x="657.0" fill="#939393"/><rect x="661.6" fill="#919191"/><rect x="666.2" fill="#979797"/><rect x="670.8" fill="#a4a4a4"/><rect x="675.4" fill="#b2b2b2"/><rect x="680.0" fill="#bebebe"/><rect x="684.6" fill="#cacaca"/><rect x="689.2" fill="#d0d0d0"/><rect x="693.8" fill="#c9c9c9"/><rect x="698.4" fill="#b5b5b5"/><rect x="703.0" fill="#a1a1a1"/><rect x="707.6" fill="#919191"/><rect x="712.2" fill="#848484"/><rect x="716.8" fill="#787878"/><rect x="721.4" fill="#6f6f6f"/><rect x="726.0" fill="#666666"/><rect x="730.6" fill="#5e5e5e"/><rect x="735.2" fill="#555555"/><rect x="739.8" fill="#4b4b4b"/><rect x="744.4" fill="#434343"/><rect x="749.0" fill="#3c3c3c"/><rect x="753.6" fill="#3b3b3b"/><rect x="758.2" fill="#414141"/><rect x="762.8" fill="#4c4c4c"/><rect x="767.4" fill="#575757"/><rect x="772.0" fill="#606060"/><rect x="776.6" fill="#686868"/><rect x="781.2" fill="#707070"/><rect x="785.8" fill="#737373"/><rect x="790.4" fill="#737373"/><rect x="795.0" fill="#737373"/></g>
<g transform="translate(0 381.9)"><rect x="597.2" fill="#616161"/><rect x="601.8" fill="#616161"/><rect x="606.4" fill="#616161"/><rect x="611.0" fill="#656565"/><rect x="615.6" fill="#6b6b6b"/><rect x="620.2" fill="#707070"/><rect x="624.8" fill="#747474"/><rect x="629.4" fill="#777777"/><rect x="634.0" fill="#7d7d7d"/><rect x="638.6" fill="#838383"/><rect x="643.2" fill="#878787"/><rect x="647.8" fill="#888888"/><rect x="652.4" fill="#858585"/><rect x="657.0" fill="#838383"/><rect x="661.6" fill="#848484"/><rect x="666.2" fill="#8c8c8c"/><rect x="670.8" fill="#989898"/><rect x="675.4" fill="#a4a4a4"/><rect x="680.0" fill="#afafaf"/><rect x="684.6" fill="#bababa"/><rect x="689.2" fill="#c1c1c1"/><rect x="693.8" fill="#bbbbbb"/><rect x="698.4" fill="#a8a8a8"/><rect x="703.0" fill="#929292"/><rect x="707.6" fill="#808080"/><rect x="712.2" fill="#717171"/><rect x="716.8" fill="#666666"/><rect x="721.4" fill="#5e5e5e"/><rect x="726.0" fill="#595959"/><rect x="730.6" fill="#565656"/><rect x="735.2" fill="#555555"/><rect x="739.8" fill="#525252"/><rect x="744.4" fill="#4c4c4c"/><rect x="749.0" fill="#4a4a4a"/><rect x="753.6" fill="#4d4d4d"/><rect x="758.2" fill="#535353"/><rect x="762.8" fill="#5b5b5b"/><rect x="767.4" fill="#616161"/><rect x="772.0" fill="#666666"/><rect x="776.6" fill="#6c6c6c"/><rect x="781.2" fill="#727272"/><rect x="785.8" fill="#757575"/><rect x="790.4" fill="#757575"/><rect x="795.0" fill="#757575"/></g>
<g transform="translate(0 386.5)"><rect x="597.2" fill="#535353"/><rect x="601.8" fill="#535353"/><rect x="606.4" fill="#535353"/><rect x="611.0" fill="#555555"/><rect x="615.6" fill="#595959"/><rect x="620.2" fill="#5d5d5d"/><rect x="624.8" fill="#616161"/><rect x="629.4" fill="#646464"/><rect x="634.0" fill="#686868"/><rect x="638.6" fill="#6e6e6e"/><rect x="643.2" fill="#737373"/><rect x="647.8" fill="#767676"/><rect x="652.4" fill="#777777"/><rect x="657.0" fill="#787878"/><rect x="661.6" fill="#7b7b7b"/><rect x="666.2" fill="#818181"/><rect x="670.8" fill="#8a8a8a"/><rect x="675.4" fill="#909090"/><rect x="680.0" fill="#949494"/><rect x="684.6" fill="#989898"/><rect x="689.2" fill="#9c9c9c"/><rect x="693.8" fill="#989898"/><rect x="698.4" fill="#8c8c8c"/><rect x="703.0" fill="#7b7b7b"/><rect x="707.6" fill="#6b6b6b"/><rect x="712.2" fill="#5d5d5d"/><rect x="716.8" fill="#525252"/><rect x="721.4" fill="#4a4a4a"/><rect x="726.0" fill="#454545"/><rect x="730.6" fill="#4a4a4a"/><rect x="735.2" fill="#555555"/><rect x="739.8" fill="#595959"/><rect x="744.4" fill="#575757"/><rect x="749.0" fill="#555555"/><rect x="753.6" fill="#585858"/><rect x="758.2" fill="#5d5d5d"/><rect x="762.8" fill="#616161"/><rect x="767.4" fill="#666666"/><rect x="772.0" fill="#6b6b6b"/><rect x="776.6" fill="#717171"/><rect x="781.2" fill="#767676"/><rect x="785.8" fill="#797979"/><rect x="790.4" fill="#797979"/><rect x="795.0" fill="#797979"/></g>
<g transform="translate(0 391.1)"><rect x="597.2" fill="#444444"/><rect x="601.8" fill="#444444"/><rect x="606.4" fill="#444444"/><rect x="611.0" fill="#454545"/><rect x="615.6" fill="#474747"/><rect x="620.2" fill="#4b4b4b"/><rect x="624.8" fill="#4e4e4e"/><rect x="629.4" fill="#525252"/><rect x="634.0" fill="#555555"/><rect x="638.6" fill="#595959"/><rect x="643.2" fill="#5d5d5d"/><rect x="647.8" fill="#626262"/><rect x="652.4" fill="#666666"/><rect x="657.0" fill="#6a6a6a"/><rect x="661.6" fill="#6e6e6e"/><rect x="666.2" fill="#747474"/><rect x="670.8" fill="#7a7a7a"/><rect x="675.4" fill="#7d7d7d"/><rect x="680.0" fill="#7d7d7d"/><rect x="684.6" fill="#7d7d7d"/><rect x="689.2" fill="#7e7e7e"/><rect x="693.8" fill="#7c7c7c"/><rect x="698.4" fill="#757575"/><rect x="703.0" fill="#686868"/><rect x="707.6" fill="#585858"/><rect x="712.2" fill="#4a4a4a"/><rect x="716.8" fill="#414141"/><rect x="721.4" fill="#3b3b3b"/><rect x="726.0" fill="#3a3a3a"/><rect x="730.6" fill="#434343"/><rect x="735.2" fill="#535353"/><rect x="739.8" fill="#5c5c5c"/><rect x="744.4" fill="#5c5c5c"/><rect x="749.0" fill="#5d5d5d"/><rect x="753.6" fill="#606060"/><rect x="758.2" fill="#646464"/><rect x="762.8" fill="#676767"/><rect x="767.4" fill="#6b6b6b"/><rect x="772.0" fill="#707070"/><rect x="776.6" fill="#757575"/><rect x="781.2" fill="#7b7b7b"/><rect x="785.8" fill="#7d7d7d"/><rect x="790.4" fill="#7d7d7d"/><rect x="795.0" fill="#7d7d7d"/></g>
<g transform="translate(0 395.7)"><rect x="597.2" fill="#353535"/><rect x="601.8" fill="#353535"/><rect x="606.4" fill="#353535"/><rect x="611.0" fill="#363636"/><rect x="615.6" fill="#383838"/><rect x="620.2" fill="#3b3b3b"/><rect x="624.8" fill="#3e3e3e"/><rect x="629.4" fill="#404040"/><rect x="634.0" fill="#424242"/><rect x="638.6" fill="#454545"/><rect x="643.2" fill="#474747"/><rect x="647.8" fill="#4c4c4c"/><rect x="652.4" fill="#525252"/><rect x="657.0" fill="#585858"/><rect x="661.6" fill="#5d5d5d"/><rect x="666.2" fill="#646464"/><rect x="670.8" fill="#6b6b6b"/><rect x="675.4" fill="#6f6f6f"/><rect x="680.0" fill="#727272"/><rect x="684.6" fill="#747474"/><rect x="689.2" fill="#737373"/><rect x="693.8" fill="#717171"/><rect x="698.4" fill="#6a6a6a"/><rect x="703.0" fill="#5d5d5d"/><rect x="707.6" fill="#4b4b4b"/><rect x="712.2" fill="#3d3d3d"/><rect x="716.8" fill="#363636"/><rect x="721.4" fill="#363636"/><rect x="726.0" fill="#3a3a3a"/><rect x="730.6" fill="#444444"/><rect x="735.2" fill="#4f4f4f"/><rect x="739.8" fill="#585858"/><rect x="744.4" fill="#5d5d5d"/><rect x="749.0" fill="#616161"/><rect x="753.6" fill="#656565"/><rect x="758.2" fill="#696969"/><rect x="762.8" fill="#6d6d6d"/><rect x="767.4" fill="#707070"/><rect x="772.0" fill="#747474"/><rect x="776.6" fill="#797979"/><rect x="781.2" fill="#7d7d7d"/><rect x="785.8" fill="#7f7f7f"/><rect x="790.4" fill="#7f7f7f"/><rect x="795.0" fill="#7f7f7f"/></g>
<g transform="translate(0 400.3)"><rect x="597.2" fill="#2e2e2e"/><rect x="601.8" fill="#2e2e2e"/><rect x="606.4" fill="#2e2e2e"/><rect x="611.0" fill="#2e2e2e"/><rect x="615.6" fill="#2e2e2e"/><rect x="620.2" fill="#2f2f2f"/><rect x="624.8" fill="#313131"/><rect x="629.4" fill="#353535"/><rect x="634.0" fill="#383838"/><rect x="638.6" fill="#3c3c3c"/><rect x="643.2" fill="#3e3e3e"/><rect x="647.8" fill="#414141"/><rect x="652.4" fill="#444444"/><rect x="657.0" fill="#464646"/><rect x="661.6" fill="#4a4a4a"/><rect x="666.2" fill="#515151"/><rect x="670.8" fill="#5a5a5a"/><rect x="675.4" fill="#646464"/><rect x="680.0" fill="#6e6e6e"/><rect x="684.6" fill="#757575"/><rect x="689.2" fill="#757575"/><rect x="693.8" fill="#6f6f6f"/><rect x="698.4" fill="#646464"/><rect x="703.0" fill="#565656"/><rect x="707.6" fill="#464646"/><rect x="712.2" fill="#3a3a3a"/><rect x="716.8" fill="#333333"/><rect x="721.4" fill="#343434"/><rect x="726.0" fill="#3b3b3b"/><rect x="730.6" fill="#444444"/><rect x="735.2" fill="#4c4c4c"/><rect x="739.8" fill="#535353"/><rect x="744.4" fill="#5a5a5a"/><rect x="749.0" fill="#606060"/><rect x="753.6" fill="#666666"/><rect x="758.2" fill="#6b6b6b"/><rect x="762.8" fill="#6f6f6f"/><rect x="767.4" fill="#737373"/><rect x="772.0" fill="#777777"/><rect x="776.6" fill="#7b7b7b"/><rect x="781.2" fill="#7f7f7f"/><rect x="785.8" fill="#808080"/><rect x="790.4" fill="#808080"/><rect x="795.0" fill="#808080"/></g>
<g transform="translate(0 404.9)"><rect x="597.2" fill="#303030"/><rect x="601.8" fill="#303030"/><rect x="606.4" fill="#303030"/><rect x="611.0" fill="#2e2e2e"/><rect x="615.6" fill="#2b2b2b"/><rect x="620.2" fill="#292929"/><rect x="624.8" fill="#2b2b2b"/><rect x="629.4" fill="#303030"/><rect x="634.0" fill="#363636"/><rect x="638.6" fill="#3c3c3c"/><rect x="643.2" fill="#404040"/><rect x="647.8" fill="#404040"/><rect x="652.4" fill="#3c3c3c"/><rect x="657.0" fill="#3a3a3a"/><rect x="661.6" fill="#3b3b3b"/><rect x="666.2" fill="#414141"/><rect x="670.8" fill="#4c4c4c"/><rect x="675.4" fill="#595959"/><rect x="680.0" fill="#686868"/><rect x="684.6" fill="#737373"/><rect x="689.2" fill="#747474"/><rect x="693.8" fill="#6b6b6b"/><rect x="698.4" fill="#5d5d5d"/><rect x="703.0" fill="#505050"/><rect x="707.6" fill="#484848"/><rect x="712.2" fill="#3f3f3f"/><rect x="716.8" fill="#363636"/><rect x="721.4" fill="#353535"/><rect x="726.0" fill="#3b3b3b"/><rect x="730.6" fill="#424242"/><rect x="735.2" fill="#494949"/><rect x="739.8" fill="#505050"/><rect x="744.4" fill="#575757"/><rect x="749.0" fill="#5e5e5e"/><rect x="753.6" fill="#646464"/><rect x="758.2" fill="#696969"/><rect x="762.8" fill="#6e6e6e"/><rect x="767.4" fill="#727272"/><rect x="772.0" fill="#787878"/><rect x="776.6" fill="#7c7c7c"/><rect x="781.2" fill="#7f7f7f"/><rect x="785.8" fill="#808080"/><rect x="790.4" fill="#808080"/><rect x="795.0" fill="#808080"/></g>
<g transform="translate(0 409.5)"><rect x="597.2" fill="#383838"/><rect x="601.8" fill="#383838"/><rect x="606.4" fill="#383838"/><rect x="611.0" fill="#363636"/><rect x="615.6" fill="#323232"/><rect x="620.2" fill="#303030"/><rect x="624.8" fill="#303030"/><rect x="629.4" fill="#313131"/><rect x="634.0" fill="#343434"/><rect x="638.6" fill="#383838"/><rect x="643.2" fill="#3c3c3c"/><rect x="647.8" fill="#3c3c3c"/><rect x="652.4" fill="#393939"/><rect x="657.0" fill="#363636"/><rect x="661.6" fill="#353535"/><rect x="666.2" fill="#393939"/><rect x="670.8" fill="#424242"/><rect x="675.4" fill="#4f4f4f"/><rect x="680.0" fill="#5d5d5d"/><rect x="684.6" fill="#676767"/><rect x="689.2" fill="#676767"/><rect x="693.8" fill="#5f5f5f"/><rect x="698.4" fill="#525252"/><rect x="703.0" fill="#494949"/><rect x="707.6" fill="#464646"/><rect x="712.2" fill="#434343"/><rect x="716.8" fill="#3e3e3e"/><rect x="721.4" fill="#3e3e3e"/><rect x="726.0" fill="#414141"/><rect x="730.6" fill="#464646"/><rect x="735.2" fill="#4a4a4a"/><rect x="739.8" fill="#505050"/><rect x="744.4" fill="#555555"/><rect x="749.0" fill="#5c5c5c"/><rect x="753.6" fill="#636363"/><rect x="758.2" fill="#696969"/><rect x="762.8" fill="#6f6f6f"/><rect x="767.4" fill="#747474"/><rect x="772.0" fill="#797979"/><rect x="776.6" fill="#7c7c7c"/><rect x="781.2" fill="#7f7f7f"/><rect x="785.8" fill="#7f7f7f"/><rect x="790.4" fill="#7f7f7f"/><rect x="795.0" fill="#7f7f7f"/></g>
<g transform="translate(0 414.1)"><rect x="597.2" fill="#414141"/><rect x="601.8" fill="#414141"/><rect x="606.4" fill="#414141"/><rect x="611.0" fill="#414141"/><rect x="615.6" fill="#404040"/><rect x="620.2" fill="#3e3e3e"/><rect x="624.8" fill="#3a3a3a"/><rect x="629.4" fill="#343434"/><rect x="634.0" fill="#2e2e2e"/><rect x="638.6" fill="#2c2c2c"/><rect x="643.2" fill="#2f2f2f"/><rect x="647.8" fill="#343434"/><rect x="652.4" fill="#383838"/><rect x="657.0" fill="#393939"/><rect x="661.6" fill="#373737"/><rect x="666.2" fill="#393939"/><rect x="670.8" fill="#3e3e3e"/><rect x="675.4" fill="#474747"/><rect x="680.0" fill="#515151"/><rect x="684.6" fill="#555555"/><rect x="689.2" fill="#535353"/><rect x="693.8" fill="#4d4d4d"/><rect x="698.4" fill="#464646"/><rect x="703.0" fill="#424242"/><rect x="707.6" fill="#414141"/><rect x="712.2" fill="#434343"/><rect x="716.8" fill="#474747"/><rect x="721.4" fill="#4a4a4a"/><rect x="726.0" fill="#4d4d4d"/><rect x="730.6" fill="#4e4e4e"/><rect x="735.2" fill="#4f4f4f"/><rect x="739.8" fill="#515151"/><rect x="744.4" fill="#575757"/><rect x="749.0" fill="#5f5f5f"/><rect x="753.6" fill="#686868"/><rect x="758.2" fill="#707070"/><rect x="762.8" fill="#757575"/><rect x="767.4" fill="#787878"/><rect x="772.0" fill="#7a7a7a"/><rect x="776.6" fill="#7b7b7b"/><rect x="781.2" fill="#7c7c7c"/><rect x="785.8" fill="#7d7d7d"/><rect x="790.4" fill="#7d7d7d"/><rect x="795.0" fill="#7d7d7d"/></g>
<g transform="translate(0 418.7)"><rect x="597.2" fill="#474747"/><rect x="601.8" fill="#474747"/><rect x="606.4" fill="#474747"/><rect x="611.0" fill="#484848"/><rect x="615.6" fill="#494949"/><rect x="620.2" fill="#464646"/><rect x="624.8" fill="#3d3d3d"/><rect x="629.4" fill="#303030"/><rect x="634.0" fill="#242424"/><rect x="638.6" fill="#202020"/><rect x="643.2" fill="#232323"/><rect x="647.8" fill="#2b2b2b"/><rect x="652.4" fill="#333333"/><rect x="657.0" fill="#373737"/><rect x="661.6" fill="#373737"/><rect x="666.2" fill="#383838"/><rect x="670.8" fill="#3a3a3a"/><rect x="675.4" fill="#3f3f3f"/><rect x="680.0" fill="#454545"/><rect x="684.6" fill="#464646"/><rect x="689.2" fill="#444444"/><rect x="693.8" fill="#414141"/><rect x="698.4" fill="#3e3e3e"/><rect x="703.0" fill="#3d3d3d"/><rect x="707.6" fill="#3d3d3d"/><rect x="712.2" fill="#414141"/><rect x="716.8" fill="#4a4a4a"/><rect x="721.4" fill="#515151"/><rect x="726.0" fill="#545454"/><rect x="730.6" fill="#535353"/><rect x="735.2" fill="#535353"/><rect x="739.8" fill="#565656"/><rect x="744.4" fill="#5e5e5e"/><rect x="749.0" fill="#6a6a6a"/><rect x="753.6" fill="#787878"/><rect x="758.2" fill="#808080"/><rect x="762.8" fill="#808080"/><rect x="767.4" fill="#7b7b7b"/><rect x="772.0" fill="#757575"/><rect x="776.6" fill="#747474"/><rect x="781.2" fill="#767676"/><rect x="785.8" fill="#777777"/><rect x="790.4" fill="#777777"/><rect x="795.0" fill="#777777"/></g>
<g transform="translate(0 423.3)"><rect x="597.2" fill="#484848"/><rect x="601.8" fill="#484848"/><rect x="606.4" fill="#484848"/><rect x="611.0" fill="#4a4a4a"/><rect x="615.6" fill="#4b4b4b"/><rect x="620.2" fill="#454545"/><rect x="624.8" fill="#383838"/><rect x="629.4" fill="#282828"/><rect x="634.0" fill="#1b1b1b"/><rect x="638.6" fill="#181818"/><rect x="643.2" fill="#1e1e1e"/><rect x="647.8" fill="#262626"/><rect x="652.4" fill="#2c2c2c"/><rect x="657.0" fill="#303030"/><rect x="661.6" fill="#333333"/><rect x="666.2" fill="#353535"/><rect x="670.8" fill="#353535"/><rect x="675.4" fill="#373737"/><rect x="680.0" fill="#3a3a3a"/><rect x="684.6" fill="#3d3d3d"/><rect x="689.2" fill="#3f3f3f"/><rect x="693.8" fill="#3f3f3f"/><rect x="698.4" fill="#3e3e3e"/><rect x="703.0" fill="#3d3d3d"/><rect x="707.6" fill="#3c3c3c"/><rect x="712.2" fill="#414141"/><rect x="716.8" fill="#494949"/><rect x="721.4" fill="#505050"/><rect x="726.0" fill="#535353"/><rect x="730.6" fill="#535353"/><rect x="735.2" fill="#555555"/><rect x="739.8" fill="#5c5c5c"/><rect x="744.4" fill="#696969"/><rect x="749.0" fill="#7c7c7c"/><rect x="753.6" fill="#8f8f8f"/><rect x="758.2" fill="#969696"/><rect x="762.8" fill="#8e8e8e"/><rect x="767.4" fill="#7e7e7e"/><rect x="772.0" fill="#6d6d6d"/><rect x="776.6" fill="#666666"/><rect x="781.2" fill="#6a6a6a"/><rect x="785.8" fill="#6d6d6d"/><rect x="790.4" fill="#6d6d6d"/><rect x="795.0" fill="#6d6d6d"/></g>
<g transform="translate(0 427.9)"><rect x="597.2" fill="#454545"/><rect x="601.8" fill="#454545"/><rect x="606.4" fill="#454545"/><rect x="611.0" fill="#474747"/><rect x="615.6" fill="#474747"/><rect x="620.2" fill="#424242"/><rect x="624.8" fill="#363636"/><rect x="629.4" fill="#272727"/><rect x="634.0" fill="#1b1b1b"/><rect x="638.6" fill="#181818"/><rect x="643.2" fill="#1d1d1d"/><rect x="647.8" fill="#232323"/><rect x="652.4" fill="#282828"/><rect x="657.0" fill="#2d2d2d"/><rect x="661.6" fill="#323232"/><rect x="666.2" fill="#333333"/><rect x="670.8" fill="#323232"/><rect x="675.4" fill="#313131"/><rect x="680.0" fill="#333333"/><rect x="684.6" fill="#383838"/><rect x="689.2" fill="#3f3f3f"/><rect x="693.8" fill="#434343"/><rect x="698.4" fill="#444444"/><rect x="703.0" fill="#434343"/><rect x="707.6" fill="#424242"/><rect x="712.2" fill="#454545"/><rect x="716.8" fill="#4b4b4b"/><rect x="721.4" fill="#4f4f4f"/><rect x="726.0" fill="#505050"/><rect x="730.6" fill="#515151"/><rect x="735.2" fill="#555555"/><rect x="739.8" fill="#626262"/><rect x="744.4" fill="#777777"/><rect x="749.0" fill="#8d8d8d"/><rect x="753.6" fill="#a0a0a0"/><rect x="758.2" fill="#a7a7a7"/><rect x="762.8" fill="#9d9d9d"/><rect x="767.4" fill="#848484"/><rect x="772.0" fill="#656565"/><rect x="776.6" fill="#575757"/><rect x="781.2" fill="#5c5c5c"/><rect x="785.8" fill="#616161"/><rect x="790.4" fill="#616161"/><rect x="795.0" fill="#616161"/></g>
<g transform="translate(0 432.5)"><rect x="597.2" fill="#444444"/><rect x="601.8" fill="#444444"/><rect x="606.4" fill="#444444"/><rect x="611.0" fill="#454545"/><rect x="615.6" fill="#454545"/><rect x="620.2" fill="#434343"/><rect x="624.8" fill="#3c3c3c"/><rect x="629.4" fill="#323232"/><rect x="634.0" fill="#272727"/><rect x="638.6" fill="#222222"/><rect x="643.2" fill="#242424"/><rect x="647.8" fill="#282828"/><rect x="652.4" fill="#2d2d2d"/><rect x="657.0" fill="#333333"/><rect x="661.6" fill="#383838"/><rect x="666.2" fill="#393939"/><rect x="670.8" fill="#353535"/><rect x="675.4" fill="#313131"/><rect x="680.0" fill="#323232"/><rect x="684.6" fill="#383838"/><rect x="689.2" fill="#434343"/><rect x="693.8" fill="#4b4b4b"/><rect x="698.4" fill="#4d4d4d"/><rect x="703.0" fill="#4c4c4c"/><rect x="707.6" fill="#4c4c4c"/><rect x="712.2" fill="#4e4e4e"/><rect x="716.8" fill="#525252"/><rect x="721.4" fill="#545454"/><rect x="726.0" fill="#555555"/><rect x="730.6" fill="#555555"/><rect x="735.2" fill="#5b5b5b"/><rect x="739.8" fill="#6c6c6c"/><rect x="744.4" fill="#858585"/><rect x="749.0" fill="#9b9b9b"/><rect x="753.6" fill="#a8a8a8"/><rect x="758.2" fill="#afafaf"/><rect x="762.8" fill="#ababab"/><rect x="767.4" fill="#8e8e8e"/><rect x="772.0" fill="#646464"/><rect x="776.6" fill="#4e4e4e"/><rect x="781.2" fill="#535353"/><rect x="785.8" fill="#595959"/><rect x="790.4" fill="#595959"/><rect x="795.0" fill="#595959"/></g>
<g transform="translate(0 437.1)"><rect x="597.2" fill="#4e4e4e"/><rect x="601.8" fill="#4e4e4e"/><rect x="606.4" fill="#4e4e4e"/><rect x="611.0" fill="#4e4e4e"/><rect x="615.6" fill="#4e4e4e"/><rect x="620.2" fill="#4e4e4e"/><rect x="624.8" fill="#4c4c4c"/><rect x="629.4" fill="#474747"/><rect x="634.0" fill="#3f3f3f"/><rect x="638.6" fill="#3a3a3a"/><rect x="643.2" fill="#3a3a3a"/><rect x="647.8" fill="#3d3d3d"/><rect x="652.4" fill="#414141"/><rect x="657.0" fill="#464646"/><rect x="661.6" fill="#494949"/><rect x="666.2" fill="#484848"/><rect x="670.8" fill="#434343"/><rect x="675.4" fill="#3f3f3f"/><rect x="680.0" fill="#3e3e3e"/><rect x="684.6" fill="#444444"/><rect x="689.2" fill="#4e4e4e"/><rect x="693.8" fill="#555555"/><rect x="698.4" fill="#575757"/><rect x="703.0" fill="#565656"/><rect x="707.6" fill="#555555"/><rect x="712.2" fill="#585858"/><rect x="716.8" fill="#5e5e5e"/><rect x="721.4" fill="#656565"/><rect x="726.0" fill="#6c6c6c"/><rect x="730.6" fill="#707070"/><rect x="735.2" fill="#757575"/><rect x="739.8" fill="#838383"/><rect x="744.4" fill="#989898"/><rect x="749.0" fill="#a7a7a7"/><rect x="753.6" fill="#acacac"/><rect x="758.2" fill="#b2b2b2"/><rect x="762.8" fill="#b2b2b2"/><rect x="767.4" fill="#9b9b9b"/><rect x="772.0" fill="#737373"/><rect x="776.6" fill="#5d5d5d"/><rect x="781.2" fill="#5e5e5e"/><rect x="785.8" fill="#626262"/><rect x="790.4" fill="#626262"/><rect x="795.0" fill="#626262"/></g>
<g transform="translate(0 441.7)"><rect x="597.2" fill="#5f5f5f"/><rect x="601.8" fill="#5f5f5f"/><rect x="606.4" fill="#5f5f5f"/><rect x="611.0" fill="#5f5f5f"/><rect x="615.6" fill="#5e5e5e"/><rect x="620.2" fill="#5f5f5f"/><rect x="624.8" fill="#606060"/><rect x="629.4" fill="#5f5f5f"/><rect x="634.0" fill="#5b5b5b"/><rect x="638.6" fill="#595959"/><rect x="643.2" fill="#5a5a5a"/><rect x="647.8" fill="#5c5c5c"/><rect x="652.4" fill="#5d5d5d"/><rect x="657.0" fill="#5e5e5e"/><rect x="661.6" fill="#5e5e5e"/><rect x="666.2" fill="#5d5d5d"/><rect x="670.8" fill="#595959"/><rect x="675.4" fill="#575757"/><rect x="680.0" fill="#575757"/><rect x="684.6" fill="#5a5a5a"/><rect x="689.2" fill="#606060"/><rect x="693.8" fill="#626262"/><rect x="698.4" fill="#606060"/><rect x="703.0" fill="#5d5d5d"/><rect x="707.6" fill="#5c5c5c"/><rect x="712.2" fill="#616161"/><rect x="716.8" fill="#6d6d6d"/><rect x="721.4" fill="#7f7f7f"/><rect x="726.0" fill="#909090"/><rect x="730.6" fill="#999999"/><rect x="735.2" fill="#9d9d9d"/><rect x="739.8" fill="#a2a2a2"/><rect x="744.4" fill="#ababab"/><rect x="749.0" fill="#b0b0b0"/><rect x="753.6" fill="#b1b1b1"/><rect x="758.2" fill="#b4b4b4"/><rect x="762.8" fill="#b5b5b5"/><rect x="767.4" fill="#a8a8a8"/><rect x="772.0" fill="#8f8f8f"/><rect x="776.6" fill="#7e7e7e"/><rect x="781.2" fill="#7a7a7a"/><rect x="785.8" fill="#7a7a7a"/><rect x="790.4" fill="#7a7a7a"/><rect x="795.0" fill="#7a7a7a"/></g>
<g transform="translate(0 446.3)"><rect x="597.2" fill="#6a6a6a"/><rect x="601.8" fill="#6a6a6a"/><rect x="606.4" fill="#6a6a6a"/><rect x="611.0" fill="#6a6a6a"/><rect x="615.6" fill="#6b6b6b"/><rect x="620.2" fill="#6c6c6c"/><rect x="624.8" fill="#6e6e6e"/><rect x="629.4" fill="#6e6e6e"/><rect x="634.0" fill="#6e6e6e"/><rect x="638.6" fill="#6f6f6f"/><rect x="643.2" fill="#717171"/><rect x="647.8" fill="#727272"/><rect x="652.4" fill="#717171"/><rect x="657.0" fill="#6e6e6e"/><rect x="661.6" fill="#6c6c6c"/><rect x="666.2" fill="#6b6b6b"/><rect x="670.8" fill="#6c6c6c"/><rect x="675.4" fill="#6f6f6f"/><rect x="680.0" fill="#727272"/><rect x="684.6" fill="#767676"/><rect x="689.2" fill="#777777"/><rect x="693.8" fill="#727272"/><rect x="698.4" fill="#676767"/><rect x="703.0" fill="#5f5f5f"/><rect x="707.6" fill="#606060"/><rect x="712.2" fill="#6a6a6a"/><rect x="716.8" fill="#7d7d7d"/><rect x="721.4" fill="#949494"/><rect x="726.0" fill="#a8a8a8"/><rect x="730.6" fill="#b4b4b4"/><rect x="735.2" fill="#b6b6b6"/><rect x="739.8" fill="#b6b6b6"/><rect x="744.4" fill="#b5b5b5"/><rect x="749.0" fill="#b4b4b4"/><rect x="753.6" fill="#b3b3b3"/><rect x="758.2" fill="#b4b4b4"/><rect x="762.8" fill="#b5b5b5"/><rect x="767.4" fill="#b0b0b0"/><rect x="772.0" fill="#a5a5a5"/><rect x="776.6" fill="#9b9b9b"/><rect x="781.2" fill="#949494"/><rect x="785.8" fill="#929292"/><rect x="790.4" fill="#929292"/><rect x="795.0" fill="#929292"/></g>
<g transform="translate(0 450.9)"><rect x="597.2" fill="#6f6f6f"/><rect x="601.8" fill="#6f6f6f"/><rect x="606.4" fill="#6f6f6f"/><rect x="611.0" fill="#707070"/><rect x="615.6" fill="#727272"/><rect x="620.2" fill="#747474"/><rect x="624.8" fill="#767676"/><rect x="629.4" fill="#767676"/><rect x="634.0" fill="#767676"/><rect x="638.6" fill="#787878"/><rect x="643.2" fill="#7c7c7c"/><rect x="647.8" fill="#7c7c7c"/><rect x="652.4" fill="#787878"/><rect x="657.0" fill="#737373"/><rect x="661.6" fill="#707070"/><rect x="666.2" fill="#727272"/><rect x="670.8" fill="#7a7a7a"/><rect x="675.4" fill="#838383"/><rect x="680.0" fill="#8b8b8b"/><rect x="684.6" fill="#919191"/><rect x="689.2" fill="#8f8f8f"/><rect x="693.8" fill="#838383"/><rect x="698.4" fill="#6f6f6f"/><rect x="703.0" fill="#626262"/><rect x="707.6" fill="#626262"/><rect x="712.2" fill="#717171"/><rect x="716.8" fill="#898989"/><rect x="721.4" fill="#9f9f9f"/><rect x="726.0" fill="#aeaeae"/><rect x="730.6" fill="#b7b7b7"/><rect x="735.2" fill="#bbbbbb"/><rect x="739.8" fill="#bababa"/><rect x="744.4" fill="#b6b6b6"/><rect x="749.0" fill="#b3b3b3"/><rect x="753.6" fill="#b3b3b3"/><rect x="758.2" fill="#b4b4b4"/><rect x="762.8" fill="#b4b4b4"/><rect x="767.4" fill="#b2b2b2"/><rect x="772.0" fill="#aeaeae"/><rect x="776.6" fill="#a9a9a9"/><rect x="781.2" fill="#a4a4a4"/><rect x="785.8" fill="#a1a1a1"/><rect x="790.4" fill="#a1a1a1"/><rect x="795.0" fill="#a1a1a1"/></g>
<g transform="translate(0 455.5)"><rect x="597.2" fill="#787878"/><rect x="601.8" fill="#787878"/><rect x="606.4" fill="#787878"/><rect x="611.0" fill="#7a7a7a"/><rect x="615.6" fill="#7d7d7d"/><rect x="620.2" fill="#808080"/><rect x="624.8" fill="#818181"/><rect x="629.4" fill="#808080"/><rect x="634.0" fill="#7f7f7f"/><rect x="638.6" fill="#808080"/><rect x="643.2" fill="#838383"/><rect x="647.8" fill="#828282"/><rect x="652.4" fill="#7e7e7e"/><rect x="657.0" fill="#787878"/><rect x="661.6" fill="#767676"/><rect x="666.2" fill="#7c7c7c"/><rect x="670.8" fill="#898989"/><rect x="675.4" fill="#969696"/><rect x="680.0" fill="#9e9e9e"/><rect x="684.6" fill="#a3a3a3"/><rect x="689.2" fill="#a1a1a1"/><rect x="693.8" fill="#929292"/><rect x="698.4" fill="#7c7c7c"/><rect x="703.0" fill="#6b6b6b"/><rect x="707.6" fill="#6a6a6a"/><rect x="712.2" fill="#787878"/><rect x="716.8" fill="#909090"/><rect x="721.4" fill="#a3a3a3"/><rect x="726.0" fill="#aeaeae"/><rect x="730.6" fill="#b5b5b5"/><rect x="735.2" fill="#b9b9b9"/><rect x="739.8" fill="#b8b8b8"/><rect x="744.4" fill="#b3b3b3"/><rect x="749.0" fill="#b0b0b0"/><rect x="753.6" fill="#b1b1b1"/><rect x="758.2" fill="#b2b2b2"/><rect x="762.8" fill="#b2b2b2"/><rect x="767.4" fill="#b0b0b0"/><rect x="772.0" fill="#aeaeae"/><rect x="776.6" fill="#ababab"/><rect x="781.2" fill="#a8a8a8"/><rect x="785.8" fill="#a6a6a6"/><rect x="790.4" fill="#a6a6a6"/><rect x="795.0" fill="#a6a6a6"/></g>
<g transform="translate(0 460.1)"><rect x="597.2" fill="#868686"/><rect x="601.8" fill="#868686"/><rect x="606.4" fill="#868686"/><rect x="611.0" fill="#888888"/><rect x="615.6" fill="#8d8d8d"/><rect x="620.2" fill="#909090"/><rect x="624.8" fill="#909090"/><rect x="629.4" fill="#8d8d8d"/><rect x="634.0" fill="#8a8a8a"/><rect x="638.6" fill="#898989"/><rect x="643.2" fill="#8a8a8a"/><rect x="647.8" fill="#898989"/><rect x="652.4" fill="#848484"/><rect x="657.0" fill="#808080"/><rect x="661.6" fill="#808080"/><rect x="666.2" fill="#898989"/><rect x="670.8" fill="#999999"/><rect x="675.4" fill="#a6a6a6"/><rect x="680.0" fill="#aaaaaa"/><rect x="684.6" fill="#ababab"/><rect x="689.2" fill="#a8a8a8"/><rect x="693.8" fill="#9c9c9c"/><rect x="698.4" fill="#8a8a8a"/><rect x="703.0" fill="#7b7b7b"/><rect x="707.6" fill="#757575"/><rect x="712.2" fill="#7e7e7e"/><rect x="716.8" fill="#909090"/><rect x="721.4" fill="#a2a2a2"/><rect x="726.0" fill="#aeaeae"/><rect x="730.6" fill="#b5b5b5"/><rect x="735.2" fill="#b8b8b8"/><rect x="739.8" fill="#b6b6b6"/><rect x="744.4" fill="#b0b0b0"/><rect x="749.0" fill="#adadad"/><rect x="753.6" fill="#aeaeae"/><rect x="758.2" fill="#afafaf"/><rect x="762.8" fill="#afafaf"/><rect x="767.4" fill="#adadad"/><rect x="772.0" fill="#aaaaaa"/><rect x="776.6" fill="#a6a6a6"/><rect x="781.2" fill="#a3a3a3"/><rect x="785.8" fill="#a2a2a2"/><rect x="790.4" fill="#a2a2a2"/><rect x="795.0" fill="#a2a2a2"/></g>
<g transform="translate(0 464.7)"><rect x="597.2" fill="#8e8e8e"/><rect x="601.8" fill="#8e8e8e"/><rect x="606.4" fill="#8e8e8e"/><rect x="611.0" fill="#909090"/><rect x="615.6" fill="#949494"/><rect x="620.2" fill="#989898"/><rect x="624.8" fill="#979797"/><rect x="629.4" fill="#949494"/><rect x="634.0" fill="#8f8f8f"/><rect x="638.6" fill="#8d8d8d"/><rect x="643.2" fill="#8e8e8e"/><rect x="647.8" fill="#8c8c8c"/><rect x="652.4" fill="#888888"/><rect x="657.0" fill="#848484"/><rect x="661.6" fill="#858585"/><rect x="666.2" fill="#909090"/><rect x="670.8" fill="#a1a1a1"/><rect x="675.4" fill="#acacac"/><rect x="680.0" fill="#afafaf"/><rect x="684.6" fill="#aeaeae"/><rect x="689.2" fill="#aaaaaa"/><rect x="693.8" fill="#a1a1a1"/><rect x="698.4" fill="#919191"/><rect x="703.0" fill="#838383"/><rect x="707.6" fill="#7b7b7b"/><rect x="712.2" fill="#808080"/><rect x="716.8" fill="#909090"/><rect x="721.4" fill="#a1a1a1"/><rect x="726.0" fill="#aeaeae"/><rect x="730.6" fill="#b6b6b6"/><rect x="735.2" fill="#b8b8b8"/><rect x="739.8" fill="#b5b5b5"/><rect x="744.4" fill="#afafaf"/><rect x="749.0" fill="#acacac"/><rect x="753.6" fill="#acacac"/><rect x="758.2" fill="#aeaeae"/><rect x="762.8" fill="#aeaeae"/><rect x="767.4" fill="#ababab"/><rect x="772.0" fill="#a7a7a7"/><rect x="776.6" fill="#a3a3a3"/><rect x="781.2" fill="#a0a0a0"/><rect x="785.8" fill="#9f9f9f"/><rect x="790.4" fill="#9f9f9f"/><rect x="795.0" fill="#9f9f9f"/></g>
<g transform="translate(0 469.3)"><rect x="597.2" fill="#8e8e8e"/><rect x="601.8" fill="#8e8e8e"/><rect x="606.4" fill="#8e8e8e"/><rect x="611.0" fill="#909090"/><rect x="615.6" fill="#949494"/><rect x="620.2" fill="#989898"/><rect x="624.8" fill="#979797"/><rect x="629.4" fill="#949494"/><rect x="634.0" fill="#8f8f8f"/><rect x="638.6" fill="#8d8d8d"/><rect x="643.2" fill="#8e8e8e"/><rect x="647.8" fill="#8c8c8c"/><rect x="652.4" fill="#888888"/><rect x="657.0" fill="#848484"/><rect x="661.6" fill="#858585"/><rect x="666.2" fill="#909090"/><rect x="670.8" fill="#a1a1a1"/><rect x="675.4" fill="#acacac"/><rect x="680.0" fill="#afafaf"/><rect x="684.6" fill="#aeaeae"/><rect x="689.2" fill="#aaaaaa"/><rect x="693.8" fill="#a1a1a1"/><rect x="698.4" fill="#919191"/><rect x="703.0" fill="#838383"/><rect x="707.6" fill="#7b7b7b"/><rect x="712.2" fill="#808080"/><rect x="716.8" fill="#909090"/><rect x="721.4" fill="#a1a1a1"/><rect x="726.0" fill="#aeaeae"/><rect x="730.6" fill="#b6b6b6"/><rect x="735.2" fill="#b8b8b8"/><rect x="739.8" fill="#b5b5b5"/><rect x="744.4" fill="#afafaf"/><rect x="749.0" fill="#acacac"/><rect x="753.6" fill="#acacac"/><rect x="758.2" fill="#aeaeae"/><rect x="762.8" fill="#aeaeae"/><rect x="767.4" fill="#ababab"/><rect x="772.0" fill="#a7a7a7"/><rect x="776.6" fill="#a3a3a3"/><rect x="781.2" fill="#a0a0a0"/><rect x="785.8" fill="#9f9f9f"/><rect x="790.4" fill="#9f9f9f"/><rect x="795.0" fill="#9f9f9f"/></g>
<g transform="translate(0 473.9)"><rect x="597.2" fill="#8e8e8e"/><rect x="601.8" fill="#8e8e8e"/><rect x="606.4" fill="#8e8e8e"/><rect x="611.0" fill="#909090"/><rect x="615.6" fill="#949494"/><rect x="620.2" fill="#989898"/><rect x="624.8" fill="#979797"/><rect x="629.4" fill="#949494"/><rect x="634.0" fill="#8f8f8f"/><rect x="638.6" fill="#8d8d8d"/><rect x="643.2" fill="#8e8e8e"/><rect x="647.8" fill="#8c8c8c"/><rect x="652.4" fill="#888888"/><rect x="657.0" fill="#848484"/><rect x="661.6" fill="#858585"/><rect x="666.2" fill="#909090"/><rect x="670.8" fill="#a1a1a1"/><rect x="675.4" fill="#acacac"/><rect x="680.0" fill="#afafaf"/><rect x="684.6" fill="#aeaeae"/><rect x="689.2" fill="#aaaaaa"/><rect x="693.8" fill="#a1a1a1"/><rect x="698.4" fill="#919191"/><rect x="703.0" fill="#838383"/><rect x="707.6" fill="#7b7b7b"/><rect x="712.2" fill="#808080"/><rect x="716.8" fill="#909090"/><rect x="721.4" fill="#a1a1a1"/><rect x="726.0" fill="#aeaeae"/><rect x="730.6" fill="#b6b6b6"/><rect x="735.2" fill="#b8b8b8"/><rect x="739.8" fill="#b5b5b5"/><rect x="744.4" fill="#afafaf"/><rect x="749.0" fill="#acacac"/><rect x="753.6" fill="#acacac"/><rect x="758.2" fill="#aeaeae"/><rect x="762.8" fill="#aeaeae"/><rect x="767.4" fill="#ababab"/><rect x="772.0" fill="#a7a7a7"/><rect x="776.6" fill="#a3a3a3"/><rect x="781.2" fill="#a0a0a0"/><rect x="785.8" fill="#9f9f9f"/><rect x="790.4" fill="#9f9f9f"/><rect x="795.0" fill="#9f9f9f"/></g>
</g></g>
<path d="M606.4 331.3V469.3H790.4M606.4 469.3v4M606.4 469.3h-5M643.2 469.3v4M606.4 441.7h-5M680.0 469.3v4M606.4 414.1h-5M716.8 469.3v4M606.4 386.5h-5M753.6 469.3v4M606.4 358.9h-5M790.4 469.3v4M606.4 331.3h-5" stroke="#555" stroke-width="0.8" fill="none"/>
<text x="606.4" y="485.6" font-size="14.8" text-anchor="middle">0.0</text><text x="643.2" y="485.6" font-size="14.8" text-anchor="middle">0.2</text><text x="680.0" y="485.6" font-size="14.8" text-anchor="middle">0.4</text><text x="716.8" y="485.6" font-size="14.8" text-anchor="middle">0.6</text><text x="753.6" y="485.6" font-size="14.8" text-anchor="middle">0.8</text><text x="790.4" y="485.6" font-size="14.8" text-anchor="middle">1.0</text><text transform="translate(594.2 469.3) rotate(-90)" font-size="14.8" text-anchor="middle">0.0</text><text transform="translate(594.2 414.1) rotate(-90)" font-size="14.8" text-anchor="middle">0.4</text><text transform="translate(594.2 358.9) rotate(-90)" font-size="14.8" text-anchor="middle">0.8</text><text x="698.4" y="505.3" font-size="14.8" text-anchor="middle">x</text><text transform="translate(577.4 400.3) rotate(-90)" font-size="14.8" text-anchor="middle">y</text>
<rect x="615.2" y="522.0" width="166.0" height="11.5" fill="url(#cb)"/><path d="M615.2 533.5h166.0" stroke="#999" stroke-width="0.5"/><path d="M615.2 522.0h166.0" stroke="#888" stroke-width="0.8"/><text x="624.4" y="549.7" font-size="14.8" text-anchor="middle">−4</text><text x="661.3" y="549.7" font-size="14.8" text-anchor="middle">−2</text><text x="698.2" y="549.7" font-size="14.8" text-anchor="middle">0</text><text x="735.1" y="549.7" font-size="14.8" text-anchor="middle">2</text><text x="772.0" y="549.7" font-size="14.8" text-anchor="middle">4</text><path d="M624.4 533.5v3.5M661.3 533.5v3.5M698.2 533.5v3.5M735.1 533.5v3.5M772.0 533.5v3.5" stroke="#444" stroke-width="0.7" fill="none"/>
<text class="cap" x="652.8" y="590.4" font-size="19" textLength="19.2" lengthAdjust="spacingAndGlyphs">(f)</text><text class="cap" x="684.4" y="590.4" font-size="19" textLength="14.6" lengthAdjust="spacingAndGlyphs" font-style="italic" stroke-width="0" fill="#444">K</text><text class="cap" x="706.4" y="590.4" font-size="19" textLength="12.8" lengthAdjust="spacingAndGlyphs">=</text><text class="cap" x="726.4" y="590.4" font-size="19" textLength="18.2" lengthAdjust="spacingAndGlyphs">10</text>
</g>
</svg>
</body></html>
